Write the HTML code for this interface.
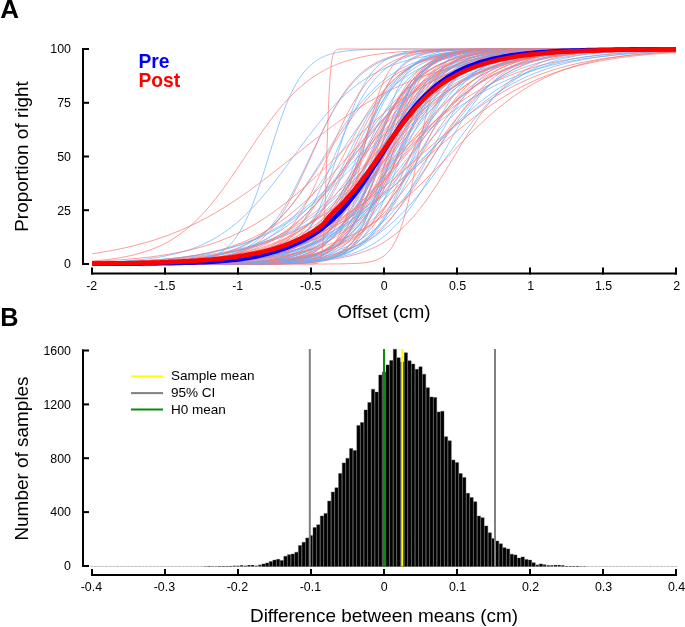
<!DOCTYPE html>
<html><head><meta charset="utf-8"><title>Figure</title>
<style>html,body{margin:0;padding:0;background:#fff;}body{width:685px;height:627px;overflow:hidden;position:relative;}</style>
</head><body>
<svg width="685" height="627" viewBox="0 0 685 627" style="position:absolute;left:0;top:0">
<rect width="685" height="627" fill="#fff"/>
<g fill="none" stroke-width="0.7" stroke-linejoin="round">
<path stroke="#6ab2fa" d="M92.0,264.0 L96.0,264.0 L100.0,264.0 L104.0,264.0 L108.0,264.0 L112.0,264.0 L116.0,264.0 L120.0,264.0 L124.0,264.0 L128.0,264.0 L132.0,263.9 L136.0,263.9 L140.0,263.9 L144.0,263.9 L148.0,263.8 L152.0,263.8 L156.0,263.8 L160.0,263.7 L164.0,263.6 L168.0,263.5 L172.0,263.4 L176.0,263.2 L180.0,263.0 L184.0,262.7 L188.0,262.3 L192.0,261.9 L196.0,261.3 L200.0,260.6 L204.0,259.7 L208.0,258.5 L212.0,257.1 L216.0,255.3 L220.0,253.0 L224.0,250.2 L228.0,246.8 L232.0,242.6 L236.0,237.5 L240.0,231.4 L244.0,224.2 L248.0,215.8 L252.0,206.2 L256.0,195.5 L260.0,183.9 L264.0,171.5 L268.0,158.6 L272.0,145.7 L276.0,133.2 L280.0,121.2 L284.0,110.2 L288.0,100.2 L292.0,91.5 L296.0,83.9 L300.0,77.4 L304.0,72.0 L308.0,67.5 L312.0,63.8 L316.0,60.8 L316.8,60.3 L317.4,59.9 L318.0,59.6 L318.5,59.2 L319.1,58.9 L319.6,58.6 L320.0,58.4 L320.2,58.3 L320.8,58.0 L321.3,57.7 L321.9,57.4 L322.5,57.2 L323.0,56.9 L323.6,56.7 L324.0,56.5 L324.1,56.4 L324.7,56.2 L325.3,55.9 L325.8,55.7 L326.4,55.5 L326.9,55.3 L327.5,55.1 L328.0,54.9 L328.1,54.9 L328.6,54.7 L329.2,54.5 L329.8,54.3 L330.3,54.2 L330.9,54.0 L331.4,53.8 L332.0,53.7 L332.0,53.7 L332.6,53.5 L333.1,53.4 L333.7,53.2 L334.2,53.1 L334.8,53.0 L335.4,52.8 L335.9,52.7 L336.0,52.7 L336.5,52.6 L337.1,52.5 L337.6,52.4 L338.2,52.2 L338.7,52.1 L340.0,51.9 L344.0,51.3 L348.0,50.8 L352.0,50.4 L356.0,50.1 L360.0,49.9 L364.0,49.7 L368.0,49.5 L372.0,49.4 L376.0,49.3 L380.0,49.3 L384.0,49.2 L388.0,49.2 L392.0,49.1 L396.0,49.1 L400.0,49.1 L404.0,49.1 L408.0,49.0 L412.0,49.0 L416.0,49.0 L420.0,49.0 L424.0,49.0 L428.0,49.0 L432.0,49.0 L436.0,49.0 L440.0,49.0 L444.0,49.0 L448.0,49.0 L452.0,49.0 L456.0,49.0 L460.0,49.0 L464.0,49.0 L468.0,49.0 L472.0,49.0 L476.0,49.0 L480.0,49.0 L484.0,49.0 L488.0,49.0 L492.0,49.0 L496.0,49.0 L500.0,49.0 L504.0,49.0 L508.0,49.0 L512.0,49.0 L516.0,49.0 L520.0,49.0 L524.0,49.0 L528.0,49.0 L532.0,49.0 L536.0,49.0 L540.0,49.0 L544.0,49.0 L548.0,49.0 L552.0,49.0 L556.0,49.0 L560.0,49.0 L564.0,49.0 L568.0,49.0 L572.0,49.0 L576.0,49.0 L580.0,49.0 L584.0,49.0 L588.0,49.0 L592.0,49.0 L596.0,49.0 L600.0,49.0 L604.0,49.0 L608.0,49.0 L612.0,49.0 L616.0,49.0 L620.0,49.0 L624.0,49.0 L628.0,49.0 L632.0,49.0 L636.0,49.0 L640.0,49.0 L644.0,49.0 L648.0,49.0 L652.0,49.0 L656.0,49.0 L660.0,49.0 L664.0,49.0 L668.0,49.0 L672.0,49.0 L676.0,49.0"/>
<path stroke="#fa7676" d="M92.0,253.8 L96.0,253.2 L100.0,252.6 L104.0,251.9 L108.0,251.2 L112.0,250.5 L116.0,249.7 L120.0,248.9 L124.0,248.0 L128.0,247.1 L132.0,246.2 L136.0,245.2 L140.0,244.1 L144.0,243.0 L148.0,241.9 L152.0,240.7 L156.0,239.4 L160.0,238.1 L164.0,236.7 L168.0,235.2 L172.0,233.7 L176.0,232.1 L180.0,230.5 L184.0,228.8 L188.0,227.0 L192.0,225.1 L196.0,223.2 L200.0,221.2 L204.0,219.1 L208.0,217.0 L212.0,214.7 L216.0,212.4 L220.0,210.1 L224.0,207.6 L228.0,205.1 L232.0,202.5 L236.0,199.9 L240.0,197.2 L244.0,194.4 L248.0,191.6 L252.0,188.7 L256.0,185.7 L260.0,182.8 L264.0,179.7 L268.0,176.7 L272.0,173.5 L276.0,170.4 L280.0,167.3 L284.0,164.1 L288.0,160.9 L292.0,157.7 L296.0,154.5 L300.0,151.3 L304.0,148.1 L308.0,144.9 L312.0,141.8 L316.0,138.6 L316.8,138.0 L317.4,137.6 L318.0,137.1 L318.5,136.7 L319.1,136.3 L319.6,135.8 L320.0,135.5 L320.2,135.4 L320.8,135.0 L321.3,134.5 L321.9,134.1 L322.5,133.7 L323.0,133.2 L323.6,132.8 L324.0,132.5 L324.1,132.4 L324.7,132.0 L325.3,131.5 L325.8,131.1 L326.4,130.7 L326.9,130.3 L327.5,129.8 L328.0,129.5 L328.1,129.4 L328.6,129.0 L329.2,128.6 L329.8,128.2 L330.3,127.7 L330.9,127.3 L331.4,126.9 L332.0,126.5 L332.0,126.5 L332.6,126.1 L333.1,125.7 L333.7,125.2 L334.2,124.8 L334.8,124.4 L335.4,124.0 L335.9,123.6 L336.0,123.6 L336.5,123.2 L337.1,122.8 L337.6,122.4 L338.2,122.0 L338.7,121.6 L340.0,120.7 L344.0,117.9 L348.0,115.1 L352.0,112.4 L356.0,109.8 L360.0,107.2 L364.0,104.7 L368.0,102.3 L372.0,100.0 L376.0,97.7 L380.0,95.5 L384.0,93.3 L388.0,91.3 L392.0,89.3 L396.0,87.4 L400.0,85.5 L404.0,83.8 L408.0,82.1 L412.0,80.4 L416.0,78.9 L420.0,77.4 L424.0,75.9 L428.0,74.6 L432.0,73.3 L436.0,72.0 L440.0,70.8 L444.0,69.7 L448.0,68.6 L452.0,67.5 L456.0,66.6 L460.0,65.6 L464.0,64.7 L468.0,63.9 L472.0,63.1 L476.0,62.3 L480.0,61.6 L484.0,60.9 L488.0,60.3 L492.0,59.6 L496.0,59.0 L500.0,58.5 L504.0,58.0 L508.0,57.5 L512.0,57.0 L516.0,56.6 L520.0,56.1 L524.0,55.7 L528.0,55.4 L532.0,55.0 L536.0,54.7 L540.0,54.3 L544.0,54.0 L548.0,53.8 L552.0,53.5 L556.0,53.2 L560.0,53.0 L564.0,52.8 L568.0,52.5 L572.0,52.3 L576.0,52.2 L580.0,52.0 L584.0,51.8 L588.0,51.6 L592.0,51.5 L596.0,51.4 L600.0,51.2 L604.0,51.1 L608.0,51.0 L612.0,50.9 L616.0,50.8 L620.0,50.7 L624.0,50.6 L628.0,50.5 L632.0,50.4 L636.0,50.3 L640.0,50.2 L644.0,50.2 L648.0,50.1 L652.0,50.0 L656.0,50.0 L660.0,49.9 L664.0,49.9 L668.0,49.8 L672.0,49.8 L676.0,49.7"/>
<path stroke="#6ab2fa" d="M92.0,262.7 L96.0,262.6 L100.0,262.4 L104.0,262.3 L108.0,262.1 L112.0,261.9 L116.0,261.6 L120.0,261.4 L124.0,261.1 L128.0,260.8 L132.0,260.5 L136.0,260.1 L140.0,259.7 L144.0,259.3 L148.0,258.8 L152.0,258.2 L156.0,257.6 L160.0,257.0 L164.0,256.2 L168.0,255.4 L172.0,254.6 L176.0,253.6 L180.0,252.6 L184.0,251.4 L188.0,250.2 L192.0,248.8 L196.0,247.3 L200.0,245.6 L204.0,243.9 L208.0,241.9 L212.0,239.8 L216.0,237.6 L220.0,235.1 L224.0,232.5 L228.0,229.7 L232.0,226.7 L236.0,223.4 L240.0,220.0 L244.0,216.3 L248.0,212.4 L252.0,208.4 L256.0,204.1 L260.0,199.6 L264.0,194.9 L268.0,190.1 L272.0,185.1 L276.0,180.0 L280.0,174.7 L284.0,169.4 L288.0,164.0 L292.0,158.5 L296.0,153.1 L300.0,147.6 L304.0,142.2 L308.0,136.9 L312.0,131.7 L316.0,126.6 L316.8,125.5 L317.4,124.8 L318.0,124.2 L318.5,123.5 L319.1,122.8 L319.6,122.1 L320.0,121.6 L320.2,121.4 L320.8,120.7 L321.3,120.0 L321.9,119.4 L322.5,118.7 L323.0,118.0 L323.6,117.3 L324.0,116.8 L324.1,116.7 L324.7,116.0 L325.3,115.4 L325.8,114.7 L326.4,114.1 L326.9,113.4 L327.5,112.8 L328.0,112.2 L328.1,112.1 L328.6,111.5 L329.2,110.9 L329.8,110.3 L330.3,109.6 L330.9,109.0 L331.4,108.4 L332.0,107.8 L332.0,107.8 L332.6,107.2 L333.1,106.6 L333.7,106.0 L334.2,105.4 L334.8,104.8 L335.4,104.2 L335.9,103.6 L336.0,103.6 L336.5,103.1 L337.1,102.5 L337.6,101.9 L338.2,101.3 L338.7,100.8 L340.0,99.5 L344.0,95.7 L348.0,92.1 L352.0,88.7 L356.0,85.5 L360.0,82.6 L364.0,79.8 L368.0,77.2 L372.0,74.8 L376.0,72.6 L380.0,70.5 L384.0,68.7 L388.0,66.9 L392.0,65.3 L396.0,63.9 L400.0,62.5 L404.0,61.3 L408.0,60.2 L412.0,59.1 L416.0,58.2 L420.0,57.3 L424.0,56.6 L428.0,55.9 L432.0,55.2 L436.0,54.6 L440.0,54.1 L444.0,53.6 L448.0,53.2 L452.0,52.8 L456.0,52.4 L460.0,52.1 L464.0,51.8 L468.0,51.5 L472.0,51.3 L476.0,51.1 L480.0,50.9 L484.0,50.7 L488.0,50.5 L492.0,50.4 L496.0,50.3 L500.0,50.1 L504.0,50.0 L508.0,49.9 L512.0,49.8 L516.0,49.8 L520.0,49.7 L524.0,49.6 L528.0,49.6 L532.0,49.5 L536.0,49.5 L540.0,49.4 L544.0,49.4 L548.0,49.3 L552.0,49.3 L556.0,49.3 L560.0,49.2 L564.0,49.2 L568.0,49.2 L572.0,49.2 L576.0,49.2 L580.0,49.1 L584.0,49.1 L588.0,49.1 L592.0,49.1 L596.0,49.1 L600.0,49.1 L604.0,49.1 L608.0,49.1 L612.0,49.1 L616.0,49.1 L620.0,49.1 L624.0,49.0 L628.0,49.0 L632.0,49.0 L636.0,49.0 L640.0,49.0 L644.0,49.0 L648.0,49.0 L652.0,49.0 L656.0,49.0 L660.0,49.0 L664.0,49.0 L668.0,49.0 L672.0,49.0 L676.0,49.0"/>
<path stroke="#fa7676" d="M92.0,261.1 L96.0,260.7 L100.0,260.4 L104.0,259.9 L108.0,259.5 L112.0,258.9 L116.0,258.4 L120.0,257.7 L124.0,257.0 L128.0,256.2 L132.0,255.3 L136.0,254.3 L140.0,253.2 L144.0,252.0 L148.0,250.7 L152.0,249.3 L156.0,247.6 L160.0,245.9 L164.0,243.9 L168.0,241.8 L172.0,239.5 L176.0,236.9 L180.0,234.2 L184.0,231.2 L188.0,227.9 L192.0,224.5 L196.0,220.7 L200.0,216.7 L204.0,212.5 L208.0,208.0 L212.0,203.2 L216.0,198.2 L220.0,193.0 L224.0,187.6 L228.0,182.0 L232.0,176.3 L236.0,170.4 L240.0,164.4 L244.0,158.5 L248.0,152.4 L252.0,146.5 L256.0,140.5 L260.0,134.7 L264.0,129.0 L268.0,123.5 L272.0,118.1 L276.0,113.0 L280.0,108.1 L284.0,103.4 L288.0,99.0 L292.0,94.8 L296.0,90.9 L300.0,87.3 L304.0,83.9 L308.0,80.8 L312.0,77.8 L316.0,75.2 L316.8,74.6 L317.4,74.3 L318.0,73.9 L318.5,73.6 L319.1,73.2 L319.6,72.9 L320.0,72.7 L320.2,72.6 L320.8,72.2 L321.3,71.9 L321.9,71.6 L322.5,71.3 L323.0,71.0 L323.6,70.7 L324.0,70.4 L324.1,70.4 L324.7,70.1 L325.3,69.8 L325.8,69.5 L326.4,69.2 L326.9,68.9 L327.5,68.6 L328.0,68.4 L328.1,68.3 L328.6,68.1 L329.2,67.8 L329.8,67.5 L330.3,67.3 L330.9,67.0 L331.4,66.7 L332.0,66.5 L332.0,66.5 L332.6,66.2 L333.1,66.0 L333.7,65.8 L334.2,65.5 L334.8,65.3 L335.4,65.0 L335.9,64.8 L336.0,64.8 L336.5,64.6 L337.1,64.4 L337.6,64.1 L338.2,63.9 L338.7,63.7 L340.0,63.2 L344.0,61.8 L348.0,60.5 L352.0,59.4 L356.0,58.3 L360.0,57.4 L364.0,56.5 L368.0,55.7 L372.0,55.0 L376.0,54.4 L380.0,53.9 L384.0,53.4 L388.0,52.9 L392.0,52.5 L396.0,52.1 L400.0,51.8 L404.0,51.5 L408.0,51.3 L412.0,51.0 L416.0,50.8 L420.0,50.6 L424.0,50.4 L428.0,50.3 L432.0,50.2 L436.0,50.0 L440.0,49.9 L444.0,49.8 L448.0,49.7 L452.0,49.7 L456.0,49.6 L460.0,49.5 L464.0,49.5 L468.0,49.4 L472.0,49.4 L476.0,49.3 L480.0,49.3 L484.0,49.3 L488.0,49.2 L492.0,49.2 L496.0,49.2 L500.0,49.2 L504.0,49.2 L508.0,49.1 L512.0,49.1 L516.0,49.1 L520.0,49.1 L524.0,49.1 L528.0,49.1 L532.0,49.1 L536.0,49.1 L540.0,49.1 L544.0,49.1 L548.0,49.0 L552.0,49.0 L556.0,49.0 L560.0,49.0 L564.0,49.0 L568.0,49.0 L572.0,49.0 L576.0,49.0 L580.0,49.0 L584.0,49.0 L588.0,49.0 L592.0,49.0 L596.0,49.0 L600.0,49.0 L604.0,49.0 L608.0,49.0 L612.0,49.0 L616.0,49.0 L620.0,49.0 L624.0,49.0 L628.0,49.0 L632.0,49.0 L636.0,49.0 L640.0,49.0 L644.0,49.0 L648.0,49.0 L652.0,49.0 L656.0,49.0 L660.0,49.0 L664.0,49.0 L668.0,49.0 L672.0,49.0 L676.0,49.0"/>
<path stroke="#6ab2fa" d="M92.0,264.0 L96.0,264.0 L100.0,263.9 L104.0,263.9 L108.0,263.9 L112.0,263.9 L116.0,263.9 L120.0,263.9 L124.0,263.9 L128.0,263.8 L132.0,263.8 L136.0,263.8 L140.0,263.7 L144.0,263.7 L148.0,263.6 L152.0,263.6 L156.0,263.5 L160.0,263.4 L164.0,263.3 L168.0,263.2 L172.0,263.1 L176.0,262.9 L180.0,262.7 L184.0,262.5 L188.0,262.3 L192.0,262.0 L196.0,261.6 L200.0,261.2 L204.0,260.8 L208.0,260.2 L212.0,259.6 L216.0,258.9 L220.0,258.0 L224.0,257.0 L228.0,255.9 L232.0,254.6 L236.0,253.0 L240.0,251.3 L244.0,249.3 L248.0,246.9 L252.0,244.3 L256.0,241.3 L260.0,237.9 L264.0,234.1 L268.0,229.8 L272.0,225.0 L276.0,219.7 L280.0,213.9 L284.0,207.6 L288.0,200.8 L292.0,193.6 L296.0,185.9 L300.0,177.9 L304.0,169.7 L308.0,161.3 L312.0,152.8 L316.0,144.4 L316.8,142.7 L317.4,141.5 L318.0,140.3 L318.5,139.2 L319.1,138.0 L319.6,136.9 L320.0,136.2 L320.2,135.7 L320.8,134.6 L321.3,133.5 L321.9,132.3 L322.5,131.2 L323.0,130.1 L323.6,129.0 L324.0,128.1 L324.1,127.9 L324.7,126.8 L325.3,125.7 L325.8,124.6 L326.4,123.5 L326.9,122.4 L327.5,121.4 L328.0,120.4 L328.1,120.3 L328.6,119.3 L329.2,118.2 L329.8,117.2 L330.3,116.2 L330.9,115.1 L331.4,114.1 L332.0,113.1 L332.0,113.1 L332.6,112.1 L333.1,111.2 L333.7,110.2 L334.2,109.2 L334.8,108.3 L335.4,107.3 L335.9,106.4 L336.0,106.3 L336.5,105.5 L337.1,104.6 L337.6,103.6 L338.2,102.8 L338.7,101.9 L340.0,99.9 L344.0,94.0 L348.0,88.7 L352.0,83.9 L356.0,79.5 L360.0,75.6 L364.0,72.1 L368.0,69.1 L372.0,66.4 L376.0,64.0 L380.0,62.0 L384.0,60.2 L388.0,58.6 L392.0,57.3 L396.0,56.1 L400.0,55.1 L404.0,54.2 L408.0,53.5 L412.0,52.9 L416.0,52.3 L420.0,51.8 L424.0,51.4 L428.0,51.1 L432.0,50.8 L436.0,50.5 L440.0,50.3 L444.0,50.1 L448.0,49.9 L452.0,49.8 L456.0,49.7 L460.0,49.6 L464.0,49.5 L468.0,49.4 L472.0,49.4 L476.0,49.3 L480.0,49.3 L484.0,49.2 L488.0,49.2 L492.0,49.2 L496.0,49.1 L500.0,49.1 L504.0,49.1 L508.0,49.1 L512.0,49.1 L516.0,49.1 L520.0,49.1 L524.0,49.0 L528.0,49.0 L532.0,49.0 L536.0,49.0 L540.0,49.0 L544.0,49.0 L548.0,49.0 L552.0,49.0 L556.0,49.0 L560.0,49.0 L564.0,49.0 L568.0,49.0 L572.0,49.0 L576.0,49.0 L580.0,49.0 L584.0,49.0 L588.0,49.0 L592.0,49.0 L596.0,49.0 L600.0,49.0 L604.0,49.0 L608.0,49.0 L612.0,49.0 L616.0,49.0 L620.0,49.0 L624.0,49.0 L628.0,49.0 L632.0,49.0 L636.0,49.0 L640.0,49.0 L644.0,49.0 L648.0,49.0 L652.0,49.0 L656.0,49.0 L660.0,49.0 L664.0,49.0 L668.0,49.0 L672.0,49.0 L676.0,49.0"/>
<path stroke="#fa7676" d="M92.0,264.0 L96.0,264.0 L100.0,264.0 L104.0,264.0 L108.0,264.0 L112.0,263.9 L116.0,263.9 L120.0,263.9 L124.0,263.9 L128.0,263.9 L132.0,263.9 L136.0,263.8 L140.0,263.8 L144.0,263.8 L148.0,263.7 L152.0,263.7 L156.0,263.6 L160.0,263.6 L164.0,263.5 L168.0,263.4 L172.0,263.3 L176.0,263.2 L180.0,263.0 L184.0,262.9 L188.0,262.7 L192.0,262.4 L196.0,262.1 L200.0,261.8 L204.0,261.4 L208.0,261.0 L212.0,260.4 L216.0,259.8 L220.0,259.1 L224.0,258.2 L228.0,257.2 L232.0,256.0 L236.0,254.7 L240.0,253.1 L244.0,251.3 L248.0,249.1 L252.0,246.7 L256.0,243.9 L260.0,240.6 L264.0,237.0 L268.0,232.8 L272.0,228.2 L276.0,223.0 L280.0,217.2 L284.0,210.9 L288.0,204.0 L292.0,196.6 L296.0,188.7 L300.0,180.5 L304.0,171.9 L308.0,163.1 L312.0,154.3 L316.0,145.5 L316.8,143.6 L317.4,142.4 L318.0,141.2 L318.5,139.9 L319.1,138.7 L319.6,137.5 L320.0,136.8 L320.2,136.3 L320.8,135.1 L321.3,133.9 L321.9,132.7 L322.5,131.6 L323.0,130.4 L323.6,129.2 L324.0,128.3 L324.1,128.1 L324.7,126.9 L325.3,125.8 L325.8,124.6 L326.4,123.5 L326.9,122.4 L327.5,121.2 L328.0,120.3 L328.1,120.1 L328.6,119.0 L329.2,117.9 L329.8,116.9 L330.3,115.8 L330.9,114.7 L331.4,113.7 L332.0,112.6 L332.0,112.6 L332.6,111.6 L333.1,110.6 L333.7,109.6 L334.2,108.6 L334.8,107.6 L335.4,106.6 L335.9,105.6 L336.0,105.5 L336.5,104.7 L337.1,103.7 L337.6,102.8 L338.2,101.8 L338.7,100.9 L340.0,98.9 L344.0,92.9 L348.0,87.4 L352.0,82.4 L356.0,78.0 L360.0,74.1 L364.0,70.7 L368.0,67.7 L372.0,65.1 L376.0,62.8 L380.0,60.8 L384.0,59.1 L388.0,57.6 L392.0,56.3 L396.0,55.3 L400.0,54.3 L404.0,53.5 L408.0,52.9 L412.0,52.3 L416.0,51.8 L420.0,51.4 L424.0,51.0 L428.0,50.7 L432.0,50.4 L436.0,50.2 L440.0,50.0 L444.0,49.9 L448.0,49.8 L452.0,49.6 L456.0,49.5 L460.0,49.5 L464.0,49.4 L468.0,49.3 L472.0,49.3 L476.0,49.2 L480.0,49.2 L484.0,49.2 L488.0,49.1 L492.0,49.1 L496.0,49.1 L500.0,49.1 L504.0,49.1 L508.0,49.1 L512.0,49.1 L516.0,49.0 L520.0,49.0 L524.0,49.0 L528.0,49.0 L532.0,49.0 L536.0,49.0 L540.0,49.0 L544.0,49.0 L548.0,49.0 L552.0,49.0 L556.0,49.0 L560.0,49.0 L564.0,49.0 L568.0,49.0 L572.0,49.0 L576.0,49.0 L580.0,49.0 L584.0,49.0 L588.0,49.0 L592.0,49.0 L596.0,49.0 L600.0,49.0 L604.0,49.0 L608.0,49.0 L612.0,49.0 L616.0,49.0 L620.0,49.0 L624.0,49.0 L628.0,49.0 L632.0,49.0 L636.0,49.0 L640.0,49.0 L644.0,49.0 L648.0,49.0 L652.0,49.0 L656.0,49.0 L660.0,49.0 L664.0,49.0 L668.0,49.0 L672.0,49.0 L676.0,49.0"/>
<path stroke="#6ab2fa" d="M92.0,263.8 L96.0,263.8 L100.0,263.7 L104.0,263.7 L108.0,263.7 L112.0,263.6 L116.0,263.6 L120.0,263.5 L124.0,263.4 L128.0,263.4 L132.0,263.3 L136.0,263.2 L140.0,263.1 L144.0,263.0 L148.0,262.9 L152.0,262.7 L156.0,262.6 L160.0,262.4 L164.0,262.2 L168.0,262.0 L172.0,261.7 L176.0,261.4 L180.0,261.1 L184.0,260.7 L188.0,260.3 L192.0,259.9 L196.0,259.4 L200.0,258.8 L204.0,258.2 L208.0,257.4 L212.0,256.6 L216.0,255.7 L220.0,254.7 L224.0,253.6 L228.0,252.4 L232.0,251.0 L236.0,249.5 L240.0,247.8 L244.0,245.9 L248.0,243.8 L252.0,241.5 L256.0,239.0 L260.0,236.3 L264.0,233.3 L268.0,230.0 L272.0,226.4 L276.0,222.6 L280.0,218.5 L284.0,214.1 L288.0,209.3 L292.0,204.3 L296.0,199.1 L300.0,193.6 L304.0,187.8 L308.0,181.8 L312.0,175.7 L316.0,169.5 L316.8,168.1 L317.4,167.2 L318.0,166.4 L318.5,165.5 L319.1,164.6 L319.6,163.7 L320.0,163.1 L320.2,162.8 L320.8,161.9 L321.3,161.0 L321.9,160.1 L322.5,159.2 L323.0,158.3 L323.6,157.4 L324.0,156.7 L324.1,156.5 L324.7,155.6 L325.3,154.7 L325.8,153.8 L326.4,152.9 L326.9,152.0 L327.5,151.1 L328.0,150.3 L328.1,150.2 L328.6,149.3 L329.2,148.4 L329.8,147.5 L330.3,146.6 L330.9,145.8 L331.4,144.9 L332.0,144.0 L332.0,144.0 L332.6,143.1 L333.1,142.2 L333.7,141.3 L334.2,140.4 L334.8,139.6 L335.4,138.7 L335.9,137.8 L336.0,137.7 L336.5,136.9 L337.1,136.1 L337.6,135.2 L338.2,134.4 L338.7,133.5 L340.0,131.6 L344.0,125.6 L348.0,119.8 L352.0,114.3 L356.0,109.0 L360.0,104.0 L364.0,99.3 L368.0,94.8 L372.0,90.7 L376.0,86.8 L380.0,83.2 L384.0,80.0 L388.0,76.9 L392.0,74.2 L396.0,71.6 L400.0,69.3 L404.0,67.2 L408.0,65.3 L412.0,63.6 L416.0,62.1 L420.0,60.7 L424.0,59.5 L428.0,58.3 L432.0,57.3 L436.0,56.4 L440.0,55.6 L444.0,54.9 L448.0,54.2 L452.0,53.7 L456.0,53.2 L460.0,52.7 L464.0,52.3 L468.0,51.9 L472.0,51.6 L476.0,51.3 L480.0,51.1 L484.0,50.8 L488.0,50.6 L492.0,50.4 L496.0,50.3 L500.0,50.1 L504.0,50.0 L508.0,49.9 L512.0,49.8 L516.0,49.7 L520.0,49.6 L524.0,49.6 L528.0,49.5 L532.0,49.4 L536.0,49.4 L540.0,49.3 L544.0,49.3 L548.0,49.3 L552.0,49.2 L556.0,49.2 L560.0,49.2 L564.0,49.2 L568.0,49.2 L572.0,49.1 L576.0,49.1 L580.0,49.1 L584.0,49.1 L588.0,49.1 L592.0,49.1 L596.0,49.1 L600.0,49.1 L604.0,49.1 L608.0,49.0 L612.0,49.0 L616.0,49.0 L620.0,49.0 L624.0,49.0 L628.0,49.0 L632.0,49.0 L636.0,49.0 L640.0,49.0 L644.0,49.0 L648.0,49.0 L652.0,49.0 L656.0,49.0 L660.0,49.0 L664.0,49.0 L668.0,49.0 L672.0,49.0 L676.0,49.0"/>
<path stroke="#fa7676" d="M92.0,264.0 L96.0,264.0 L100.0,264.0 L104.0,264.0 L108.0,264.0 L112.0,264.0 L116.0,264.0 L120.0,264.0 L124.0,264.0 L128.0,264.0 L132.0,264.0 L136.0,264.0 L140.0,264.0 L144.0,264.0 L148.0,264.0 L152.0,264.0 L156.0,264.0 L160.0,264.0 L164.0,264.0 L168.0,264.0 L172.0,264.0 L176.0,264.0 L180.0,264.0 L184.0,264.0 L188.0,263.9 L192.0,263.9 L196.0,263.9 L200.0,263.9 L204.0,263.9 L208.0,263.9 L212.0,263.9 L216.0,263.9 L220.0,263.9 L224.0,263.8 L228.0,263.8 L232.0,263.8 L236.0,263.8 L240.0,263.7 L244.0,263.7 L248.0,263.6 L252.0,263.6 L256.0,263.5 L260.0,263.5 L264.0,263.4 L268.0,263.3 L272.0,263.3 L276.0,263.2 L280.0,263.1 L284.0,262.9 L288.0,262.8 L292.0,262.6 L296.0,262.4 L300.0,262.2 L304.0,262.0 L308.0,261.7 L312.0,261.5 L316.0,261.1 L316.8,261.0 L317.4,261.0 L318.0,260.9 L318.5,260.9 L319.1,260.8 L319.6,260.8 L320.0,260.7 L320.2,260.7 L320.8,260.7 L321.3,260.6 L321.9,260.5 L322.5,260.5 L323.0,260.4 L323.6,260.4 L324.0,260.3 L324.1,260.3 L324.7,260.2 L325.3,260.2 L325.8,260.1 L326.4,260.0 L326.9,260.0 L327.5,259.9 L328.0,259.8 L328.1,259.8 L328.6,259.8 L329.2,259.7 L329.8,259.6 L330.3,259.5 L330.9,259.5 L331.4,259.4 L332.0,259.3 L332.0,259.3 L332.6,259.2 L333.1,259.1 L333.7,259.1 L334.2,259.0 L334.8,258.9 L335.4,258.8 L335.9,258.7 L336.0,258.7 L336.5,258.6 L337.1,258.5 L337.6,258.4 L338.2,258.3 L338.7,258.2 L340.0,258.0 L344.0,257.2 L348.0,256.4 L352.0,255.4 L356.0,254.3 L360.0,253.1 L364.0,251.7 L368.0,250.2 L372.0,248.5 L376.0,246.6 L380.0,244.5 L384.0,242.2 L388.0,239.6 L392.0,236.8 L396.0,233.7 L400.0,230.3 L404.0,226.6 L408.0,222.6 L412.0,218.3 L416.0,213.7 L420.0,208.7 L424.0,203.5 L428.0,197.9 L432.0,192.1 L436.0,186.0 L440.0,179.7 L444.0,173.2 L448.0,166.6 L452.0,160.0 L456.0,153.3 L460.0,146.6 L464.0,140.0 L468.0,133.6 L472.0,127.3 L476.0,121.2 L480.0,115.3 L484.0,109.8 L488.0,104.5 L492.0,99.5 L496.0,94.9 L500.0,90.5 L504.0,86.5 L508.0,82.8 L512.0,79.4 L516.0,76.3 L520.0,73.5 L524.0,70.9 L528.0,68.6 L532.0,66.5 L536.0,64.6 L540.0,62.9 L544.0,61.3 L548.0,60.0 L552.0,58.7 L556.0,57.6 L560.0,56.7 L564.0,55.8 L568.0,55.0 L572.0,54.3 L576.0,53.7 L580.0,53.2 L584.0,52.7 L588.0,52.3 L592.0,51.9 L596.0,51.6 L600.0,51.3 L604.0,51.0 L608.0,50.8 L612.0,50.6 L616.0,50.4 L620.0,50.2 L624.0,50.1 L628.0,50.0 L632.0,49.8 L636.0,49.7 L640.0,49.7 L644.0,49.6 L648.0,49.5 L652.0,49.5 L656.0,49.4 L660.0,49.4 L664.0,49.3 L668.0,49.3 L672.0,49.2 L676.0,49.2"/>
<path stroke="#6ab2fa" d="M92.0,262.8 L96.0,262.7 L100.0,262.6 L104.0,262.5 L108.0,262.4 L112.0,262.3 L116.0,262.1 L120.0,262.0 L124.0,261.8 L128.0,261.6 L132.0,261.4 L136.0,261.2 L140.0,261.0 L144.0,260.8 L148.0,260.5 L152.0,260.2 L156.0,259.9 L160.0,259.6 L164.0,259.3 L168.0,258.9 L172.0,258.5 L176.0,258.1 L180.0,257.6 L184.0,257.1 L188.0,256.5 L192.0,256.0 L196.0,255.3 L200.0,254.7 L204.0,253.9 L208.0,253.2 L212.0,252.3 L216.0,251.4 L220.0,250.5 L224.0,249.5 L228.0,248.4 L232.0,247.2 L236.0,245.9 L240.0,244.6 L244.0,243.2 L248.0,241.7 L252.0,240.1 L256.0,238.4 L260.0,236.5 L264.0,234.6 L268.0,232.6 L272.0,230.4 L276.0,228.2 L280.0,225.8 L284.0,223.2 L288.0,220.6 L292.0,217.8 L296.0,214.9 L300.0,211.9 L304.0,208.8 L308.0,205.5 L312.0,202.1 L316.0,198.6 L316.8,197.9 L317.4,197.4 L318.0,196.9 L318.5,196.4 L319.1,195.9 L319.6,195.4 L320.0,195.0 L320.2,194.8 L320.8,194.3 L321.3,193.8 L321.9,193.3 L322.5,192.8 L323.0,192.3 L323.6,191.7 L324.0,191.3 L324.1,191.2 L324.7,190.7 L325.3,190.1 L325.8,189.6 L326.4,189.1 L326.9,188.5 L327.5,188.0 L328.0,187.5 L328.1,187.5 L328.6,186.9 L329.2,186.4 L329.8,185.8 L330.3,185.3 L330.9,184.7 L331.4,184.2 L332.0,183.6 L332.0,183.6 L332.6,183.1 L333.1,182.5 L333.7,182.0 L334.2,181.4 L334.8,180.9 L335.4,180.3 L335.9,179.7 L336.0,179.7 L336.5,179.2 L337.1,178.6 L337.6,178.1 L338.2,177.5 L338.7,176.9 L340.0,175.6 L344.0,171.6 L348.0,167.4 L352.0,163.3 L356.0,159.1 L360.0,154.9 L364.0,150.7 L368.0,146.5 L372.0,142.4 L376.0,138.3 L380.0,134.2 L384.0,130.2 L388.0,126.3 L392.0,122.5 L396.0,118.8 L400.0,115.2 L404.0,111.6 L408.0,108.2 L412.0,104.9 L416.0,101.8 L420.0,98.7 L424.0,95.8 L428.0,93.0 L432.0,90.3 L436.0,87.8 L440.0,85.4 L444.0,83.1 L448.0,80.9 L452.0,78.8 L456.0,76.9 L460.0,75.0 L464.0,73.3 L468.0,71.7 L472.0,70.1 L476.0,68.7 L480.0,67.3 L484.0,66.1 L488.0,64.9 L492.0,63.8 L496.0,62.7 L500.0,61.8 L504.0,60.9 L508.0,60.0 L512.0,59.2 L516.0,58.5 L520.0,57.8 L524.0,57.2 L528.0,56.6 L532.0,56.0 L536.0,55.5 L540.0,55.0 L544.0,54.6 L548.0,54.2 L552.0,53.8 L556.0,53.5 L560.0,53.1 L564.0,52.8 L568.0,52.5 L572.0,52.3 L576.0,52.0 L580.0,51.8 L584.0,51.6 L588.0,51.4 L592.0,51.2 L596.0,51.1 L600.0,50.9 L604.0,50.8 L608.0,50.6 L612.0,50.5 L616.0,50.4 L620.0,50.3 L624.0,50.2 L628.0,50.1 L632.0,50.0 L636.0,50.0 L640.0,49.9 L644.0,49.8 L648.0,49.8 L652.0,49.7 L656.0,49.6 L660.0,49.6 L664.0,49.6 L668.0,49.5 L672.0,49.5 L676.0,49.4"/>
<path stroke="#fa7676" d="M92.0,264.0 L96.0,264.0 L100.0,264.0 L104.0,264.0 L108.0,264.0 L112.0,264.0 L116.0,264.0 L120.0,264.0 L124.0,264.0 L128.0,264.0 L132.0,264.0 L136.0,264.0 L140.0,264.0 L144.0,264.0 L148.0,264.0 L152.0,264.0 L156.0,264.0 L160.0,264.0 L164.0,264.0 L168.0,264.0 L172.0,264.0 L176.0,264.0 L180.0,264.0 L184.0,264.0 L188.0,264.0 L192.0,264.0 L196.0,264.0 L200.0,264.0 L204.0,264.0 L208.0,264.0 L212.0,264.0 L216.0,264.0 L220.0,264.0 L224.0,264.0 L228.0,264.0 L232.0,264.0 L236.0,264.0 L240.0,264.0 L244.0,264.0 L248.0,264.0 L252.0,264.0 L256.0,264.0 L260.0,264.0 L264.0,264.0 L268.0,264.0 L272.0,264.0 L276.0,264.0 L280.0,264.0 L284.0,264.0 L288.0,264.0 L292.0,264.0 L296.0,264.0 L300.0,264.0 L304.0,264.0 L308.0,264.0 L312.0,264.0 L316.0,264.0 L316.8,264.0 L317.4,264.0 L318.0,264.0 L318.5,264.0 L319.1,264.0 L319.6,264.0 L320.0,264.0 L320.2,264.0 L320.8,264.0 L321.3,264.0 L321.9,264.0 L322.5,264.0 L323.0,264.0 L323.6,264.0 L324.0,264.0 L324.1,264.0 L324.7,264.0 L325.3,264.0 L325.8,264.0 L326.4,264.0 L326.9,264.0 L327.5,264.0 L328.0,264.0 L328.1,264.0 L328.6,264.0 L329.2,264.0 L329.8,264.0 L330.3,264.0 L330.9,263.9 L331.4,263.9 L332.0,263.9 L332.0,263.9 L332.6,263.9 L333.1,263.9 L333.7,263.9 L334.2,263.9 L334.8,263.9 L335.4,263.9 L335.9,263.9 L336.0,263.9 L336.5,263.9 L337.1,263.9 L337.6,263.9 L338.2,263.9 L338.7,263.9 L340.0,263.9 L344.0,263.8 L348.0,263.7 L352.0,263.6 L356.0,263.4 L360.0,263.2 L364.0,262.8 L368.0,262.2 L372.0,261.4 L376.0,260.2 L380.0,258.4 L384.0,255.9 L388.0,252.3 L392.0,247.2 L396.0,240.2 L400.0,230.7 L404.0,218.3 L408.0,202.9 L412.0,184.8 L416.0,164.7 L420.0,144.0 L424.0,124.2 L428.0,106.6 L432.0,91.8 L436.0,80.1 L440.0,71.2 L444.0,64.6 L448.0,59.9 L452.0,56.5 L456.0,54.2 L460.0,52.5 L464.0,51.4 L468.0,50.6 L472.0,50.1 L476.0,49.8 L480.0,49.5 L484.0,49.4 L488.0,49.2 L492.0,49.2 L496.0,49.1 L500.0,49.1 L504.0,49.1 L508.0,49.0 L512.0,49.0 L516.0,49.0 L520.0,49.0 L524.0,49.0 L528.0,49.0 L532.0,49.0 L536.0,49.0 L540.0,49.0 L544.0,49.0 L548.0,49.0 L552.0,49.0 L556.0,49.0 L560.0,49.0 L564.0,49.0 L568.0,49.0 L572.0,49.0 L576.0,49.0 L580.0,49.0 L584.0,49.0 L588.0,49.0 L592.0,49.0 L596.0,49.0 L600.0,49.0 L604.0,49.0 L608.0,49.0 L612.0,49.0 L616.0,49.0 L620.0,49.0 L624.0,49.0 L628.0,49.0 L632.0,49.0 L636.0,49.0 L640.0,49.0 L644.0,49.0 L648.0,49.0 L652.0,49.0 L656.0,49.0 L660.0,49.0 L664.0,49.0 L668.0,49.0 L672.0,49.0 L676.0,49.0"/>
<path stroke="#6ab2fa" d="M92.0,262.8 L96.0,262.7 L100.0,262.6 L104.0,262.4 L108.0,262.3 L112.0,262.2 L116.0,262.1 L120.0,261.9 L124.0,261.7 L128.0,261.6 L132.0,261.4 L136.0,261.2 L140.0,260.9 L144.0,260.7 L148.0,260.5 L152.0,260.2 L156.0,259.9 L160.0,259.6 L164.0,259.2 L168.0,258.8 L172.0,258.5 L176.0,258.0 L180.0,257.6 L184.0,257.1 L188.0,256.5 L192.0,256.0 L196.0,255.4 L200.0,254.7 L204.0,254.0 L208.0,253.3 L212.0,252.5 L216.0,251.6 L220.0,250.7 L224.0,249.7 L228.0,248.6 L232.0,247.5 L236.0,246.3 L240.0,245.1 L244.0,243.7 L248.0,242.3 L252.0,240.7 L256.0,239.1 L260.0,237.4 L264.0,235.5 L268.0,233.6 L272.0,231.6 L276.0,229.4 L280.0,227.2 L284.0,224.8 L288.0,222.3 L292.0,219.7 L296.0,216.9 L300.0,214.1 L304.0,211.1 L308.0,208.0 L312.0,204.8 L316.0,201.5 L316.8,200.7 L317.4,200.3 L318.0,199.8 L318.5,199.3 L319.1,198.8 L319.6,198.3 L320.0,198.0 L320.2,197.8 L320.8,197.4 L321.3,196.9 L321.9,196.4 L322.5,195.9 L323.0,195.4 L323.6,194.9 L324.0,194.5 L324.1,194.4 L324.7,193.9 L325.3,193.4 L325.8,192.9 L326.4,192.3 L326.9,191.8 L327.5,191.3 L328.0,190.9 L328.1,190.8 L328.6,190.3 L329.2,189.8 L329.8,189.2 L330.3,188.7 L330.9,188.2 L331.4,187.7 L332.0,187.2 L332.0,187.2 L332.6,186.6 L333.1,186.1 L333.7,185.6 L334.2,185.0 L334.8,184.5 L335.4,184.0 L335.9,183.4 L336.0,183.4 L336.5,182.9 L337.1,182.3 L337.6,181.8 L338.2,181.3 L338.7,180.7 L340.0,179.5 L344.0,175.6 L348.0,171.6 L352.0,167.5 L356.0,163.5 L360.0,159.4 L364.0,155.3 L368.0,151.2 L372.0,147.1 L376.0,143.1 L380.0,139.1 L384.0,135.1 L388.0,131.2 L392.0,127.4 L396.0,123.7 L400.0,120.0 L404.0,116.4 L408.0,113.0 L412.0,109.6 L416.0,106.3 L420.0,103.2 L424.0,100.2 L428.0,97.3 L432.0,94.5 L436.0,91.8 L440.0,89.3 L444.0,86.8 L448.0,84.5 L452.0,82.3 L456.0,80.2 L460.0,78.2 L464.0,76.4 L468.0,74.6 L472.0,72.9 L476.0,71.4 L480.0,69.9 L484.0,68.5 L488.0,67.2 L492.0,66.0 L496.0,64.8 L500.0,63.7 L504.0,62.7 L508.0,61.8 L512.0,60.9 L516.0,60.1 L520.0,59.3 L524.0,58.6 L528.0,57.9 L532.0,57.3 L536.0,56.7 L540.0,56.1 L544.0,55.6 L548.0,55.2 L552.0,54.7 L556.0,54.3 L560.0,53.9 L564.0,53.6 L568.0,53.3 L572.0,52.9 L576.0,52.7 L580.0,52.4 L584.0,52.2 L588.0,51.9 L592.0,51.7 L596.0,51.5 L600.0,51.3 L604.0,51.2 L608.0,51.0 L612.0,50.9 L616.0,50.7 L620.0,50.6 L624.0,50.5 L628.0,50.4 L632.0,50.3 L636.0,50.2 L640.0,50.1 L644.0,50.0 L648.0,49.9 L652.0,49.9 L656.0,49.8 L660.0,49.8 L664.0,49.7 L668.0,49.6 L672.0,49.6 L676.0,49.6"/>
<path stroke="#fa7676" d="M92.0,263.1 L96.0,263.1 L100.0,263.0 L104.0,263.0 L108.0,262.9 L112.0,262.8 L116.0,262.7 L120.0,262.7 L124.0,262.6 L128.0,262.5 L132.0,262.4 L136.0,262.3 L140.0,262.1 L144.0,262.0 L148.0,261.9 L152.0,261.7 L156.0,261.6 L160.0,261.4 L164.0,261.2 L168.0,261.1 L172.0,260.9 L176.0,260.6 L180.0,260.4 L184.0,260.2 L188.0,259.9 L192.0,259.7 L196.0,259.4 L200.0,259.1 L204.0,258.7 L208.0,258.4 L212.0,258.0 L216.0,257.6 L220.0,257.2 L224.0,256.8 L228.0,256.3 L232.0,255.8 L236.0,255.2 L240.0,254.7 L244.0,254.1 L248.0,253.4 L252.0,252.7 L256.0,252.0 L260.0,251.2 L264.0,250.4 L268.0,249.6 L272.0,248.6 L276.0,247.7 L280.0,246.7 L284.0,245.6 L288.0,244.4 L292.0,243.2 L296.0,242.0 L300.0,240.6 L304.0,239.2 L308.0,237.7 L312.0,236.2 L316.0,234.6 L316.8,234.2 L317.4,234.0 L318.0,233.7 L318.5,233.5 L319.1,233.2 L319.6,233.0 L320.0,232.8 L320.2,232.7 L320.8,232.5 L321.3,232.2 L321.9,232.0 L322.5,231.7 L323.0,231.5 L323.6,231.2 L324.0,231.0 L324.1,231.0 L324.7,230.7 L325.3,230.5 L325.8,230.2 L326.4,229.9 L326.9,229.7 L327.5,229.4 L328.0,229.2 L328.1,229.1 L328.6,228.9 L329.2,228.6 L329.8,228.3 L330.3,228.0 L330.9,227.8 L331.4,227.5 L332.0,227.2 L332.0,227.2 L332.6,226.9 L333.1,226.6 L333.7,226.3 L334.2,226.1 L334.8,225.8 L335.4,225.5 L335.9,225.2 L336.0,225.1 L336.5,224.9 L337.1,224.6 L337.6,224.3 L338.2,224.0 L338.7,223.7 L340.0,223.0 L344.0,220.8 L348.0,218.5 L352.0,216.0 L356.0,213.5 L360.0,211.0 L364.0,208.3 L368.0,205.5 L372.0,202.7 L376.0,199.8 L380.0,196.7 L384.0,193.7 L388.0,190.5 L392.0,187.3 L396.0,184.0 L400.0,180.7 L404.0,177.3 L408.0,173.9 L412.0,170.4 L416.0,166.9 L420.0,163.4 L424.0,159.9 L428.0,156.3 L432.0,152.8 L436.0,149.3 L440.0,145.7 L444.0,142.2 L448.0,138.8 L452.0,135.4 L456.0,132.0 L460.0,128.7 L464.0,125.4 L468.0,122.2 L472.0,119.0 L476.0,116.0 L480.0,113.0 L484.0,110.0 L488.0,107.2 L492.0,104.4 L496.0,101.8 L500.0,99.2 L504.0,96.7 L508.0,94.3 L512.0,92.0 L516.0,89.8 L520.0,87.6 L524.0,85.6 L528.0,83.6 L532.0,81.8 L536.0,80.0 L540.0,78.3 L544.0,76.7 L548.0,75.1 L552.0,73.6 L556.0,72.2 L560.0,70.9 L564.0,69.6 L568.0,68.4 L572.0,67.3 L576.0,66.2 L580.0,65.2 L584.0,64.3 L588.0,63.4 L592.0,62.5 L596.0,61.7 L600.0,60.9 L604.0,60.2 L608.0,59.5 L612.0,58.9 L616.0,58.3 L620.0,57.7 L624.0,57.2 L628.0,56.7 L632.0,56.2 L636.0,55.8 L640.0,55.3 L644.0,54.9 L648.0,54.6 L652.0,54.2 L656.0,53.9 L660.0,53.6 L664.0,53.3 L668.0,53.0 L672.0,52.8 L676.0,52.6"/>
<path stroke="#6ab2fa" d="M92.0,262.5 L96.0,262.4 L100.0,262.3 L104.0,262.2 L108.0,262.1 L112.0,262.0 L116.0,261.9 L120.0,261.7 L124.0,261.6 L128.0,261.4 L132.0,261.2 L136.0,261.0 L140.0,260.8 L144.0,260.6 L148.0,260.4 L152.0,260.2 L156.0,259.9 L160.0,259.6 L164.0,259.4 L168.0,259.1 L172.0,258.7 L176.0,258.4 L180.0,258.0 L184.0,257.6 L188.0,257.2 L192.0,256.8 L196.0,256.3 L200.0,255.8 L204.0,255.3 L208.0,254.7 L212.0,254.1 L216.0,253.5 L220.0,252.8 L224.0,252.1 L228.0,251.3 L232.0,250.5 L236.0,249.7 L240.0,248.8 L244.0,247.8 L248.0,246.8 L252.0,245.8 L256.0,244.6 L260.0,243.5 L264.0,242.2 L268.0,240.9 L272.0,239.5 L276.0,238.1 L280.0,236.6 L284.0,235.0 L288.0,233.3 L292.0,231.5 L296.0,229.7 L300.0,227.8 L304.0,225.8 L308.0,223.7 L312.0,221.5 L316.0,219.2 L316.8,218.7 L317.4,218.4 L318.0,218.1 L318.5,217.7 L319.1,217.4 L319.6,217.1 L320.0,216.9 L320.2,216.7 L320.8,216.4 L321.3,216.1 L321.9,215.7 L322.5,215.4 L323.0,215.0 L323.6,214.7 L324.0,214.4 L324.1,214.3 L324.7,214.0 L325.3,213.6 L325.8,213.3 L326.4,212.9 L326.9,212.6 L327.5,212.2 L328.0,211.9 L328.1,211.8 L328.6,211.5 L329.2,211.1 L329.8,210.7 L330.3,210.4 L330.9,210.0 L331.4,209.6 L332.0,209.3 L332.0,209.3 L332.6,208.9 L333.1,208.5 L333.7,208.1 L334.2,207.8 L334.8,207.4 L335.4,207.0 L335.9,206.6 L336.0,206.6 L336.5,206.2 L337.1,205.8 L337.6,205.4 L338.2,205.0 L338.7,204.7 L340.0,203.8 L344.0,200.9 L348.0,198.0 L352.0,194.9 L356.0,191.8 L360.0,188.7 L364.0,185.5 L368.0,182.2 L372.0,178.8 L376.0,175.5 L380.0,172.1 L384.0,168.6 L388.0,165.1 L392.0,161.6 L396.0,158.1 L400.0,154.6 L404.0,151.1 L408.0,147.6 L412.0,144.2 L416.0,140.7 L420.0,137.3 L424.0,133.9 L428.0,130.6 L432.0,127.3 L436.0,124.1 L440.0,121.0 L444.0,117.9 L448.0,114.9 L452.0,111.9 L456.0,109.0 L460.0,106.3 L464.0,103.6 L468.0,101.0 L472.0,98.4 L476.0,96.0 L480.0,93.6 L484.0,91.4 L488.0,89.2 L492.0,87.1 L496.0,85.1 L500.0,83.2 L504.0,81.4 L508.0,79.6 L512.0,77.9 L516.0,76.3 L520.0,74.8 L524.0,73.4 L528.0,72.0 L532.0,70.7 L536.0,69.5 L540.0,68.3 L544.0,67.2 L548.0,66.1 L552.0,65.1 L556.0,64.2 L560.0,63.3 L564.0,62.4 L568.0,61.6 L572.0,60.9 L576.0,60.2 L580.0,59.5 L584.0,58.9 L588.0,58.3 L592.0,57.7 L596.0,57.2 L600.0,56.7 L604.0,56.2 L608.0,55.8 L612.0,55.4 L616.0,55.0 L620.0,54.6 L624.0,54.2 L628.0,53.9 L632.0,53.6 L636.0,53.3 L640.0,53.1 L644.0,52.8 L648.0,52.6 L652.0,52.4 L656.0,52.1 L660.0,52.0 L664.0,51.8 L668.0,51.6 L672.0,51.4 L676.0,51.3"/>
<path stroke="#fa7676" d="M92.0,263.2 L96.0,263.2 L100.0,263.1 L104.0,263.0 L108.0,262.9 L112.0,262.8 L116.0,262.7 L120.0,262.6 L124.0,262.5 L128.0,262.4 L132.0,262.3 L136.0,262.1 L140.0,262.0 L144.0,261.8 L148.0,261.6 L152.0,261.4 L156.0,261.2 L160.0,261.0 L164.0,260.7 L168.0,260.5 L172.0,260.2 L176.0,259.9 L180.0,259.5 L184.0,259.2 L188.0,258.8 L192.0,258.3 L196.0,257.9 L200.0,257.4 L204.0,256.9 L208.0,256.3 L212.0,255.7 L216.0,255.0 L220.0,254.3 L224.0,253.5 L228.0,252.7 L232.0,251.8 L236.0,250.8 L240.0,249.8 L244.0,248.7 L248.0,247.5 L252.0,246.3 L256.0,244.9 L260.0,243.5 L264.0,242.0 L268.0,240.3 L272.0,238.6 L276.0,236.7 L280.0,234.8 L284.0,232.7 L288.0,230.5 L292.0,228.1 L296.0,225.7 L300.0,223.1 L304.0,220.4 L308.0,217.5 L312.0,214.5 L316.0,211.4 L316.8,210.8 L317.4,210.3 L318.0,209.8 L318.5,209.4 L319.1,208.9 L319.6,208.5 L320.0,208.2 L320.2,208.0 L320.8,207.5 L321.3,207.1 L321.9,206.6 L322.5,206.1 L323.0,205.6 L323.6,205.2 L324.0,204.8 L324.1,204.7 L324.7,204.2 L325.3,203.7 L325.8,203.2 L326.4,202.7 L326.9,202.2 L327.5,201.7 L328.0,201.3 L328.1,201.2 L328.6,200.7 L329.2,200.2 L329.8,199.7 L330.3,199.2 L330.9,198.7 L331.4,198.2 L332.0,197.7 L332.0,197.7 L332.6,197.2 L333.1,196.7 L333.7,196.1 L334.2,195.6 L334.8,195.1 L335.4,194.6 L335.9,194.0 L336.0,194.0 L336.5,193.5 L337.1,193.0 L337.6,192.4 L338.2,191.9 L338.7,191.3 L340.0,190.1 L344.0,186.2 L348.0,182.2 L352.0,178.1 L356.0,173.9 L360.0,169.7 L364.0,165.4 L368.0,161.1 L372.0,156.8 L376.0,152.5 L380.0,148.2 L384.0,144.0 L388.0,139.8 L392.0,135.6 L396.0,131.5 L400.0,127.4 L404.0,123.5 L408.0,119.6 L412.0,115.9 L416.0,112.3 L420.0,108.7 L424.0,105.4 L428.0,102.1 L432.0,99.0 L436.0,95.9 L440.0,93.1 L444.0,90.3 L448.0,87.7 L452.0,85.2 L456.0,82.9 L460.0,80.7 L464.0,78.6 L468.0,76.6 L472.0,74.7 L476.0,73.0 L480.0,71.3 L484.0,69.7 L488.0,68.3 L492.0,66.9 L496.0,65.7 L500.0,64.5 L504.0,63.4 L508.0,62.3 L512.0,61.4 L516.0,60.5 L520.0,59.6 L524.0,58.8 L528.0,58.1 L532.0,57.4 L536.0,56.8 L540.0,56.2 L544.0,55.7 L548.0,55.2 L552.0,54.7 L556.0,54.3 L560.0,53.9 L564.0,53.5 L568.0,53.2 L572.0,52.9 L576.0,52.6 L580.0,52.3 L584.0,52.1 L588.0,51.8 L592.0,51.6 L596.0,51.4 L600.0,51.2 L604.0,51.1 L608.0,50.9 L612.0,50.8 L616.0,50.6 L620.0,50.5 L624.0,50.4 L628.0,50.3 L632.0,50.2 L636.0,50.1 L640.0,50.0 L644.0,49.9 L648.0,49.9 L652.0,49.8 L656.0,49.7 L660.0,49.7 L664.0,49.6 L668.0,49.6 L672.0,49.5 L676.0,49.5"/>
<path stroke="#6ab2fa" d="M92.0,264.0 L96.0,264.0 L100.0,264.0 L104.0,264.0 L108.0,264.0 L112.0,264.0 L116.0,264.0 L120.0,264.0 L124.0,264.0 L128.0,264.0 L132.0,264.0 L136.0,264.0 L140.0,264.0 L144.0,264.0 L148.0,263.9 L152.0,263.9 L156.0,263.9 L160.0,263.9 L164.0,263.9 L168.0,263.9 L172.0,263.9 L176.0,263.8 L180.0,263.8 L184.0,263.7 L188.0,263.7 L192.0,263.6 L196.0,263.6 L200.0,263.5 L204.0,263.4 L208.0,263.3 L212.0,263.1 L216.0,262.9 L220.0,262.7 L224.0,262.5 L228.0,262.2 L232.0,261.8 L236.0,261.4 L240.0,260.9 L244.0,260.3 L248.0,259.6 L252.0,258.7 L256.0,257.7 L260.0,256.6 L264.0,255.2 L268.0,253.5 L272.0,251.6 L276.0,249.3 L280.0,246.7 L284.0,243.6 L288.0,240.0 L292.0,235.9 L296.0,231.3 L300.0,226.0 L304.0,220.1 L308.0,213.5 L312.0,206.2 L316.0,198.3 L316.8,196.6 L317.4,195.5 L318.0,194.3 L318.5,193.1 L319.1,191.9 L319.6,190.7 L320.0,189.9 L320.2,189.5 L320.8,188.2 L321.3,187.0 L321.9,185.7 L322.5,184.5 L323.0,183.2 L323.6,182.0 L324.0,181.0 L324.1,180.7 L324.7,179.4 L325.3,178.1 L325.8,176.8 L326.4,175.5 L326.9,174.2 L327.5,172.9 L328.0,171.7 L328.1,171.5 L328.6,170.2 L329.2,168.9 L329.8,167.5 L330.3,166.2 L330.9,164.9 L331.4,163.5 L332.0,162.2 L332.0,162.2 L332.6,160.8 L333.1,159.5 L333.7,158.1 L334.2,156.8 L334.8,155.4 L335.4,154.1 L335.9,152.7 L336.0,152.6 L336.5,151.4 L337.1,150.0 L337.6,148.7 L338.2,147.3 L338.7,146.0 L340.0,143.0 L344.0,133.7 L348.0,124.7 L352.0,116.1 L356.0,108.2 L360.0,100.8 L364.0,94.1 L368.0,88.0 L372.0,82.6 L376.0,77.9 L380.0,73.7 L384.0,70.0 L388.0,66.9 L392.0,64.1 L396.0,61.8 L400.0,59.8 L404.0,58.1 L408.0,56.7 L412.0,55.5 L416.0,54.4 L420.0,53.6 L424.0,52.8 L428.0,52.2 L432.0,51.7 L436.0,51.2 L440.0,50.9 L444.0,50.6 L448.0,50.3 L452.0,50.1 L456.0,49.9 L460.0,49.8 L464.0,49.6 L468.0,49.5 L472.0,49.5 L476.0,49.4 L480.0,49.3 L484.0,49.3 L488.0,49.2 L492.0,49.2 L496.0,49.2 L500.0,49.1 L504.0,49.1 L508.0,49.1 L512.0,49.1 L516.0,49.1 L520.0,49.1 L524.0,49.0 L528.0,49.0 L532.0,49.0 L536.0,49.0 L540.0,49.0 L544.0,49.0 L548.0,49.0 L552.0,49.0 L556.0,49.0 L560.0,49.0 L564.0,49.0 L568.0,49.0 L572.0,49.0 L576.0,49.0 L580.0,49.0 L584.0,49.0 L588.0,49.0 L592.0,49.0 L596.0,49.0 L600.0,49.0 L604.0,49.0 L608.0,49.0 L612.0,49.0 L616.0,49.0 L620.0,49.0 L624.0,49.0 L628.0,49.0 L632.0,49.0 L636.0,49.0 L640.0,49.0 L644.0,49.0 L648.0,49.0 L652.0,49.0 L656.0,49.0 L660.0,49.0 L664.0,49.0 L668.0,49.0 L672.0,49.0 L676.0,49.0"/>
<path stroke="#fa7676" d="M92.0,263.5 L96.0,263.5 L100.0,263.4 L104.0,263.4 L108.0,263.3 L112.0,263.3 L116.0,263.2 L120.0,263.1 L124.0,263.0 L128.0,263.0 L132.0,262.9 L136.0,262.8 L140.0,262.7 L144.0,262.5 L148.0,262.4 L152.0,262.3 L156.0,262.1 L160.0,261.9 L164.0,261.8 L168.0,261.6 L172.0,261.4 L176.0,261.1 L180.0,260.9 L184.0,260.6 L188.0,260.3 L192.0,260.0 L196.0,259.7 L200.0,259.3 L204.0,258.9 L208.0,258.4 L212.0,258.0 L216.0,257.4 L220.0,256.9 L224.0,256.3 L228.0,255.6 L232.0,254.9 L236.0,254.1 L240.0,253.3 L244.0,252.4 L248.0,251.5 L252.0,250.4 L256.0,249.3 L260.0,248.1 L264.0,246.8 L268.0,245.4 L272.0,244.0 L276.0,242.4 L280.0,240.7 L284.0,238.9 L288.0,236.9 L292.0,234.8 L296.0,232.6 L300.0,230.3 L304.0,227.8 L308.0,225.2 L312.0,222.5 L316.0,219.6 L316.8,218.9 L317.4,218.5 L318.0,218.1 L318.5,217.6 L319.1,217.2 L319.6,216.8 L320.0,216.5 L320.2,216.3 L320.8,215.9 L321.3,215.5 L321.9,215.0 L322.5,214.6 L323.0,214.1 L323.6,213.6 L324.0,213.3 L324.1,213.2 L324.7,212.7 L325.3,212.3 L325.8,211.8 L326.4,211.3 L326.9,210.8 L327.5,210.4 L328.0,210.0 L328.1,209.9 L328.6,209.4 L329.2,208.9 L329.8,208.4 L330.3,207.9 L330.9,207.5 L331.4,207.0 L332.0,206.5 L332.0,206.5 L332.6,206.0 L333.1,205.5 L333.7,204.9 L334.2,204.4 L334.8,203.9 L335.4,203.4 L335.9,202.9 L336.0,202.8 L336.5,202.4 L337.1,201.8 L337.6,201.3 L338.2,200.8 L338.7,200.3 L340.0,199.1 L344.0,195.2 L348.0,191.1 L352.0,187.0 L356.0,182.8 L360.0,178.5 L364.0,174.1 L368.0,169.6 L372.0,165.1 L376.0,160.6 L380.0,156.1 L384.0,151.5 L388.0,147.0 L392.0,142.5 L396.0,138.1 L400.0,133.7 L404.0,129.4 L408.0,125.2 L412.0,121.1 L416.0,117.1 L420.0,113.2 L424.0,109.5 L428.0,105.9 L432.0,102.4 L436.0,99.1 L440.0,95.9 L444.0,92.9 L448.0,90.0 L452.0,87.3 L456.0,84.7 L460.0,82.2 L464.0,79.9 L468.0,77.8 L472.0,75.7 L476.0,73.8 L480.0,72.0 L484.0,70.3 L488.0,68.7 L492.0,67.3 L496.0,65.9 L500.0,64.6 L504.0,63.5 L508.0,62.4 L512.0,61.3 L516.0,60.4 L520.0,59.5 L524.0,58.7 L528.0,57.9 L532.0,57.3 L536.0,56.6 L540.0,56.0 L544.0,55.5 L548.0,54.9 L552.0,54.5 L556.0,54.0 L560.0,53.6 L564.0,53.3 L568.0,52.9 L572.0,52.6 L576.0,52.3 L580.0,52.1 L584.0,51.8 L588.0,51.6 L592.0,51.4 L596.0,51.2 L600.0,51.0 L604.0,50.9 L608.0,50.7 L612.0,50.6 L616.0,50.4 L620.0,50.3 L624.0,50.2 L628.0,50.1 L632.0,50.0 L636.0,49.9 L640.0,49.9 L644.0,49.8 L648.0,49.7 L652.0,49.7 L656.0,49.6 L660.0,49.6 L664.0,49.5 L668.0,49.5 L672.0,49.4 L676.0,49.4"/>
<path stroke="#6ab2fa" d="M92.0,264.0 L96.0,264.0 L100.0,264.0 L104.0,264.0 L108.0,264.0 L112.0,264.0 L116.0,264.0 L120.0,264.0 L124.0,264.0 L128.0,264.0 L132.0,264.0 L136.0,264.0 L140.0,264.0 L144.0,264.0 L148.0,264.0 L152.0,264.0 L156.0,264.0 L160.0,264.0 L164.0,264.0 L168.0,264.0 L172.0,264.0 L176.0,264.0 L180.0,264.0 L184.0,264.0 L188.0,264.0 L192.0,264.0 L196.0,264.0 L200.0,263.9 L204.0,263.9 L208.0,263.9 L212.0,263.9 L216.0,263.8 L220.0,263.8 L224.0,263.8 L228.0,263.7 L232.0,263.6 L236.0,263.5 L240.0,263.4 L244.0,263.2 L248.0,263.0 L252.0,262.7 L256.0,262.3 L260.0,261.9 L264.0,261.3 L268.0,260.6 L272.0,259.7 L276.0,258.6 L280.0,257.2 L284.0,255.4 L288.0,253.1 L292.0,250.4 L296.0,247.0 L300.0,242.8 L304.0,237.8 L308.0,231.7 L312.0,224.5 L316.0,216.2 L316.8,214.3 L317.4,213.0 L318.0,211.7 L318.5,210.3 L319.1,209.0 L319.6,207.6 L320.0,206.7 L320.2,206.1 L320.8,204.7 L321.3,203.3 L321.9,201.8 L322.5,200.3 L323.0,198.7 L323.6,197.2 L324.0,196.0 L324.1,195.6 L324.7,194.1 L325.3,192.5 L325.8,190.8 L326.4,189.2 L326.9,187.5 L327.5,185.9 L328.0,184.4 L328.1,184.2 L328.6,182.5 L329.2,180.8 L329.8,179.0 L330.3,177.3 L330.9,175.6 L331.4,173.8 L332.0,172.0 L332.0,172.0 L332.6,170.2 L333.1,168.5 L333.7,166.7 L334.2,164.9 L334.8,163.1 L335.4,161.2 L335.9,159.4 L336.0,159.2 L336.5,157.6 L337.1,155.8 L337.6,154.0 L338.2,152.2 L338.7,150.4 L340.0,146.3 L344.0,133.7 L348.0,121.8 L352.0,110.7 L356.0,100.7 L360.0,91.8 L364.0,84.2 L368.0,77.7 L372.0,72.2 L376.0,67.7 L380.0,64.0 L384.0,60.9 L388.0,58.5 L392.0,56.5 L396.0,55.0 L400.0,53.7 L404.0,52.7 L408.0,51.9 L412.0,51.3 L416.0,50.8 L420.0,50.4 L424.0,50.1 L428.0,49.9 L432.0,49.7 L436.0,49.6 L440.0,49.4 L444.0,49.3 L448.0,49.3 L452.0,49.2 L456.0,49.2 L460.0,49.1 L464.0,49.1 L468.0,49.1 L472.0,49.1 L476.0,49.1 L480.0,49.0 L484.0,49.0 L488.0,49.0 L492.0,49.0 L496.0,49.0 L500.0,49.0 L504.0,49.0 L508.0,49.0 L512.0,49.0 L516.0,49.0 L520.0,49.0 L524.0,49.0 L528.0,49.0 L532.0,49.0 L536.0,49.0 L540.0,49.0 L544.0,49.0 L548.0,49.0 L552.0,49.0 L556.0,49.0 L560.0,49.0 L564.0,49.0 L568.0,49.0 L572.0,49.0 L576.0,49.0 L580.0,49.0 L584.0,49.0 L588.0,49.0 L592.0,49.0 L596.0,49.0 L600.0,49.0 L604.0,49.0 L608.0,49.0 L612.0,49.0 L616.0,49.0 L620.0,49.0 L624.0,49.0 L628.0,49.0 L632.0,49.0 L636.0,49.0 L640.0,49.0 L644.0,49.0 L648.0,49.0 L652.0,49.0 L656.0,49.0 L660.0,49.0 L664.0,49.0 L668.0,49.0 L672.0,49.0 L676.0,49.0"/>
<path stroke="#fa7676" d="M92.0,263.7 L96.0,263.7 L100.0,263.7 L104.0,263.6 L108.0,263.6 L112.0,263.5 L116.0,263.5 L120.0,263.4 L124.0,263.3 L128.0,263.3 L132.0,263.2 L136.0,263.1 L140.0,263.0 L144.0,262.8 L148.0,262.7 L152.0,262.5 L156.0,262.3 L160.0,262.1 L164.0,261.9 L168.0,261.7 L172.0,261.4 L176.0,261.1 L180.0,260.7 L184.0,260.3 L188.0,259.9 L192.0,259.4 L196.0,258.9 L200.0,258.3 L204.0,257.6 L208.0,256.9 L212.0,256.0 L216.0,255.1 L220.0,254.1 L224.0,252.9 L228.0,251.6 L232.0,250.2 L236.0,248.7 L240.0,247.0 L244.0,245.1 L248.0,243.0 L252.0,240.7 L256.0,238.2 L260.0,235.5 L264.0,232.6 L268.0,229.4 L272.0,225.9 L276.0,222.2 L280.0,218.2 L284.0,213.9 L288.0,209.4 L292.0,204.6 L296.0,199.5 L300.0,194.3 L304.0,188.7 L308.0,183.1 L312.0,177.2 L316.0,171.2 L316.8,169.9 L317.4,169.1 L318.0,168.2 L318.5,167.4 L319.1,166.5 L319.6,165.6 L320.0,165.1 L320.2,164.8 L320.8,163.9 L321.3,163.1 L321.9,162.2 L322.5,161.3 L323.0,160.5 L323.6,159.6 L324.0,159.0 L324.1,158.7 L324.7,157.9 L325.3,157.0 L325.8,156.2 L326.4,155.3 L326.9,154.4 L327.5,153.6 L328.0,152.8 L328.1,152.7 L328.6,151.8 L329.2,151.0 L329.8,150.1 L330.3,149.2 L330.9,148.4 L331.4,147.5 L332.0,146.7 L332.0,146.7 L332.6,145.8 L333.1,145.0 L333.7,144.1 L334.2,143.2 L334.8,142.4 L335.4,141.5 L335.9,140.7 L336.0,140.6 L336.5,139.9 L337.1,139.0 L337.6,138.2 L338.2,137.3 L338.7,136.5 L340.0,134.6 L344.0,128.8 L348.0,123.1 L352.0,117.7 L356.0,112.4 L360.0,107.4 L364.0,102.7 L368.0,98.2 L372.0,94.0 L376.0,90.0 L380.0,86.4 L384.0,83.0 L388.0,79.8 L392.0,76.9 L396.0,74.2 L400.0,71.8 L404.0,69.6 L408.0,67.5 L412.0,65.7 L416.0,64.0 L420.0,62.5 L424.0,61.1 L428.0,59.9 L432.0,58.7 L436.0,57.7 L440.0,56.8 L444.0,56.0 L448.0,55.3 L452.0,54.6 L456.0,54.0 L460.0,53.5 L464.0,53.0 L468.0,52.6 L472.0,52.2 L476.0,51.8 L480.0,51.5 L484.0,51.3 L488.0,51.0 L492.0,50.8 L496.0,50.6 L500.0,50.4 L504.0,50.3 L508.0,50.1 L512.0,50.0 L516.0,49.9 L520.0,49.8 L524.0,49.7 L528.0,49.6 L532.0,49.6 L536.0,49.5 L540.0,49.5 L544.0,49.4 L548.0,49.4 L552.0,49.3 L556.0,49.3 L560.0,49.3 L564.0,49.2 L568.0,49.2 L572.0,49.2 L576.0,49.2 L580.0,49.1 L584.0,49.1 L588.0,49.1 L592.0,49.1 L596.0,49.1 L600.0,49.1 L604.0,49.1 L608.0,49.1 L612.0,49.1 L616.0,49.1 L620.0,49.0 L624.0,49.0 L628.0,49.0 L632.0,49.0 L636.0,49.0 L640.0,49.0 L644.0,49.0 L648.0,49.0 L652.0,49.0 L656.0,49.0 L660.0,49.0 L664.0,49.0 L668.0,49.0 L672.0,49.0 L676.0,49.0"/>
<path stroke="#6ab2fa" d="M92.0,263.8 L96.0,263.8 L100.0,263.7 L104.0,263.7 L108.0,263.7 L112.0,263.6 L116.0,263.6 L120.0,263.6 L124.0,263.5 L128.0,263.4 L132.0,263.4 L136.0,263.3 L140.0,263.2 L144.0,263.1 L148.0,263.0 L152.0,262.9 L156.0,262.8 L160.0,262.6 L164.0,262.5 L168.0,262.3 L172.0,262.1 L176.0,261.8 L180.0,261.6 L184.0,261.3 L188.0,261.0 L192.0,260.6 L196.0,260.2 L200.0,259.8 L204.0,259.3 L208.0,258.8 L212.0,258.1 L216.0,257.5 L220.0,256.7 L224.0,255.9 L228.0,254.9 L232.0,253.9 L236.0,252.7 L240.0,251.5 L244.0,250.1 L248.0,248.5 L252.0,246.8 L256.0,244.9 L260.0,242.9 L264.0,240.6 L268.0,238.1 L272.0,235.5 L276.0,232.5 L280.0,229.4 L284.0,225.9 L288.0,222.3 L292.0,218.3 L296.0,214.1 L300.0,209.7 L304.0,204.9 L308.0,200.0 L312.0,194.8 L316.0,189.3 L316.8,188.2 L317.4,187.4 L318.0,186.6 L318.5,185.8 L319.1,185.0 L319.6,184.2 L320.0,183.7 L320.2,183.4 L320.8,182.6 L321.3,181.8 L321.9,181.0 L322.5,180.2 L323.0,179.4 L323.6,178.6 L324.0,178.0 L324.1,177.8 L324.7,176.9 L325.3,176.1 L325.8,175.3 L326.4,174.5 L326.9,173.6 L327.5,172.8 L328.0,172.1 L328.1,172.0 L328.6,171.1 L329.2,170.3 L329.8,169.4 L330.3,168.6 L330.9,167.8 L331.4,166.9 L332.0,166.1 L332.0,166.1 L332.6,165.2 L333.1,164.4 L333.7,163.5 L334.2,162.7 L334.8,161.8 L335.4,161.0 L335.9,160.1 L336.0,160.0 L336.5,159.3 L337.1,158.4 L337.6,157.5 L338.2,156.7 L338.7,155.8 L340.0,153.9 L344.0,147.9 L348.0,141.8 L352.0,135.9 L356.0,130.1 L360.0,124.5 L364.0,119.0 L368.0,113.8 L372.0,108.8 L376.0,104.0 L380.0,99.5 L384.0,95.3 L388.0,91.3 L392.0,87.6 L396.0,84.1 L400.0,80.9 L404.0,78.0 L408.0,75.3 L412.0,72.8 L416.0,70.5 L420.0,68.4 L424.0,66.5 L428.0,64.7 L432.0,63.2 L436.0,61.7 L440.0,60.4 L444.0,59.3 L448.0,58.2 L452.0,57.3 L456.0,56.4 L460.0,55.7 L464.0,55.0 L468.0,54.3 L472.0,53.8 L476.0,53.3 L480.0,52.8 L484.0,52.4 L488.0,52.1 L492.0,51.7 L496.0,51.4 L500.0,51.2 L504.0,51.0 L508.0,50.7 L512.0,50.6 L516.0,50.4 L520.0,50.2 L524.0,50.1 L528.0,50.0 L532.0,49.9 L536.0,49.8 L540.0,49.7 L544.0,49.6 L548.0,49.6 L552.0,49.5 L556.0,49.5 L560.0,49.4 L564.0,49.4 L568.0,49.3 L572.0,49.3 L576.0,49.3 L580.0,49.2 L584.0,49.2 L588.0,49.2 L592.0,49.2 L596.0,49.1 L600.0,49.1 L604.0,49.1 L608.0,49.1 L612.0,49.1 L616.0,49.1 L620.0,49.1 L624.0,49.1 L628.0,49.1 L632.0,49.1 L636.0,49.0 L640.0,49.0 L644.0,49.0 L648.0,49.0 L652.0,49.0 L656.0,49.0 L660.0,49.0 L664.0,49.0 L668.0,49.0 L672.0,49.0 L676.0,49.0"/>
<path stroke="#fa7676" d="M92.0,264.0 L96.0,264.0 L100.0,264.0 L104.0,264.0 L108.0,264.0 L112.0,264.0 L116.0,264.0 L120.0,264.0 L124.0,264.0 L128.0,264.0 L132.0,264.0 L136.0,263.9 L140.0,263.9 L144.0,263.9 L148.0,263.9 L152.0,263.9 L156.0,263.9 L160.0,263.8 L164.0,263.8 L168.0,263.8 L172.0,263.7 L176.0,263.7 L180.0,263.6 L184.0,263.6 L188.0,263.5 L192.0,263.4 L196.0,263.3 L200.0,263.1 L204.0,263.0 L208.0,262.8 L212.0,262.5 L216.0,262.3 L220.0,262.0 L224.0,261.6 L228.0,261.1 L232.0,260.6 L236.0,260.0 L240.0,259.2 L244.0,258.3 L248.0,257.3 L252.0,256.1 L256.0,254.7 L260.0,253.0 L264.0,251.1 L268.0,248.8 L272.0,246.2 L276.0,243.1 L280.0,239.7 L284.0,235.7 L288.0,231.2 L292.0,226.1 L296.0,220.4 L300.0,214.1 L304.0,207.2 L308.0,199.7 L312.0,191.7 L316.0,183.2 L316.8,181.4 L317.4,180.2 L318.0,178.9 L318.5,177.7 L319.1,176.4 L319.6,175.2 L320.0,174.4 L320.2,173.9 L320.8,172.6 L321.3,171.4 L321.9,170.1 L322.5,168.8 L323.0,167.5 L323.6,166.2 L324.0,165.3 L324.1,164.9 L324.7,163.6 L325.3,162.3 L325.8,161.0 L326.4,159.7 L326.9,158.5 L327.5,157.2 L328.0,156.0 L328.1,155.8 L328.6,154.5 L329.2,153.3 L329.8,152.0 L330.3,150.7 L330.9,149.4 L331.4,148.1 L332.0,146.8 L332.0,146.8 L332.6,145.5 L333.1,144.2 L333.7,142.9 L334.2,141.6 L334.8,140.4 L335.4,139.1 L335.9,137.8 L336.0,137.7 L336.5,136.6 L337.1,135.3 L337.6,134.1 L338.2,132.8 L338.7,131.6 L340.0,128.9 L344.0,120.4 L348.0,112.5 L352.0,105.0 L356.0,98.2 L360.0,92.0 L364.0,86.3 L368.0,81.3 L372.0,76.9 L376.0,72.9 L380.0,69.5 L384.0,66.5 L388.0,64.0 L392.0,61.7 L396.0,59.8 L400.0,58.2 L404.0,56.8 L408.0,55.6 L412.0,54.6 L416.0,53.7 L420.0,53.0 L424.0,52.4 L428.0,51.8 L432.0,51.4 L436.0,51.0 L440.0,50.7 L444.0,50.4 L448.0,50.2 L452.0,50.0 L456.0,49.9 L460.0,49.7 L464.0,49.6 L468.0,49.5 L472.0,49.4 L476.0,49.4 L480.0,49.3 L484.0,49.3 L488.0,49.2 L492.0,49.2 L496.0,49.2 L500.0,49.1 L504.0,49.1 L508.0,49.1 L512.0,49.1 L516.0,49.1 L520.0,49.1 L524.0,49.0 L528.0,49.0 L532.0,49.0 L536.0,49.0 L540.0,49.0 L544.0,49.0 L548.0,49.0 L552.0,49.0 L556.0,49.0 L560.0,49.0 L564.0,49.0 L568.0,49.0 L572.0,49.0 L576.0,49.0 L580.0,49.0 L584.0,49.0 L588.0,49.0 L592.0,49.0 L596.0,49.0 L600.0,49.0 L604.0,49.0 L608.0,49.0 L612.0,49.0 L616.0,49.0 L620.0,49.0 L624.0,49.0 L628.0,49.0 L632.0,49.0 L636.0,49.0 L640.0,49.0 L644.0,49.0 L648.0,49.0 L652.0,49.0 L656.0,49.0 L660.0,49.0 L664.0,49.0 L668.0,49.0 L672.0,49.0 L676.0,49.0"/>
<path stroke="#6ab2fa" d="M92.0,264.0 L96.0,264.0 L100.0,264.0 L104.0,264.0 L108.0,264.0 L112.0,264.0 L116.0,264.0 L120.0,264.0 L124.0,264.0 L128.0,264.0 L132.0,263.9 L136.0,263.9 L140.0,263.9 L144.0,263.9 L148.0,263.9 L152.0,263.9 L156.0,263.9 L160.0,263.8 L164.0,263.8 L168.0,263.8 L172.0,263.7 L176.0,263.7 L180.0,263.7 L184.0,263.6 L188.0,263.5 L192.0,263.5 L196.0,263.4 L200.0,263.3 L204.0,263.1 L208.0,263.0 L212.0,262.8 L216.0,262.6 L220.0,262.4 L224.0,262.1 L228.0,261.8 L232.0,261.5 L236.0,261.1 L240.0,260.6 L244.0,260.0 L248.0,259.4 L252.0,258.7 L256.0,257.8 L260.0,256.8 L264.0,255.6 L268.0,254.3 L272.0,252.8 L276.0,251.0 L280.0,249.0 L284.0,246.7 L288.0,244.1 L292.0,241.2 L296.0,237.8 L300.0,234.1 L304.0,229.9 L308.0,225.2 L312.0,220.1 L316.0,214.5 L316.8,213.2 L317.4,212.4 L318.0,211.5 L318.5,210.7 L319.1,209.8 L319.6,208.9 L320.0,208.4 L320.2,208.0 L320.8,207.1 L321.3,206.2 L321.9,205.3 L322.5,204.4 L323.0,203.5 L323.6,202.5 L324.0,201.8 L324.1,201.6 L324.7,200.6 L325.3,199.6 L325.8,198.6 L326.4,197.7 L326.9,196.7 L327.5,195.7 L328.0,194.8 L328.1,194.6 L328.6,193.6 L329.2,192.6 L329.8,191.6 L330.3,190.5 L330.9,189.5 L331.4,188.4 L332.0,187.4 L332.0,187.4 L332.6,186.3 L333.1,185.2 L333.7,184.1 L334.2,183.0 L334.8,182.0 L335.4,180.9 L335.9,179.8 L336.0,179.6 L336.5,178.6 L337.1,177.5 L337.6,176.4 L338.2,175.3 L338.7,174.2 L340.0,171.6 L344.0,163.4 L348.0,155.2 L352.0,146.9 L356.0,138.8 L360.0,130.8 L364.0,123.2 L368.0,115.9 L372.0,109.0 L376.0,102.6 L380.0,96.7 L384.0,91.2 L388.0,86.2 L392.0,81.7 L396.0,77.7 L400.0,74.1 L404.0,70.8 L408.0,68.0 L412.0,65.5 L416.0,63.3 L420.0,61.4 L424.0,59.7 L428.0,58.2 L432.0,57.0 L436.0,55.9 L440.0,54.9 L444.0,54.1 L448.0,53.4 L452.0,52.8 L456.0,52.2 L460.0,51.8 L464.0,51.4 L468.0,51.1 L472.0,50.8 L476.0,50.5 L480.0,50.3 L484.0,50.1 L488.0,50.0 L492.0,49.8 L496.0,49.7 L500.0,49.6 L504.0,49.5 L508.0,49.4 L512.0,49.4 L516.0,49.3 L520.0,49.3 L524.0,49.2 L528.0,49.2 L532.0,49.2 L536.0,49.2 L540.0,49.1 L544.0,49.1 L548.0,49.1 L552.0,49.1 L556.0,49.1 L560.0,49.1 L564.0,49.1 L568.0,49.0 L572.0,49.0 L576.0,49.0 L580.0,49.0 L584.0,49.0 L588.0,49.0 L592.0,49.0 L596.0,49.0 L600.0,49.0 L604.0,49.0 L608.0,49.0 L612.0,49.0 L616.0,49.0 L620.0,49.0 L624.0,49.0 L628.0,49.0 L632.0,49.0 L636.0,49.0 L640.0,49.0 L644.0,49.0 L648.0,49.0 L652.0,49.0 L656.0,49.0 L660.0,49.0 L664.0,49.0 L668.0,49.0 L672.0,49.0 L676.0,49.0"/>
<path stroke="#fa7676" d="M92.0,261.5 L96.0,261.3 L100.0,261.1 L104.0,260.9 L108.0,260.6 L112.0,260.4 L116.0,260.1 L120.0,259.8 L124.0,259.5 L128.0,259.2 L132.0,258.9 L136.0,258.5 L140.0,258.1 L144.0,257.6 L148.0,257.2 L152.0,256.7 L156.0,256.2 L160.0,255.6 L164.0,255.0 L168.0,254.3 L172.0,253.6 L176.0,252.9 L180.0,252.1 L184.0,251.3 L188.0,250.4 L192.0,249.4 L196.0,248.4 L200.0,247.3 L204.0,246.2 L208.0,245.0 L212.0,243.7 L216.0,242.3 L220.0,240.8 L224.0,239.3 L228.0,237.7 L232.0,236.0 L236.0,234.1 L240.0,232.2 L244.0,230.2 L248.0,228.1 L252.0,225.9 L256.0,223.6 L260.0,221.1 L264.0,218.6 L268.0,215.9 L272.0,213.2 L276.0,210.3 L280.0,207.3 L284.0,204.2 L288.0,201.1 L292.0,197.8 L296.0,194.4 L300.0,191.0 L304.0,187.4 L308.0,183.8 L312.0,180.2 L316.0,176.4 L316.8,175.6 L317.4,175.1 L318.0,174.6 L318.5,174.0 L319.1,173.5 L319.6,173.0 L320.0,172.6 L320.2,172.4 L320.8,171.9 L321.3,171.4 L321.9,170.8 L322.5,170.3 L323.0,169.8 L323.6,169.2 L324.0,168.8 L324.1,168.7 L324.7,168.1 L325.3,167.6 L325.8,167.1 L326.4,166.5 L326.9,166.0 L327.5,165.4 L328.0,165.0 L328.1,164.9 L328.6,164.3 L329.2,163.8 L329.8,163.3 L330.3,162.7 L330.9,162.2 L331.4,161.6 L332.0,161.1 L332.0,161.1 L332.6,160.5 L333.1,160.0 L333.7,159.4 L334.2,158.9 L334.8,158.3 L335.4,157.8 L335.9,157.2 L336.0,157.2 L336.5,156.7 L337.1,156.1 L337.6,155.6 L338.2,155.1 L338.7,154.5 L340.0,153.3 L344.0,149.4 L348.0,145.5 L352.0,141.7 L356.0,137.9 L360.0,134.1 L364.0,130.4 L368.0,126.8 L372.0,123.2 L376.0,119.8 L380.0,116.4 L384.0,113.1 L388.0,109.8 L392.0,106.7 L396.0,103.7 L400.0,100.8 L404.0,98.0 L408.0,95.3 L412.0,92.8 L416.0,90.3 L420.0,87.9 L424.0,85.7 L428.0,83.5 L432.0,81.5 L436.0,79.5 L440.0,77.7 L444.0,75.9 L448.0,74.3 L452.0,72.7 L456.0,71.2 L460.0,69.8 L464.0,68.5 L468.0,67.2 L472.0,66.1 L476.0,64.9 L480.0,63.9 L484.0,62.9 L488.0,62.0 L492.0,61.2 L496.0,60.4 L500.0,59.6 L504.0,58.9 L508.0,58.2 L512.0,57.6 L516.0,57.0 L520.0,56.5 L524.0,56.0 L528.0,55.5 L532.0,55.1 L536.0,54.7 L540.0,54.3 L544.0,53.9 L548.0,53.6 L552.0,53.3 L556.0,53.0 L560.0,52.7 L564.0,52.4 L568.0,52.2 L572.0,52.0 L576.0,51.8 L580.0,51.6 L584.0,51.4 L588.0,51.2 L592.0,51.1 L596.0,50.9 L600.0,50.8 L604.0,50.7 L608.0,50.6 L612.0,50.5 L616.0,50.4 L620.0,50.3 L624.0,50.2 L628.0,50.1 L632.0,50.0 L636.0,49.9 L640.0,49.9 L644.0,49.8 L648.0,49.8 L652.0,49.7 L656.0,49.7 L660.0,49.6 L664.0,49.6 L668.0,49.5 L672.0,49.5 L676.0,49.5"/>
<path stroke="#6ab2fa" d="M92.0,264.0 L96.0,264.0 L100.0,264.0 L104.0,264.0 L108.0,264.0 L112.0,264.0 L116.0,264.0 L120.0,264.0 L124.0,264.0 L128.0,264.0 L132.0,263.9 L136.0,263.9 L140.0,263.9 L144.0,263.9 L148.0,263.9 L152.0,263.9 L156.0,263.9 L160.0,263.8 L164.0,263.8 L168.0,263.8 L172.0,263.7 L176.0,263.7 L180.0,263.7 L184.0,263.6 L188.0,263.5 L192.0,263.5 L196.0,263.4 L200.0,263.3 L204.0,263.2 L208.0,263.0 L212.0,262.9 L216.0,262.7 L220.0,262.5 L224.0,262.2 L228.0,262.0 L232.0,261.6 L236.0,261.3 L240.0,260.8 L244.0,260.3 L248.0,259.7 L252.0,259.1 L256.0,258.3 L260.0,257.4 L264.0,256.4 L268.0,255.2 L272.0,253.8 L276.0,252.3 L280.0,250.5 L284.0,248.5 L288.0,246.1 L292.0,243.5 L296.0,240.6 L300.0,237.3 L304.0,233.6 L308.0,229.5 L312.0,224.9 L316.0,219.9 L316.8,218.8 L317.4,218.0 L318.0,217.2 L318.5,216.5 L319.1,215.7 L319.6,214.9 L320.0,214.4 L320.2,214.1 L320.8,213.3 L321.3,212.5 L321.9,211.6 L322.5,210.8 L323.0,210.0 L323.6,209.1 L324.0,208.4 L324.1,208.2 L324.7,207.4 L325.3,206.5 L325.8,205.6 L326.4,204.7 L326.9,203.8 L327.5,202.9 L328.0,202.1 L328.1,201.9 L328.6,201.0 L329.2,200.1 L329.8,199.1 L330.3,198.2 L330.9,197.2 L331.4,196.2 L332.0,195.3 L332.0,195.3 L332.6,194.3 L333.1,193.3 L333.7,192.3 L334.2,191.3 L334.8,190.3 L335.4,189.2 L335.9,188.2 L336.0,188.1 L336.5,187.2 L337.1,186.1 L337.6,185.1 L338.2,184.0 L338.7,183.0 L340.0,180.6 L344.0,172.8 L348.0,164.9 L352.0,156.8 L356.0,148.8 L360.0,140.9 L364.0,133.1 L368.0,125.6 L372.0,118.3 L376.0,111.5 L380.0,105.1 L384.0,99.1 L388.0,93.6 L392.0,88.5 L396.0,83.9 L400.0,79.8 L404.0,76.0 L408.0,72.7 L412.0,69.7 L416.0,67.1 L420.0,64.7 L424.0,62.7 L428.0,60.9 L432.0,59.3 L436.0,57.9 L440.0,56.7 L444.0,55.7 L448.0,54.8 L452.0,54.0 L456.0,53.3 L460.0,52.7 L464.0,52.2 L468.0,51.8 L472.0,51.4 L476.0,51.1 L480.0,50.8 L484.0,50.5 L488.0,50.3 L492.0,50.1 L496.0,50.0 L500.0,49.8 L504.0,49.7 L508.0,49.6 L512.0,49.5 L516.0,49.5 L520.0,49.4 L524.0,49.3 L528.0,49.3 L532.0,49.3 L536.0,49.2 L540.0,49.2 L544.0,49.2 L548.0,49.1 L552.0,49.1 L556.0,49.1 L560.0,49.1 L564.0,49.1 L568.0,49.1 L572.0,49.1 L576.0,49.0 L580.0,49.0 L584.0,49.0 L588.0,49.0 L592.0,49.0 L596.0,49.0 L600.0,49.0 L604.0,49.0 L608.0,49.0 L612.0,49.0 L616.0,49.0 L620.0,49.0 L624.0,49.0 L628.0,49.0 L632.0,49.0 L636.0,49.0 L640.0,49.0 L644.0,49.0 L648.0,49.0 L652.0,49.0 L656.0,49.0 L660.0,49.0 L664.0,49.0 L668.0,49.0 L672.0,49.0 L676.0,49.0"/>
<path stroke="#fa7676" d="M92.0,264.0 L96.0,264.0 L100.0,264.0 L104.0,264.0 L108.0,263.9 L112.0,263.9 L116.0,263.9 L120.0,263.9 L124.0,263.9 L128.0,263.9 L132.0,263.9 L136.0,263.9 L140.0,263.8 L144.0,263.8 L148.0,263.8 L152.0,263.7 L156.0,263.7 L160.0,263.7 L164.0,263.6 L168.0,263.6 L172.0,263.5 L176.0,263.4 L180.0,263.3 L184.0,263.2 L188.0,263.1 L192.0,263.0 L196.0,262.8 L200.0,262.6 L204.0,262.4 L208.0,262.2 L212.0,261.9 L216.0,261.6 L220.0,261.2 L224.0,260.8 L228.0,260.4 L232.0,259.8 L236.0,259.2 L240.0,258.5 L244.0,257.7 L248.0,256.7 L252.0,255.7 L256.0,254.5 L260.0,253.1 L264.0,251.5 L268.0,249.8 L272.0,247.8 L276.0,245.5 L280.0,243.0 L284.0,240.2 L288.0,237.0 L292.0,233.5 L296.0,229.6 L300.0,225.3 L304.0,220.6 L308.0,215.6 L312.0,210.0 L316.0,204.1 L316.8,202.9 L317.4,202.0 L318.0,201.1 L318.5,200.2 L319.1,199.3 L319.6,198.4 L320.0,197.9 L320.2,197.5 L320.8,196.6 L321.3,195.7 L321.9,194.8 L322.5,193.8 L323.0,192.9 L323.6,191.9 L324.0,191.2 L324.1,191.0 L324.7,190.0 L325.3,189.1 L325.8,188.1 L326.4,187.1 L326.9,186.1 L327.5,185.1 L328.0,184.3 L328.1,184.1 L328.6,183.1 L329.2,182.1 L329.8,181.1 L330.3,180.1 L330.9,179.1 L331.4,178.1 L332.0,177.1 L332.0,177.1 L332.6,176.0 L333.1,175.0 L333.7,174.0 L334.2,172.9 L334.8,171.9 L335.4,170.8 L335.9,169.8 L336.0,169.7 L336.5,168.7 L337.1,167.7 L337.6,166.6 L338.2,165.6 L338.7,164.5 L340.0,162.1 L344.0,154.6 L348.0,147.0 L352.0,139.5 L356.0,132.2 L360.0,125.1 L364.0,118.3 L368.0,111.9 L372.0,105.8 L376.0,100.1 L380.0,94.8 L384.0,89.9 L388.0,85.4 L392.0,81.4 L396.0,77.7 L400.0,74.3 L404.0,71.3 L408.0,68.7 L412.0,66.3 L416.0,64.2 L420.0,62.3 L424.0,60.6 L428.0,59.2 L432.0,57.9 L436.0,56.8 L440.0,55.8 L444.0,54.9 L448.0,54.1 L452.0,53.5 L456.0,52.9 L460.0,52.4 L464.0,52.0 L468.0,51.6 L472.0,51.2 L476.0,50.9 L480.0,50.7 L484.0,50.5 L488.0,50.3 L492.0,50.1 L496.0,50.0 L500.0,49.8 L504.0,49.7 L508.0,49.6 L512.0,49.5 L516.0,49.5 L520.0,49.4 L524.0,49.4 L528.0,49.3 L532.0,49.3 L536.0,49.2 L540.0,49.2 L544.0,49.2 L548.0,49.2 L552.0,49.1 L556.0,49.1 L560.0,49.1 L564.0,49.1 L568.0,49.1 L572.0,49.1 L576.0,49.1 L580.0,49.0 L584.0,49.0 L588.0,49.0 L592.0,49.0 L596.0,49.0 L600.0,49.0 L604.0,49.0 L608.0,49.0 L612.0,49.0 L616.0,49.0 L620.0,49.0 L624.0,49.0 L628.0,49.0 L632.0,49.0 L636.0,49.0 L640.0,49.0 L644.0,49.0 L648.0,49.0 L652.0,49.0 L656.0,49.0 L660.0,49.0 L664.0,49.0 L668.0,49.0 L672.0,49.0 L676.0,49.0"/>
<path stroke="#6ab2fa" d="M92.0,263.5 L96.0,263.5 L100.0,263.4 L104.0,263.4 L108.0,263.3 L112.0,263.2 L116.0,263.2 L120.0,263.1 L124.0,263.0 L128.0,262.9 L132.0,262.8 L136.0,262.7 L140.0,262.5 L144.0,262.4 L148.0,262.2 L152.0,262.1 L156.0,261.9 L160.0,261.7 L164.0,261.4 L168.0,261.2 L172.0,260.9 L176.0,260.6 L180.0,260.3 L184.0,259.9 L188.0,259.5 L192.0,259.1 L196.0,258.6 L200.0,258.1 L204.0,257.6 L208.0,257.0 L212.0,256.3 L216.0,255.6 L220.0,254.8 L224.0,253.9 L228.0,253.0 L232.0,252.0 L236.0,250.9 L240.0,249.7 L244.0,248.4 L248.0,247.0 L252.0,245.4 L256.0,243.8 L260.0,242.0 L264.0,240.1 L268.0,238.0 L272.0,235.8 L276.0,233.4 L280.0,230.9 L284.0,228.2 L288.0,225.3 L292.0,222.3 L296.0,219.0 L300.0,215.6 L304.0,212.0 L308.0,208.3 L312.0,204.3 L316.0,200.2 L316.8,199.3 L317.4,198.7 L318.0,198.1 L318.5,197.5 L319.1,196.9 L319.6,196.3 L320.0,195.9 L320.2,195.7 L320.8,195.1 L321.3,194.5 L321.9,193.8 L322.5,193.2 L323.0,192.6 L323.6,192.0 L324.0,191.5 L324.1,191.3 L324.7,190.7 L325.3,190.1 L325.8,189.4 L326.4,188.8 L326.9,188.1 L327.5,187.5 L328.0,186.9 L328.1,186.9 L328.6,186.2 L329.2,185.5 L329.8,184.9 L330.3,184.2 L330.9,183.6 L331.4,182.9 L332.0,182.3 L332.0,182.3 L332.6,181.6 L333.1,180.9 L333.7,180.2 L334.2,179.6 L334.8,178.9 L335.4,178.2 L335.9,177.5 L336.0,177.5 L336.5,176.9 L337.1,176.2 L337.6,175.5 L338.2,174.8 L338.7,174.1 L340.0,172.6 L344.0,167.6 L348.0,162.7 L352.0,157.6 L356.0,152.6 L360.0,147.6 L364.0,142.6 L368.0,137.7 L372.0,132.9 L376.0,128.2 L380.0,123.5 L384.0,119.1 L388.0,114.7 L392.0,110.5 L396.0,106.5 L400.0,102.7 L404.0,99.0 L408.0,95.5 L412.0,92.2 L416.0,89.0 L420.0,86.1 L424.0,83.3 L428.0,80.7 L432.0,78.2 L436.0,76.0 L440.0,73.8 L444.0,71.8 L448.0,70.0 L452.0,68.3 L456.0,66.7 L460.0,65.3 L464.0,63.9 L468.0,62.7 L472.0,61.5 L476.0,60.5 L480.0,59.5 L484.0,58.6 L488.0,57.8 L492.0,57.0 L496.0,56.3 L500.0,55.7 L504.0,55.1 L508.0,54.6 L512.0,54.1 L516.0,53.6 L520.0,53.2 L524.0,52.9 L528.0,52.5 L532.0,52.2 L536.0,51.9 L540.0,51.7 L544.0,51.4 L548.0,51.2 L552.0,51.0 L556.0,50.8 L560.0,50.7 L564.0,50.5 L568.0,50.4 L572.0,50.3 L576.0,50.2 L580.0,50.1 L584.0,50.0 L588.0,49.9 L592.0,49.8 L596.0,49.7 L600.0,49.7 L604.0,49.6 L608.0,49.6 L612.0,49.5 L616.0,49.5 L620.0,49.4 L624.0,49.4 L628.0,49.3 L632.0,49.3 L636.0,49.3 L640.0,49.3 L644.0,49.2 L648.0,49.2 L652.0,49.2 L656.0,49.2 L660.0,49.2 L664.0,49.1 L668.0,49.1 L672.0,49.1 L676.0,49.1"/>
<path stroke="#fa7676" d="M92.0,262.9 L96.0,262.8 L100.0,262.7 L104.0,262.6 L108.0,262.5 L112.0,262.4 L116.0,262.3 L120.0,262.1 L124.0,261.9 L128.0,261.8 L132.0,261.6 L136.0,261.4 L140.0,261.1 L144.0,260.9 L148.0,260.6 L152.0,260.4 L156.0,260.0 L160.0,259.7 L164.0,259.4 L168.0,259.0 L172.0,258.5 L176.0,258.1 L180.0,257.6 L184.0,257.0 L188.0,256.5 L192.0,255.8 L196.0,255.2 L200.0,254.4 L204.0,253.7 L208.0,252.8 L212.0,251.9 L216.0,250.9 L220.0,249.9 L224.0,248.7 L228.0,247.5 L232.0,246.2 L236.0,244.8 L240.0,243.3 L244.0,241.7 L248.0,240.0 L252.0,238.2 L256.0,236.2 L260.0,234.2 L264.0,232.0 L268.0,229.7 L272.0,227.2 L276.0,224.6 L280.0,221.9 L284.0,219.0 L288.0,216.0 L292.0,212.8 L296.0,209.5 L300.0,206.1 L304.0,202.5 L308.0,198.8 L312.0,195.0 L316.0,191.1 L316.8,190.2 L317.4,189.7 L318.0,189.1 L318.5,188.5 L319.1,188.0 L319.6,187.4 L320.0,187.0 L320.2,186.8 L320.8,186.2 L321.3,185.7 L321.9,185.1 L322.5,184.5 L323.0,183.9 L323.6,183.3 L324.0,182.9 L324.1,182.8 L324.7,182.2 L325.3,181.6 L325.8,181.0 L326.4,180.4 L326.9,179.8 L327.5,179.2 L328.0,178.7 L328.1,178.6 L328.6,178.0 L329.2,177.4 L329.8,176.8 L330.3,176.2 L330.9,175.6 L331.4,175.0 L332.0,174.4 L332.0,174.4 L332.6,173.8 L333.1,173.2 L333.7,172.6 L334.2,171.9 L334.8,171.3 L335.4,170.7 L335.9,170.1 L336.0,170.0 L336.5,169.5 L337.1,168.9 L337.6,168.3 L338.2,167.6 L338.7,167.0 L340.0,165.6 L344.0,161.2 L348.0,156.8 L352.0,152.3 L356.0,147.9 L360.0,143.5 L364.0,139.1 L368.0,134.8 L372.0,130.6 L376.0,126.4 L380.0,122.4 L384.0,118.4 L388.0,114.6 L392.0,110.9 L396.0,107.3 L400.0,103.9 L404.0,100.5 L408.0,97.4 L412.0,94.3 L416.0,91.5 L420.0,88.7 L424.0,86.1 L428.0,83.6 L432.0,81.3 L436.0,79.1 L440.0,77.0 L444.0,75.0 L448.0,73.2 L452.0,71.5 L456.0,69.9 L460.0,68.4 L464.0,67.0 L468.0,65.6 L472.0,64.4 L476.0,63.3 L480.0,62.2 L484.0,61.2 L488.0,60.3 L492.0,59.4 L496.0,58.6 L500.0,57.9 L504.0,57.2 L508.0,56.6 L512.0,56.0 L516.0,55.5 L520.0,55.0 L524.0,54.5 L528.0,54.1 L532.0,53.7 L536.0,53.3 L540.0,53.0 L544.0,52.7 L548.0,52.4 L552.0,52.1 L556.0,51.9 L560.0,51.7 L564.0,51.4 L568.0,51.3 L572.0,51.1 L576.0,50.9 L580.0,50.8 L584.0,50.6 L588.0,50.5 L592.0,50.4 L596.0,50.3 L600.0,50.2 L604.0,50.1 L608.0,50.0 L612.0,49.9 L616.0,49.8 L620.0,49.8 L624.0,49.7 L628.0,49.7 L632.0,49.6 L636.0,49.6 L640.0,49.5 L644.0,49.5 L648.0,49.4 L652.0,49.4 L656.0,49.4 L660.0,49.3 L664.0,49.3 L668.0,49.3 L672.0,49.3 L676.0,49.2"/>
<path stroke="#6ab2fa" d="M92.0,264.0 L96.0,264.0 L100.0,264.0 L104.0,264.0 L108.0,264.0 L112.0,264.0 L116.0,264.0 L120.0,264.0 L124.0,264.0 L128.0,264.0 L132.0,264.0 L136.0,264.0 L140.0,264.0 L144.0,264.0 L148.0,264.0 L152.0,264.0 L156.0,264.0 L160.0,264.0 L164.0,264.0 L168.0,264.0 L172.0,264.0 L176.0,263.9 L180.0,263.9 L184.0,263.9 L188.0,263.9 L192.0,263.9 L196.0,263.9 L200.0,263.8 L204.0,263.8 L208.0,263.8 L212.0,263.7 L216.0,263.7 L220.0,263.6 L224.0,263.5 L228.0,263.4 L232.0,263.3 L236.0,263.2 L240.0,263.0 L244.0,262.8 L248.0,262.6 L252.0,262.3 L256.0,261.9 L260.0,261.5 L264.0,261.0 L268.0,260.4 L272.0,259.7 L276.0,258.9 L280.0,257.9 L284.0,256.7 L288.0,255.3 L292.0,253.7 L296.0,251.7 L300.0,249.4 L304.0,246.8 L308.0,243.6 L312.0,240.0 L316.0,235.8 L316.8,234.9 L317.4,234.2 L318.0,233.6 L318.5,232.9 L319.1,232.2 L319.6,231.5 L320.0,231.0 L320.2,230.8 L320.8,230.0 L321.3,229.3 L321.9,228.6 L322.5,227.8 L323.0,227.0 L323.6,226.2 L324.0,225.6 L324.1,225.4 L324.7,224.6 L325.3,223.8 L325.8,222.9 L326.4,222.1 L326.9,221.2 L327.5,220.3 L328.0,219.5 L328.1,219.4 L328.6,218.5 L329.2,217.6 L329.8,216.6 L330.3,215.7 L330.9,214.7 L331.4,213.7 L332.0,212.7 L332.0,212.7 L332.6,211.7 L333.1,210.7 L333.7,209.7 L334.2,208.6 L334.8,207.6 L335.4,206.5 L335.9,205.4 L336.0,205.3 L336.5,204.3 L337.1,203.2 L337.6,202.1 L338.2,200.9 L338.7,199.8 L340.0,197.2 L344.0,188.5 L348.0,179.3 L352.0,169.8 L356.0,160.0 L360.0,150.2 L364.0,140.5 L368.0,131.0 L372.0,122.0 L376.0,113.5 L380.0,105.5 L384.0,98.3 L388.0,91.7 L392.0,85.8 L396.0,80.5 L400.0,75.9 L404.0,71.9 L408.0,68.4 L412.0,65.4 L416.0,62.9 L420.0,60.7 L424.0,58.8 L428.0,57.2 L432.0,55.9 L436.0,54.8 L440.0,53.8 L444.0,53.0 L448.0,52.4 L452.0,51.8 L456.0,51.4 L460.0,51.0 L464.0,50.6 L468.0,50.4 L472.0,50.1 L476.0,50.0 L480.0,49.8 L484.0,49.7 L488.0,49.6 L492.0,49.5 L496.0,49.4 L500.0,49.3 L504.0,49.3 L508.0,49.2 L512.0,49.2 L516.0,49.2 L520.0,49.1 L524.0,49.1 L528.0,49.1 L532.0,49.1 L536.0,49.1 L540.0,49.1 L544.0,49.0 L548.0,49.0 L552.0,49.0 L556.0,49.0 L560.0,49.0 L564.0,49.0 L568.0,49.0 L572.0,49.0 L576.0,49.0 L580.0,49.0 L584.0,49.0 L588.0,49.0 L592.0,49.0 L596.0,49.0 L600.0,49.0 L604.0,49.0 L608.0,49.0 L612.0,49.0 L616.0,49.0 L620.0,49.0 L624.0,49.0 L628.0,49.0 L632.0,49.0 L636.0,49.0 L640.0,49.0 L644.0,49.0 L648.0,49.0 L652.0,49.0 L656.0,49.0 L660.0,49.0 L664.0,49.0 L668.0,49.0 L672.0,49.0 L676.0,49.0"/>
<path stroke="#fa7676" d="M92.0,264.0 L96.0,264.0 L100.0,264.0 L104.0,264.0 L108.0,264.0 L112.0,264.0 L116.0,264.0 L120.0,264.0 L124.0,264.0 L128.0,264.0 L132.0,264.0 L136.0,263.9 L140.0,263.9 L144.0,263.9 L148.0,263.9 L152.0,263.9 L156.0,263.9 L160.0,263.9 L164.0,263.8 L168.0,263.8 L172.0,263.8 L176.0,263.8 L180.0,263.7 L184.0,263.7 L188.0,263.6 L192.0,263.5 L196.0,263.5 L200.0,263.4 L204.0,263.3 L208.0,263.1 L212.0,263.0 L216.0,262.8 L220.0,262.6 L224.0,262.4 L228.0,262.1 L232.0,261.8 L236.0,261.5 L240.0,261.0 L244.0,260.6 L248.0,260.0 L252.0,259.3 L256.0,258.6 L260.0,257.7 L264.0,256.6 L268.0,255.5 L272.0,254.1 L276.0,252.5 L280.0,250.7 L284.0,248.6 L288.0,246.2 L292.0,243.5 L296.0,240.4 L300.0,237.0 L304.0,233.1 L308.0,228.7 L312.0,223.9 L316.0,218.6 L316.8,217.4 L317.4,216.6 L318.0,215.8 L318.5,214.9 L319.1,214.1 L319.6,213.3 L320.0,212.7 L320.2,212.4 L320.8,211.5 L321.3,210.7 L321.9,209.8 L322.5,208.9 L323.0,208.0 L323.6,207.1 L324.0,206.4 L324.1,206.2 L324.7,205.2 L325.3,204.3 L325.8,203.4 L326.4,202.4 L326.9,201.4 L327.5,200.5 L328.0,199.6 L328.1,199.5 L328.6,198.5 L329.2,197.5 L329.8,196.5 L330.3,195.5 L330.9,194.4 L331.4,193.4 L332.0,192.4 L332.0,192.4 L332.6,191.3 L333.1,190.3 L333.7,189.2 L334.2,188.1 L334.8,187.1 L335.4,186.0 L335.9,184.9 L336.0,184.8 L336.5,183.8 L337.1,182.7 L337.6,181.6 L338.2,180.5 L338.7,179.4 L340.0,176.8 L344.0,168.7 L348.0,160.3 L352.0,152.0 L356.0,143.7 L360.0,135.5 L364.0,127.6 L368.0,120.0 L372.0,112.8 L376.0,106.1 L380.0,99.8 L384.0,94.0 L388.0,88.7 L392.0,83.9 L396.0,79.6 L400.0,75.7 L404.0,72.3 L408.0,69.3 L412.0,66.6 L416.0,64.2 L420.0,62.2 L424.0,60.4 L428.0,58.8 L432.0,57.4 L436.0,56.3 L440.0,55.2 L444.0,54.4 L448.0,53.6 L452.0,53.0 L456.0,52.4 L460.0,51.9 L464.0,51.5 L468.0,51.1 L472.0,50.8 L476.0,50.6 L480.0,50.3 L484.0,50.2 L488.0,50.0 L492.0,49.8 L496.0,49.7 L500.0,49.6 L504.0,49.5 L508.0,49.5 L512.0,49.4 L516.0,49.3 L520.0,49.3 L524.0,49.2 L528.0,49.2 L532.0,49.2 L536.0,49.2 L540.0,49.1 L544.0,49.1 L548.0,49.1 L552.0,49.1 L556.0,49.1 L560.0,49.1 L564.0,49.1 L568.0,49.0 L572.0,49.0 L576.0,49.0 L580.0,49.0 L584.0,49.0 L588.0,49.0 L592.0,49.0 L596.0,49.0 L600.0,49.0 L604.0,49.0 L608.0,49.0 L612.0,49.0 L616.0,49.0 L620.0,49.0 L624.0,49.0 L628.0,49.0 L632.0,49.0 L636.0,49.0 L640.0,49.0 L644.0,49.0 L648.0,49.0 L652.0,49.0 L656.0,49.0 L660.0,49.0 L664.0,49.0 L668.0,49.0 L672.0,49.0 L676.0,49.0"/>
<path stroke="#6ab2fa" d="M92.0,264.0 L96.0,264.0 L100.0,264.0 L104.0,264.0 L108.0,264.0 L112.0,264.0 L116.0,264.0 L120.0,264.0 L124.0,264.0 L128.0,264.0 L132.0,264.0 L136.0,264.0 L140.0,264.0 L144.0,264.0 L148.0,264.0 L152.0,264.0 L156.0,264.0 L160.0,264.0 L164.0,264.0 L168.0,264.0 L172.0,264.0 L176.0,264.0 L180.0,263.9 L184.0,263.9 L188.0,263.9 L192.0,263.9 L196.0,263.9 L200.0,263.9 L204.0,263.8 L208.0,263.8 L212.0,263.8 L216.0,263.7 L220.0,263.7 L224.0,263.6 L228.0,263.5 L232.0,263.4 L236.0,263.3 L240.0,263.2 L244.0,263.0 L248.0,262.8 L252.0,262.5 L256.0,262.2 L260.0,261.9 L264.0,261.5 L268.0,261.0 L272.0,260.4 L276.0,259.6 L280.0,258.8 L284.0,257.7 L288.0,256.5 L292.0,255.0 L296.0,253.3 L300.0,251.3 L304.0,248.9 L308.0,246.0 L312.0,242.8 L316.0,238.9 L316.8,238.1 L317.4,237.5 L318.0,236.9 L318.5,236.2 L319.1,235.6 L319.6,235.0 L320.0,234.5 L320.2,234.3 L320.8,233.6 L321.3,232.9 L321.9,232.2 L322.5,231.5 L323.0,230.8 L323.6,230.1 L324.0,229.5 L324.1,229.3 L324.7,228.6 L325.3,227.8 L325.8,227.0 L326.4,226.2 L326.9,225.4 L327.5,224.5 L328.0,223.8 L328.1,223.7 L328.6,222.8 L329.2,222.0 L329.8,221.1 L330.3,220.2 L330.9,219.3 L331.4,218.3 L332.0,217.4 L332.0,217.4 L332.6,216.4 L333.1,215.5 L333.7,214.5 L334.2,213.5 L334.8,212.5 L335.4,211.5 L335.9,210.4 L336.0,210.3 L336.5,209.4 L337.1,208.3 L337.6,207.2 L338.2,206.1 L338.7,205.0 L340.0,202.5 L344.0,194.1 L348.0,185.1 L352.0,175.6 L356.0,165.8 L360.0,155.9 L364.0,146.0 L368.0,136.3 L372.0,126.9 L376.0,117.9 L380.0,109.5 L384.0,101.8 L388.0,94.8 L392.0,88.5 L396.0,82.9 L400.0,77.9 L404.0,73.6 L408.0,69.8 L412.0,66.6 L416.0,63.8 L420.0,61.5 L424.0,59.5 L428.0,57.8 L432.0,56.3 L436.0,55.1 L440.0,54.1 L444.0,53.3 L448.0,52.6 L452.0,52.0 L456.0,51.5 L460.0,51.1 L464.0,50.7 L468.0,50.4 L472.0,50.2 L476.0,50.0 L480.0,49.8 L484.0,49.7 L488.0,49.6 L492.0,49.5 L496.0,49.4 L500.0,49.3 L504.0,49.3 L508.0,49.2 L512.0,49.2 L516.0,49.2 L520.0,49.1 L524.0,49.1 L528.0,49.1 L532.0,49.1 L536.0,49.1 L540.0,49.1 L544.0,49.0 L548.0,49.0 L552.0,49.0 L556.0,49.0 L560.0,49.0 L564.0,49.0 L568.0,49.0 L572.0,49.0 L576.0,49.0 L580.0,49.0 L584.0,49.0 L588.0,49.0 L592.0,49.0 L596.0,49.0 L600.0,49.0 L604.0,49.0 L608.0,49.0 L612.0,49.0 L616.0,49.0 L620.0,49.0 L624.0,49.0 L628.0,49.0 L632.0,49.0 L636.0,49.0 L640.0,49.0 L644.0,49.0 L648.0,49.0 L652.0,49.0 L656.0,49.0 L660.0,49.0 L664.0,49.0 L668.0,49.0 L672.0,49.0 L676.0,49.0"/>
<path stroke="#fa7676" d="M92.0,263.8 L96.0,263.8 L100.0,263.7 L104.0,263.7 L108.0,263.7 L112.0,263.6 L116.0,263.6 L120.0,263.5 L124.0,263.5 L128.0,263.4 L132.0,263.4 L136.0,263.3 L140.0,263.2 L144.0,263.1 L148.0,263.0 L152.0,262.9 L156.0,262.8 L160.0,262.7 L164.0,262.5 L168.0,262.4 L172.0,262.2 L176.0,262.0 L180.0,261.8 L184.0,261.5 L188.0,261.2 L192.0,260.9 L196.0,260.6 L200.0,260.2 L204.0,259.8 L208.0,259.4 L212.0,258.8 L216.0,258.3 L220.0,257.7 L224.0,257.0 L228.0,256.2 L232.0,255.4 L236.0,254.4 L240.0,253.4 L244.0,252.3 L248.0,251.1 L252.0,249.7 L256.0,248.2 L260.0,246.6 L264.0,244.9 L268.0,242.9 L272.0,240.8 L276.0,238.5 L280.0,236.0 L284.0,233.4 L288.0,230.5 L292.0,227.3 L296.0,224.0 L300.0,220.4 L304.0,216.6 L308.0,212.6 L312.0,208.3 L316.0,203.8 L316.8,202.8 L317.4,202.2 L318.0,201.5 L318.5,200.9 L319.1,200.2 L319.6,199.5 L320.0,199.1 L320.2,198.9 L320.8,198.2 L321.3,197.5 L321.9,196.8 L322.5,196.1 L323.0,195.4 L323.6,194.7 L324.0,194.2 L324.1,194.0 L324.7,193.3 L325.3,192.6 L325.8,191.9 L326.4,191.2 L326.9,190.5 L327.5,189.7 L328.0,189.1 L328.1,189.0 L328.6,188.3 L329.2,187.5 L329.8,186.8 L330.3,186.1 L330.9,185.3 L331.4,184.6 L332.0,183.8 L332.0,183.8 L332.6,183.1 L333.1,182.3 L333.7,181.6 L334.2,180.8 L334.8,180.1 L335.4,179.3 L335.9,178.5 L336.0,178.4 L336.5,177.8 L337.1,177.0 L337.6,176.2 L338.2,175.4 L338.7,174.7 L340.0,172.9 L344.0,167.3 L348.0,161.6 L352.0,155.9 L356.0,150.2 L360.0,144.5 L364.0,138.9 L368.0,133.4 L372.0,128.1 L376.0,122.8 L380.0,117.8 L384.0,112.9 L388.0,108.2 L392.0,103.8 L396.0,99.6 L400.0,95.6 L404.0,91.8 L408.0,88.3 L412.0,85.0 L416.0,81.9 L420.0,79.1 L424.0,76.4 L428.0,74.0 L432.0,71.7 L436.0,69.7 L440.0,67.8 L444.0,66.0 L448.0,64.4 L452.0,63.0 L456.0,61.7 L460.0,60.4 L464.0,59.4 L468.0,58.4 L472.0,57.4 L476.0,56.6 L480.0,55.9 L484.0,55.2 L488.0,54.6 L492.0,54.0 L496.0,53.6 L500.0,53.1 L504.0,52.7 L508.0,52.3 L512.0,52.0 L516.0,51.7 L520.0,51.4 L524.0,51.2 L528.0,51.0 L532.0,50.8 L536.0,50.6 L540.0,50.4 L544.0,50.3 L548.0,50.2 L552.0,50.0 L556.0,49.9 L560.0,49.8 L564.0,49.8 L568.0,49.7 L572.0,49.6 L576.0,49.6 L580.0,49.5 L584.0,49.4 L588.0,49.4 L592.0,49.4 L596.0,49.3 L600.0,49.3 L604.0,49.3 L608.0,49.2 L612.0,49.2 L616.0,49.2 L620.0,49.2 L624.0,49.2 L628.0,49.1 L632.0,49.1 L636.0,49.1 L640.0,49.1 L644.0,49.1 L648.0,49.1 L652.0,49.1 L656.0,49.1 L660.0,49.1 L664.0,49.1 L668.0,49.0 L672.0,49.0 L676.0,49.0"/>
<path stroke="#6ab2fa" d="M92.0,264.0 L96.0,264.0 L100.0,264.0 L104.0,264.0 L108.0,264.0 L112.0,264.0 L116.0,264.0 L120.0,264.0 L124.0,264.0 L128.0,264.0 L132.0,264.0 L136.0,264.0 L140.0,264.0 L144.0,264.0 L148.0,264.0 L152.0,264.0 L156.0,264.0 L160.0,264.0 L164.0,264.0 L168.0,264.0 L172.0,264.0 L176.0,264.0 L180.0,264.0 L184.0,264.0 L188.0,264.0 L192.0,264.0 L196.0,264.0 L200.0,264.0 L204.0,264.0 L208.0,264.0 L212.0,264.0 L216.0,264.0 L220.0,264.0 L224.0,264.0 L228.0,263.9 L232.0,263.9 L236.0,263.9 L240.0,263.9 L244.0,263.8 L248.0,263.8 L252.0,263.7 L256.0,263.7 L260.0,263.6 L264.0,263.4 L268.0,263.3 L272.0,263.1 L276.0,262.8 L280.0,262.5 L284.0,262.1 L288.0,261.6 L292.0,260.9 L296.0,260.1 L300.0,259.0 L304.0,257.6 L308.0,255.9 L312.0,253.8 L316.0,251.2 L316.8,250.5 L317.4,250.1 L318.0,249.6 L318.5,249.2 L319.1,248.7 L319.6,248.2 L320.0,247.9 L320.2,247.7 L320.8,247.2 L321.3,246.6 L321.9,246.1 L322.5,245.5 L323.0,244.9 L323.6,244.3 L324.0,243.8 L324.1,243.7 L324.7,243.0 L325.3,242.4 L325.8,241.7 L326.4,241.0 L326.9,240.3 L327.5,239.5 L328.0,238.9 L328.1,238.8 L328.6,238.0 L329.2,237.2 L329.8,236.4 L330.3,235.6 L330.9,234.7 L331.4,233.8 L332.0,232.9 L332.0,232.9 L332.6,232.0 L333.1,231.1 L333.7,230.1 L334.2,229.1 L334.8,228.1 L335.4,227.0 L335.9,226.0 L336.0,225.8 L336.5,224.9 L337.1,223.8 L337.6,222.6 L338.2,221.5 L338.7,220.3 L340.0,217.6 L344.0,208.0 L348.0,197.3 L352.0,185.6 L356.0,173.1 L360.0,160.0 L364.0,146.9 L368.0,134.1 L372.0,121.9 L376.0,110.6 L380.0,100.4 L384.0,91.5 L388.0,83.7 L392.0,77.2 L396.0,71.7 L400.0,67.2 L404.0,63.5 L408.0,60.5 L412.0,58.1 L416.0,56.2 L420.0,54.7 L424.0,53.5 L428.0,52.5 L432.0,51.8 L436.0,51.2 L440.0,50.7 L444.0,50.3 L448.0,50.1 L452.0,49.8 L456.0,49.6 L460.0,49.5 L464.0,49.4 L468.0,49.3 L472.0,49.2 L476.0,49.2 L480.0,49.1 L484.0,49.1 L488.0,49.1 L492.0,49.1 L496.0,49.1 L500.0,49.0 L504.0,49.0 L508.0,49.0 L512.0,49.0 L516.0,49.0 L520.0,49.0 L524.0,49.0 L528.0,49.0 L532.0,49.0 L536.0,49.0 L540.0,49.0 L544.0,49.0 L548.0,49.0 L552.0,49.0 L556.0,49.0 L560.0,49.0 L564.0,49.0 L568.0,49.0 L572.0,49.0 L576.0,49.0 L580.0,49.0 L584.0,49.0 L588.0,49.0 L592.0,49.0 L596.0,49.0 L600.0,49.0 L604.0,49.0 L608.0,49.0 L612.0,49.0 L616.0,49.0 L620.0,49.0 L624.0,49.0 L628.0,49.0 L632.0,49.0 L636.0,49.0 L640.0,49.0 L644.0,49.0 L648.0,49.0 L652.0,49.0 L656.0,49.0 L660.0,49.0 L664.0,49.0 L668.0,49.0 L672.0,49.0 L676.0,49.0"/>
<path stroke="#fa7676" d="M92.0,263.7 L96.0,263.7 L100.0,263.6 L104.0,263.6 L108.0,263.5 L112.0,263.5 L116.0,263.4 L120.0,263.4 L124.0,263.3 L128.0,263.2 L132.0,263.1 L136.0,263.1 L140.0,263.0 L144.0,262.9 L148.0,262.7 L152.0,262.6 L156.0,262.5 L160.0,262.3 L164.0,262.1 L168.0,261.9 L172.0,261.7 L176.0,261.5 L180.0,261.2 L184.0,260.9 L188.0,260.6 L192.0,260.3 L196.0,259.9 L200.0,259.4 L204.0,259.0 L208.0,258.5 L212.0,257.9 L216.0,257.3 L220.0,256.6 L224.0,255.9 L228.0,255.0 L232.0,254.2 L236.0,253.2 L240.0,252.1 L244.0,250.9 L248.0,249.7 L252.0,248.3 L256.0,246.7 L260.0,245.1 L264.0,243.3 L268.0,241.4 L272.0,239.3 L276.0,237.0 L280.0,234.6 L284.0,231.9 L288.0,229.1 L292.0,226.1 L296.0,222.9 L300.0,219.5 L304.0,215.9 L308.0,212.1 L312.0,208.0 L316.0,203.8 L316.8,202.9 L317.4,202.3 L318.0,201.7 L318.5,201.0 L319.1,200.4 L319.6,199.8 L320.0,199.4 L320.2,199.2 L320.8,198.5 L321.3,197.9 L321.9,197.2 L322.5,196.6 L323.0,195.9 L323.6,195.3 L324.0,194.8 L324.1,194.6 L324.7,194.0 L325.3,193.3 L325.8,192.7 L326.4,192.0 L326.9,191.3 L327.5,190.6 L328.0,190.0 L328.1,190.0 L328.6,189.3 L329.2,188.6 L329.8,187.9 L330.3,187.2 L330.9,186.5 L331.4,185.8 L332.0,185.1 L332.0,185.1 L332.6,184.4 L333.1,183.7 L333.7,183.0 L334.2,182.3 L334.8,181.6 L335.4,180.9 L335.9,180.2 L336.0,180.1 L336.5,179.5 L337.1,178.8 L337.6,178.0 L338.2,177.3 L338.7,176.6 L340.0,175.0 L344.0,169.7 L348.0,164.4 L352.0,159.1 L356.0,153.7 L360.0,148.4 L364.0,143.1 L368.0,137.8 L372.0,132.7 L376.0,127.7 L380.0,122.8 L384.0,118.0 L388.0,113.4 L392.0,109.0 L396.0,104.8 L400.0,100.8 L404.0,97.0 L408.0,93.4 L412.0,90.0 L416.0,86.8 L420.0,83.8 L424.0,81.0 L428.0,78.3 L432.0,75.9 L436.0,73.6 L440.0,71.6 L444.0,69.6 L448.0,67.8 L452.0,66.2 L456.0,64.7 L460.0,63.3 L464.0,62.0 L468.0,60.9 L472.0,59.8 L476.0,58.8 L480.0,57.9 L484.0,57.1 L488.0,56.4 L492.0,55.7 L496.0,55.1 L500.0,54.5 L504.0,54.0 L508.0,53.5 L512.0,53.1 L516.0,52.7 L520.0,52.4 L524.0,52.1 L528.0,51.8 L532.0,51.5 L536.0,51.3 L540.0,51.1 L544.0,50.9 L548.0,50.7 L552.0,50.5 L556.0,50.4 L560.0,50.3 L564.0,50.1 L568.0,50.0 L572.0,49.9 L576.0,49.8 L580.0,49.8 L584.0,49.7 L588.0,49.6 L592.0,49.6 L596.0,49.5 L600.0,49.5 L604.0,49.4 L608.0,49.4 L612.0,49.3 L616.0,49.3 L620.0,49.3 L624.0,49.3 L628.0,49.2 L632.0,49.2 L636.0,49.2 L640.0,49.2 L644.0,49.2 L648.0,49.1 L652.0,49.1 L656.0,49.1 L660.0,49.1 L664.0,49.1 L668.0,49.1 L672.0,49.1 L676.0,49.1"/>
<path stroke="#6ab2fa" d="M92.0,264.0 L96.0,264.0 L100.0,264.0 L104.0,264.0 L108.0,264.0 L112.0,264.0 L116.0,263.9 L120.0,263.9 L124.0,263.9 L128.0,263.9 L132.0,263.9 L136.0,263.9 L140.0,263.9 L144.0,263.9 L148.0,263.8 L152.0,263.8 L156.0,263.8 L160.0,263.8 L164.0,263.7 L168.0,263.7 L172.0,263.6 L176.0,263.6 L180.0,263.5 L184.0,263.4 L188.0,263.4 L192.0,263.3 L196.0,263.2 L200.0,263.1 L204.0,262.9 L208.0,262.8 L212.0,262.6 L216.0,262.4 L220.0,262.2 L224.0,261.9 L228.0,261.6 L232.0,261.3 L236.0,260.9 L240.0,260.5 L244.0,260.0 L248.0,259.4 L252.0,258.8 L256.0,258.1 L260.0,257.2 L264.0,256.3 L268.0,255.2 L272.0,254.0 L276.0,252.7 L280.0,251.2 L284.0,249.5 L288.0,247.5 L292.0,245.4 L296.0,243.0 L300.0,240.3 L304.0,237.4 L308.0,234.1 L312.0,230.5 L316.0,226.5 L316.8,225.6 L317.4,225.0 L318.0,224.4 L318.5,223.8 L319.1,223.2 L319.6,222.6 L320.0,222.2 L320.2,222.0 L320.8,221.3 L321.3,220.7 L321.9,220.0 L322.5,219.4 L323.0,218.7 L323.6,218.0 L324.0,217.5 L324.1,217.3 L324.7,216.6 L325.3,215.9 L325.8,215.2 L326.4,214.5 L326.9,213.8 L327.5,213.1 L328.0,212.5 L328.1,212.4 L328.6,211.6 L329.2,210.9 L329.8,210.1 L330.3,209.4 L330.9,208.6 L331.4,207.8 L332.0,207.0 L332.0,207.0 L332.6,206.2 L333.1,205.4 L333.7,204.6 L334.2,203.8 L334.8,203.0 L335.4,202.2 L335.9,201.4 L336.0,201.3 L336.5,200.5 L337.1,199.7 L337.6,198.8 L338.2,198.0 L338.7,197.1 L340.0,195.2 L344.0,188.8 L348.0,182.1 L352.0,175.2 L356.0,168.2 L360.0,161.1 L364.0,153.9 L368.0,146.7 L372.0,139.6 L376.0,132.7 L380.0,126.0 L384.0,119.5 L388.0,113.3 L392.0,107.5 L396.0,102.0 L400.0,96.8 L404.0,92.0 L408.0,87.6 L412.0,83.6 L416.0,79.9 L420.0,76.5 L424.0,73.4 L428.0,70.7 L432.0,68.2 L436.0,66.0 L440.0,64.0 L444.0,62.3 L448.0,60.7 L452.0,59.3 L456.0,58.1 L460.0,57.0 L464.0,56.0 L468.0,55.2 L472.0,54.4 L476.0,53.7 L480.0,53.2 L484.0,52.7 L488.0,52.2 L492.0,51.8 L496.0,51.5 L500.0,51.2 L504.0,50.9 L508.0,50.7 L512.0,50.4 L516.0,50.3 L520.0,50.1 L524.0,50.0 L528.0,49.9 L532.0,49.7 L536.0,49.7 L540.0,49.6 L544.0,49.5 L548.0,49.4 L552.0,49.4 L556.0,49.3 L560.0,49.3 L564.0,49.3 L568.0,49.2 L572.0,49.2 L576.0,49.2 L580.0,49.2 L584.0,49.1 L588.0,49.1 L592.0,49.1 L596.0,49.1 L600.0,49.1 L604.0,49.1 L608.0,49.1 L612.0,49.1 L616.0,49.0 L620.0,49.0 L624.0,49.0 L628.0,49.0 L632.0,49.0 L636.0,49.0 L640.0,49.0 L644.0,49.0 L648.0,49.0 L652.0,49.0 L656.0,49.0 L660.0,49.0 L664.0,49.0 L668.0,49.0 L672.0,49.0 L676.0,49.0"/>
<path stroke="#fa7676" d="M92.0,264.0 L96.0,264.0 L100.0,264.0 L104.0,264.0 L108.0,264.0 L112.0,264.0 L116.0,264.0 L120.0,264.0 L124.0,264.0 L128.0,264.0 L132.0,264.0 L136.0,264.0 L140.0,264.0 L144.0,264.0 L148.0,264.0 L152.0,264.0 L156.0,264.0 L160.0,264.0 L164.0,264.0 L168.0,264.0 L172.0,264.0 L176.0,264.0 L180.0,264.0 L184.0,264.0 L188.0,264.0 L192.0,264.0 L196.0,264.0 L200.0,264.0 L204.0,264.0 L208.0,264.0 L212.0,263.9 L216.0,263.9 L220.0,263.9 L224.0,263.9 L228.0,263.9 L232.0,263.8 L236.0,263.8 L240.0,263.7 L244.0,263.7 L248.0,263.6 L252.0,263.5 L256.0,263.4 L260.0,263.2 L264.0,263.0 L268.0,262.8 L272.0,262.5 L276.0,262.1 L280.0,261.6 L284.0,261.0 L288.0,260.2 L292.0,259.3 L296.0,258.1 L300.0,256.7 L304.0,254.9 L308.0,252.8 L312.0,250.1 L316.0,246.8 L316.8,246.1 L317.4,245.5 L318.0,245.0 L318.5,244.4 L319.1,243.9 L319.6,243.3 L320.0,242.9 L320.2,242.7 L320.8,242.1 L321.3,241.4 L321.9,240.8 L322.5,240.1 L323.0,239.4 L323.6,238.7 L324.0,238.2 L324.1,238.0 L324.7,237.3 L325.3,236.5 L325.8,235.7 L326.4,234.9 L326.9,234.1 L327.5,233.3 L328.0,232.6 L328.1,232.5 L328.6,231.6 L329.2,230.7 L329.8,229.8 L330.3,228.9 L330.9,227.9 L331.4,227.0 L332.0,226.0 L332.0,226.0 L332.6,225.0 L333.1,224.0 L333.7,222.9 L334.2,221.9 L334.8,220.8 L335.4,219.7 L335.9,218.5 L336.0,218.4 L336.5,217.4 L337.1,216.2 L337.6,215.0 L338.2,213.8 L338.7,212.6 L340.0,209.7 L344.0,200.0 L348.0,189.4 L352.0,178.0 L356.0,166.1 L360.0,154.0 L364.0,141.9 L368.0,130.2 L372.0,119.1 L376.0,108.9 L380.0,99.6 L384.0,91.4 L388.0,84.2 L392.0,78.0 L396.0,72.8 L400.0,68.4 L404.0,64.8 L408.0,61.8 L412.0,59.3 L416.0,57.3 L420.0,55.7 L424.0,54.3 L428.0,53.3 L432.0,52.4 L436.0,51.7 L440.0,51.2 L444.0,50.8 L448.0,50.4 L452.0,50.1 L456.0,49.9 L460.0,49.7 L464.0,49.6 L468.0,49.5 L472.0,49.4 L476.0,49.3 L480.0,49.2 L484.0,49.2 L488.0,49.1 L492.0,49.1 L496.0,49.1 L500.0,49.1 L504.0,49.1 L508.0,49.0 L512.0,49.0 L516.0,49.0 L520.0,49.0 L524.0,49.0 L528.0,49.0 L532.0,49.0 L536.0,49.0 L540.0,49.0 L544.0,49.0 L548.0,49.0 L552.0,49.0 L556.0,49.0 L560.0,49.0 L564.0,49.0 L568.0,49.0 L572.0,49.0 L576.0,49.0 L580.0,49.0 L584.0,49.0 L588.0,49.0 L592.0,49.0 L596.0,49.0 L600.0,49.0 L604.0,49.0 L608.0,49.0 L612.0,49.0 L616.0,49.0 L620.0,49.0 L624.0,49.0 L628.0,49.0 L632.0,49.0 L636.0,49.0 L640.0,49.0 L644.0,49.0 L648.0,49.0 L652.0,49.0 L656.0,49.0 L660.0,49.0 L664.0,49.0 L668.0,49.0 L672.0,49.0 L676.0,49.0"/>
<path stroke="#6ab2fa" d="M92.0,264.0 L96.0,264.0 L100.0,264.0 L104.0,264.0 L108.0,264.0 L112.0,264.0 L116.0,264.0 L120.0,264.0 L124.0,264.0 L128.0,264.0 L132.0,264.0 L136.0,264.0 L140.0,264.0 L144.0,264.0 L148.0,264.0 L152.0,264.0 L156.0,263.9 L160.0,263.9 L164.0,263.9 L168.0,263.9 L172.0,263.9 L176.0,263.9 L180.0,263.9 L184.0,263.8 L188.0,263.8 L192.0,263.8 L196.0,263.7 L200.0,263.7 L204.0,263.6 L208.0,263.5 L212.0,263.5 L216.0,263.4 L220.0,263.3 L224.0,263.1 L228.0,263.0 L232.0,262.8 L236.0,262.6 L240.0,262.4 L244.0,262.1 L248.0,261.8 L252.0,261.4 L256.0,261.0 L260.0,260.4 L264.0,259.8 L268.0,259.1 L272.0,258.3 L276.0,257.4 L280.0,256.3 L284.0,255.0 L288.0,253.5 L292.0,251.8 L296.0,249.8 L300.0,247.5 L304.0,245.0 L308.0,242.0 L312.0,238.7 L316.0,234.9 L316.8,234.0 L317.4,233.4 L318.0,232.8 L318.5,232.2 L319.1,231.6 L319.6,231.0 L320.0,230.6 L320.2,230.4 L320.8,229.7 L321.3,229.1 L321.9,228.4 L322.5,227.8 L323.0,227.1 L323.6,226.4 L324.0,225.9 L324.1,225.7 L324.7,225.0 L325.3,224.3 L325.8,223.5 L326.4,222.8 L326.9,222.1 L327.5,221.3 L328.0,220.6 L328.1,220.5 L328.6,219.7 L329.2,219.0 L329.8,218.2 L330.3,217.3 L330.9,216.5 L331.4,215.7 L332.0,214.8 L332.0,214.8 L332.6,214.0 L333.1,213.1 L333.7,212.3 L334.2,211.4 L334.8,210.5 L335.4,209.6 L335.9,208.7 L336.0,208.5 L336.5,207.7 L337.1,206.8 L337.6,205.9 L338.2,204.9 L338.7,203.9 L340.0,201.7 L344.0,194.5 L348.0,186.8 L352.0,178.7 L356.0,170.4 L360.0,161.9 L364.0,153.4 L368.0,144.9 L372.0,136.5 L376.0,128.4 L380.0,120.6 L384.0,113.2 L388.0,106.2 L392.0,99.8 L396.0,93.9 L400.0,88.5 L404.0,83.6 L408.0,79.2 L412.0,75.3 L416.0,71.9 L420.0,68.8 L424.0,66.1 L428.0,63.8 L432.0,61.7 L436.0,59.9 L440.0,58.4 L444.0,57.1 L448.0,55.9 L452.0,54.9 L456.0,54.1 L460.0,53.3 L464.0,52.7 L468.0,52.2 L472.0,51.7 L476.0,51.3 L480.0,51.0 L484.0,50.7 L488.0,50.4 L492.0,50.2 L496.0,50.1 L500.0,49.9 L504.0,49.8 L508.0,49.7 L512.0,49.6 L516.0,49.5 L520.0,49.4 L524.0,49.3 L528.0,49.3 L532.0,49.3 L536.0,49.2 L540.0,49.2 L544.0,49.2 L548.0,49.1 L552.0,49.1 L556.0,49.1 L560.0,49.1 L564.0,49.1 L568.0,49.1 L572.0,49.1 L576.0,49.0 L580.0,49.0 L584.0,49.0 L588.0,49.0 L592.0,49.0 L596.0,49.0 L600.0,49.0 L604.0,49.0 L608.0,49.0 L612.0,49.0 L616.0,49.0 L620.0,49.0 L624.0,49.0 L628.0,49.0 L632.0,49.0 L636.0,49.0 L640.0,49.0 L644.0,49.0 L648.0,49.0 L652.0,49.0 L656.0,49.0 L660.0,49.0 L664.0,49.0 L668.0,49.0 L672.0,49.0 L676.0,49.0"/>
<path stroke="#fa7676" d="M92.0,263.9 L96.0,263.8 L100.0,263.8 L104.0,263.8 L108.0,263.8 L112.0,263.8 L116.0,263.7 L120.0,263.7 L124.0,263.7 L128.0,263.6 L132.0,263.6 L136.0,263.6 L140.0,263.5 L144.0,263.4 L148.0,263.4 L152.0,263.3 L156.0,263.2 L160.0,263.1 L164.0,263.0 L168.0,262.9 L172.0,262.8 L176.0,262.7 L180.0,262.5 L184.0,262.4 L188.0,262.2 L192.0,262.0 L196.0,261.7 L200.0,261.5 L204.0,261.2 L208.0,260.9 L212.0,260.5 L216.0,260.1 L220.0,259.7 L224.0,259.2 L228.0,258.7 L232.0,258.1 L236.0,257.4 L240.0,256.7 L244.0,255.8 L248.0,255.0 L252.0,254.0 L256.0,252.9 L260.0,251.7 L264.0,250.3 L268.0,248.9 L272.0,247.3 L276.0,245.5 L280.0,243.6 L284.0,241.5 L288.0,239.2 L292.0,236.7 L296.0,234.0 L300.0,231.1 L304.0,228.0 L308.0,224.6 L312.0,221.0 L316.0,217.1 L316.8,216.3 L317.4,215.7 L318.0,215.1 L318.5,214.5 L319.1,214.0 L319.6,213.4 L320.0,213.0 L320.2,212.8 L320.8,212.2 L321.3,211.6 L321.9,211.0 L322.5,210.4 L323.0,209.7 L323.6,209.1 L324.0,208.7 L324.1,208.5 L324.7,207.9 L325.3,207.2 L325.8,206.6 L326.4,205.9 L326.9,205.3 L327.5,204.6 L328.0,204.1 L328.1,204.0 L328.6,203.3 L329.2,202.7 L329.8,202.0 L330.3,201.3 L330.9,200.6 L331.4,199.9 L332.0,199.3 L332.0,199.3 L332.6,198.6 L333.1,197.9 L333.7,197.2 L334.2,196.5 L334.8,195.8 L335.4,195.0 L335.9,194.3 L336.0,194.2 L336.5,193.6 L337.1,192.9 L337.6,192.1 L338.2,191.4 L338.7,190.7 L340.0,189.0 L344.0,183.6 L348.0,178.1 L352.0,172.4 L356.0,166.7 L360.0,160.8 L364.0,155.0 L368.0,149.2 L372.0,143.4 L376.0,137.7 L380.0,132.1 L384.0,126.6 L388.0,121.3 L392.0,116.2 L396.0,111.3 L400.0,106.6 L404.0,102.1 L408.0,97.9 L412.0,93.9 L416.0,90.1 L420.0,86.6 L424.0,83.4 L428.0,80.4 L432.0,77.6 L436.0,75.0 L440.0,72.6 L444.0,70.4 L448.0,68.4 L452.0,66.6 L456.0,64.9 L460.0,63.4 L464.0,62.0 L468.0,60.7 L472.0,59.6 L476.0,58.5 L480.0,57.6 L484.0,56.7 L488.0,56.0 L492.0,55.3 L496.0,54.6 L500.0,54.1 L504.0,53.6 L508.0,53.1 L512.0,52.7 L516.0,52.3 L520.0,52.0 L524.0,51.7 L528.0,51.4 L532.0,51.2 L536.0,50.9 L540.0,50.7 L544.0,50.6 L548.0,50.4 L552.0,50.3 L556.0,50.1 L560.0,50.0 L564.0,49.9 L568.0,49.8 L572.0,49.7 L576.0,49.7 L580.0,49.6 L584.0,49.5 L588.0,49.5 L592.0,49.4 L596.0,49.4 L600.0,49.3 L604.0,49.3 L608.0,49.3 L612.0,49.2 L616.0,49.2 L620.0,49.2 L624.0,49.2 L628.0,49.2 L632.0,49.1 L636.0,49.1 L640.0,49.1 L644.0,49.1 L648.0,49.1 L652.0,49.1 L656.0,49.1 L660.0,49.1 L664.0,49.1 L668.0,49.1 L672.0,49.0 L676.0,49.0"/>
<path stroke="#6ab2fa" d="M92.0,264.0 L96.0,264.0 L100.0,264.0 L104.0,264.0 L108.0,264.0 L112.0,264.0 L116.0,264.0 L120.0,264.0 L124.0,264.0 L128.0,264.0 L132.0,264.0 L136.0,264.0 L140.0,264.0 L144.0,264.0 L148.0,264.0 L152.0,264.0 L156.0,264.0 L160.0,264.0 L164.0,264.0 L168.0,264.0 L172.0,264.0 L176.0,263.9 L180.0,263.9 L184.0,263.9 L188.0,263.9 L192.0,263.9 L196.0,263.9 L200.0,263.8 L204.0,263.8 L208.0,263.8 L212.0,263.7 L216.0,263.7 L220.0,263.6 L224.0,263.6 L228.0,263.5 L232.0,263.4 L236.0,263.3 L240.0,263.1 L244.0,263.0 L248.0,262.8 L252.0,262.6 L256.0,262.3 L260.0,262.0 L264.0,261.7 L268.0,261.2 L272.0,260.7 L276.0,260.1 L280.0,259.5 L284.0,258.6 L288.0,257.7 L292.0,256.6 L296.0,255.2 L300.0,253.7 L304.0,251.9 L308.0,249.8 L312.0,247.4 L316.0,244.6 L316.8,244.0 L317.4,243.6 L318.0,243.1 L318.5,242.7 L319.1,242.2 L319.6,241.8 L320.0,241.5 L320.2,241.3 L320.8,240.8 L321.3,240.3 L321.9,239.8 L322.5,239.3 L323.0,238.7 L323.6,238.2 L324.0,237.8 L324.1,237.7 L324.7,237.1 L325.3,236.5 L325.8,236.0 L326.4,235.4 L326.9,234.8 L327.5,234.2 L328.0,233.7 L328.1,233.6 L328.6,233.0 L329.2,232.3 L329.8,231.7 L330.3,231.0 L330.9,230.3 L331.4,229.7 L332.0,229.0 L332.0,229.0 L332.6,228.3 L333.1,227.6 L333.7,226.8 L334.2,226.1 L334.8,225.4 L335.4,224.6 L335.9,223.8 L336.0,223.7 L336.5,223.0 L337.1,222.3 L337.6,221.4 L338.2,220.6 L338.7,219.8 L340.0,217.9 L344.0,211.5 L348.0,204.5 L352.0,196.9 L356.0,188.9 L360.0,180.4 L364.0,171.7 L368.0,162.7 L372.0,153.6 L376.0,144.5 L380.0,135.7 L384.0,127.1 L388.0,118.9 L392.0,111.1 L396.0,103.9 L400.0,97.3 L404.0,91.3 L408.0,85.8 L412.0,81.0 L416.0,76.6 L420.0,72.8 L424.0,69.4 L428.0,66.5 L432.0,64.0 L436.0,61.8 L440.0,59.9 L444.0,58.3 L448.0,56.9 L452.0,55.7 L456.0,54.7 L460.0,53.8 L464.0,53.1 L468.0,52.5 L472.0,51.9 L476.0,51.5 L480.0,51.1 L484.0,50.8 L488.0,50.5 L492.0,50.3 L496.0,50.1 L500.0,49.9 L504.0,49.8 L508.0,49.6 L512.0,49.5 L516.0,49.5 L520.0,49.4 L524.0,49.3 L528.0,49.3 L532.0,49.2 L536.0,49.2 L540.0,49.2 L544.0,49.1 L548.0,49.1 L552.0,49.1 L556.0,49.1 L560.0,49.1 L564.0,49.1 L568.0,49.1 L572.0,49.0 L576.0,49.0 L580.0,49.0 L584.0,49.0 L588.0,49.0 L592.0,49.0 L596.0,49.0 L600.0,49.0 L604.0,49.0 L608.0,49.0 L612.0,49.0 L616.0,49.0 L620.0,49.0 L624.0,49.0 L628.0,49.0 L632.0,49.0 L636.0,49.0 L640.0,49.0 L644.0,49.0 L648.0,49.0 L652.0,49.0 L656.0,49.0 L660.0,49.0 L664.0,49.0 L668.0,49.0 L672.0,49.0 L676.0,49.0"/>
<path stroke="#fa7676" d="M92.0,264.0 L96.0,264.0 L100.0,264.0 L104.0,264.0 L108.0,264.0 L112.0,263.9 L116.0,263.9 L120.0,263.9 L124.0,263.9 L128.0,263.9 L132.0,263.9 L136.0,263.9 L140.0,263.9 L144.0,263.9 L148.0,263.8 L152.0,263.8 L156.0,263.8 L160.0,263.7 L164.0,263.7 L168.0,263.7 L172.0,263.6 L176.0,263.6 L180.0,263.5 L184.0,263.4 L188.0,263.4 L192.0,263.3 L196.0,263.2 L200.0,263.0 L204.0,262.9 L208.0,262.8 L212.0,262.6 L216.0,262.4 L220.0,262.1 L224.0,261.9 L228.0,261.6 L232.0,261.2 L236.0,260.9 L240.0,260.4 L244.0,259.9 L248.0,259.4 L252.0,258.7 L256.0,258.0 L260.0,257.2 L264.0,256.2 L268.0,255.1 L272.0,253.9 L276.0,252.6 L280.0,251.1 L284.0,249.4 L288.0,247.4 L292.0,245.3 L296.0,242.9 L300.0,240.2 L304.0,237.2 L308.0,234.0 L312.0,230.4 L316.0,226.4 L316.8,225.6 L317.4,225.0 L318.0,224.4 L318.5,223.8 L319.1,223.1 L319.6,222.5 L320.0,222.1 L320.2,221.9 L320.8,221.2 L321.3,220.6 L321.9,220.0 L322.5,219.3 L323.0,218.6 L323.6,218.0 L324.0,217.5 L324.1,217.3 L324.7,216.6 L325.3,215.9 L325.8,215.2 L326.4,214.5 L326.9,213.8 L327.5,213.1 L328.0,212.4 L328.1,212.3 L328.6,211.6 L329.2,210.8 L329.8,210.1 L330.3,209.3 L330.9,208.6 L331.4,207.8 L332.0,207.0 L332.0,207.0 L332.6,206.2 L333.1,205.4 L333.7,204.6 L334.2,203.8 L334.8,203.0 L335.4,202.2 L335.9,201.4 L336.0,201.3 L336.5,200.6 L337.1,199.7 L337.6,198.9 L338.2,198.0 L338.7,197.2 L340.0,195.2 L344.0,188.9 L348.0,182.2 L352.0,175.4 L356.0,168.4 L360.0,161.3 L364.0,154.1 L368.0,147.0 L372.0,140.0 L376.0,133.1 L380.0,126.4 L384.0,119.9 L388.0,113.8 L392.0,107.9 L396.0,102.4 L400.0,97.2 L404.0,92.4 L408.0,88.0 L412.0,83.9 L416.0,80.2 L420.0,76.8 L424.0,73.8 L428.0,71.0 L432.0,68.5 L436.0,66.3 L440.0,64.3 L444.0,62.5 L448.0,60.9 L452.0,59.5 L456.0,58.2 L460.0,57.1 L464.0,56.2 L468.0,55.3 L472.0,54.5 L476.0,53.9 L480.0,53.3 L484.0,52.7 L488.0,52.3 L492.0,51.9 L496.0,51.5 L500.0,51.2 L504.0,50.9 L508.0,50.7 L512.0,50.5 L516.0,50.3 L520.0,50.1 L524.0,50.0 L528.0,49.9 L532.0,49.8 L536.0,49.7 L540.0,49.6 L544.0,49.5 L548.0,49.5 L552.0,49.4 L556.0,49.3 L560.0,49.3 L564.0,49.3 L568.0,49.2 L572.0,49.2 L576.0,49.2 L580.0,49.2 L584.0,49.1 L588.0,49.1 L592.0,49.1 L596.0,49.1 L600.0,49.1 L604.0,49.1 L608.0,49.1 L612.0,49.1 L616.0,49.0 L620.0,49.0 L624.0,49.0 L628.0,49.0 L632.0,49.0 L636.0,49.0 L640.0,49.0 L644.0,49.0 L648.0,49.0 L652.0,49.0 L656.0,49.0 L660.0,49.0 L664.0,49.0 L668.0,49.0 L672.0,49.0 L676.0,49.0"/>
<path stroke="#6ab2fa" d="M92.0,264.0 L96.0,264.0 L100.0,264.0 L104.0,264.0 L108.0,264.0 L112.0,264.0 L116.0,264.0 L120.0,264.0 L124.0,264.0 L128.0,264.0 L132.0,264.0 L136.0,264.0 L140.0,264.0 L144.0,264.0 L148.0,264.0 L152.0,264.0 L156.0,264.0 L160.0,264.0 L164.0,264.0 L168.0,264.0 L172.0,263.9 L176.0,263.9 L180.0,263.9 L184.0,263.9 L188.0,263.9 L192.0,263.9 L196.0,263.8 L200.0,263.8 L204.0,263.8 L208.0,263.7 L212.0,263.7 L216.0,263.6 L220.0,263.6 L224.0,263.5 L228.0,263.4 L232.0,263.3 L236.0,263.2 L240.0,263.0 L244.0,262.9 L248.0,262.6 L252.0,262.4 L256.0,262.1 L260.0,261.8 L264.0,261.4 L268.0,260.9 L272.0,260.4 L276.0,259.7 L280.0,259.0 L284.0,258.1 L288.0,257.1 L292.0,255.9 L296.0,254.5 L300.0,252.8 L304.0,250.9 L308.0,248.8 L312.0,246.2 L316.0,243.3 L316.8,242.7 L317.4,242.2 L318.0,241.8 L318.5,241.3 L319.1,240.8 L319.6,240.3 L320.0,240.0 L320.2,239.8 L320.8,239.3 L321.3,238.8 L321.9,238.3 L322.5,237.8 L323.0,237.2 L323.6,236.7 L324.0,236.2 L324.1,236.1 L324.7,235.5 L325.3,234.9 L325.8,234.4 L326.4,233.8 L326.9,233.1 L327.5,232.5 L328.0,232.0 L328.1,231.9 L328.6,231.3 L329.2,230.6 L329.8,229.9 L330.3,229.3 L330.9,228.6 L331.4,227.9 L332.0,227.2 L332.0,227.2 L332.6,226.5 L333.1,225.7 L333.7,225.0 L334.2,224.2 L334.8,223.5 L335.4,222.7 L335.9,221.9 L336.0,221.8 L336.5,221.1 L337.1,220.3 L337.6,219.5 L338.2,218.7 L338.7,217.8 L340.0,215.9 L344.0,209.4 L348.0,202.4 L352.0,194.9 L356.0,186.9 L360.0,178.5 L364.0,169.8 L368.0,160.9 L372.0,152.0 L376.0,143.1 L380.0,134.5 L384.0,126.1 L388.0,118.1 L392.0,110.5 L396.0,103.5 L400.0,97.0 L404.0,91.1 L408.0,85.8 L412.0,81.0 L416.0,76.7 L420.0,73.0 L424.0,69.6 L428.0,66.7 L432.0,64.2 L436.0,62.0 L440.0,60.1 L444.0,58.5 L448.0,57.1 L452.0,55.9 L456.0,54.9 L460.0,54.0 L464.0,53.3 L468.0,52.6 L472.0,52.1 L476.0,51.6 L480.0,51.2 L484.0,50.9 L488.0,50.6 L492.0,50.3 L496.0,50.1 L500.0,50.0 L504.0,49.8 L508.0,49.7 L512.0,49.6 L516.0,49.5 L520.0,49.4 L524.0,49.4 L528.0,49.3 L532.0,49.3 L536.0,49.2 L540.0,49.2 L544.0,49.2 L548.0,49.1 L552.0,49.1 L556.0,49.1 L560.0,49.1 L564.0,49.1 L568.0,49.1 L572.0,49.0 L576.0,49.0 L580.0,49.0 L584.0,49.0 L588.0,49.0 L592.0,49.0 L596.0,49.0 L600.0,49.0 L604.0,49.0 L608.0,49.0 L612.0,49.0 L616.0,49.0 L620.0,49.0 L624.0,49.0 L628.0,49.0 L632.0,49.0 L636.0,49.0 L640.0,49.0 L644.0,49.0 L648.0,49.0 L652.0,49.0 L656.0,49.0 L660.0,49.0 L664.0,49.0 L668.0,49.0 L672.0,49.0 L676.0,49.0"/>
<path stroke="#fa7676" d="M92.0,264.0 L96.0,264.0 L100.0,264.0 L104.0,264.0 L108.0,264.0 L112.0,264.0 L116.0,264.0 L120.0,264.0 L124.0,264.0 L128.0,264.0 L132.0,264.0 L136.0,264.0 L140.0,264.0 L144.0,264.0 L148.0,264.0 L152.0,264.0 L156.0,264.0 L160.0,264.0 L164.0,264.0 L168.0,264.0 L172.0,264.0 L176.0,264.0 L180.0,264.0 L184.0,264.0 L188.0,264.0 L192.0,264.0 L196.0,264.0 L200.0,264.0 L204.0,264.0 L208.0,264.0 L212.0,264.0 L216.0,264.0 L220.0,264.0 L224.0,264.0 L228.0,264.0 L232.0,264.0 L236.0,264.0 L240.0,264.0 L244.0,264.0 L248.0,264.0 L252.0,264.0 L256.0,264.0 L260.0,263.9 L264.0,263.9 L268.0,263.9 L272.0,263.8 L276.0,263.8 L280.0,263.7 L284.0,263.6 L288.0,263.5 L292.0,263.2 L296.0,263.0 L300.0,262.6 L304.0,262.0 L308.0,261.3 L312.0,260.3 L316.0,258.9 L316.8,258.5 L317.4,258.3 L318.0,258.0 L318.5,257.8 L319.1,257.5 L319.6,257.2 L320.0,257.0 L320.2,256.9 L320.8,256.6 L321.3,256.2 L321.9,255.9 L322.5,255.5 L323.0,255.2 L323.6,254.8 L324.0,254.5 L324.1,254.4 L324.7,253.9 L325.3,253.5 L325.8,253.0 L326.4,252.5 L326.9,252.0 L327.5,251.5 L328.0,251.1 L328.1,251.0 L328.6,250.4 L329.2,249.8 L329.8,249.2 L330.3,248.6 L330.9,247.9 L331.4,247.2 L332.0,246.5 L332.0,246.5 L332.6,245.8 L333.1,245.0 L333.7,244.2 L334.2,243.4 L334.8,242.5 L335.4,241.6 L335.9,240.7 L336.0,240.6 L336.5,239.8 L337.1,238.8 L337.6,237.8 L338.2,236.7 L338.7,235.6 L340.0,233.0 L344.0,223.4 L348.0,211.8 L352.0,198.0 L356.0,182.4 L360.0,165.6 L364.0,148.3 L368.0,131.4 L372.0,115.8 L376.0,101.9 L380.0,90.1 L384.0,80.4 L388.0,72.7 L392.0,66.7 L396.0,62.1 L400.0,58.7 L404.0,56.1 L408.0,54.2 L412.0,52.8 L416.0,51.8 L420.0,51.0 L424.0,50.5 L428.0,50.1 L432.0,49.8 L436.0,49.6 L440.0,49.4 L444.0,49.3 L448.0,49.2 L452.0,49.2 L456.0,49.1 L460.0,49.1 L464.0,49.1 L468.0,49.0 L472.0,49.0 L476.0,49.0 L480.0,49.0 L484.0,49.0 L488.0,49.0 L492.0,49.0 L496.0,49.0 L500.0,49.0 L504.0,49.0 L508.0,49.0 L512.0,49.0 L516.0,49.0 L520.0,49.0 L524.0,49.0 L528.0,49.0 L532.0,49.0 L536.0,49.0 L540.0,49.0 L544.0,49.0 L548.0,49.0 L552.0,49.0 L556.0,49.0 L560.0,49.0 L564.0,49.0 L568.0,49.0 L572.0,49.0 L576.0,49.0 L580.0,49.0 L584.0,49.0 L588.0,49.0 L592.0,49.0 L596.0,49.0 L600.0,49.0 L604.0,49.0 L608.0,49.0 L612.0,49.0 L616.0,49.0 L620.0,49.0 L624.0,49.0 L628.0,49.0 L632.0,49.0 L636.0,49.0 L640.0,49.0 L644.0,49.0 L648.0,49.0 L652.0,49.0 L656.0,49.0 L660.0,49.0 L664.0,49.0 L668.0,49.0 L672.0,49.0 L676.0,49.0"/>
<path stroke="#6ab2fa" d="M92.0,264.0 L96.0,264.0 L100.0,264.0 L104.0,263.9 L108.0,263.9 L112.0,263.9 L116.0,263.9 L120.0,263.9 L124.0,263.9 L128.0,263.9 L132.0,263.9 L136.0,263.9 L140.0,263.8 L144.0,263.8 L148.0,263.8 L152.0,263.8 L156.0,263.7 L160.0,263.7 L164.0,263.7 L168.0,263.6 L172.0,263.6 L176.0,263.5 L180.0,263.5 L184.0,263.4 L188.0,263.3 L192.0,263.2 L196.0,263.1 L200.0,263.0 L204.0,262.9 L208.0,262.8 L212.0,262.6 L216.0,262.4 L220.0,262.2 L224.0,262.0 L228.0,261.7 L232.0,261.4 L236.0,261.1 L240.0,260.7 L244.0,260.3 L248.0,259.8 L252.0,259.3 L256.0,258.7 L260.0,258.1 L264.0,257.3 L268.0,256.5 L272.0,255.5 L276.0,254.5 L280.0,253.3 L284.0,252.0 L288.0,250.5 L292.0,248.9 L296.0,247.1 L300.0,245.0 L304.0,242.8 L308.0,240.4 L312.0,237.7 L316.0,234.7 L316.8,234.1 L317.4,233.6 L318.0,233.2 L318.5,232.7 L319.1,232.2 L319.6,231.8 L320.0,231.5 L320.2,231.3 L320.8,230.8 L321.3,230.3 L321.9,229.8 L322.5,229.4 L323.0,228.9 L323.6,228.3 L324.0,228.0 L324.1,227.8 L324.7,227.3 L325.3,226.8 L325.8,226.3 L326.4,225.7 L326.9,225.2 L327.5,224.6 L328.0,224.1 L328.1,224.1 L328.6,223.5 L329.2,222.9 L329.8,222.4 L330.3,221.8 L330.9,221.2 L331.4,220.6 L332.0,220.0 L332.0,220.0 L332.6,219.4 L333.1,218.8 L333.7,218.2 L334.2,217.6 L334.8,216.9 L335.4,216.3 L335.9,215.7 L336.0,215.6 L336.5,215.0 L337.1,214.4 L337.6,213.7 L338.2,213.0 L338.7,212.4 L340.0,210.8 L344.0,205.8 L348.0,200.5 L352.0,194.9 L356.0,189.0 L360.0,182.9 L364.0,176.7 L368.0,170.2 L372.0,163.7 L376.0,157.2 L380.0,150.6 L384.0,144.1 L388.0,137.6 L392.0,131.3 L396.0,125.2 L400.0,119.3 L404.0,113.7 L408.0,108.3 L412.0,103.2 L416.0,98.4 L420.0,93.9 L424.0,89.7 L428.0,85.8 L432.0,82.2 L436.0,78.9 L440.0,75.9 L444.0,73.2 L448.0,70.7 L452.0,68.4 L456.0,66.3 L460.0,64.5 L464.0,62.8 L468.0,61.3 L472.0,60.0 L476.0,58.8 L480.0,57.7 L484.0,56.7 L488.0,55.9 L492.0,55.1 L496.0,54.4 L500.0,53.8 L504.0,53.3 L508.0,52.8 L512.0,52.3 L516.0,52.0 L520.0,51.6 L524.0,51.3 L528.0,51.1 L532.0,50.8 L536.0,50.6 L540.0,50.4 L544.0,50.3 L548.0,50.1 L552.0,50.0 L556.0,49.9 L560.0,49.8 L564.0,49.7 L568.0,49.6 L572.0,49.5 L576.0,49.5 L580.0,49.4 L584.0,49.4 L588.0,49.3 L592.0,49.3 L596.0,49.3 L600.0,49.2 L604.0,49.2 L608.0,49.2 L612.0,49.2 L616.0,49.1 L620.0,49.1 L624.0,49.1 L628.0,49.1 L632.0,49.1 L636.0,49.1 L640.0,49.1 L644.0,49.1 L648.0,49.1 L652.0,49.0 L656.0,49.0 L660.0,49.0 L664.0,49.0 L668.0,49.0 L672.0,49.0 L676.0,49.0"/>
<path stroke="#fa7676" d="M92.0,264.0 L96.0,264.0 L100.0,264.0 L104.0,264.0 L108.0,264.0 L112.0,264.0 L116.0,264.0 L120.0,263.9 L124.0,263.9 L128.0,263.9 L132.0,263.9 L136.0,263.9 L140.0,263.9 L144.0,263.9 L148.0,263.9 L152.0,263.8 L156.0,263.8 L160.0,263.8 L164.0,263.8 L168.0,263.7 L172.0,263.7 L176.0,263.6 L180.0,263.6 L184.0,263.5 L188.0,263.4 L192.0,263.4 L196.0,263.3 L200.0,263.2 L204.0,263.1 L208.0,262.9 L212.0,262.8 L216.0,262.6 L220.0,262.4 L224.0,262.1 L228.0,261.9 L232.0,261.6 L236.0,261.2 L240.0,260.8 L244.0,260.4 L248.0,259.9 L252.0,259.3 L256.0,258.6 L260.0,257.9 L264.0,257.0 L268.0,256.0 L272.0,254.9 L276.0,253.7 L280.0,252.3 L284.0,250.7 L288.0,248.9 L292.0,246.9 L296.0,244.7 L300.0,242.1 L304.0,239.3 L308.0,236.2 L312.0,232.8 L316.0,229.0 L316.8,228.2 L317.4,227.6 L318.0,227.1 L318.5,226.5 L319.1,225.9 L319.6,225.3 L320.0,224.9 L320.2,224.7 L320.8,224.1 L321.3,223.5 L321.9,222.8 L322.5,222.2 L323.0,221.6 L323.6,220.9 L324.0,220.4 L324.1,220.2 L324.7,219.6 L325.3,218.9 L325.8,218.2 L326.4,217.5 L326.9,216.9 L327.5,216.2 L328.0,215.5 L328.1,215.4 L328.6,214.7 L329.2,214.0 L329.8,213.3 L330.3,212.5 L330.9,211.8 L331.4,211.0 L332.0,210.3 L332.0,210.3 L332.6,209.5 L333.1,208.7 L333.7,208.0 L334.2,207.2 L334.8,206.4 L335.4,205.6 L335.9,204.8 L336.0,204.7 L336.5,203.9 L337.1,203.1 L337.6,202.3 L338.2,201.4 L338.7,200.6 L340.0,198.7 L344.0,192.4 L348.0,185.8 L352.0,179.0 L356.0,172.0 L360.0,164.8 L364.0,157.6 L368.0,150.3 L372.0,143.1 L376.0,136.0 L380.0,129.2 L384.0,122.5 L388.0,116.1 L392.0,110.0 L396.0,104.3 L400.0,99.0 L404.0,94.0 L408.0,89.4 L412.0,85.1 L416.0,81.2 L420.0,77.7 L424.0,74.5 L428.0,71.6 L432.0,69.0 L436.0,66.7 L440.0,64.6 L444.0,62.8 L448.0,61.2 L452.0,59.7 L456.0,58.4 L460.0,57.3 L464.0,56.3 L468.0,55.4 L472.0,54.6 L476.0,53.9 L480.0,53.3 L484.0,52.8 L488.0,52.3 L492.0,51.9 L496.0,51.5 L500.0,51.2 L504.0,50.9 L508.0,50.7 L512.0,50.5 L516.0,50.3 L520.0,50.1 L524.0,50.0 L528.0,49.9 L532.0,49.8 L536.0,49.7 L540.0,49.6 L544.0,49.5 L548.0,49.4 L552.0,49.4 L556.0,49.3 L560.0,49.3 L564.0,49.3 L568.0,49.2 L572.0,49.2 L576.0,49.2 L580.0,49.1 L584.0,49.1 L588.0,49.1 L592.0,49.1 L596.0,49.1 L600.0,49.1 L604.0,49.1 L608.0,49.1 L612.0,49.1 L616.0,49.0 L620.0,49.0 L624.0,49.0 L628.0,49.0 L632.0,49.0 L636.0,49.0 L640.0,49.0 L644.0,49.0 L648.0,49.0 L652.0,49.0 L656.0,49.0 L660.0,49.0 L664.0,49.0 L668.0,49.0 L672.0,49.0 L676.0,49.0"/>
<path stroke="#6ab2fa" d="M92.0,264.0 L96.0,264.0 L100.0,264.0 L104.0,264.0 L108.0,264.0 L112.0,264.0 L116.0,264.0 L120.0,264.0 L124.0,264.0 L128.0,264.0 L132.0,264.0 L136.0,264.0 L140.0,264.0 L144.0,264.0 L148.0,264.0 L152.0,264.0 L156.0,264.0 L160.0,264.0 L164.0,264.0 L168.0,264.0 L172.0,264.0 L176.0,264.0 L180.0,264.0 L184.0,264.0 L188.0,264.0 L192.0,264.0 L196.0,264.0 L200.0,264.0 L204.0,264.0 L208.0,264.0 L212.0,264.0 L216.0,264.0 L220.0,264.0 L224.0,264.0 L228.0,264.0 L232.0,264.0 L236.0,264.0 L240.0,264.0 L244.0,264.0 L248.0,264.0 L252.0,263.9 L256.0,263.9 L260.0,263.9 L264.0,263.9 L268.0,263.8 L272.0,263.8 L276.0,263.7 L280.0,263.6 L284.0,263.5 L288.0,263.3 L292.0,263.1 L296.0,262.8 L300.0,262.5 L304.0,262.0 L308.0,261.5 L312.0,260.7 L316.0,259.7 L316.8,259.5 L317.4,259.3 L318.0,259.2 L318.5,259.0 L319.1,258.8 L319.6,258.6 L320.0,258.5 L320.2,258.4 L320.8,258.2 L321.3,258.0 L321.9,257.8 L322.5,257.6 L323.0,257.3 L323.6,257.1 L324.0,256.9 L324.1,256.8 L324.7,256.6 L325.3,256.3 L325.8,256.0 L326.4,255.7 L326.9,255.4 L327.5,255.1 L328.0,254.8 L328.1,254.8 L328.6,254.5 L329.2,254.1 L329.8,253.8 L330.3,253.4 L330.9,253.0 L331.4,252.6 L332.0,252.2 L332.0,252.2 L332.6,251.8 L333.1,251.4 L333.7,250.9 L334.2,250.5 L334.8,250.0 L335.4,249.5 L335.9,249.0 L336.0,248.9 L336.5,248.5 L337.1,247.9 L337.6,247.4 L338.2,246.8 L338.7,246.2 L340.0,244.8 L344.0,239.6 L348.0,233.3 L352.0,225.7 L356.0,216.8 L360.0,206.3 L364.0,194.6 L368.0,181.7 L372.0,167.9 L376.0,153.8 L380.0,139.8 L384.0,126.3 L388.0,113.8 L392.0,102.5 L396.0,92.7 L400.0,84.2 L404.0,77.1 L408.0,71.3 L412.0,66.5 L416.0,62.7 L420.0,59.7 L424.0,57.3 L428.0,55.5 L432.0,54.0 L436.0,52.9 L440.0,52.0 L444.0,51.3 L448.0,50.8 L452.0,50.4 L456.0,50.0 L460.0,49.8 L464.0,49.6 L468.0,49.5 L472.0,49.4 L476.0,49.3 L480.0,49.2 L484.0,49.2 L488.0,49.1 L492.0,49.1 L496.0,49.1 L500.0,49.1 L504.0,49.0 L508.0,49.0 L512.0,49.0 L516.0,49.0 L520.0,49.0 L524.0,49.0 L528.0,49.0 L532.0,49.0 L536.0,49.0 L540.0,49.0 L544.0,49.0 L548.0,49.0 L552.0,49.0 L556.0,49.0 L560.0,49.0 L564.0,49.0 L568.0,49.0 L572.0,49.0 L576.0,49.0 L580.0,49.0 L584.0,49.0 L588.0,49.0 L592.0,49.0 L596.0,49.0 L600.0,49.0 L604.0,49.0 L608.0,49.0 L612.0,49.0 L616.0,49.0 L620.0,49.0 L624.0,49.0 L628.0,49.0 L632.0,49.0 L636.0,49.0 L640.0,49.0 L644.0,49.0 L648.0,49.0 L652.0,49.0 L656.0,49.0 L660.0,49.0 L664.0,49.0 L668.0,49.0 L672.0,49.0 L676.0,49.0"/>
<path stroke="#fa7676" d="M92.0,263.9 L96.0,263.9 L100.0,263.9 L104.0,263.9 L108.0,263.9 L112.0,263.9 L116.0,263.9 L120.0,263.9 L124.0,263.8 L128.0,263.8 L132.0,263.8 L136.0,263.8 L140.0,263.8 L144.0,263.7 L148.0,263.7 L152.0,263.6 L156.0,263.6 L160.0,263.6 L164.0,263.5 L168.0,263.4 L172.0,263.4 L176.0,263.3 L180.0,263.2 L184.0,263.1 L188.0,263.0 L192.0,262.9 L196.0,262.7 L200.0,262.6 L204.0,262.4 L208.0,262.2 L212.0,262.0 L216.0,261.7 L220.0,261.4 L224.0,261.1 L228.0,260.8 L232.0,260.4 L236.0,259.9 L240.0,259.5 L244.0,258.9 L248.0,258.3 L252.0,257.6 L256.0,256.8 L260.0,256.0 L264.0,255.0 L268.0,253.9 L272.0,252.8 L276.0,251.5 L280.0,250.0 L284.0,248.4 L288.0,246.6 L292.0,244.6 L296.0,242.5 L300.0,240.1 L304.0,237.5 L308.0,234.6 L312.0,231.5 L316.0,228.2 L316.8,227.4 L317.4,226.9 L318.0,226.4 L318.5,225.9 L319.1,225.4 L319.6,224.9 L320.0,224.6 L320.2,224.4 L320.8,223.8 L321.3,223.3 L321.9,222.7 L322.5,222.2 L323.0,221.6 L323.6,221.1 L324.0,220.6 L324.1,220.5 L324.7,219.9 L325.3,219.3 L325.8,218.8 L326.4,218.2 L326.9,217.6 L327.5,217.0 L328.0,216.4 L328.1,216.4 L328.6,215.8 L329.2,215.1 L329.8,214.5 L330.3,213.9 L330.9,213.3 L331.4,212.6 L332.0,212.0 L332.0,212.0 L332.6,211.3 L333.1,210.7 L333.7,210.0 L334.2,209.3 L334.8,208.7 L335.4,208.0 L335.9,207.3 L336.0,207.2 L336.5,206.6 L337.1,205.9 L337.6,205.2 L338.2,204.5 L338.7,203.8 L340.0,202.2 L344.0,196.9 L348.0,191.4 L352.0,185.7 L356.0,179.7 L360.0,173.7 L364.0,167.5 L368.0,161.2 L372.0,154.9 L376.0,148.7 L380.0,142.4 L384.0,136.3 L388.0,130.3 L392.0,124.5 L396.0,118.8 L400.0,113.4 L404.0,108.3 L408.0,103.4 L412.0,98.8 L416.0,94.4 L420.0,90.4 L424.0,86.6 L428.0,83.1 L432.0,79.9 L436.0,76.9 L440.0,74.2 L444.0,71.7 L448.0,69.4 L452.0,67.4 L456.0,65.5 L460.0,63.8 L464.0,62.3 L468.0,60.9 L472.0,59.6 L476.0,58.5 L480.0,57.5 L484.0,56.6 L488.0,55.8 L492.0,55.1 L496.0,54.4 L500.0,53.8 L504.0,53.3 L508.0,52.8 L512.0,52.4 L516.0,52.0 L520.0,51.7 L524.0,51.4 L528.0,51.1 L532.0,50.9 L536.0,50.7 L540.0,50.5 L544.0,50.4 L548.0,50.2 L552.0,50.1 L556.0,50.0 L560.0,49.8 L564.0,49.8 L568.0,49.7 L572.0,49.6 L576.0,49.5 L580.0,49.5 L584.0,49.4 L588.0,49.4 L592.0,49.3 L596.0,49.3 L600.0,49.3 L604.0,49.2 L608.0,49.2 L612.0,49.2 L616.0,49.2 L620.0,49.1 L624.0,49.1 L628.0,49.1 L632.0,49.1 L636.0,49.1 L640.0,49.1 L644.0,49.1 L648.0,49.1 L652.0,49.1 L656.0,49.1 L660.0,49.0 L664.0,49.0 L668.0,49.0 L672.0,49.0 L676.0,49.0"/>
<path stroke="#6ab2fa" d="M92.0,263.3 L96.0,263.2 L100.0,263.1 L104.0,263.1 L108.0,263.0 L112.0,262.9 L116.0,262.8 L120.0,262.7 L124.0,262.6 L128.0,262.5 L132.0,262.4 L136.0,262.2 L140.0,262.1 L144.0,261.9 L148.0,261.8 L152.0,261.6 L156.0,261.4 L160.0,261.2 L164.0,260.9 L168.0,260.7 L172.0,260.4 L176.0,260.1 L180.0,259.8 L184.0,259.4 L188.0,259.1 L192.0,258.7 L196.0,258.2 L200.0,257.8 L204.0,257.3 L208.0,256.7 L212.0,256.2 L216.0,255.5 L220.0,254.9 L224.0,254.1 L228.0,253.4 L232.0,252.5 L236.0,251.6 L240.0,250.7 L244.0,249.6 L248.0,248.5 L252.0,247.3 L256.0,246.0 L260.0,244.7 L264.0,243.2 L268.0,241.7 L272.0,240.0 L276.0,238.3 L280.0,236.4 L284.0,234.4 L288.0,232.4 L292.0,230.1 L296.0,227.8 L300.0,225.3 L304.0,222.7 L308.0,220.0 L312.0,217.1 L316.0,214.1 L316.8,213.5 L317.4,213.1 L318.0,212.6 L318.5,212.2 L319.1,211.7 L319.6,211.3 L320.0,211.0 L320.2,210.8 L320.8,210.4 L321.3,209.9 L321.9,209.5 L322.5,209.0 L323.0,208.6 L323.6,208.1 L324.0,207.8 L324.1,207.6 L324.7,207.2 L325.3,206.7 L325.8,206.2 L326.4,205.8 L326.9,205.3 L327.5,204.8 L328.0,204.4 L328.1,204.3 L328.6,203.8 L329.2,203.3 L329.8,202.9 L330.3,202.4 L330.9,201.9 L331.4,201.4 L332.0,200.9 L332.0,200.9 L332.6,200.4 L333.1,199.9 L333.7,199.4 L334.2,198.9 L334.8,198.3 L335.4,197.8 L335.9,197.3 L336.0,197.3 L336.5,196.8 L337.1,196.3 L337.6,195.8 L338.2,195.2 L338.7,194.7 L340.0,193.5 L344.0,189.7 L348.0,185.8 L352.0,181.7 L356.0,177.7 L360.0,173.5 L364.0,169.3 L368.0,165.0 L372.0,160.8 L376.0,156.5 L380.0,152.2 L384.0,147.9 L388.0,143.6 L392.0,139.4 L396.0,135.3 L400.0,131.2 L404.0,127.2 L408.0,123.2 L412.0,119.4 L416.0,115.7 L420.0,112.1 L424.0,108.6 L428.0,105.2 L432.0,101.9 L436.0,98.8 L440.0,95.8 L444.0,93.0 L448.0,90.2 L452.0,87.6 L456.0,85.2 L460.0,82.8 L464.0,80.6 L468.0,78.5 L472.0,76.5 L476.0,74.7 L480.0,72.9 L484.0,71.3 L488.0,69.7 L492.0,68.3 L496.0,66.9 L500.0,65.7 L504.0,64.5 L508.0,63.4 L512.0,62.3 L516.0,61.4 L520.0,60.5 L524.0,59.6 L528.0,58.9 L532.0,58.1 L536.0,57.5 L540.0,56.8 L544.0,56.2 L548.0,55.7 L552.0,55.2 L556.0,54.7 L560.0,54.3 L564.0,53.9 L568.0,53.5 L572.0,53.2 L576.0,52.9 L580.0,52.6 L584.0,52.3 L588.0,52.1 L592.0,51.8 L596.0,51.6 L600.0,51.4 L604.0,51.2 L608.0,51.1 L612.0,50.9 L616.0,50.8 L620.0,50.6 L624.0,50.5 L628.0,50.4 L632.0,50.3 L636.0,50.2 L640.0,50.1 L644.0,50.0 L648.0,49.9 L652.0,49.9 L656.0,49.8 L660.0,49.7 L664.0,49.7 L668.0,49.6 L672.0,49.6 L676.0,49.5"/>
<path stroke="#fa7676" d="M92.0,264.0 L96.0,264.0 L100.0,264.0 L104.0,264.0 L108.0,264.0 L112.0,263.9 L116.0,263.9 L120.0,263.9 L124.0,263.9 L128.0,263.9 L132.0,263.9 L136.0,263.9 L140.0,263.9 L144.0,263.8 L148.0,263.8 L152.0,263.8 L156.0,263.8 L160.0,263.7 L164.0,263.7 L168.0,263.7 L172.0,263.6 L176.0,263.6 L180.0,263.5 L184.0,263.4 L188.0,263.4 L192.0,263.3 L196.0,263.2 L200.0,263.1 L204.0,263.0 L208.0,262.8 L212.0,262.7 L216.0,262.5 L220.0,262.3 L224.0,262.0 L228.0,261.8 L232.0,261.5 L236.0,261.1 L240.0,260.7 L244.0,260.3 L248.0,259.8 L252.0,259.2 L256.0,258.6 L260.0,257.9 L264.0,257.1 L268.0,256.2 L272.0,255.1 L276.0,254.0 L280.0,252.7 L284.0,251.2 L288.0,249.6 L292.0,247.8 L296.0,245.7 L300.0,243.5 L304.0,241.0 L308.0,238.2 L312.0,235.2 L316.0,231.8 L316.8,231.1 L317.4,230.6 L318.0,230.1 L318.5,229.5 L319.1,229.0 L319.6,228.5 L320.0,228.2 L320.2,228.0 L320.8,227.4 L321.3,226.9 L321.9,226.3 L322.5,225.7 L323.0,225.2 L323.6,224.6 L324.0,224.2 L324.1,224.0 L324.7,223.4 L325.3,222.8 L325.8,222.2 L326.4,221.6 L326.9,221.0 L327.5,220.4 L328.0,219.8 L328.1,219.8 L328.6,219.1 L329.2,218.5 L329.8,217.8 L330.3,217.2 L330.9,216.5 L331.4,215.9 L332.0,215.2 L332.0,215.2 L332.6,214.5 L333.1,213.8 L333.7,213.1 L334.2,212.4 L334.8,211.7 L335.4,211.0 L335.9,210.3 L336.0,210.2 L336.5,209.5 L337.1,208.8 L337.6,208.1 L338.2,207.3 L338.7,206.6 L340.0,204.9 L344.0,199.2 L348.0,193.3 L352.0,187.1 L356.0,180.6 L360.0,174.0 L364.0,167.3 L368.0,160.4 L372.0,153.5 L376.0,146.7 L380.0,139.9 L384.0,133.3 L388.0,126.8 L392.0,120.6 L396.0,114.6 L400.0,108.9 L404.0,103.5 L408.0,98.5 L412.0,93.8 L416.0,89.4 L420.0,85.4 L424.0,81.7 L428.0,78.3 L432.0,75.2 L436.0,72.4 L440.0,69.8 L444.0,67.6 L448.0,65.5 L452.0,63.6 L456.0,62.0 L460.0,60.5 L464.0,59.2 L468.0,58.0 L472.0,57.0 L476.0,56.1 L480.0,55.2 L484.0,54.5 L488.0,53.9 L492.0,53.3 L496.0,52.8 L500.0,52.3 L504.0,51.9 L508.0,51.6 L512.0,51.3 L516.0,51.0 L520.0,50.8 L524.0,50.6 L528.0,50.4 L532.0,50.2 L536.0,50.1 L540.0,49.9 L544.0,49.8 L548.0,49.7 L552.0,49.6 L556.0,49.6 L560.0,49.5 L564.0,49.4 L568.0,49.4 L572.0,49.3 L576.0,49.3 L580.0,49.3 L584.0,49.2 L588.0,49.2 L592.0,49.2 L596.0,49.2 L600.0,49.1 L604.0,49.1 L608.0,49.1 L612.0,49.1 L616.0,49.1 L620.0,49.1 L624.0,49.1 L628.0,49.1 L632.0,49.0 L636.0,49.0 L640.0,49.0 L644.0,49.0 L648.0,49.0 L652.0,49.0 L656.0,49.0 L660.0,49.0 L664.0,49.0 L668.0,49.0 L672.0,49.0 L676.0,49.0"/>
<path stroke="#6ab2fa" d="M92.0,264.0 L96.0,264.0 L100.0,264.0 L104.0,264.0 L108.0,264.0 L112.0,264.0 L116.0,264.0 L120.0,264.0 L124.0,264.0 L128.0,264.0 L132.0,264.0 L136.0,264.0 L140.0,264.0 L144.0,264.0 L148.0,264.0 L152.0,264.0 L156.0,264.0 L160.0,264.0 L164.0,264.0 L168.0,264.0 L172.0,264.0 L176.0,264.0 L180.0,264.0 L184.0,264.0 L188.0,264.0 L192.0,263.9 L196.0,263.9 L200.0,263.9 L204.0,263.9 L208.0,263.9 L212.0,263.9 L216.0,263.8 L220.0,263.8 L224.0,263.8 L228.0,263.7 L232.0,263.7 L236.0,263.6 L240.0,263.5 L244.0,263.4 L248.0,263.3 L252.0,263.2 L256.0,263.0 L260.0,262.8 L264.0,262.6 L268.0,262.3 L272.0,262.0 L276.0,261.6 L280.0,261.1 L284.0,260.6 L288.0,259.9 L292.0,259.1 L296.0,258.2 L300.0,257.1 L304.0,255.8 L308.0,254.3 L312.0,252.5 L316.0,250.3 L316.8,249.9 L317.4,249.5 L318.0,249.2 L318.5,248.8 L319.1,248.5 L319.6,248.1 L320.0,247.9 L320.2,247.7 L320.8,247.4 L321.3,247.0 L321.9,246.6 L322.5,246.2 L323.0,245.7 L323.6,245.3 L324.0,245.0 L324.1,244.9 L324.7,244.4 L325.3,244.0 L325.8,243.5 L326.4,243.1 L326.9,242.6 L327.5,242.1 L328.0,241.6 L328.1,241.6 L328.6,241.1 L329.2,240.6 L329.8,240.0 L330.3,239.5 L330.9,238.9 L331.4,238.4 L332.0,237.8 L332.0,237.8 L332.6,237.2 L333.1,236.6 L333.7,236.0 L334.2,235.4 L334.8,234.8 L335.4,234.1 L335.9,233.5 L336.0,233.4 L336.5,232.8 L337.1,232.1 L337.6,231.4 L338.2,230.7 L338.7,230.0 L340.0,228.4 L344.0,222.7 L348.0,216.4 L352.0,209.5 L356.0,201.9 L360.0,193.7 L364.0,185.0 L368.0,175.8 L372.0,166.4 L376.0,156.8 L380.0,147.2 L384.0,137.7 L388.0,128.6 L392.0,119.8 L396.0,111.6 L400.0,103.9 L404.0,96.9 L408.0,90.6 L412.0,84.9 L416.0,79.9 L420.0,75.4 L424.0,71.6 L428.0,68.2 L432.0,65.3 L436.0,62.8 L440.0,60.6 L444.0,58.8 L448.0,57.3 L452.0,56.0 L456.0,54.9 L460.0,53.9 L464.0,53.1 L468.0,52.5 L472.0,51.9 L476.0,51.4 L480.0,51.0 L484.0,50.7 L488.0,50.4 L492.0,50.2 L496.0,50.0 L500.0,49.8 L504.0,49.7 L508.0,49.6 L512.0,49.5 L516.0,49.4 L520.0,49.3 L524.0,49.3 L528.0,49.2 L532.0,49.2 L536.0,49.2 L540.0,49.1 L544.0,49.1 L548.0,49.1 L552.0,49.1 L556.0,49.1 L560.0,49.1 L564.0,49.0 L568.0,49.0 L572.0,49.0 L576.0,49.0 L580.0,49.0 L584.0,49.0 L588.0,49.0 L592.0,49.0 L596.0,49.0 L600.0,49.0 L604.0,49.0 L608.0,49.0 L612.0,49.0 L616.0,49.0 L620.0,49.0 L624.0,49.0 L628.0,49.0 L632.0,49.0 L636.0,49.0 L640.0,49.0 L644.0,49.0 L648.0,49.0 L652.0,49.0 L656.0,49.0 L660.0,49.0 L664.0,49.0 L668.0,49.0 L672.0,49.0 L676.0,49.0"/>
<path stroke="#fa7676" d="M92.0,264.0 L96.0,264.0 L100.0,264.0 L104.0,264.0 L108.0,264.0 L112.0,264.0 L116.0,264.0 L120.0,264.0 L124.0,264.0 L128.0,264.0 L132.0,264.0 L136.0,264.0 L140.0,264.0 L144.0,264.0 L148.0,264.0 L152.0,264.0 L156.0,264.0 L160.0,264.0 L164.0,263.9 L168.0,263.9 L172.0,263.9 L176.0,263.9 L180.0,263.9 L184.0,263.9 L188.0,263.9 L192.0,263.8 L196.0,263.8 L200.0,263.8 L204.0,263.7 L208.0,263.7 L212.0,263.6 L216.0,263.5 L220.0,263.5 L224.0,263.4 L228.0,263.3 L232.0,263.1 L236.0,263.0 L240.0,262.8 L244.0,262.6 L248.0,262.3 L252.0,262.1 L256.0,261.7 L260.0,261.3 L264.0,260.9 L268.0,260.3 L272.0,259.7 L276.0,259.0 L280.0,258.1 L284.0,257.1 L288.0,256.0 L292.0,254.6 L296.0,253.1 L300.0,251.3 L304.0,249.2 L308.0,246.8 L312.0,244.1 L316.0,241.0 L316.8,240.3 L317.4,239.8 L318.0,239.3 L318.5,238.8 L319.1,238.3 L319.6,237.8 L320.0,237.5 L320.2,237.3 L320.8,236.7 L321.3,236.2 L321.9,235.7 L322.5,235.1 L323.0,234.5 L323.6,233.9 L324.0,233.5 L324.1,233.3 L324.7,232.7 L325.3,232.1 L325.8,231.5 L326.4,230.9 L326.9,230.3 L327.5,229.6 L328.0,229.0 L328.1,228.9 L328.6,228.3 L329.2,227.6 L329.8,226.9 L330.3,226.2 L330.9,225.5 L331.4,224.8 L332.0,224.0 L332.0,224.0 L332.6,223.3 L333.1,222.6 L333.7,221.8 L334.2,221.0 L334.8,220.2 L335.4,219.4 L335.9,218.6 L336.0,218.5 L336.5,217.8 L337.1,217.0 L337.6,216.2 L338.2,215.3 L338.7,214.5 L340.0,212.5 L344.0,205.9 L348.0,198.8 L352.0,191.3 L356.0,183.4 L360.0,175.1 L364.0,166.6 L368.0,158.0 L372.0,149.3 L376.0,140.7 L380.0,132.4 L384.0,124.3 L388.0,116.6 L392.0,109.4 L396.0,102.6 L400.0,96.4 L404.0,90.7 L408.0,85.6 L412.0,80.9 L416.0,76.8 L420.0,73.1 L424.0,69.9 L428.0,67.0 L432.0,64.5 L436.0,62.4 L440.0,60.5 L444.0,58.9 L448.0,57.5 L452.0,56.2 L456.0,55.2 L460.0,54.3 L464.0,53.5 L468.0,52.9 L472.0,52.3 L476.0,51.8 L480.0,51.4 L484.0,51.0 L488.0,50.7 L492.0,50.5 L496.0,50.3 L500.0,50.1 L504.0,49.9 L508.0,49.8 L512.0,49.7 L516.0,49.6 L520.0,49.5 L524.0,49.4 L528.0,49.3 L532.0,49.3 L536.0,49.3 L540.0,49.2 L544.0,49.2 L548.0,49.2 L552.0,49.1 L556.0,49.1 L560.0,49.1 L564.0,49.1 L568.0,49.1 L572.0,49.1 L576.0,49.1 L580.0,49.0 L584.0,49.0 L588.0,49.0 L592.0,49.0 L596.0,49.0 L600.0,49.0 L604.0,49.0 L608.0,49.0 L612.0,49.0 L616.0,49.0 L620.0,49.0 L624.0,49.0 L628.0,49.0 L632.0,49.0 L636.0,49.0 L640.0,49.0 L644.0,49.0 L648.0,49.0 L652.0,49.0 L656.0,49.0 L660.0,49.0 L664.0,49.0 L668.0,49.0 L672.0,49.0 L676.0,49.0"/>
<path stroke="#6ab2fa" d="M92.0,264.0 L96.0,264.0 L100.0,264.0 L104.0,264.0 L108.0,264.0 L112.0,264.0 L116.0,264.0 L120.0,264.0 L124.0,264.0 L128.0,264.0 L132.0,264.0 L136.0,264.0 L140.0,264.0 L144.0,264.0 L148.0,264.0 L152.0,264.0 L156.0,264.0 L160.0,264.0 L164.0,264.0 L168.0,264.0 L172.0,264.0 L176.0,264.0 L180.0,264.0 L184.0,264.0 L188.0,264.0 L192.0,264.0 L196.0,264.0 L200.0,264.0 L204.0,264.0 L208.0,264.0 L212.0,264.0 L216.0,264.0 L220.0,264.0 L224.0,263.9 L228.0,263.9 L232.0,263.9 L236.0,263.9 L240.0,263.9 L244.0,263.9 L248.0,263.8 L252.0,263.8 L256.0,263.7 L260.0,263.7 L264.0,263.6 L268.0,263.5 L272.0,263.4 L276.0,263.2 L280.0,263.0 L284.0,262.8 L288.0,262.5 L292.0,262.1 L296.0,261.7 L300.0,261.2 L304.0,260.5 L308.0,259.7 L312.0,258.7 L316.0,257.5 L316.8,257.2 L317.4,257.0 L318.0,256.8 L318.5,256.6 L319.1,256.4 L319.6,256.2 L320.0,256.0 L320.2,256.0 L320.8,255.7 L321.3,255.5 L321.9,255.2 L322.5,255.0 L323.0,254.7 L323.6,254.4 L324.0,254.2 L324.1,254.2 L324.7,253.9 L325.3,253.6 L325.8,253.3 L326.4,253.0 L326.9,252.7 L327.5,252.4 L328.0,252.1 L328.1,252.0 L328.6,251.7 L329.2,251.3 L329.8,251.0 L330.3,250.6 L330.9,250.2 L331.4,249.8 L332.0,249.4 L332.0,249.4 L332.6,249.0 L333.1,248.6 L333.7,248.2 L334.2,247.7 L334.8,247.3 L335.4,246.8 L335.9,246.3 L336.0,246.3 L336.5,245.8 L337.1,245.3 L337.6,244.8 L338.2,244.3 L338.7,243.8 L340.0,242.5 L344.0,238.0 L348.0,232.8 L352.0,226.7 L356.0,219.6 L360.0,211.7 L364.0,202.8 L368.0,193.1 L372.0,182.7 L376.0,171.7 L380.0,160.4 L384.0,149.0 L388.0,137.8 L392.0,126.9 L396.0,116.7 L400.0,107.3 L404.0,98.7 L408.0,91.1 L412.0,84.3 L416.0,78.5 L420.0,73.5 L424.0,69.3 L428.0,65.7 L432.0,62.7 L436.0,60.2 L440.0,58.2 L444.0,56.5 L448.0,55.1 L452.0,53.9 L456.0,53.0 L460.0,52.3 L464.0,51.6 L468.0,51.1 L472.0,50.7 L476.0,50.4 L480.0,50.1 L484.0,49.9 L488.0,49.7 L492.0,49.6 L496.0,49.5 L500.0,49.4 L504.0,49.3 L508.0,49.3 L512.0,49.2 L516.0,49.2 L520.0,49.1 L524.0,49.1 L528.0,49.1 L532.0,49.1 L536.0,49.1 L540.0,49.0 L544.0,49.0 L548.0,49.0 L552.0,49.0 L556.0,49.0 L560.0,49.0 L564.0,49.0 L568.0,49.0 L572.0,49.0 L576.0,49.0 L580.0,49.0 L584.0,49.0 L588.0,49.0 L592.0,49.0 L596.0,49.0 L600.0,49.0 L604.0,49.0 L608.0,49.0 L612.0,49.0 L616.0,49.0 L620.0,49.0 L624.0,49.0 L628.0,49.0 L632.0,49.0 L636.0,49.0 L640.0,49.0 L644.0,49.0 L648.0,49.0 L652.0,49.0 L656.0,49.0 L660.0,49.0 L664.0,49.0 L668.0,49.0 L672.0,49.0 L676.0,49.0"/>
<path stroke="#fa7676" d="M92.0,263.7 L96.0,263.6 L100.0,263.6 L104.0,263.6 L108.0,263.5 L112.0,263.5 L116.0,263.4 L120.0,263.4 L124.0,263.3 L128.0,263.3 L132.0,263.2 L136.0,263.1 L140.0,263.0 L144.0,262.9 L148.0,262.8 L152.0,262.7 L156.0,262.6 L160.0,262.4 L164.0,262.3 L168.0,262.1 L172.0,262.0 L176.0,261.8 L180.0,261.5 L184.0,261.3 L188.0,261.0 L192.0,260.8 L196.0,260.5 L200.0,260.1 L204.0,259.8 L208.0,259.4 L212.0,258.9 L216.0,258.4 L220.0,257.9 L224.0,257.3 L228.0,256.7 L232.0,256.0 L236.0,255.3 L240.0,254.5 L244.0,253.6 L248.0,252.7 L252.0,251.7 L256.0,250.5 L260.0,249.3 L264.0,248.0 L268.0,246.6 L272.0,245.1 L276.0,243.4 L280.0,241.6 L284.0,239.7 L288.0,237.6 L292.0,235.4 L296.0,233.1 L300.0,230.5 L304.0,227.9 L308.0,225.0 L312.0,222.0 L316.0,218.8 L316.8,218.1 L317.4,217.6 L318.0,217.1 L318.5,216.6 L319.1,216.2 L319.6,215.7 L320.0,215.4 L320.2,215.2 L320.8,214.7 L321.3,214.2 L321.9,213.7 L322.5,213.2 L323.0,212.7 L323.6,212.2 L324.0,211.8 L324.1,211.7 L324.7,211.2 L325.3,210.7 L325.8,210.1 L326.4,209.6 L326.9,209.1 L327.5,208.6 L328.0,208.1 L328.1,208.0 L328.6,207.5 L329.2,206.9 L329.8,206.4 L330.3,205.8 L330.9,205.3 L331.4,204.7 L332.0,204.2 L332.0,204.2 L332.6,203.6 L333.1,203.1 L333.7,202.5 L334.2,201.9 L334.8,201.4 L335.4,200.8 L335.9,200.2 L336.0,200.1 L336.5,199.6 L337.1,199.0 L337.6,198.4 L338.2,197.8 L338.7,197.3 L340.0,195.9 L344.0,191.5 L348.0,187.0 L352.0,182.4 L356.0,177.7 L360.0,172.9 L364.0,168.0 L368.0,163.1 L372.0,158.2 L376.0,153.2 L380.0,148.3 L384.0,143.4 L388.0,138.5 L392.0,133.7 L396.0,129.0 L400.0,124.5 L404.0,120.0 L408.0,115.7 L412.0,111.5 L416.0,107.5 L420.0,103.7 L424.0,100.0 L428.0,96.5 L432.0,93.2 L436.0,90.0 L440.0,87.0 L444.0,84.2 L448.0,81.6 L452.0,79.1 L456.0,76.8 L460.0,74.7 L464.0,72.7 L468.0,70.8 L472.0,69.0 L476.0,67.4 L480.0,65.9 L484.0,64.5 L488.0,63.3 L492.0,62.1 L496.0,61.0 L500.0,60.0 L504.0,59.1 L508.0,58.2 L512.0,57.4 L516.0,56.7 L520.0,56.1 L524.0,55.5 L528.0,54.9 L532.0,54.4 L536.0,53.9 L540.0,53.5 L544.0,53.1 L548.0,52.8 L552.0,52.4 L556.0,52.1 L560.0,51.9 L564.0,51.6 L568.0,51.4 L572.0,51.2 L576.0,51.0 L580.0,50.8 L584.0,50.7 L588.0,50.5 L592.0,50.4 L596.0,50.3 L600.0,50.1 L604.0,50.0 L608.0,50.0 L612.0,49.9 L616.0,49.8 L620.0,49.7 L624.0,49.7 L628.0,49.6 L632.0,49.6 L636.0,49.5 L640.0,49.5 L644.0,49.4 L648.0,49.4 L652.0,49.3 L656.0,49.3 L660.0,49.3 L664.0,49.3 L668.0,49.2 L672.0,49.2 L676.0,49.2"/>
<path stroke="#6ab2fa" d="M92.0,264.0 L96.0,264.0 L100.0,264.0 L104.0,264.0 L108.0,264.0 L112.0,264.0 L116.0,264.0 L120.0,264.0 L124.0,264.0 L128.0,264.0 L132.0,264.0 L136.0,264.0 L140.0,264.0 L144.0,264.0 L148.0,264.0 L152.0,264.0 L156.0,264.0 L160.0,264.0 L164.0,264.0 L168.0,264.0 L172.0,264.0 L176.0,264.0 L180.0,264.0 L184.0,264.0 L188.0,264.0 L192.0,264.0 L196.0,264.0 L200.0,264.0 L204.0,264.0 L208.0,264.0 L212.0,263.9 L216.0,263.9 L220.0,263.9 L224.0,263.9 L228.0,263.9 L232.0,263.8 L236.0,263.8 L240.0,263.8 L244.0,263.7 L248.0,263.7 L252.0,263.6 L256.0,263.5 L260.0,263.4 L264.0,263.3 L268.0,263.1 L272.0,262.9 L276.0,262.7 L280.0,262.4 L284.0,262.0 L288.0,261.6 L292.0,261.1 L296.0,260.5 L300.0,259.7 L304.0,258.8 L308.0,257.7 L312.0,256.4 L316.0,254.8 L316.8,254.5 L317.4,254.2 L318.0,254.0 L318.5,253.7 L319.1,253.4 L319.6,253.1 L320.0,253.0 L320.2,252.9 L320.8,252.6 L321.3,252.3 L321.9,252.0 L322.5,251.6 L323.0,251.3 L323.6,251.0 L324.0,250.7 L324.1,250.6 L324.7,250.3 L325.3,249.9 L325.8,249.6 L326.4,249.2 L326.9,248.8 L327.5,248.4 L328.0,248.1 L328.1,248.0 L328.6,247.6 L329.2,247.2 L329.8,246.8 L330.3,246.3 L330.9,245.9 L331.4,245.4 L332.0,244.9 L332.0,244.9 L332.6,244.4 L333.1,244.0 L333.7,243.4 L334.2,242.9 L334.8,242.4 L335.4,241.9 L335.9,241.3 L336.0,241.2 L336.5,240.8 L337.1,240.2 L337.6,239.6 L338.2,239.0 L338.7,238.4 L340.0,236.9 L344.0,232.0 L348.0,226.3 L352.0,219.8 L356.0,212.5 L360.0,204.5 L364.0,195.7 L368.0,186.3 L372.0,176.3 L376.0,166.0 L380.0,155.5 L384.0,145.0 L388.0,134.8 L392.0,124.9 L396.0,115.6 L400.0,106.9 L404.0,99.0 L408.0,91.9 L412.0,85.6 L416.0,80.0 L420.0,75.2 L424.0,71.0 L428.0,67.4 L432.0,64.4 L436.0,61.8 L440.0,59.7 L444.0,57.8 L448.0,56.3 L452.0,55.1 L456.0,54.0 L460.0,53.1 L464.0,52.4 L468.0,51.8 L472.0,51.3 L476.0,50.9 L480.0,50.6 L484.0,50.3 L488.0,50.1 L492.0,49.9 L496.0,49.7 L500.0,49.6 L504.0,49.5 L508.0,49.4 L512.0,49.3 L516.0,49.3 L520.0,49.2 L524.0,49.2 L528.0,49.2 L532.0,49.1 L536.0,49.1 L540.0,49.1 L544.0,49.1 L548.0,49.1 L552.0,49.0 L556.0,49.0 L560.0,49.0 L564.0,49.0 L568.0,49.0 L572.0,49.0 L576.0,49.0 L580.0,49.0 L584.0,49.0 L588.0,49.0 L592.0,49.0 L596.0,49.0 L600.0,49.0 L604.0,49.0 L608.0,49.0 L612.0,49.0 L616.0,49.0 L620.0,49.0 L624.0,49.0 L628.0,49.0 L632.0,49.0 L636.0,49.0 L640.0,49.0 L644.0,49.0 L648.0,49.0 L652.0,49.0 L656.0,49.0 L660.0,49.0 L664.0,49.0 L668.0,49.0 L672.0,49.0 L676.0,49.0"/>
<path stroke="#fa7676" d="M92.0,264.0 L96.0,264.0 L100.0,264.0 L104.0,264.0 L108.0,264.0 L112.0,264.0 L116.0,264.0 L120.0,264.0 L124.0,264.0 L128.0,264.0 L132.0,264.0 L136.0,264.0 L140.0,264.0 L144.0,264.0 L148.0,264.0 L152.0,264.0 L156.0,264.0 L160.0,264.0 L164.0,264.0 L168.0,264.0 L172.0,264.0 L176.0,264.0 L180.0,264.0 L184.0,264.0 L188.0,264.0 L192.0,264.0 L196.0,264.0 L200.0,263.9 L204.0,263.9 L208.0,263.9 L212.0,263.9 L216.0,263.9 L220.0,263.9 L224.0,263.8 L228.0,263.8 L232.0,263.8 L236.0,263.7 L240.0,263.6 L244.0,263.6 L248.0,263.5 L252.0,263.4 L256.0,263.2 L260.0,263.1 L264.0,262.9 L268.0,262.7 L272.0,262.4 L276.0,262.0 L280.0,261.6 L284.0,261.1 L288.0,260.5 L292.0,259.8 L296.0,258.9 L300.0,257.8 L304.0,256.6 L308.0,255.1 L312.0,253.3 L316.0,251.1 L316.8,250.6 L317.4,250.3 L318.0,249.9 L318.5,249.5 L319.1,249.2 L319.6,248.8 L320.0,248.6 L320.2,248.4 L320.8,248.0 L321.3,247.6 L321.9,247.2 L322.5,246.8 L323.0,246.3 L323.6,245.9 L324.0,245.6 L324.1,245.4 L324.7,245.0 L325.3,244.5 L325.8,244.0 L326.4,243.5 L326.9,243.0 L327.5,242.5 L328.0,242.0 L328.1,242.0 L328.6,241.4 L329.2,240.9 L329.8,240.3 L330.3,239.7 L330.9,239.1 L331.4,238.5 L332.0,237.9 L332.0,237.9 L332.6,237.3 L333.1,236.6 L333.7,236.0 L334.2,235.3 L334.8,234.6 L335.4,234.0 L335.9,233.2 L336.0,233.2 L336.5,232.5 L337.1,231.8 L337.6,231.0 L338.2,230.3 L338.7,229.5 L340.0,227.7 L344.0,221.5 L348.0,214.5 L352.0,206.8 L356.0,198.4 L360.0,189.3 L364.0,179.6 L368.0,169.5 L372.0,159.2 L376.0,148.9 L380.0,138.6 L384.0,128.8 L388.0,119.3 L392.0,110.5 L396.0,102.4 L400.0,95.0 L404.0,88.5 L408.0,82.6 L412.0,77.5 L416.0,73.1 L420.0,69.2 L424.0,66.0 L428.0,63.2 L432.0,60.8 L436.0,58.8 L440.0,57.2 L444.0,55.8 L448.0,54.6 L452.0,53.7 L456.0,52.9 L460.0,52.2 L464.0,51.6 L468.0,51.2 L472.0,50.8 L476.0,50.5 L480.0,50.2 L484.0,50.0 L488.0,49.8 L492.0,49.7 L496.0,49.6 L500.0,49.5 L504.0,49.4 L508.0,49.3 L512.0,49.3 L516.0,49.2 L520.0,49.2 L524.0,49.1 L528.0,49.1 L532.0,49.1 L536.0,49.1 L540.0,49.1 L544.0,49.1 L548.0,49.0 L552.0,49.0 L556.0,49.0 L560.0,49.0 L564.0,49.0 L568.0,49.0 L572.0,49.0 L576.0,49.0 L580.0,49.0 L584.0,49.0 L588.0,49.0 L592.0,49.0 L596.0,49.0 L600.0,49.0 L604.0,49.0 L608.0,49.0 L612.0,49.0 L616.0,49.0 L620.0,49.0 L624.0,49.0 L628.0,49.0 L632.0,49.0 L636.0,49.0 L640.0,49.0 L644.0,49.0 L648.0,49.0 L652.0,49.0 L656.0,49.0 L660.0,49.0 L664.0,49.0 L668.0,49.0 L672.0,49.0 L676.0,49.0"/>
<path stroke="#6ab2fa" d="M92.0,264.0 L96.0,264.0 L100.0,264.0 L104.0,264.0 L108.0,264.0 L112.0,264.0 L116.0,264.0 L120.0,264.0 L124.0,264.0 L128.0,264.0 L132.0,264.0 L136.0,264.0 L140.0,264.0 L144.0,264.0 L148.0,264.0 L152.0,264.0 L156.0,264.0 L160.0,264.0 L164.0,264.0 L168.0,264.0 L172.0,264.0 L176.0,264.0 L180.0,264.0 L184.0,264.0 L188.0,264.0 L192.0,264.0 L196.0,264.0 L200.0,264.0 L204.0,264.0 L208.0,264.0 L212.0,264.0 L216.0,264.0 L220.0,264.0 L224.0,263.9 L228.0,263.9 L232.0,263.9 L236.0,263.9 L240.0,263.9 L244.0,263.9 L248.0,263.8 L252.0,263.8 L256.0,263.7 L260.0,263.7 L264.0,263.6 L268.0,263.5 L272.0,263.3 L276.0,263.2 L280.0,263.0 L284.0,262.8 L288.0,262.5 L292.0,262.1 L296.0,261.7 L300.0,261.2 L304.0,260.5 L308.0,259.7 L312.0,258.7 L316.0,257.5 L316.8,257.3 L317.4,257.1 L318.0,256.9 L318.5,256.7 L319.1,256.4 L319.6,256.2 L320.0,256.1 L320.2,256.0 L320.8,255.8 L321.3,255.5 L321.9,255.3 L322.5,255.0 L323.0,254.8 L323.6,254.5 L324.0,254.3 L324.1,254.2 L324.7,254.0 L325.3,253.7 L325.8,253.4 L326.4,253.1 L326.9,252.8 L327.5,252.4 L328.0,252.2 L328.1,252.1 L328.6,251.8 L329.2,251.4 L329.8,251.1 L330.3,250.7 L330.9,250.3 L331.4,250.0 L332.0,249.6 L332.0,249.6 L332.6,249.2 L333.1,248.8 L333.7,248.3 L334.2,247.9 L334.8,247.4 L335.4,247.0 L335.9,246.5 L336.0,246.5 L336.5,246.0 L337.1,245.5 L337.6,245.0 L338.2,244.5 L338.7,244.0 L340.0,242.8 L344.0,238.4 L348.0,233.2 L352.0,227.2 L356.0,220.4 L360.0,212.6 L364.0,203.9 L368.0,194.3 L372.0,184.1 L376.0,173.2 L380.0,162.0 L384.0,150.7 L388.0,139.5 L392.0,128.7 L396.0,118.4 L400.0,108.9 L404.0,100.3 L408.0,92.5 L412.0,85.6 L416.0,79.7 L420.0,74.5 L424.0,70.2 L428.0,66.5 L432.0,63.4 L436.0,60.8 L440.0,58.6 L444.0,56.9 L448.0,55.4 L452.0,54.2 L456.0,53.3 L460.0,52.5 L464.0,51.8 L468.0,51.3 L472.0,50.9 L476.0,50.5 L480.0,50.2 L484.0,50.0 L488.0,49.8 L492.0,49.7 L496.0,49.5 L500.0,49.4 L504.0,49.3 L508.0,49.3 L512.0,49.2 L516.0,49.2 L520.0,49.1 L524.0,49.1 L528.0,49.1 L532.0,49.1 L536.0,49.1 L540.0,49.1 L544.0,49.0 L548.0,49.0 L552.0,49.0 L556.0,49.0 L560.0,49.0 L564.0,49.0 L568.0,49.0 L572.0,49.0 L576.0,49.0 L580.0,49.0 L584.0,49.0 L588.0,49.0 L592.0,49.0 L596.0,49.0 L600.0,49.0 L604.0,49.0 L608.0,49.0 L612.0,49.0 L616.0,49.0 L620.0,49.0 L624.0,49.0 L628.0,49.0 L632.0,49.0 L636.0,49.0 L640.0,49.0 L644.0,49.0 L648.0,49.0 L652.0,49.0 L656.0,49.0 L660.0,49.0 L664.0,49.0 L668.0,49.0 L672.0,49.0 L676.0,49.0"/>
<path stroke="#fa7676" d="M92.0,264.0 L96.0,264.0 L100.0,264.0 L104.0,264.0 L108.0,264.0 L112.0,264.0 L116.0,264.0 L120.0,264.0 L124.0,264.0 L128.0,264.0 L132.0,264.0 L136.0,264.0 L140.0,264.0 L144.0,264.0 L148.0,263.9 L152.0,263.9 L156.0,263.9 L160.0,263.9 L164.0,263.9 L168.0,263.9 L172.0,263.9 L176.0,263.9 L180.0,263.8 L184.0,263.8 L188.0,263.8 L192.0,263.7 L196.0,263.7 L200.0,263.7 L204.0,263.6 L208.0,263.5 L212.0,263.5 L216.0,263.4 L220.0,263.3 L224.0,263.2 L228.0,263.0 L232.0,262.9 L236.0,262.7 L240.0,262.5 L244.0,262.3 L248.0,262.0 L252.0,261.7 L256.0,261.3 L260.0,260.9 L264.0,260.5 L268.0,259.9 L272.0,259.3 L276.0,258.6 L280.0,257.7 L284.0,256.8 L288.0,255.7 L292.0,254.4 L296.0,253.0 L300.0,251.3 L304.0,249.5 L308.0,247.4 L312.0,245.0 L316.0,242.3 L316.8,241.7 L317.4,241.3 L318.0,240.8 L318.5,240.4 L319.1,240.0 L319.6,239.5 L320.0,239.2 L320.2,239.1 L320.8,238.6 L321.3,238.2 L321.9,237.7 L322.5,237.2 L323.0,236.7 L323.6,236.2 L324.0,235.9 L324.1,235.7 L324.7,235.2 L325.3,234.7 L325.8,234.2 L326.4,233.6 L326.9,233.1 L327.5,232.6 L328.0,232.1 L328.1,232.0 L328.6,231.4 L329.2,230.9 L329.8,230.3 L330.3,229.7 L330.9,229.1 L331.4,228.5 L332.0,227.9 L332.0,227.9 L332.6,227.3 L333.1,226.6 L333.7,226.0 L334.2,225.3 L334.8,224.7 L335.4,224.0 L335.9,223.3 L336.0,223.3 L336.5,222.7 L337.1,222.0 L337.6,221.3 L338.2,220.6 L338.7,219.8 L340.0,218.2 L344.0,212.7 L348.0,206.8 L352.0,200.4 L356.0,193.6 L360.0,186.5 L364.0,179.1 L368.0,171.5 L372.0,163.7 L376.0,155.9 L380.0,148.0 L384.0,140.2 L388.0,132.6 L392.0,125.3 L396.0,118.2 L400.0,111.6 L404.0,105.3 L408.0,99.4 L412.0,94.0 L416.0,89.0 L420.0,84.4 L424.0,80.3 L428.0,76.6 L432.0,73.2 L436.0,70.3 L440.0,67.6 L444.0,65.3 L448.0,63.2 L452.0,61.4 L456.0,59.8 L460.0,58.4 L464.0,57.1 L468.0,56.1 L472.0,55.1 L476.0,54.3 L480.0,53.6 L484.0,53.0 L488.0,52.5 L492.0,52.0 L496.0,51.6 L500.0,51.2 L504.0,50.9 L508.0,50.7 L512.0,50.4 L516.0,50.3 L520.0,50.1 L524.0,49.9 L528.0,49.8 L532.0,49.7 L536.0,49.6 L540.0,49.5 L544.0,49.5 L548.0,49.4 L552.0,49.3 L556.0,49.3 L560.0,49.3 L564.0,49.2 L568.0,49.2 L572.0,49.2 L576.0,49.1 L580.0,49.1 L584.0,49.1 L588.0,49.1 L592.0,49.1 L596.0,49.1 L600.0,49.1 L604.0,49.1 L608.0,49.0 L612.0,49.0 L616.0,49.0 L620.0,49.0 L624.0,49.0 L628.0,49.0 L632.0,49.0 L636.0,49.0 L640.0,49.0 L644.0,49.0 L648.0,49.0 L652.0,49.0 L656.0,49.0 L660.0,49.0 L664.0,49.0 L668.0,49.0 L672.0,49.0 L676.0,49.0"/>
<path stroke="#6ab2fa" d="M92.0,264.0 L96.0,264.0 L100.0,264.0 L104.0,264.0 L108.0,264.0 L112.0,264.0 L116.0,264.0 L120.0,264.0 L124.0,264.0 L128.0,264.0 L132.0,264.0 L136.0,264.0 L140.0,264.0 L144.0,264.0 L148.0,264.0 L152.0,264.0 L156.0,263.9 L160.0,263.9 L164.0,263.9 L168.0,263.9 L172.0,263.9 L176.0,263.9 L180.0,263.9 L184.0,263.9 L188.0,263.8 L192.0,263.8 L196.0,263.8 L200.0,263.7 L204.0,263.7 L208.0,263.7 L212.0,263.6 L216.0,263.5 L220.0,263.5 L224.0,263.4 L228.0,263.3 L232.0,263.2 L236.0,263.0 L240.0,262.9 L244.0,262.7 L248.0,262.5 L252.0,262.3 L256.0,262.0 L260.0,261.7 L264.0,261.3 L268.0,260.9 L272.0,260.4 L276.0,259.9 L280.0,259.3 L284.0,258.5 L288.0,257.7 L292.0,256.7 L296.0,255.6 L300.0,254.3 L304.0,252.9 L308.0,251.2 L312.0,249.3 L316.0,247.2 L316.8,246.7 L317.4,246.4 L318.0,246.0 L318.5,245.7 L319.1,245.3 L319.6,245.0 L320.0,244.7 L320.2,244.6 L320.8,244.2 L321.3,243.9 L321.9,243.5 L322.5,243.1 L323.0,242.7 L323.6,242.3 L324.0,242.0 L324.1,241.9 L324.7,241.5 L325.3,241.1 L325.8,240.6 L326.4,240.2 L326.9,239.8 L327.5,239.3 L328.0,238.9 L328.1,238.9 L328.6,238.4 L329.2,237.9 L329.8,237.5 L330.3,237.0 L330.9,236.5 L331.4,236.0 L332.0,235.5 L332.0,235.5 L332.6,235.0 L333.1,234.4 L333.7,233.9 L334.2,233.4 L334.8,232.8 L335.4,232.3 L335.9,231.7 L336.0,231.6 L336.5,231.1 L337.1,230.5 L337.6,229.9 L338.2,229.4 L338.7,228.7 L340.0,227.4 L344.0,222.7 L348.0,217.5 L352.0,211.9 L356.0,205.9 L360.0,199.4 L364.0,192.6 L368.0,185.4 L372.0,177.9 L376.0,170.2 L380.0,162.4 L384.0,154.5 L388.0,146.6 L392.0,138.8 L396.0,131.2 L400.0,123.9 L404.0,116.9 L408.0,110.2 L412.0,104.0 L416.0,98.2 L420.0,92.8 L424.0,87.9 L428.0,83.4 L432.0,79.4 L436.0,75.7 L440.0,72.5 L444.0,69.6 L448.0,67.0 L452.0,64.7 L456.0,62.7 L460.0,60.9 L464.0,59.4 L468.0,58.0 L472.0,56.8 L476.0,55.8 L480.0,54.9 L484.0,54.1 L488.0,53.4 L492.0,52.8 L496.0,52.3 L500.0,51.9 L504.0,51.5 L508.0,51.1 L512.0,50.8 L516.0,50.6 L520.0,50.4 L524.0,50.2 L528.0,50.0 L532.0,49.9 L536.0,49.8 L540.0,49.7 L544.0,49.6 L548.0,49.5 L552.0,49.4 L556.0,49.4 L560.0,49.3 L564.0,49.3 L568.0,49.2 L572.0,49.2 L576.0,49.2 L580.0,49.2 L584.0,49.1 L588.0,49.1 L592.0,49.1 L596.0,49.1 L600.0,49.1 L604.0,49.1 L608.0,49.1 L612.0,49.0 L616.0,49.0 L620.0,49.0 L624.0,49.0 L628.0,49.0 L632.0,49.0 L636.0,49.0 L640.0,49.0 L644.0,49.0 L648.0,49.0 L652.0,49.0 L656.0,49.0 L660.0,49.0 L664.0,49.0 L668.0,49.0 L672.0,49.0 L676.0,49.0"/>
<path stroke="#fa7676" d="M92.0,264.0 L96.0,264.0 L100.0,264.0 L104.0,264.0 L108.0,264.0 L112.0,264.0 L116.0,264.0 L120.0,264.0 L124.0,264.0 L128.0,264.0 L132.0,264.0 L136.0,264.0 L140.0,264.0 L144.0,264.0 L148.0,264.0 L152.0,264.0 L156.0,264.0 L160.0,264.0 L164.0,264.0 L168.0,264.0 L172.0,264.0 L176.0,264.0 L180.0,264.0 L184.0,264.0 L188.0,264.0 L192.0,264.0 L196.0,264.0 L200.0,264.0 L204.0,264.0 L208.0,264.0 L212.0,264.0 L216.0,263.9 L220.0,263.9 L224.0,263.9 L228.0,263.9 L232.0,263.9 L236.0,263.8 L240.0,263.8 L244.0,263.8 L248.0,263.7 L252.0,263.6 L256.0,263.6 L260.0,263.5 L264.0,263.4 L268.0,263.2 L272.0,263.0 L276.0,262.8 L280.0,262.5 L284.0,262.2 L288.0,261.8 L292.0,261.3 L296.0,260.7 L300.0,260.0 L304.0,259.1 L308.0,258.0 L312.0,256.7 L316.0,255.1 L316.8,254.8 L317.4,254.5 L318.0,254.3 L318.5,254.0 L319.1,253.7 L319.6,253.4 L320.0,253.2 L320.2,253.1 L320.8,252.8 L321.3,252.5 L321.9,252.2 L322.5,251.9 L323.0,251.5 L323.6,251.2 L324.0,250.9 L324.1,250.9 L324.7,250.5 L325.3,250.1 L325.8,249.7 L326.4,249.4 L326.9,249.0 L327.5,248.6 L328.0,248.2 L328.1,248.1 L328.6,247.7 L329.2,247.3 L329.8,246.8 L330.3,246.4 L330.9,245.9 L331.4,245.4 L332.0,244.9 L332.0,244.9 L332.6,244.4 L333.1,243.9 L333.7,243.4 L334.2,242.8 L334.8,242.3 L335.4,241.7 L335.9,241.1 L336.0,241.1 L336.5,240.5 L337.1,239.9 L337.6,239.3 L338.2,238.7 L338.7,238.0 L340.0,236.5 L344.0,231.2 L348.0,225.2 L352.0,218.2 L356.0,210.4 L360.0,201.8 L364.0,192.4 L368.0,182.3 L372.0,171.7 L376.0,160.8 L380.0,149.8 L384.0,139.0 L388.0,128.5 L392.0,118.6 L396.0,109.3 L400.0,100.9 L404.0,93.2 L408.0,86.5 L412.0,80.6 L416.0,75.5 L420.0,71.1 L424.0,67.3 L428.0,64.2 L432.0,61.5 L436.0,59.3 L440.0,57.5 L444.0,56.0 L448.0,54.7 L452.0,53.7 L456.0,52.8 L460.0,52.1 L464.0,51.6 L468.0,51.1 L472.0,50.7 L476.0,50.4 L480.0,50.1 L484.0,49.9 L488.0,49.8 L492.0,49.6 L496.0,49.5 L500.0,49.4 L504.0,49.3 L508.0,49.3 L512.0,49.2 L516.0,49.2 L520.0,49.1 L524.0,49.1 L528.0,49.1 L532.0,49.1 L536.0,49.1 L540.0,49.1 L544.0,49.0 L548.0,49.0 L552.0,49.0 L556.0,49.0 L560.0,49.0 L564.0,49.0 L568.0,49.0 L572.0,49.0 L576.0,49.0 L580.0,49.0 L584.0,49.0 L588.0,49.0 L592.0,49.0 L596.0,49.0 L600.0,49.0 L604.0,49.0 L608.0,49.0 L612.0,49.0 L616.0,49.0 L620.0,49.0 L624.0,49.0 L628.0,49.0 L632.0,49.0 L636.0,49.0 L640.0,49.0 L644.0,49.0 L648.0,49.0 L652.0,49.0 L656.0,49.0 L660.0,49.0 L664.0,49.0 L668.0,49.0 L672.0,49.0 L676.0,49.0"/>
<path stroke="#6ab2fa" d="M92.0,264.0 L96.0,264.0 L100.0,264.0 L104.0,264.0 L108.0,264.0 L112.0,264.0 L116.0,264.0 L120.0,264.0 L124.0,264.0 L128.0,264.0 L132.0,264.0 L136.0,264.0 L140.0,264.0 L144.0,264.0 L148.0,264.0 L152.0,264.0 L156.0,264.0 L160.0,264.0 L164.0,264.0 L168.0,263.9 L172.0,263.9 L176.0,263.9 L180.0,263.9 L184.0,263.9 L188.0,263.9 L192.0,263.9 L196.0,263.8 L200.0,263.8 L204.0,263.8 L208.0,263.8 L212.0,263.7 L216.0,263.7 L220.0,263.6 L224.0,263.6 L228.0,263.5 L232.0,263.4 L236.0,263.3 L240.0,263.2 L244.0,263.0 L248.0,262.9 L252.0,262.7 L256.0,262.5 L260.0,262.2 L264.0,261.9 L268.0,261.6 L272.0,261.1 L276.0,260.7 L280.0,260.1 L284.0,259.5 L288.0,258.7 L292.0,257.9 L296.0,256.9 L300.0,255.7 L304.0,254.4 L308.0,252.9 L312.0,251.1 L316.0,249.1 L316.8,248.6 L317.4,248.3 L318.0,248.0 L318.5,247.6 L319.1,247.3 L319.6,247.0 L320.0,246.8 L320.2,246.6 L320.8,246.3 L321.3,245.9 L321.9,245.5 L322.5,245.2 L323.0,244.8 L323.6,244.4 L324.0,244.1 L324.1,244.0 L324.7,243.6 L325.3,243.2 L325.8,242.8 L326.4,242.4 L326.9,242.0 L327.5,241.5 L328.0,241.1 L328.1,241.1 L328.6,240.6 L329.2,240.2 L329.8,239.7 L330.3,239.2 L330.9,238.7 L331.4,238.2 L332.0,237.7 L332.0,237.7 L332.6,237.2 L333.1,236.7 L333.7,236.2 L334.2,235.7 L334.8,235.1 L335.4,234.6 L335.9,234.0 L336.0,233.9 L336.5,233.4 L337.1,232.9 L337.6,232.3 L338.2,231.7 L338.7,231.1 L340.0,229.7 L344.0,225.0 L348.0,219.7 L352.0,214.0 L356.0,207.8 L360.0,201.1 L364.0,194.0 L368.0,186.4 L372.0,178.5 L376.0,170.4 L380.0,162.1 L384.0,153.8 L388.0,145.4 L392.0,137.2 L396.0,129.3 L400.0,121.6 L404.0,114.3 L408.0,107.5 L412.0,101.1 L416.0,95.2 L420.0,89.8 L424.0,84.9 L428.0,80.5 L432.0,76.5 L436.0,73.0 L440.0,69.9 L444.0,67.1 L448.0,64.7 L452.0,62.6 L456.0,60.7 L460.0,59.1 L464.0,57.7 L468.0,56.5 L472.0,55.5 L476.0,54.5 L480.0,53.8 L484.0,53.1 L488.0,52.5 L492.0,52.0 L496.0,51.6 L500.0,51.2 L504.0,50.9 L508.0,50.6 L512.0,50.4 L516.0,50.2 L520.0,50.0 L524.0,49.9 L528.0,49.7 L532.0,49.6 L536.0,49.5 L540.0,49.5 L544.0,49.4 L548.0,49.3 L552.0,49.3 L556.0,49.3 L560.0,49.2 L564.0,49.2 L568.0,49.2 L572.0,49.1 L576.0,49.1 L580.0,49.1 L584.0,49.1 L588.0,49.1 L592.0,49.1 L596.0,49.1 L600.0,49.0 L604.0,49.0 L608.0,49.0 L612.0,49.0 L616.0,49.0 L620.0,49.0 L624.0,49.0 L628.0,49.0 L632.0,49.0 L636.0,49.0 L640.0,49.0 L644.0,49.0 L648.0,49.0 L652.0,49.0 L656.0,49.0 L660.0,49.0 L664.0,49.0 L668.0,49.0 L672.0,49.0 L676.0,49.0"/>
<path stroke="#fa7676" d="M92.0,264.0 L96.0,264.0 L100.0,263.9 L104.0,263.9 L108.0,263.9 L112.0,263.9 L116.0,263.9 L120.0,263.9 L124.0,263.9 L128.0,263.9 L132.0,263.9 L136.0,263.8 L140.0,263.8 L144.0,263.8 L148.0,263.8 L152.0,263.8 L156.0,263.7 L160.0,263.7 L164.0,263.7 L168.0,263.6 L172.0,263.6 L176.0,263.5 L180.0,263.4 L184.0,263.4 L188.0,263.3 L192.0,263.2 L196.0,263.1 L200.0,263.0 L204.0,262.9 L208.0,262.7 L212.0,262.5 L216.0,262.4 L220.0,262.2 L224.0,261.9 L228.0,261.7 L232.0,261.4 L236.0,261.0 L240.0,260.7 L244.0,260.2 L248.0,259.8 L252.0,259.3 L256.0,258.7 L260.0,258.0 L264.0,257.3 L268.0,256.4 L272.0,255.5 L276.0,254.5 L280.0,253.3 L284.0,252.1 L288.0,250.6 L292.0,249.1 L296.0,247.3 L300.0,245.4 L304.0,243.2 L308.0,240.9 L312.0,238.3 L316.0,235.5 L316.8,234.8 L317.4,234.4 L318.0,234.0 L318.5,233.5 L319.1,233.1 L319.6,232.6 L320.0,232.4 L320.2,232.2 L320.8,231.7 L321.3,231.3 L321.9,230.8 L322.5,230.3 L323.0,229.8 L323.6,229.4 L324.0,229.0 L324.1,228.9 L324.7,228.4 L325.3,227.9 L325.8,227.4 L326.4,226.9 L326.9,226.3 L327.5,225.8 L328.0,225.3 L328.1,225.3 L328.6,224.7 L329.2,224.2 L329.8,223.7 L330.3,223.1 L330.9,222.5 L331.4,222.0 L332.0,221.4 L332.0,221.4 L332.6,220.8 L333.1,220.2 L333.7,219.7 L334.2,219.1 L334.8,218.5 L335.4,217.9 L335.9,217.2 L336.0,217.2 L336.5,216.6 L337.1,216.0 L337.6,215.4 L338.2,214.7 L338.7,214.1 L340.0,212.6 L344.0,207.8 L348.0,202.7 L352.0,197.3 L356.0,191.7 L360.0,185.9 L364.0,179.8 L368.0,173.6 L372.0,167.3 L376.0,160.9 L380.0,154.5 L384.0,148.1 L388.0,141.7 L392.0,135.5 L396.0,129.4 L400.0,123.4 L404.0,117.7 L408.0,112.3 L412.0,107.0 L416.0,102.1 L420.0,97.5 L424.0,93.1 L428.0,89.1 L432.0,85.3 L436.0,81.9 L440.0,78.7 L444.0,75.7 L448.0,73.1 L452.0,70.6 L456.0,68.4 L460.0,66.4 L464.0,64.6 L468.0,62.9 L472.0,61.5 L476.0,60.1 L480.0,58.9 L484.0,57.9 L488.0,56.9 L492.0,56.0 L496.0,55.3 L500.0,54.6 L504.0,54.0 L508.0,53.4 L512.0,52.9 L516.0,52.5 L520.0,52.1 L524.0,51.8 L528.0,51.4 L532.0,51.2 L536.0,50.9 L540.0,50.7 L544.0,50.5 L548.0,50.4 L552.0,50.2 L556.0,50.1 L560.0,49.9 L564.0,49.8 L568.0,49.7 L572.0,49.7 L576.0,49.6 L580.0,49.5 L584.0,49.5 L588.0,49.4 L592.0,49.4 L596.0,49.3 L600.0,49.3 L604.0,49.3 L608.0,49.2 L612.0,49.2 L616.0,49.2 L620.0,49.2 L624.0,49.1 L628.0,49.1 L632.0,49.1 L636.0,49.1 L640.0,49.1 L644.0,49.1 L648.0,49.1 L652.0,49.1 L656.0,49.1 L660.0,49.0 L664.0,49.0 L668.0,49.0 L672.0,49.0 L676.0,49.0"/>
<path stroke="#6ab2fa" d="M92.0,264.0 L96.0,264.0 L100.0,264.0 L104.0,264.0 L108.0,264.0 L112.0,264.0 L116.0,264.0 L120.0,264.0 L124.0,264.0 L128.0,264.0 L132.0,264.0 L136.0,264.0 L140.0,264.0 L144.0,264.0 L148.0,264.0 L152.0,263.9 L156.0,263.9 L160.0,263.9 L164.0,263.9 L168.0,263.9 L172.0,263.9 L176.0,263.9 L180.0,263.9 L184.0,263.8 L188.0,263.8 L192.0,263.8 L196.0,263.7 L200.0,263.7 L204.0,263.7 L208.0,263.6 L212.0,263.6 L216.0,263.5 L220.0,263.4 L224.0,263.3 L228.0,263.2 L232.0,263.1 L236.0,262.9 L240.0,262.8 L244.0,262.6 L248.0,262.4 L252.0,262.1 L256.0,261.9 L260.0,261.5 L264.0,261.1 L268.0,260.7 L272.0,260.2 L276.0,259.6 L280.0,259.0 L284.0,258.2 L288.0,257.4 L292.0,256.4 L296.0,255.3 L300.0,254.0 L304.0,252.5 L308.0,250.8 L312.0,249.0 L316.0,246.8 L316.8,246.3 L317.4,246.0 L318.0,245.7 L318.5,245.3 L319.1,245.0 L319.6,244.6 L320.0,244.4 L320.2,244.3 L320.8,243.9 L321.3,243.5 L321.9,243.2 L322.5,242.8 L323.0,242.4 L323.6,242.0 L324.0,241.7 L324.1,241.6 L324.7,241.2 L325.3,240.8 L325.8,240.4 L326.4,239.9 L326.9,239.5 L327.5,239.1 L328.0,238.7 L328.1,238.6 L328.6,238.2 L329.2,237.7 L329.8,237.2 L330.3,236.8 L330.9,236.3 L331.4,235.8 L332.0,235.3 L332.0,235.3 L332.6,234.8 L333.1,234.3 L333.7,233.7 L334.2,233.2 L334.8,232.7 L335.4,232.1 L335.9,231.6 L336.0,231.5 L336.5,231.0 L337.1,230.5 L337.6,229.9 L338.2,229.3 L338.7,228.7 L340.0,227.4 L344.0,222.8 L348.0,217.8 L352.0,212.4 L356.0,206.6 L360.0,200.3 L364.0,193.7 L368.0,186.8 L372.0,179.5 L376.0,172.1 L380.0,164.5 L384.0,156.8 L388.0,149.1 L392.0,141.5 L396.0,134.0 L400.0,126.7 L404.0,119.8 L408.0,113.1 L412.0,106.9 L416.0,101.0 L420.0,95.6 L424.0,90.5 L428.0,85.9 L432.0,81.8 L436.0,78.0 L440.0,74.6 L444.0,71.5 L448.0,68.8 L452.0,66.3 L456.0,64.2 L460.0,62.3 L464.0,60.6 L468.0,59.1 L472.0,57.8 L476.0,56.7 L480.0,55.7 L484.0,54.8 L488.0,54.1 L492.0,53.4 L496.0,52.8 L500.0,52.3 L504.0,51.9 L508.0,51.5 L512.0,51.2 L516.0,50.9 L520.0,50.6 L524.0,50.4 L528.0,50.2 L532.0,50.1 L536.0,49.9 L540.0,49.8 L544.0,49.7 L548.0,49.6 L552.0,49.5 L556.0,49.5 L560.0,49.4 L564.0,49.3 L568.0,49.3 L572.0,49.3 L576.0,49.2 L580.0,49.2 L584.0,49.2 L588.0,49.1 L592.0,49.1 L596.0,49.1 L600.0,49.1 L604.0,49.1 L608.0,49.1 L612.0,49.1 L616.0,49.1 L620.0,49.0 L624.0,49.0 L628.0,49.0 L632.0,49.0 L636.0,49.0 L640.0,49.0 L644.0,49.0 L648.0,49.0 L652.0,49.0 L656.0,49.0 L660.0,49.0 L664.0,49.0 L668.0,49.0 L672.0,49.0 L676.0,49.0"/>
<path stroke="#fa7676" d="M92.0,264.0 L96.0,264.0 L100.0,264.0 L104.0,264.0 L108.0,264.0 L112.0,264.0 L116.0,264.0 L120.0,264.0 L124.0,264.0 L128.0,264.0 L132.0,264.0 L136.0,264.0 L140.0,264.0 L144.0,264.0 L148.0,264.0 L152.0,264.0 L156.0,264.0 L160.0,264.0 L164.0,264.0 L168.0,264.0 L172.0,264.0 L176.0,264.0 L180.0,264.0 L184.0,264.0 L188.0,264.0 L192.0,264.0 L196.0,264.0 L200.0,264.0 L204.0,264.0 L208.0,264.0 L212.0,264.0 L216.0,264.0 L220.0,264.0 L224.0,263.9 L228.0,263.9 L232.0,263.9 L236.0,263.9 L240.0,263.9 L244.0,263.9 L248.0,263.8 L252.0,263.8 L256.0,263.7 L260.0,263.7 L264.0,263.6 L268.0,263.5 L272.0,263.4 L276.0,263.2 L280.0,263.0 L284.0,262.8 L288.0,262.5 L292.0,262.2 L296.0,261.8 L300.0,261.3 L304.0,260.6 L308.0,259.8 L312.0,258.9 L316.0,257.7 L316.8,257.5 L317.4,257.3 L318.0,257.1 L318.5,256.9 L319.1,256.7 L319.6,256.5 L320.0,256.3 L320.2,256.2 L320.8,256.0 L321.3,255.8 L321.9,255.5 L322.5,255.3 L323.0,255.0 L323.6,254.8 L324.0,254.6 L324.1,254.5 L324.7,254.3 L325.3,254.0 L325.8,253.7 L326.4,253.4 L326.9,253.1 L327.5,252.8 L328.0,252.5 L328.1,252.5 L328.6,252.1 L329.2,251.8 L329.8,251.5 L330.3,251.1 L330.9,250.7 L331.4,250.4 L332.0,250.0 L332.0,250.0 L332.6,249.6 L333.1,249.2 L333.7,248.8 L334.2,248.3 L334.8,247.9 L335.4,247.5 L335.9,247.0 L336.0,247.0 L336.5,246.5 L337.1,246.1 L337.6,245.6 L338.2,245.1 L338.7,244.5 L340.0,243.3 L344.0,239.1 L348.0,234.0 L352.0,228.2 L356.0,221.4 L360.0,213.8 L364.0,205.2 L368.0,195.8 L372.0,185.6 L376.0,174.8 L380.0,163.7 L384.0,152.4 L388.0,141.1 L392.0,130.3 L396.0,119.9 L400.0,110.3 L404.0,101.5 L408.0,93.6 L412.0,86.6 L416.0,80.5 L420.0,75.2 L424.0,70.7 L428.0,67.0 L432.0,63.8 L436.0,61.1 L440.0,58.9 L444.0,57.1 L448.0,55.6 L452.0,54.4 L456.0,53.4 L460.0,52.6 L464.0,51.9 L468.0,51.4 L472.0,50.9 L476.0,50.6 L480.0,50.3 L484.0,50.0 L488.0,49.8 L492.0,49.7 L496.0,49.5 L500.0,49.4 L504.0,49.4 L508.0,49.3 L512.0,49.2 L516.0,49.2 L520.0,49.2 L524.0,49.1 L528.0,49.1 L532.0,49.1 L536.0,49.1 L540.0,49.1 L544.0,49.0 L548.0,49.0 L552.0,49.0 L556.0,49.0 L560.0,49.0 L564.0,49.0 L568.0,49.0 L572.0,49.0 L576.0,49.0 L580.0,49.0 L584.0,49.0 L588.0,49.0 L592.0,49.0 L596.0,49.0 L600.0,49.0 L604.0,49.0 L608.0,49.0 L612.0,49.0 L616.0,49.0 L620.0,49.0 L624.0,49.0 L628.0,49.0 L632.0,49.0 L636.0,49.0 L640.0,49.0 L644.0,49.0 L648.0,49.0 L652.0,49.0 L656.0,49.0 L660.0,49.0 L664.0,49.0 L668.0,49.0 L672.0,49.0 L676.0,49.0"/>
<path stroke="#6ab2fa" d="M92.0,264.0 L96.0,264.0 L100.0,264.0 L104.0,264.0 L108.0,264.0 L112.0,264.0 L116.0,264.0 L120.0,264.0 L124.0,264.0 L128.0,264.0 L132.0,264.0 L136.0,264.0 L140.0,264.0 L144.0,264.0 L148.0,264.0 L152.0,264.0 L156.0,264.0 L160.0,264.0 L164.0,264.0 L168.0,264.0 L172.0,264.0 L176.0,264.0 L180.0,264.0 L184.0,264.0 L188.0,264.0 L192.0,264.0 L196.0,264.0 L200.0,264.0 L204.0,264.0 L208.0,264.0 L212.0,264.0 L216.0,264.0 L220.0,264.0 L224.0,264.0 L228.0,264.0 L232.0,264.0 L236.0,264.0 L240.0,264.0 L244.0,264.0 L248.0,264.0 L252.0,264.0 L256.0,264.0 L260.0,263.9 L264.0,263.9 L268.0,263.9 L272.0,263.9 L276.0,263.8 L280.0,263.8 L284.0,263.7 L288.0,263.7 L292.0,263.6 L296.0,263.4 L300.0,263.3 L304.0,263.1 L308.0,262.8 L312.0,262.4 L316.0,262.0 L316.8,261.9 L317.4,261.8 L318.0,261.7 L318.5,261.6 L319.1,261.6 L319.6,261.5 L320.0,261.4 L320.2,261.4 L320.8,261.3 L321.3,261.2 L321.9,261.1 L322.5,261.0 L323.0,260.9 L323.6,260.8 L324.0,260.7 L324.1,260.7 L324.7,260.5 L325.3,260.4 L325.8,260.3 L326.4,260.2 L326.9,260.0 L327.5,259.9 L328.0,259.7 L328.1,259.7 L328.6,259.6 L329.2,259.4 L329.8,259.3 L330.3,259.1 L330.9,258.9 L331.4,258.7 L332.0,258.6 L332.0,258.6 L332.6,258.4 L333.1,258.2 L333.7,258.0 L334.2,257.7 L334.8,257.5 L335.4,257.3 L335.9,257.1 L336.0,257.0 L336.5,256.8 L337.1,256.6 L337.6,256.3 L338.2,256.0 L338.7,255.8 L340.0,255.1 L344.0,252.7 L348.0,249.6 L352.0,245.8 L356.0,241.1 L360.0,235.4 L364.0,228.5 L368.0,220.3 L372.0,210.8 L376.0,200.0 L380.0,188.1 L384.0,175.2 L388.0,161.8 L392.0,148.2 L396.0,134.8 L400.0,122.1 L404.0,110.4 L408.0,99.9 L412.0,90.7 L416.0,82.8 L420.0,76.2 L424.0,70.7 L428.0,66.3 L432.0,62.6 L436.0,59.7 L440.0,57.4 L444.0,55.6 L448.0,54.2 L452.0,53.0 L456.0,52.1 L460.0,51.4 L464.0,50.9 L468.0,50.5 L472.0,50.1 L476.0,49.9 L480.0,49.7 L484.0,49.5 L488.0,49.4 L492.0,49.3 L496.0,49.3 L500.0,49.2 L504.0,49.2 L508.0,49.1 L512.0,49.1 L516.0,49.1 L520.0,49.1 L524.0,49.0 L528.0,49.0 L532.0,49.0 L536.0,49.0 L540.0,49.0 L544.0,49.0 L548.0,49.0 L552.0,49.0 L556.0,49.0 L560.0,49.0 L564.0,49.0 L568.0,49.0 L572.0,49.0 L576.0,49.0 L580.0,49.0 L584.0,49.0 L588.0,49.0 L592.0,49.0 L596.0,49.0 L600.0,49.0 L604.0,49.0 L608.0,49.0 L612.0,49.0 L616.0,49.0 L620.0,49.0 L624.0,49.0 L628.0,49.0 L632.0,49.0 L636.0,49.0 L640.0,49.0 L644.0,49.0 L648.0,49.0 L652.0,49.0 L656.0,49.0 L660.0,49.0 L664.0,49.0 L668.0,49.0 L672.0,49.0 L676.0,49.0"/>
<path stroke="#fa7676" d="M92.0,264.0 L96.0,264.0 L100.0,264.0 L104.0,264.0 L108.0,264.0 L112.0,264.0 L116.0,264.0 L120.0,264.0 L124.0,264.0 L128.0,264.0 L132.0,264.0 L136.0,264.0 L140.0,264.0 L144.0,264.0 L148.0,264.0 L152.0,264.0 L156.0,264.0 L160.0,264.0 L164.0,264.0 L168.0,264.0 L172.0,263.9 L176.0,263.9 L180.0,263.9 L184.0,263.9 L188.0,263.9 L192.0,263.9 L196.0,263.9 L200.0,263.8 L204.0,263.8 L208.0,263.8 L212.0,263.7 L216.0,263.7 L220.0,263.7 L224.0,263.6 L228.0,263.5 L232.0,263.4 L236.0,263.3 L240.0,263.2 L244.0,263.1 L248.0,263.0 L252.0,262.8 L256.0,262.6 L260.0,262.3 L264.0,262.0 L268.0,261.7 L272.0,261.3 L276.0,260.9 L280.0,260.4 L284.0,259.7 L288.0,259.0 L292.0,258.2 L296.0,257.3 L300.0,256.1 L304.0,254.9 L308.0,253.4 L312.0,251.7 L316.0,249.7 L316.8,249.3 L317.4,249.0 L318.0,248.6 L318.5,248.3 L319.1,248.0 L319.6,247.7 L320.0,247.5 L320.2,247.3 L320.8,247.0 L321.3,246.6 L321.9,246.3 L322.5,245.9 L323.0,245.6 L323.6,245.2 L324.0,244.9 L324.1,244.8 L324.7,244.4 L325.3,244.0 L325.8,243.6 L326.4,243.2 L326.9,242.8 L327.5,242.3 L328.0,242.0 L328.1,241.9 L328.6,241.5 L329.2,241.0 L329.8,240.6 L330.3,240.1 L330.9,239.6 L331.4,239.1 L332.0,238.7 L332.0,238.6 L332.6,238.2 L333.1,237.6 L333.7,237.1 L334.2,236.6 L334.8,236.1 L335.4,235.5 L335.9,235.0 L336.0,234.9 L336.5,234.4 L337.1,233.9 L337.6,233.3 L338.2,232.7 L338.7,232.1 L340.0,230.7 L344.0,226.0 L348.0,220.9 L352.0,215.2 L356.0,209.0 L360.0,202.3 L364.0,195.2 L368.0,187.6 L372.0,179.7 L376.0,171.5 L380.0,163.1 L384.0,154.6 L388.0,146.2 L392.0,137.9 L396.0,129.8 L400.0,122.1 L404.0,114.7 L408.0,107.7 L412.0,101.2 L416.0,95.3 L420.0,89.8 L424.0,84.8 L428.0,80.4 L432.0,76.4 L436.0,72.8 L440.0,69.7 L444.0,66.9 L448.0,64.5 L452.0,62.4 L456.0,60.6 L460.0,58.9 L464.0,57.6 L468.0,56.4 L472.0,55.3 L476.0,54.4 L480.0,53.6 L484.0,53.0 L488.0,52.4 L492.0,51.9 L496.0,51.5 L500.0,51.1 L504.0,50.8 L508.0,50.6 L512.0,50.3 L516.0,50.1 L520.0,50.0 L524.0,49.8 L528.0,49.7 L532.0,49.6 L536.0,49.5 L540.0,49.4 L544.0,49.4 L548.0,49.3 L552.0,49.3 L556.0,49.2 L560.0,49.2 L564.0,49.2 L568.0,49.1 L572.0,49.1 L576.0,49.1 L580.0,49.1 L584.0,49.1 L588.0,49.1 L592.0,49.1 L596.0,49.0 L600.0,49.0 L604.0,49.0 L608.0,49.0 L612.0,49.0 L616.0,49.0 L620.0,49.0 L624.0,49.0 L628.0,49.0 L632.0,49.0 L636.0,49.0 L640.0,49.0 L644.0,49.0 L648.0,49.0 L652.0,49.0 L656.0,49.0 L660.0,49.0 L664.0,49.0 L668.0,49.0 L672.0,49.0 L676.0,49.0"/>
<path stroke="#6ab2fa" d="M92.0,264.0 L96.0,264.0 L100.0,264.0 L104.0,263.9 L108.0,263.9 L112.0,263.9 L116.0,263.9 L120.0,263.9 L124.0,263.9 L128.0,263.9 L132.0,263.9 L136.0,263.9 L140.0,263.8 L144.0,263.8 L148.0,263.8 L152.0,263.8 L156.0,263.8 L160.0,263.7 L164.0,263.7 L168.0,263.6 L172.0,263.6 L176.0,263.6 L180.0,263.5 L184.0,263.4 L188.0,263.4 L192.0,263.3 L196.0,263.2 L200.0,263.1 L204.0,263.0 L208.0,262.9 L212.0,262.7 L216.0,262.6 L220.0,262.4 L224.0,262.2 L228.0,262.0 L232.0,261.7 L236.0,261.4 L240.0,261.1 L244.0,260.8 L248.0,260.4 L252.0,259.9 L256.0,259.4 L260.0,258.9 L264.0,258.3 L268.0,257.6 L272.0,256.8 L276.0,255.9 L280.0,255.0 L284.0,253.9 L288.0,252.7 L292.0,251.4 L296.0,250.0 L300.0,248.3 L304.0,246.6 L308.0,244.6 L312.0,242.4 L316.0,240.0 L316.8,239.5 L317.4,239.1 L318.0,238.8 L318.5,238.4 L319.1,238.0 L319.6,237.7 L320.0,237.4 L320.2,237.3 L320.8,236.9 L321.3,236.5 L321.9,236.1 L322.5,235.7 L323.0,235.3 L323.6,234.9 L324.0,234.6 L324.1,234.5 L324.7,234.1 L325.3,233.6 L325.8,233.2 L326.4,232.8 L326.9,232.3 L327.5,231.9 L328.0,231.5 L328.1,231.4 L328.6,231.0 L329.2,230.5 L329.8,230.0 L330.3,229.6 L330.9,229.1 L331.4,228.6 L332.0,228.1 L332.0,228.1 L332.6,227.6 L333.1,227.1 L333.7,226.6 L334.2,226.1 L334.8,225.6 L335.4,225.1 L335.9,224.5 L336.0,224.5 L336.5,224.0 L337.1,223.5 L337.6,222.9 L338.2,222.4 L338.7,221.8 L340.0,220.6 L344.0,216.4 L348.0,211.9 L352.0,207.1 L356.0,202.1 L360.0,196.8 L364.0,191.3 L368.0,185.5 L372.0,179.6 L376.0,173.5 L380.0,167.4 L384.0,161.1 L388.0,154.8 L392.0,148.5 L396.0,142.3 L400.0,136.2 L404.0,130.2 L408.0,124.3 L412.0,118.7 L416.0,113.3 L420.0,108.2 L424.0,103.3 L428.0,98.7 L432.0,94.3 L436.0,90.3 L440.0,86.5 L444.0,83.0 L448.0,79.8 L452.0,76.9 L456.0,74.1 L460.0,71.7 L464.0,69.4 L468.0,67.3 L472.0,65.5 L476.0,63.8 L480.0,62.2 L484.0,60.9 L488.0,59.6 L492.0,58.5 L496.0,57.5 L500.0,56.6 L504.0,55.8 L508.0,55.0 L512.0,54.4 L516.0,53.8 L520.0,53.3 L524.0,52.8 L528.0,52.4 L532.0,52.0 L536.0,51.7 L540.0,51.4 L544.0,51.1 L548.0,50.9 L552.0,50.7 L556.0,50.5 L560.0,50.3 L564.0,50.2 L568.0,50.1 L572.0,50.0 L576.0,49.8 L580.0,49.8 L584.0,49.7 L588.0,49.6 L592.0,49.5 L596.0,49.5 L600.0,49.4 L604.0,49.4 L608.0,49.3 L612.0,49.3 L616.0,49.3 L620.0,49.2 L624.0,49.2 L628.0,49.2 L632.0,49.2 L636.0,49.1 L640.0,49.1 L644.0,49.1 L648.0,49.1 L652.0,49.1 L656.0,49.1 L660.0,49.1 L664.0,49.1 L668.0,49.1 L672.0,49.1 L676.0,49.0"/>
<path stroke="#fa7676" d="M92.0,263.6 L96.0,263.6 L100.0,263.6 L104.0,263.5 L108.0,263.5 L112.0,263.4 L116.0,263.4 L120.0,263.3 L124.0,263.3 L128.0,263.2 L132.0,263.1 L136.0,263.1 L140.0,263.0 L144.0,262.9 L148.0,262.8 L152.0,262.7 L156.0,262.6 L160.0,262.4 L164.0,262.3 L168.0,262.1 L172.0,262.0 L176.0,261.8 L180.0,261.6 L184.0,261.4 L188.0,261.1 L192.0,260.9 L196.0,260.6 L200.0,260.3 L204.0,259.9 L208.0,259.6 L212.0,259.2 L216.0,258.7 L220.0,258.2 L224.0,257.7 L228.0,257.2 L232.0,256.6 L236.0,255.9 L240.0,255.2 L244.0,254.4 L248.0,253.6 L252.0,252.7 L256.0,251.7 L260.0,250.7 L264.0,249.5 L268.0,248.3 L272.0,247.0 L276.0,245.5 L280.0,244.0 L284.0,242.3 L288.0,240.6 L292.0,238.7 L296.0,236.6 L300.0,234.5 L304.0,232.2 L308.0,229.7 L312.0,227.1 L316.0,224.3 L316.8,223.7 L317.4,223.3 L318.0,222.9 L318.5,222.5 L319.1,222.1 L319.6,221.7 L320.0,221.4 L320.2,221.3 L320.8,220.8 L321.3,220.4 L321.9,220.0 L322.5,219.6 L323.0,219.1 L323.6,218.7 L324.0,218.3 L324.1,218.2 L324.7,217.8 L325.3,217.3 L325.8,216.9 L326.4,216.4 L326.9,216.0 L327.5,215.5 L328.0,215.1 L328.1,215.0 L328.6,214.6 L329.2,214.1 L329.8,213.6 L330.3,213.2 L330.9,212.7 L331.4,212.2 L332.0,211.7 L332.0,211.7 L332.6,211.2 L333.1,210.7 L333.7,210.2 L334.2,209.7 L334.8,209.2 L335.4,208.7 L335.9,208.2 L336.0,208.2 L336.5,207.7 L337.1,207.2 L337.6,206.7 L338.2,206.2 L338.7,205.6 L340.0,204.5 L344.0,200.6 L348.0,196.6 L352.0,192.5 L356.0,188.2 L360.0,183.9 L364.0,179.4 L368.0,174.9 L372.0,170.2 L376.0,165.6 L380.0,160.9 L384.0,156.2 L388.0,151.4 L392.0,146.7 L396.0,142.1 L400.0,137.5 L404.0,132.9 L408.0,128.5 L412.0,124.1 L416.0,119.9 L420.0,115.8 L424.0,111.8 L428.0,108.0 L432.0,104.3 L436.0,100.8 L440.0,97.4 L444.0,94.2 L448.0,91.1 L452.0,88.2 L456.0,85.5 L460.0,82.9 L464.0,80.5 L468.0,78.2 L472.0,76.1 L476.0,74.0 L480.0,72.2 L484.0,70.4 L488.0,68.8 L492.0,67.3 L496.0,65.8 L500.0,64.5 L504.0,63.3 L508.0,62.2 L512.0,61.1 L516.0,60.2 L520.0,59.3 L524.0,58.4 L528.0,57.7 L532.0,57.0 L536.0,56.3 L540.0,55.7 L544.0,55.2 L548.0,54.7 L552.0,54.2 L556.0,53.8 L560.0,53.4 L564.0,53.0 L568.0,52.7 L572.0,52.4 L576.0,52.1 L580.0,51.9 L584.0,51.6 L588.0,51.4 L592.0,51.2 L596.0,51.0 L600.0,50.8 L604.0,50.7 L608.0,50.6 L612.0,50.4 L616.0,50.3 L620.0,50.2 L624.0,50.1 L628.0,50.0 L632.0,49.9 L636.0,49.8 L640.0,49.8 L644.0,49.7 L648.0,49.6 L652.0,49.6 L656.0,49.5 L660.0,49.5 L664.0,49.5 L668.0,49.4 L672.0,49.4 L676.0,49.4"/>
<path stroke="#6ab2fa" d="M92.0,264.0 L96.0,264.0 L100.0,264.0 L104.0,264.0 L108.0,264.0 L112.0,264.0 L116.0,264.0 L120.0,264.0 L124.0,264.0 L128.0,264.0 L132.0,264.0 L136.0,264.0 L140.0,264.0 L144.0,264.0 L148.0,264.0 L152.0,264.0 L156.0,264.0 L160.0,264.0 L164.0,264.0 L168.0,264.0 L172.0,264.0 L176.0,264.0 L180.0,264.0 L184.0,264.0 L188.0,264.0 L192.0,264.0 L196.0,264.0 L200.0,264.0 L204.0,264.0 L208.0,264.0 L212.0,264.0 L216.0,264.0 L220.0,264.0 L224.0,264.0 L228.0,264.0 L232.0,264.0 L236.0,264.0 L240.0,264.0 L244.0,264.0 L248.0,264.0 L252.0,263.9 L256.0,263.9 L260.0,263.9 L264.0,263.9 L268.0,263.9 L272.0,263.8 L276.0,263.8 L280.0,263.7 L284.0,263.6 L288.0,263.5 L292.0,263.4 L296.0,263.2 L300.0,263.0 L304.0,262.7 L308.0,262.4 L312.0,262.0 L316.0,261.4 L316.8,261.3 L317.4,261.2 L318.0,261.1 L318.5,261.0 L319.1,260.9 L319.6,260.7 L320.0,260.7 L320.2,260.6 L320.8,260.5 L321.3,260.4 L321.9,260.3 L322.5,260.2 L323.0,260.0 L323.6,259.9 L324.0,259.8 L324.1,259.7 L324.7,259.6 L325.3,259.4 L325.8,259.3 L326.4,259.1 L326.9,259.0 L327.5,258.8 L328.0,258.6 L328.1,258.6 L328.6,258.4 L329.2,258.2 L329.8,258.0 L330.3,257.8 L330.9,257.6 L331.4,257.4 L332.0,257.2 L332.0,257.2 L332.6,257.0 L333.1,256.7 L333.7,256.5 L334.2,256.2 L334.8,256.0 L335.4,255.7 L335.9,255.4 L336.0,255.4 L336.5,255.1 L337.1,254.8 L337.6,254.5 L338.2,254.2 L338.7,253.9 L340.0,253.1 L344.0,250.3 L348.0,246.8 L352.0,242.5 L356.0,237.3 L360.0,231.0 L364.0,223.6 L368.0,215.0 L372.0,205.1 L376.0,194.1 L380.0,182.1 L384.0,169.4 L388.0,156.3 L392.0,143.2 L396.0,130.5 L400.0,118.6 L404.0,107.6 L408.0,97.8 L412.0,89.2 L416.0,81.8 L420.0,75.5 L424.0,70.3 L428.0,66.1 L432.0,62.6 L436.0,59.8 L440.0,57.6 L444.0,55.8 L448.0,54.3 L452.0,53.2 L456.0,52.3 L460.0,51.6 L464.0,51.0 L468.0,50.6 L472.0,50.3 L476.0,50.0 L480.0,49.8 L484.0,49.6 L488.0,49.5 L492.0,49.4 L496.0,49.3 L500.0,49.2 L504.0,49.2 L508.0,49.1 L512.0,49.1 L516.0,49.1 L520.0,49.1 L524.0,49.1 L528.0,49.0 L532.0,49.0 L536.0,49.0 L540.0,49.0 L544.0,49.0 L548.0,49.0 L552.0,49.0 L556.0,49.0 L560.0,49.0 L564.0,49.0 L568.0,49.0 L572.0,49.0 L576.0,49.0 L580.0,49.0 L584.0,49.0 L588.0,49.0 L592.0,49.0 L596.0,49.0 L600.0,49.0 L604.0,49.0 L608.0,49.0 L612.0,49.0 L616.0,49.0 L620.0,49.0 L624.0,49.0 L628.0,49.0 L632.0,49.0 L636.0,49.0 L640.0,49.0 L644.0,49.0 L648.0,49.0 L652.0,49.0 L656.0,49.0 L660.0,49.0 L664.0,49.0 L668.0,49.0 L672.0,49.0 L676.0,49.0"/>
<path stroke="#fa7676" d="M92.0,264.0 L96.0,264.0 L100.0,264.0 L104.0,264.0 L108.0,264.0 L112.0,264.0 L116.0,264.0 L120.0,264.0 L124.0,264.0 L128.0,264.0 L132.0,264.0 L136.0,264.0 L140.0,264.0 L144.0,264.0 L148.0,264.0 L152.0,264.0 L156.0,264.0 L160.0,264.0 L164.0,264.0 L168.0,264.0 L172.0,264.0 L176.0,264.0 L180.0,264.0 L184.0,264.0 L188.0,264.0 L192.0,264.0 L196.0,264.0 L200.0,263.9 L204.0,263.9 L208.0,263.9 L212.0,263.9 L216.0,263.9 L220.0,263.9 L224.0,263.8 L228.0,263.8 L232.0,263.8 L236.0,263.7 L240.0,263.7 L244.0,263.6 L248.0,263.5 L252.0,263.4 L256.0,263.3 L260.0,263.2 L264.0,263.0 L268.0,262.8 L272.0,262.6 L276.0,262.3 L280.0,262.0 L284.0,261.6 L288.0,261.1 L292.0,260.6 L296.0,259.9 L300.0,259.1 L304.0,258.2 L308.0,257.1 L312.0,255.8 L316.0,254.3 L316.8,253.9 L317.4,253.7 L318.0,253.4 L318.5,253.2 L319.1,252.9 L319.6,252.7 L320.0,252.5 L320.2,252.4 L320.8,252.1 L321.3,251.8 L321.9,251.5 L322.5,251.2 L323.0,250.9 L323.6,250.6 L324.0,250.4 L324.1,250.3 L324.7,250.0 L325.3,249.6 L325.8,249.3 L326.4,248.9 L326.9,248.6 L327.5,248.2 L328.0,247.9 L328.1,247.8 L328.6,247.5 L329.2,247.1 L329.8,246.7 L330.3,246.3 L330.9,245.9 L331.4,245.4 L332.0,245.0 L332.0,245.0 L332.6,244.6 L333.1,244.1 L333.7,243.7 L334.2,243.2 L334.8,242.7 L335.4,242.2 L335.9,241.7 L336.0,241.7 L336.5,241.2 L337.1,240.7 L337.6,240.2 L338.2,239.6 L338.7,239.1 L340.0,237.8 L344.0,233.4 L348.0,228.4 L352.0,222.8 L356.0,216.5 L360.0,209.5 L364.0,201.9 L368.0,193.7 L372.0,185.0 L376.0,175.9 L380.0,166.4 L384.0,156.9 L388.0,147.2 L392.0,137.8 L396.0,128.6 L400.0,119.9 L404.0,111.6 L408.0,104.0 L412.0,97.0 L416.0,90.7 L420.0,85.0 L424.0,79.9 L428.0,75.5 L432.0,71.6 L436.0,68.2 L440.0,65.3 L444.0,62.8 L448.0,60.7 L452.0,58.8 L456.0,57.3 L460.0,56.0 L464.0,54.9 L468.0,53.9 L472.0,53.1 L476.0,52.5 L480.0,51.9 L484.0,51.4 L488.0,51.0 L492.0,50.7 L496.0,50.4 L500.0,50.2 L504.0,50.0 L508.0,49.8 L512.0,49.7 L516.0,49.6 L520.0,49.5 L524.0,49.4 L528.0,49.3 L532.0,49.3 L536.0,49.2 L540.0,49.2 L544.0,49.2 L548.0,49.1 L552.0,49.1 L556.0,49.1 L560.0,49.1 L564.0,49.1 L568.0,49.1 L572.0,49.0 L576.0,49.0 L580.0,49.0 L584.0,49.0 L588.0,49.0 L592.0,49.0 L596.0,49.0 L600.0,49.0 L604.0,49.0 L608.0,49.0 L612.0,49.0 L616.0,49.0 L620.0,49.0 L624.0,49.0 L628.0,49.0 L632.0,49.0 L636.0,49.0 L640.0,49.0 L644.0,49.0 L648.0,49.0 L652.0,49.0 L656.0,49.0 L660.0,49.0 L664.0,49.0 L668.0,49.0 L672.0,49.0 L676.0,49.0"/>
<path stroke="#6ab2fa" d="M92.0,264.0 L96.0,264.0 L100.0,264.0 L104.0,264.0 L108.0,264.0 L112.0,264.0 L116.0,264.0 L120.0,264.0 L124.0,264.0 L128.0,264.0 L132.0,264.0 L136.0,264.0 L140.0,264.0 L144.0,264.0 L148.0,264.0 L152.0,264.0 L156.0,264.0 L160.0,264.0 L164.0,264.0 L168.0,264.0 L172.0,264.0 L176.0,264.0 L180.0,264.0 L184.0,264.0 L188.0,264.0 L192.0,264.0 L196.0,264.0 L200.0,264.0 L204.0,264.0 L208.0,264.0 L212.0,264.0 L216.0,264.0 L220.0,264.0 L224.0,264.0 L228.0,263.9 L232.0,263.9 L236.0,263.9 L240.0,263.9 L244.0,263.9 L248.0,263.8 L252.0,263.8 L256.0,263.8 L260.0,263.7 L264.0,263.6 L268.0,263.6 L272.0,263.5 L276.0,263.3 L280.0,263.2 L284.0,263.0 L288.0,262.8 L292.0,262.5 L296.0,262.2 L300.0,261.8 L304.0,261.3 L308.0,260.8 L312.0,260.1 L316.0,259.2 L316.8,259.0 L317.4,258.9 L318.0,258.7 L318.5,258.6 L319.1,258.4 L319.6,258.3 L320.0,258.2 L320.2,258.1 L320.8,257.9 L321.3,257.8 L321.9,257.6 L322.5,257.4 L323.0,257.2 L323.6,257.1 L324.0,256.9 L324.1,256.9 L324.7,256.7 L325.3,256.5 L325.8,256.3 L326.4,256.1 L326.9,255.8 L327.5,255.6 L328.0,255.4 L328.1,255.4 L328.6,255.1 L329.2,254.9 L329.8,254.7 L330.3,254.4 L330.9,254.1 L331.4,253.9 L332.0,253.6 L332.0,253.6 L332.6,253.3 L333.1,253.0 L333.7,252.7 L334.2,252.4 L334.8,252.1 L335.4,251.8 L335.9,251.5 L336.0,251.4 L336.5,251.1 L337.1,250.8 L337.6,250.4 L338.2,250.1 L338.7,249.7 L340.0,248.8 L344.0,245.8 L348.0,242.2 L352.0,237.9 L356.0,233.0 L360.0,227.3 L364.0,220.8 L368.0,213.4 L372.0,205.3 L376.0,196.4 L380.0,186.8 L384.0,176.7 L388.0,166.1 L392.0,155.4 L396.0,144.7 L400.0,134.2 L404.0,124.2 L408.0,114.7 L412.0,106.0 L416.0,98.0 L420.0,90.8 L424.0,84.5 L428.0,79.0 L432.0,74.2 L436.0,70.1 L440.0,66.6 L444.0,63.6 L448.0,61.1 L452.0,59.0 L456.0,57.3 L460.0,55.8 L464.0,54.6 L468.0,53.6 L472.0,52.8 L476.0,52.1 L480.0,51.6 L484.0,51.1 L488.0,50.7 L492.0,50.4 L496.0,50.2 L500.0,49.9 L504.0,49.8 L508.0,49.6 L512.0,49.5 L516.0,49.4 L520.0,49.3 L524.0,49.3 L528.0,49.2 L532.0,49.2 L536.0,49.2 L540.0,49.1 L544.0,49.1 L548.0,49.1 L552.0,49.1 L556.0,49.1 L560.0,49.0 L564.0,49.0 L568.0,49.0 L572.0,49.0 L576.0,49.0 L580.0,49.0 L584.0,49.0 L588.0,49.0 L592.0,49.0 L596.0,49.0 L600.0,49.0 L604.0,49.0 L608.0,49.0 L612.0,49.0 L616.0,49.0 L620.0,49.0 L624.0,49.0 L628.0,49.0 L632.0,49.0 L636.0,49.0 L640.0,49.0 L644.0,49.0 L648.0,49.0 L652.0,49.0 L656.0,49.0 L660.0,49.0 L664.0,49.0 L668.0,49.0 L672.0,49.0 L676.0,49.0"/>
<path stroke="#fa7676" d="M92.0,263.9 L96.0,263.9 L100.0,263.9 L104.0,263.9 L108.0,263.9 L112.0,263.9 L116.0,263.9 L120.0,263.9 L124.0,263.8 L128.0,263.8 L132.0,263.8 L136.0,263.8 L140.0,263.8 L144.0,263.7 L148.0,263.7 L152.0,263.7 L156.0,263.6 L160.0,263.6 L164.0,263.5 L168.0,263.5 L172.0,263.4 L176.0,263.3 L180.0,263.3 L184.0,263.2 L188.0,263.1 L192.0,263.0 L196.0,262.9 L200.0,262.7 L204.0,262.6 L208.0,262.4 L212.0,262.2 L216.0,262.0 L220.0,261.8 L224.0,261.6 L228.0,261.3 L232.0,261.0 L236.0,260.6 L240.0,260.2 L244.0,259.8 L248.0,259.3 L252.0,258.8 L256.0,258.2 L260.0,257.6 L264.0,256.8 L268.0,256.0 L272.0,255.2 L276.0,254.2 L280.0,253.1 L284.0,251.9 L288.0,250.6 L292.0,249.1 L296.0,247.5 L300.0,245.8 L304.0,243.8 L308.0,241.7 L312.0,239.5 L316.0,237.0 L316.8,236.4 L317.4,236.0 L318.0,235.7 L318.5,235.3 L319.1,234.9 L319.6,234.5 L320.0,234.2 L320.2,234.1 L320.8,233.7 L321.3,233.3 L321.9,232.9 L322.5,232.5 L323.0,232.1 L323.6,231.6 L324.0,231.3 L324.1,231.2 L324.7,230.8 L325.3,230.3 L325.8,229.9 L326.4,229.5 L326.9,229.0 L327.5,228.5 L328.0,228.1 L328.1,228.1 L328.6,227.6 L329.2,227.2 L329.8,226.7 L330.3,226.2 L330.9,225.7 L331.4,225.2 L332.0,224.7 L332.0,224.7 L332.6,224.2 L333.1,223.7 L333.7,223.2 L334.2,222.7 L334.8,222.2 L335.4,221.7 L335.9,221.1 L336.0,221.1 L336.5,220.6 L337.1,220.1 L337.6,219.5 L338.2,219.0 L338.7,218.4 L340.0,217.2 L344.0,213.0 L348.0,208.6 L352.0,204.0 L356.0,199.1 L360.0,194.0 L364.0,188.7 L368.0,183.3 L372.0,177.6 L376.0,171.9 L380.0,166.1 L384.0,160.2 L388.0,154.3 L392.0,148.4 L396.0,142.5 L400.0,136.7 L404.0,131.1 L408.0,125.6 L412.0,120.2 L416.0,115.1 L420.0,110.2 L424.0,105.5 L428.0,101.0 L432.0,96.8 L436.0,92.8 L440.0,89.1 L444.0,85.7 L448.0,82.4 L452.0,79.4 L456.0,76.7 L460.0,74.1 L464.0,71.8 L468.0,69.6 L472.0,67.7 L476.0,65.9 L480.0,64.3 L484.0,62.8 L488.0,61.4 L492.0,60.2 L496.0,59.1 L500.0,58.1 L504.0,57.2 L508.0,56.3 L512.0,55.6 L516.0,54.9 L520.0,54.3 L524.0,53.8 L528.0,53.3 L532.0,52.9 L536.0,52.5 L540.0,52.1 L544.0,51.8 L548.0,51.5 L552.0,51.2 L556.0,51.0 L560.0,50.8 L564.0,50.6 L568.0,50.4 L572.0,50.3 L576.0,50.2 L580.0,50.0 L584.0,49.9 L588.0,49.8 L592.0,49.8 L596.0,49.7 L600.0,49.6 L604.0,49.5 L608.0,49.5 L612.0,49.4 L616.0,49.4 L620.0,49.3 L624.0,49.3 L628.0,49.3 L632.0,49.3 L636.0,49.2 L640.0,49.2 L644.0,49.2 L648.0,49.2 L652.0,49.1 L656.0,49.1 L660.0,49.1 L664.0,49.1 L668.0,49.1 L672.0,49.1 L676.0,49.1"/>
<path stroke="#6ab2fa" d="M92.0,263.8 L96.0,263.7 L100.0,263.7 L104.0,263.7 L108.0,263.7 L112.0,263.6 L116.0,263.6 L120.0,263.6 L124.0,263.5 L128.0,263.5 L132.0,263.4 L136.0,263.4 L140.0,263.3 L144.0,263.2 L148.0,263.2 L152.0,263.1 L156.0,263.0 L160.0,262.9 L164.0,262.8 L168.0,262.7 L172.0,262.6 L176.0,262.4 L180.0,262.3 L184.0,262.1 L188.0,261.9 L192.0,261.7 L196.0,261.5 L200.0,261.3 L204.0,261.0 L208.0,260.7 L212.0,260.4 L216.0,260.1 L220.0,259.7 L224.0,259.3 L228.0,258.9 L232.0,258.4 L236.0,257.9 L240.0,257.3 L244.0,256.7 L248.0,256.0 L252.0,255.3 L256.0,254.5 L260.0,253.6 L264.0,252.7 L268.0,251.6 L272.0,250.5 L276.0,249.3 L280.0,248.0 L284.0,246.6 L288.0,245.1 L292.0,243.5 L296.0,241.7 L300.0,239.8 L304.0,237.8 L308.0,235.6 L312.0,233.2 L316.0,230.7 L316.8,230.2 L317.4,229.8 L318.0,229.5 L318.5,229.1 L319.1,228.7 L319.6,228.3 L320.0,228.1 L320.2,227.9 L320.8,227.5 L321.3,227.2 L321.9,226.8 L322.5,226.4 L323.0,226.0 L323.6,225.6 L324.0,225.3 L324.1,225.2 L324.7,224.7 L325.3,224.3 L325.8,223.9 L326.4,223.5 L326.9,223.1 L327.5,222.6 L328.0,222.3 L328.1,222.2 L328.6,221.8 L329.2,221.3 L329.8,220.9 L330.3,220.4 L330.9,220.0 L331.4,219.5 L332.0,219.1 L332.0,219.1 L332.6,218.6 L333.1,218.2 L333.7,217.7 L334.2,217.2 L334.8,216.8 L335.4,216.3 L335.9,215.8 L336.0,215.7 L336.5,215.3 L337.1,214.8 L337.6,214.3 L338.2,213.9 L338.7,213.4 L340.0,212.2 L344.0,208.5 L348.0,204.7 L352.0,200.7 L356.0,196.5 L360.0,192.2 L364.0,187.7 L368.0,183.2 L372.0,178.5 L376.0,173.7 L380.0,168.9 L384.0,164.0 L388.0,159.1 L392.0,154.2 L396.0,149.3 L400.0,144.4 L404.0,139.6 L408.0,134.8 L412.0,130.1 L416.0,125.5 L420.0,121.1 L424.0,116.8 L428.0,112.6 L432.0,108.6 L436.0,104.7 L440.0,101.0 L444.0,97.5 L448.0,94.1 L452.0,90.9 L456.0,87.9 L460.0,85.1 L464.0,82.4 L468.0,79.9 L472.0,77.6 L476.0,75.4 L480.0,73.3 L484.0,71.4 L488.0,69.7 L492.0,68.0 L496.0,66.5 L500.0,65.1 L504.0,63.7 L508.0,62.5 L512.0,61.4 L516.0,60.4 L520.0,59.4 L524.0,58.6 L528.0,57.8 L532.0,57.0 L536.0,56.3 L540.0,55.7 L544.0,55.2 L548.0,54.6 L552.0,54.1 L556.0,53.7 L560.0,53.3 L564.0,52.9 L568.0,52.6 L572.0,52.3 L576.0,52.0 L580.0,51.7 L584.0,51.5 L588.0,51.3 L592.0,51.1 L596.0,50.9 L600.0,50.7 L604.0,50.6 L608.0,50.5 L612.0,50.3 L616.0,50.2 L620.0,50.1 L624.0,50.0 L628.0,49.9 L632.0,49.8 L636.0,49.8 L640.0,49.7 L644.0,49.6 L648.0,49.6 L652.0,49.5 L656.0,49.5 L660.0,49.4 L664.0,49.4 L668.0,49.4 L672.0,49.3 L676.0,49.3"/>
<path stroke="#fa7676" d="M92.0,264.0 L96.0,264.0 L100.0,264.0 L104.0,264.0 L108.0,264.0 L112.0,264.0 L116.0,264.0 L120.0,264.0 L124.0,264.0 L128.0,264.0 L132.0,264.0 L136.0,264.0 L140.0,264.0 L144.0,264.0 L148.0,264.0 L152.0,264.0 L156.0,264.0 L160.0,264.0 L164.0,264.0 L168.0,264.0 L172.0,264.0 L176.0,264.0 L180.0,264.0 L184.0,264.0 L188.0,264.0 L192.0,264.0 L196.0,264.0 L200.0,264.0 L204.0,264.0 L208.0,264.0 L212.0,264.0 L216.0,264.0 L220.0,264.0 L224.0,264.0 L228.0,264.0 L232.0,264.0 L236.0,264.0 L240.0,264.0 L244.0,264.0 L248.0,264.0 L252.0,264.0 L256.0,263.9 L260.0,263.9 L264.0,263.9 L268.0,263.9 L272.0,263.9 L276.0,263.8 L280.0,263.8 L284.0,263.7 L288.0,263.6 L292.0,263.5 L296.0,263.3 L300.0,263.1 L304.0,262.9 L308.0,262.6 L312.0,262.1 L316.0,261.6 L316.8,261.5 L317.4,261.4 L318.0,261.3 L318.5,261.2 L319.1,261.1 L319.6,261.0 L320.0,260.9 L320.2,260.9 L320.8,260.8 L321.3,260.7 L321.9,260.5 L322.5,260.4 L323.0,260.3 L323.6,260.2 L324.0,260.1 L324.1,260.0 L324.7,259.9 L325.3,259.7 L325.8,259.6 L326.4,259.4 L326.9,259.3 L327.5,259.1 L328.0,258.9 L328.1,258.9 L328.6,258.7 L329.2,258.6 L329.8,258.4 L330.3,258.2 L330.9,258.0 L331.4,257.8 L332.0,257.5 L332.0,257.5 L332.6,257.3 L333.1,257.1 L333.7,256.8 L334.2,256.6 L334.8,256.3 L335.4,256.1 L335.9,255.8 L336.0,255.7 L336.5,255.5 L337.1,255.2 L337.6,254.9 L338.2,254.6 L338.7,254.2 L340.0,253.5 L344.0,250.6 L348.0,247.1 L352.0,242.7 L356.0,237.3 L360.0,230.7 L364.0,223.0 L368.0,213.9 L372.0,203.5 L376.0,191.9 L380.0,179.2 L384.0,165.9 L388.0,152.3 L392.0,138.8 L396.0,125.9 L400.0,113.9 L404.0,103.0 L408.0,93.4 L412.0,85.1 L416.0,78.1 L420.0,72.3 L424.0,67.5 L428.0,63.7 L432.0,60.6 L436.0,58.1 L440.0,56.1 L444.0,54.6 L448.0,53.3 L452.0,52.4 L456.0,51.6 L460.0,51.0 L464.0,50.6 L468.0,50.2 L472.0,50.0 L476.0,49.7 L480.0,49.6 L484.0,49.5 L488.0,49.3 L492.0,49.3 L496.0,49.2 L500.0,49.2 L504.0,49.1 L508.0,49.1 L512.0,49.1 L516.0,49.1 L520.0,49.0 L524.0,49.0 L528.0,49.0 L532.0,49.0 L536.0,49.0 L540.0,49.0 L544.0,49.0 L548.0,49.0 L552.0,49.0 L556.0,49.0 L560.0,49.0 L564.0,49.0 L568.0,49.0 L572.0,49.0 L576.0,49.0 L580.0,49.0 L584.0,49.0 L588.0,49.0 L592.0,49.0 L596.0,49.0 L600.0,49.0 L604.0,49.0 L608.0,49.0 L612.0,49.0 L616.0,49.0 L620.0,49.0 L624.0,49.0 L628.0,49.0 L632.0,49.0 L636.0,49.0 L640.0,49.0 L644.0,49.0 L648.0,49.0 L652.0,49.0 L656.0,49.0 L660.0,49.0 L664.0,49.0 L668.0,49.0 L672.0,49.0 L676.0,49.0"/>
<path stroke="#6ab2fa" d="M92.0,264.0 L96.0,264.0 L100.0,264.0 L104.0,264.0 L108.0,264.0 L112.0,264.0 L116.0,264.0 L120.0,264.0 L124.0,264.0 L128.0,264.0 L132.0,263.9 L136.0,263.9 L140.0,263.9 L144.0,263.9 L148.0,263.9 L152.0,263.9 L156.0,263.9 L160.0,263.9 L164.0,263.9 L168.0,263.8 L172.0,263.8 L176.0,263.8 L180.0,263.8 L184.0,263.7 L188.0,263.7 L192.0,263.6 L196.0,263.6 L200.0,263.5 L204.0,263.5 L208.0,263.4 L212.0,263.3 L216.0,263.2 L220.0,263.1 L224.0,263.0 L228.0,262.9 L232.0,262.7 L236.0,262.6 L240.0,262.4 L244.0,262.2 L248.0,261.9 L252.0,261.6 L256.0,261.3 L260.0,261.0 L264.0,260.6 L268.0,260.1 L272.0,259.6 L276.0,259.0 L280.0,258.4 L284.0,257.7 L288.0,256.8 L292.0,255.9 L296.0,254.9 L300.0,253.7 L304.0,252.4 L308.0,250.9 L312.0,249.3 L316.0,247.4 L316.8,247.0 L317.4,246.7 L318.0,246.5 L318.5,246.2 L319.1,245.9 L319.6,245.6 L320.0,245.4 L320.2,245.3 L320.8,245.0 L321.3,244.7 L321.9,244.3 L322.5,244.0 L323.0,243.7 L323.6,243.4 L324.0,243.1 L324.1,243.0 L324.7,242.7 L325.3,242.4 L325.8,242.0 L326.4,241.7 L326.9,241.3 L327.5,240.9 L328.0,240.6 L328.1,240.6 L328.6,240.2 L329.2,239.8 L329.8,239.4 L330.3,239.1 L330.9,238.7 L331.4,238.3 L332.0,237.9 L332.0,237.9 L332.6,237.5 L333.1,237.0 L333.7,236.6 L334.2,236.2 L334.8,235.8 L335.4,235.3 L335.9,234.9 L336.0,234.8 L336.5,234.4 L337.1,234.0 L337.6,233.5 L338.2,233.0 L338.7,232.6 L340.0,231.5 L344.0,227.9 L348.0,223.9 L352.0,219.6 L356.0,215.0 L360.0,210.1 L364.0,204.8 L368.0,199.2 L372.0,193.4 L376.0,187.3 L380.0,180.9 L384.0,174.4 L388.0,167.8 L392.0,161.0 L396.0,154.2 L400.0,147.5 L404.0,140.8 L408.0,134.2 L412.0,127.8 L416.0,121.6 L420.0,115.7 L424.0,110.0 L428.0,104.6 L432.0,99.6 L436.0,94.9 L440.0,90.5 L444.0,86.4 L448.0,82.7 L452.0,79.2 L456.0,76.1 L460.0,73.3 L464.0,70.7 L468.0,68.3 L472.0,66.2 L476.0,64.3 L480.0,62.6 L484.0,61.1 L488.0,59.7 L492.0,58.5 L496.0,57.4 L500.0,56.5 L504.0,55.6 L508.0,54.8 L512.0,54.2 L516.0,53.6 L520.0,53.0 L524.0,52.6 L528.0,52.1 L532.0,51.8 L536.0,51.5 L540.0,51.2 L544.0,50.9 L548.0,50.7 L552.0,50.5 L556.0,50.3 L560.0,50.2 L564.0,50.0 L568.0,49.9 L572.0,49.8 L576.0,49.7 L580.0,49.6 L584.0,49.5 L588.0,49.5 L592.0,49.4 L596.0,49.4 L600.0,49.3 L604.0,49.3 L608.0,49.3 L612.0,49.2 L616.0,49.2 L620.0,49.2 L624.0,49.2 L628.0,49.1 L632.0,49.1 L636.0,49.1 L640.0,49.1 L644.0,49.1 L648.0,49.1 L652.0,49.1 L656.0,49.1 L660.0,49.0 L664.0,49.0 L668.0,49.0 L672.0,49.0 L676.0,49.0"/>
<path stroke="#fa7676" d="M92.0,263.8 L96.0,263.7 L100.0,263.7 L104.0,263.7 L108.0,263.7 L112.0,263.6 L116.0,263.6 L120.0,263.6 L124.0,263.5 L128.0,263.5 L132.0,263.4 L136.0,263.4 L140.0,263.3 L144.0,263.2 L148.0,263.2 L152.0,263.1 L156.0,263.0 L160.0,262.9 L164.0,262.8 L168.0,262.7 L172.0,262.6 L176.0,262.4 L180.0,262.3 L184.0,262.1 L188.0,261.9 L192.0,261.7 L196.0,261.5 L200.0,261.2 L204.0,261.0 L208.0,260.7 L212.0,260.4 L216.0,260.0 L220.0,259.7 L224.0,259.3 L228.0,258.8 L232.0,258.3 L236.0,257.8 L240.0,257.2 L244.0,256.6 L248.0,255.9 L252.0,255.1 L256.0,254.3 L260.0,253.4 L264.0,252.4 L268.0,251.3 L272.0,250.2 L276.0,249.0 L280.0,247.6 L284.0,246.1 L288.0,244.6 L292.0,242.9 L296.0,241.0 L300.0,239.1 L304.0,237.0 L308.0,234.7 L312.0,232.3 L316.0,229.7 L316.8,229.1 L317.4,228.7 L318.0,228.4 L318.5,228.0 L319.1,227.6 L319.6,227.2 L320.0,226.9 L320.2,226.8 L320.8,226.4 L321.3,226.0 L321.9,225.6 L322.5,225.2 L323.0,224.7 L323.6,224.3 L324.0,224.0 L324.1,223.9 L324.7,223.5 L325.3,223.0 L325.8,222.6 L326.4,222.2 L326.9,221.7 L327.5,221.3 L328.0,220.9 L328.1,220.9 L328.6,220.4 L329.2,219.9 L329.8,219.5 L330.3,219.0 L330.9,218.6 L331.4,218.1 L332.0,217.6 L332.0,217.6 L332.6,217.2 L333.1,216.7 L333.7,216.2 L334.2,215.7 L334.8,215.2 L335.4,214.7 L335.9,214.2 L336.0,214.2 L336.5,213.7 L337.1,213.2 L337.6,212.7 L338.2,212.2 L338.7,211.7 L340.0,210.5 L344.0,206.7 L348.0,202.8 L352.0,198.6 L356.0,194.4 L360.0,189.9 L364.0,185.4 L368.0,180.7 L372.0,175.9 L376.0,171.1 L380.0,166.2 L384.0,161.2 L388.0,156.2 L392.0,151.3 L396.0,146.3 L400.0,141.4 L404.0,136.6 L408.0,131.8 L412.0,127.2 L416.0,122.6 L420.0,118.2 L424.0,113.9 L428.0,109.8 L432.0,105.9 L436.0,102.1 L440.0,98.5 L444.0,95.0 L448.0,91.8 L452.0,88.7 L456.0,85.8 L460.0,83.0 L464.0,80.5 L468.0,78.1 L472.0,75.8 L476.0,73.7 L480.0,71.8 L484.0,69.9 L488.0,68.3 L492.0,66.7 L496.0,65.3 L500.0,63.9 L504.0,62.7 L508.0,61.5 L512.0,60.5 L516.0,59.5 L520.0,58.6 L524.0,57.8 L528.0,57.1 L532.0,56.4 L536.0,55.7 L540.0,55.2 L544.0,54.6 L548.0,54.2 L552.0,53.7 L556.0,53.3 L560.0,52.9 L564.0,52.6 L568.0,52.3 L572.0,52.0 L576.0,51.7 L580.0,51.5 L584.0,51.3 L588.0,51.1 L592.0,50.9 L596.0,50.7 L600.0,50.6 L604.0,50.4 L608.0,50.3 L612.0,50.2 L616.0,50.1 L620.0,50.0 L624.0,49.9 L628.0,49.8 L632.0,49.8 L636.0,49.7 L640.0,49.6 L644.0,49.6 L648.0,49.5 L652.0,49.5 L656.0,49.4 L660.0,49.4 L664.0,49.4 L668.0,49.3 L672.0,49.3 L676.0,49.3"/>
<path stroke="#6ab2fa" d="M92.0,264.0 L96.0,264.0 L100.0,264.0 L104.0,264.0 L108.0,264.0 L112.0,264.0 L116.0,264.0 L120.0,264.0 L124.0,264.0 L128.0,264.0 L132.0,264.0 L136.0,264.0 L140.0,264.0 L144.0,264.0 L148.0,264.0 L152.0,264.0 L156.0,264.0 L160.0,264.0 L164.0,264.0 L168.0,264.0 L172.0,264.0 L176.0,264.0 L180.0,264.0 L184.0,263.9 L188.0,263.9 L192.0,263.9 L196.0,263.9 L200.0,263.9 L204.0,263.9 L208.0,263.9 L212.0,263.8 L216.0,263.8 L220.0,263.8 L224.0,263.7 L228.0,263.7 L232.0,263.6 L236.0,263.6 L240.0,263.5 L244.0,263.4 L248.0,263.3 L252.0,263.2 L256.0,263.1 L260.0,262.9 L264.0,262.7 L268.0,262.5 L272.0,262.2 L276.0,261.9 L280.0,261.6 L284.0,261.2 L288.0,260.7 L292.0,260.1 L296.0,259.5 L300.0,258.7 L304.0,257.8 L308.0,256.8 L312.0,255.6 L316.0,254.2 L316.8,253.9 L317.4,253.7 L318.0,253.5 L318.5,253.3 L319.1,253.0 L319.6,252.8 L320.0,252.6 L320.2,252.6 L320.8,252.3 L321.3,252.1 L321.9,251.8 L322.5,251.5 L323.0,251.3 L323.6,251.0 L324.0,250.8 L324.1,250.7 L324.7,250.5 L325.3,250.2 L325.8,249.9 L326.4,249.6 L326.9,249.3 L327.5,249.0 L328.0,248.7 L328.1,248.7 L328.6,248.4 L329.2,248.0 L329.8,247.7 L330.3,247.4 L330.9,247.0 L331.4,246.7 L332.0,246.3 L332.0,246.3 L332.6,245.9 L333.1,245.6 L333.7,245.2 L334.2,244.8 L334.8,244.4 L335.4,244.0 L335.9,243.6 L336.0,243.6 L336.5,243.2 L337.1,242.8 L337.6,242.3 L338.2,241.9 L338.7,241.5 L340.0,240.4 L344.0,236.9 L348.0,232.9 L352.0,228.5 L356.0,223.5 L360.0,218.1 L364.0,212.1 L368.0,205.6 L372.0,198.6 L376.0,191.2 L380.0,183.4 L384.0,175.3 L388.0,166.9 L392.0,158.4 L396.0,149.9 L400.0,141.5 L404.0,133.3 L408.0,125.3 L412.0,117.7 L416.0,110.5 L420.0,103.8 L424.0,97.6 L428.0,91.9 L432.0,86.7 L436.0,82.0 L440.0,77.8 L444.0,74.1 L448.0,70.8 L452.0,67.9 L456.0,65.3 L460.0,63.1 L464.0,61.2 L468.0,59.5 L472.0,58.0 L476.0,56.7 L480.0,55.6 L484.0,54.7 L488.0,53.9 L492.0,53.2 L496.0,52.6 L500.0,52.1 L504.0,51.6 L508.0,51.2 L512.0,50.9 L516.0,50.6 L520.0,50.4 L524.0,50.2 L528.0,50.0 L532.0,49.9 L536.0,49.7 L540.0,49.6 L544.0,49.5 L548.0,49.5 L552.0,49.4 L556.0,49.3 L560.0,49.3 L564.0,49.2 L568.0,49.2 L572.0,49.2 L576.0,49.2 L580.0,49.1 L584.0,49.1 L588.0,49.1 L592.0,49.1 L596.0,49.1 L600.0,49.1 L604.0,49.1 L608.0,49.0 L612.0,49.0 L616.0,49.0 L620.0,49.0 L624.0,49.0 L628.0,49.0 L632.0,49.0 L636.0,49.0 L640.0,49.0 L644.0,49.0 L648.0,49.0 L652.0,49.0 L656.0,49.0 L660.0,49.0 L664.0,49.0 L668.0,49.0 L672.0,49.0 L676.0,49.0"/>
<path stroke="#fa7676" d="M92.0,264.0 L96.0,264.0 L100.0,264.0 L104.0,264.0 L108.0,264.0 L112.0,264.0 L116.0,264.0 L120.0,264.0 L124.0,264.0 L128.0,264.0 L132.0,264.0 L136.0,264.0 L140.0,264.0 L144.0,264.0 L148.0,264.0 L152.0,264.0 L156.0,264.0 L160.0,264.0 L164.0,264.0 L168.0,264.0 L172.0,264.0 L176.0,264.0 L180.0,264.0 L184.0,264.0 L188.0,264.0 L192.0,263.9 L196.0,263.9 L200.0,263.9 L204.0,263.9 L208.0,263.9 L212.0,263.9 L216.0,263.9 L220.0,263.8 L224.0,263.8 L228.0,263.8 L232.0,263.7 L236.0,263.7 L240.0,263.6 L244.0,263.5 L248.0,263.4 L252.0,263.3 L256.0,263.2 L260.0,263.1 L264.0,262.9 L268.0,262.7 L272.0,262.4 L276.0,262.1 L280.0,261.8 L284.0,261.4 L288.0,260.9 L292.0,260.4 L296.0,259.7 L300.0,259.0 L304.0,258.1 L308.0,257.0 L312.0,255.8 L316.0,254.3 L316.8,254.0 L317.4,253.8 L318.0,253.5 L318.5,253.3 L319.1,253.0 L319.6,252.8 L320.0,252.6 L320.2,252.5 L320.8,252.3 L321.3,252.0 L321.9,251.7 L322.5,251.5 L323.0,251.2 L323.6,250.9 L324.0,250.7 L324.1,250.6 L324.7,250.3 L325.3,250.0 L325.8,249.7 L326.4,249.3 L326.9,249.0 L327.5,248.7 L328.0,248.4 L328.1,248.3 L328.6,248.0 L329.2,247.6 L329.8,247.3 L330.3,246.9 L330.9,246.5 L331.4,246.1 L332.0,245.7 L332.0,245.7 L332.6,245.3 L333.1,244.9 L333.7,244.5 L334.2,244.1 L334.8,243.7 L335.4,243.2 L335.9,242.8 L336.0,242.7 L336.5,242.3 L337.1,241.8 L337.6,241.4 L338.2,240.9 L338.7,240.4 L340.0,239.2 L344.0,235.3 L348.0,230.8 L352.0,225.8 L356.0,220.2 L360.0,214.0 L364.0,207.2 L368.0,199.9 L372.0,192.0 L376.0,183.7 L380.0,175.0 L384.0,166.1 L388.0,157.0 L392.0,148.0 L396.0,139.0 L400.0,130.3 L404.0,121.9 L408.0,114.0 L412.0,106.6 L416.0,99.8 L420.0,93.5 L424.0,87.8 L428.0,82.7 L432.0,78.2 L436.0,74.2 L440.0,70.7 L444.0,67.6 L448.0,64.9 L452.0,62.6 L456.0,60.6 L460.0,58.9 L464.0,57.4 L468.0,56.1 L472.0,55.1 L476.0,54.1 L480.0,53.4 L484.0,52.7 L488.0,52.1 L492.0,51.6 L496.0,51.2 L500.0,50.9 L504.0,50.6 L508.0,50.4 L512.0,50.1 L516.0,50.0 L520.0,49.8 L524.0,49.7 L528.0,49.6 L532.0,49.5 L536.0,49.4 L540.0,49.4 L544.0,49.3 L548.0,49.3 L552.0,49.2 L556.0,49.2 L560.0,49.2 L564.0,49.1 L568.0,49.1 L572.0,49.1 L576.0,49.1 L580.0,49.1 L584.0,49.1 L588.0,49.0 L592.0,49.0 L596.0,49.0 L600.0,49.0 L604.0,49.0 L608.0,49.0 L612.0,49.0 L616.0,49.0 L620.0,49.0 L624.0,49.0 L628.0,49.0 L632.0,49.0 L636.0,49.0 L640.0,49.0 L644.0,49.0 L648.0,49.0 L652.0,49.0 L656.0,49.0 L660.0,49.0 L664.0,49.0 L668.0,49.0 L672.0,49.0 L676.0,49.0"/>
<path stroke="#6ab2fa" d="M92.0,264.0 L96.0,264.0 L100.0,264.0 L104.0,264.0 L108.0,264.0 L112.0,264.0 L116.0,264.0 L120.0,264.0 L124.0,264.0 L128.0,264.0 L132.0,264.0 L136.0,264.0 L140.0,264.0 L144.0,264.0 L148.0,264.0 L152.0,264.0 L156.0,264.0 L160.0,264.0 L164.0,264.0 L168.0,264.0 L172.0,264.0 L176.0,264.0 L180.0,264.0 L184.0,264.0 L188.0,263.9 L192.0,263.9 L196.0,263.9 L200.0,263.9 L204.0,263.9 L208.0,263.9 L212.0,263.9 L216.0,263.8 L220.0,263.8 L224.0,263.8 L228.0,263.7 L232.0,263.7 L236.0,263.6 L240.0,263.6 L244.0,263.5 L248.0,263.4 L252.0,263.3 L256.0,263.2 L260.0,263.1 L264.0,262.9 L268.0,262.7 L272.0,262.5 L276.0,262.3 L280.0,262.0 L284.0,261.6 L288.0,261.2 L292.0,260.8 L296.0,260.2 L300.0,259.6 L304.0,258.8 L308.0,258.0 L312.0,257.0 L316.0,255.8 L316.8,255.6 L317.4,255.4 L318.0,255.2 L318.5,255.0 L319.1,254.8 L319.6,254.6 L320.0,254.5 L320.2,254.4 L320.8,254.2 L321.3,254.0 L321.9,253.8 L322.5,253.6 L323.0,253.3 L323.6,253.1 L324.0,252.9 L324.1,252.9 L324.7,252.6 L325.3,252.4 L325.8,252.1 L326.4,251.9 L326.9,251.6 L327.5,251.4 L328.0,251.1 L328.1,251.1 L328.6,250.8 L329.2,250.6 L329.8,250.3 L330.3,250.0 L330.9,249.7 L331.4,249.4 L332.0,249.1 L332.0,249.1 L332.6,248.8 L333.1,248.5 L333.7,248.1 L334.2,247.8 L334.8,247.5 L335.4,247.1 L335.9,246.8 L336.0,246.7 L336.5,246.4 L337.1,246.1 L337.6,245.7 L338.2,245.3 L338.7,244.9 L340.0,244.0 L344.0,241.0 L348.0,237.5 L352.0,233.6 L356.0,229.2 L360.0,224.4 L364.0,219.0 L368.0,213.1 L372.0,206.7 L376.0,199.8 L380.0,192.5 L384.0,184.7 L388.0,176.6 L392.0,168.3 L396.0,159.9 L400.0,151.3 L404.0,142.9 L408.0,134.6 L412.0,126.6 L416.0,118.9 L420.0,111.7 L424.0,104.9 L428.0,98.6 L432.0,92.8 L436.0,87.5 L440.0,82.8 L444.0,78.5 L448.0,74.7 L452.0,71.3 L456.0,68.4 L460.0,65.7 L464.0,63.5 L468.0,61.5 L472.0,59.7 L476.0,58.2 L480.0,56.9 L484.0,55.8 L488.0,54.8 L492.0,54.0 L496.0,53.3 L500.0,52.7 L504.0,52.1 L508.0,51.7 L512.0,51.3 L516.0,51.0 L520.0,50.7 L524.0,50.4 L528.0,50.2 L532.0,50.0 L536.0,49.9 L540.0,49.8 L544.0,49.7 L548.0,49.6 L552.0,49.5 L556.0,49.4 L560.0,49.3 L564.0,49.3 L568.0,49.3 L572.0,49.2 L576.0,49.2 L580.0,49.2 L584.0,49.1 L588.0,49.1 L592.0,49.1 L596.0,49.1 L600.0,49.1 L604.0,49.1 L608.0,49.1 L612.0,49.0 L616.0,49.0 L620.0,49.0 L624.0,49.0 L628.0,49.0 L632.0,49.0 L636.0,49.0 L640.0,49.0 L644.0,49.0 L648.0,49.0 L652.0,49.0 L656.0,49.0 L660.0,49.0 L664.0,49.0 L668.0,49.0 L672.0,49.0 L676.0,49.0"/>
<path stroke="#fa7676" d="M92.0,264.0 L96.0,264.0 L100.0,264.0 L104.0,264.0 L108.0,264.0 L112.0,264.0 L116.0,264.0 L120.0,264.0 L124.0,264.0 L128.0,264.0 L132.0,264.0 L136.0,264.0 L140.0,264.0 L144.0,264.0 L148.0,264.0 L152.0,264.0 L156.0,264.0 L160.0,264.0 L164.0,264.0 L168.0,264.0 L172.0,264.0 L176.0,264.0 L180.0,263.9 L184.0,263.9 L188.0,263.9 L192.0,263.9 L196.0,263.9 L200.0,263.9 L204.0,263.9 L208.0,263.8 L212.0,263.8 L216.0,263.8 L220.0,263.7 L224.0,263.7 L228.0,263.7 L232.0,263.6 L236.0,263.5 L240.0,263.4 L244.0,263.3 L248.0,263.2 L252.0,263.1 L256.0,263.0 L260.0,262.8 L264.0,262.6 L268.0,262.3 L272.0,262.1 L276.0,261.7 L280.0,261.3 L284.0,260.9 L288.0,260.4 L292.0,259.8 L296.0,259.1 L300.0,258.2 L304.0,257.3 L308.0,256.2 L312.0,254.9 L316.0,253.4 L316.8,253.1 L317.4,252.9 L318.0,252.6 L318.5,252.4 L319.1,252.2 L319.6,251.9 L320.0,251.8 L320.2,251.7 L320.8,251.4 L321.3,251.1 L321.9,250.9 L322.5,250.6 L323.0,250.3 L323.6,250.0 L324.0,249.8 L324.1,249.7 L324.7,249.4 L325.3,249.1 L325.8,248.8 L326.4,248.5 L326.9,248.2 L327.5,247.9 L328.0,247.6 L328.1,247.5 L328.6,247.2 L329.2,246.8 L329.8,246.5 L330.3,246.1 L330.9,245.8 L331.4,245.4 L332.0,245.0 L332.0,245.0 L332.6,244.6 L333.1,244.2 L333.7,243.8 L334.2,243.4 L334.8,243.0 L335.4,242.6 L335.9,242.2 L336.0,242.1 L336.5,241.7 L337.1,241.3 L337.6,240.8 L338.2,240.4 L338.7,239.9 L340.0,238.8 L344.0,235.1 L348.0,230.9 L352.0,226.3 L356.0,221.1 L360.0,215.4 L364.0,209.3 L368.0,202.6 L372.0,195.5 L376.0,187.9 L380.0,180.0 L384.0,171.8 L388.0,163.5 L392.0,155.0 L396.0,146.6 L400.0,138.3 L404.0,130.2 L408.0,122.4 L412.0,115.0 L416.0,108.0 L420.0,101.5 L424.0,95.5 L428.0,90.0 L432.0,85.1 L436.0,80.6 L440.0,76.6 L444.0,73.0 L448.0,69.8 L452.0,67.1 L456.0,64.6 L460.0,62.5 L464.0,60.6 L468.0,59.0 L472.0,57.6 L476.0,56.4 L480.0,55.4 L484.0,54.5 L488.0,53.7 L492.0,53.0 L496.0,52.4 L500.0,51.9 L504.0,51.5 L508.0,51.2 L512.0,50.8 L516.0,50.6 L520.0,50.3 L524.0,50.2 L528.0,50.0 L532.0,49.8 L536.0,49.7 L540.0,49.6 L544.0,49.5 L548.0,49.4 L552.0,49.4 L556.0,49.3 L560.0,49.3 L564.0,49.2 L568.0,49.2 L572.0,49.2 L576.0,49.1 L580.0,49.1 L584.0,49.1 L588.0,49.1 L592.0,49.1 L596.0,49.1 L600.0,49.1 L604.0,49.0 L608.0,49.0 L612.0,49.0 L616.0,49.0 L620.0,49.0 L624.0,49.0 L628.0,49.0 L632.0,49.0 L636.0,49.0 L640.0,49.0 L644.0,49.0 L648.0,49.0 L652.0,49.0 L656.0,49.0 L660.0,49.0 L664.0,49.0 L668.0,49.0 L672.0,49.0 L676.0,49.0"/>
<path stroke="#6ab2fa" d="M92.0,264.0 L96.0,264.0 L100.0,264.0 L104.0,264.0 L108.0,264.0 L112.0,264.0 L116.0,264.0 L120.0,264.0 L124.0,264.0 L128.0,264.0 L132.0,264.0 L136.0,264.0 L140.0,264.0 L144.0,264.0 L148.0,264.0 L152.0,264.0 L156.0,264.0 L160.0,264.0 L164.0,264.0 L168.0,264.0 L172.0,264.0 L176.0,263.9 L180.0,263.9 L184.0,263.9 L188.0,263.9 L192.0,263.9 L196.0,263.9 L200.0,263.9 L204.0,263.8 L208.0,263.8 L212.0,263.8 L216.0,263.8 L220.0,263.7 L224.0,263.7 L228.0,263.6 L232.0,263.6 L236.0,263.5 L240.0,263.4 L244.0,263.3 L248.0,263.2 L252.0,263.1 L256.0,262.9 L260.0,262.7 L264.0,262.5 L268.0,262.3 L272.0,262.0 L276.0,261.7 L280.0,261.4 L284.0,260.9 L288.0,260.4 L292.0,259.9 L296.0,259.2 L300.0,258.5 L304.0,257.6 L308.0,256.6 L312.0,255.4 L316.0,254.1 L316.8,253.8 L317.4,253.6 L318.0,253.4 L318.5,253.2 L319.1,253.0 L319.6,252.7 L320.0,252.6 L320.2,252.5 L320.8,252.3 L321.3,252.0 L321.9,251.8 L322.5,251.5 L323.0,251.3 L323.6,251.0 L324.0,250.8 L324.1,250.8 L324.7,250.5 L325.3,250.2 L325.8,250.0 L326.4,249.7 L326.9,249.4 L327.5,249.1 L328.0,248.9 L328.1,248.8 L328.6,248.5 L329.2,248.2 L329.8,247.9 L330.3,247.6 L330.9,247.3 L331.4,246.9 L332.0,246.6 L332.0,246.6 L332.6,246.3 L333.1,245.9 L333.7,245.6 L334.2,245.2 L334.8,244.8 L335.4,244.5 L335.9,244.1 L336.0,244.0 L336.5,243.7 L337.1,243.3 L337.6,242.9 L338.2,242.5 L338.7,242.1 L340.0,241.1 L344.0,237.9 L348.0,234.2 L352.0,230.1 L356.0,225.6 L360.0,220.6 L364.0,215.2 L368.0,209.3 L372.0,202.9 L376.0,196.1 L380.0,188.9 L384.0,181.4 L388.0,173.7 L392.0,165.7 L396.0,157.6 L400.0,149.5 L404.0,141.5 L408.0,133.7 L412.0,126.1 L416.0,118.8 L420.0,111.9 L424.0,105.4 L428.0,99.4 L432.0,93.8 L436.0,88.7 L440.0,84.1 L444.0,79.9 L448.0,76.1 L452.0,72.7 L456.0,69.7 L460.0,67.1 L464.0,64.7 L468.0,62.7 L472.0,60.9 L476.0,59.3 L480.0,57.9 L484.0,56.7 L488.0,55.7 L492.0,54.8 L496.0,54.0 L500.0,53.3 L504.0,52.7 L508.0,52.2 L512.0,51.8 L516.0,51.4 L520.0,51.0 L524.0,50.8 L528.0,50.5 L532.0,50.3 L536.0,50.1 L540.0,50.0 L544.0,49.8 L548.0,49.7 L552.0,49.6 L556.0,49.5 L560.0,49.5 L564.0,49.4 L568.0,49.3 L572.0,49.3 L576.0,49.3 L580.0,49.2 L584.0,49.2 L588.0,49.2 L592.0,49.1 L596.0,49.1 L600.0,49.1 L604.0,49.1 L608.0,49.1 L612.0,49.1 L616.0,49.1 L620.0,49.0 L624.0,49.0 L628.0,49.0 L632.0,49.0 L636.0,49.0 L640.0,49.0 L644.0,49.0 L648.0,49.0 L652.0,49.0 L656.0,49.0 L660.0,49.0 L664.0,49.0 L668.0,49.0 L672.0,49.0 L676.0,49.0"/>
<path stroke="#fa7676" d="M92.0,264.0 L96.0,264.0 L100.0,264.0 L104.0,264.0 L108.0,264.0 L112.0,264.0 L116.0,264.0 L120.0,264.0 L124.0,264.0 L128.0,264.0 L132.0,264.0 L136.0,264.0 L140.0,264.0 L144.0,264.0 L148.0,264.0 L152.0,264.0 L156.0,264.0 L160.0,264.0 L164.0,264.0 L168.0,264.0 L172.0,264.0 L176.0,264.0 L180.0,264.0 L184.0,264.0 L188.0,264.0 L192.0,264.0 L196.0,264.0 L200.0,264.0 L204.0,264.0 L208.0,264.0 L212.0,264.0 L216.0,264.0 L220.0,264.0 L224.0,264.0 L228.0,264.0 L232.0,264.0 L236.0,264.0 L240.0,264.0 L244.0,264.0 L248.0,264.0 L252.0,264.0 L256.0,264.0 L260.0,263.9 L264.0,263.9 L268.0,263.9 L272.0,263.9 L276.0,263.8 L280.0,263.8 L284.0,263.7 L288.0,263.7 L292.0,263.6 L296.0,263.4 L300.0,263.3 L304.0,263.1 L308.0,262.8 L312.0,262.5 L316.0,262.0 L316.8,261.9 L317.4,261.8 L318.0,261.8 L318.5,261.7 L319.1,261.6 L319.6,261.5 L320.0,261.5 L320.2,261.4 L320.8,261.3 L321.3,261.3 L321.9,261.2 L322.5,261.1 L323.0,261.0 L323.6,260.8 L324.0,260.8 L324.1,260.7 L324.7,260.6 L325.3,260.5 L325.8,260.4 L326.4,260.3 L326.9,260.1 L327.5,260.0 L328.0,259.9 L328.1,259.8 L328.6,259.7 L329.2,259.6 L329.8,259.4 L330.3,259.2 L330.9,259.1 L331.4,258.9 L332.0,258.7 L332.0,258.7 L332.6,258.5 L333.1,258.4 L333.7,258.2 L334.2,258.0 L334.8,257.7 L335.4,257.5 L335.9,257.3 L336.0,257.3 L336.5,257.1 L337.1,256.8 L337.6,256.6 L338.2,256.3 L338.7,256.1 L340.0,255.5 L344.0,253.2 L348.0,250.3 L352.0,246.7 L356.0,242.3 L360.0,237.0 L364.0,230.5 L368.0,222.9 L372.0,214.0 L376.0,203.8 L380.0,192.4 L384.0,180.1 L388.0,167.0 L392.0,153.7 L396.0,140.4 L400.0,127.6 L404.0,115.7 L408.0,104.8 L412.0,95.1 L416.0,86.7 L420.0,79.6 L424.0,73.6 L428.0,68.7 L432.0,64.7 L436.0,61.4 L440.0,58.8 L444.0,56.7 L448.0,55.1 L452.0,53.8 L456.0,52.7 L460.0,51.9 L464.0,51.3 L468.0,50.8 L472.0,50.4 L476.0,50.1 L480.0,49.8 L484.0,49.7 L488.0,49.5 L492.0,49.4 L496.0,49.3 L500.0,49.2 L504.0,49.2 L508.0,49.1 L512.0,49.1 L516.0,49.1 L520.0,49.1 L524.0,49.1 L528.0,49.0 L532.0,49.0 L536.0,49.0 L540.0,49.0 L544.0,49.0 L548.0,49.0 L552.0,49.0 L556.0,49.0 L560.0,49.0 L564.0,49.0 L568.0,49.0 L572.0,49.0 L576.0,49.0 L580.0,49.0 L584.0,49.0 L588.0,49.0 L592.0,49.0 L596.0,49.0 L600.0,49.0 L604.0,49.0 L608.0,49.0 L612.0,49.0 L616.0,49.0 L620.0,49.0 L624.0,49.0 L628.0,49.0 L632.0,49.0 L636.0,49.0 L640.0,49.0 L644.0,49.0 L648.0,49.0 L652.0,49.0 L656.0,49.0 L660.0,49.0 L664.0,49.0 L668.0,49.0 L672.0,49.0 L676.0,49.0"/>
<path stroke="#6ab2fa" d="M92.0,263.9 L96.0,263.9 L100.0,263.9 L104.0,263.9 L108.0,263.9 L112.0,263.9 L116.0,263.9 L120.0,263.9 L124.0,263.9 L128.0,263.9 L132.0,263.8 L136.0,263.8 L140.0,263.8 L144.0,263.8 L148.0,263.8 L152.0,263.7 L156.0,263.7 L160.0,263.7 L164.0,263.6 L168.0,263.6 L172.0,263.5 L176.0,263.5 L180.0,263.4 L184.0,263.3 L188.0,263.3 L192.0,263.2 L196.0,263.1 L200.0,263.0 L204.0,262.9 L208.0,262.7 L212.0,262.6 L216.0,262.4 L220.0,262.3 L224.0,262.1 L228.0,261.8 L232.0,261.6 L236.0,261.3 L240.0,261.0 L244.0,260.7 L248.0,260.3 L252.0,259.9 L256.0,259.4 L260.0,258.9 L264.0,258.3 L268.0,257.7 L272.0,257.0 L276.0,256.2 L280.0,255.4 L284.0,254.4 L288.0,253.4 L292.0,252.2 L296.0,251.0 L300.0,249.6 L304.0,248.0 L308.0,246.4 L312.0,244.5 L316.0,242.5 L316.8,242.1 L317.4,241.8 L318.0,241.4 L318.5,241.1 L319.1,240.8 L319.6,240.5 L320.0,240.3 L320.2,240.2 L320.8,239.9 L321.3,239.5 L321.9,239.2 L322.5,238.9 L323.0,238.5 L323.6,238.2 L324.0,237.9 L324.1,237.8 L324.7,237.5 L325.3,237.1 L325.8,236.8 L326.4,236.4 L326.9,236.0 L327.5,235.7 L328.0,235.3 L328.1,235.3 L328.6,234.9 L329.2,234.5 L329.8,234.1 L330.3,233.7 L330.9,233.3 L331.4,232.9 L332.0,232.5 L332.0,232.5 L332.6,232.1 L333.1,231.7 L333.7,231.3 L334.2,230.8 L334.8,230.4 L335.4,230.0 L335.9,229.5 L336.0,229.5 L336.5,229.1 L337.1,228.6 L337.6,228.2 L338.2,227.7 L338.7,227.3 L340.0,226.2 L344.0,222.7 L348.0,218.9 L352.0,215.0 L356.0,210.7 L360.0,206.2 L364.0,201.5 L368.0,196.6 L372.0,191.5 L376.0,186.2 L380.0,180.7 L384.0,175.1 L388.0,169.4 L392.0,163.6 L396.0,157.7 L400.0,151.9 L404.0,146.1 L408.0,140.3 L412.0,134.7 L416.0,129.1 L420.0,123.8 L424.0,118.5 L428.0,113.5 L432.0,108.7 L436.0,104.2 L440.0,99.8 L444.0,95.7 L448.0,91.9 L452.0,88.3 L456.0,84.9 L460.0,81.8 L464.0,78.8 L468.0,76.2 L472.0,73.7 L476.0,71.4 L480.0,69.3 L484.0,67.4 L488.0,65.7 L492.0,64.1 L496.0,62.6 L500.0,61.3 L504.0,60.1 L508.0,59.0 L512.0,58.0 L516.0,57.1 L520.0,56.3 L524.0,55.6 L528.0,54.9 L532.0,54.3 L536.0,53.8 L540.0,53.3 L544.0,52.9 L548.0,52.5 L552.0,52.1 L556.0,51.8 L560.0,51.5 L564.0,51.3 L568.0,51.0 L572.0,50.8 L576.0,50.6 L580.0,50.5 L584.0,50.3 L588.0,50.2 L592.0,50.1 L596.0,50.0 L600.0,49.9 L604.0,49.8 L608.0,49.7 L612.0,49.6 L616.0,49.6 L620.0,49.5 L624.0,49.4 L628.0,49.4 L632.0,49.4 L636.0,49.3 L640.0,49.3 L644.0,49.3 L648.0,49.2 L652.0,49.2 L656.0,49.2 L660.0,49.2 L664.0,49.2 L668.0,49.1 L672.0,49.1 L676.0,49.1"/>
<path stroke="#fa7676" d="M92.0,262.8 L96.0,262.7 L100.0,262.6 L104.0,262.5 L108.0,262.4 L112.0,262.3 L116.0,262.2 L120.0,262.1 L124.0,261.9 L128.0,261.8 L132.0,261.6 L136.0,261.5 L140.0,261.3 L144.0,261.1 L148.0,260.9 L152.0,260.7 L156.0,260.5 L160.0,260.2 L164.0,260.0 L168.0,259.7 L172.0,259.4 L176.0,259.1 L180.0,258.7 L184.0,258.4 L188.0,258.0 L192.0,257.6 L196.0,257.1 L200.0,256.6 L204.0,256.1 L208.0,255.6 L212.0,255.0 L216.0,254.4 L220.0,253.8 L224.0,253.1 L228.0,252.4 L232.0,251.6 L236.0,250.8 L240.0,249.9 L244.0,249.0 L248.0,248.0 L252.0,246.9 L256.0,245.8 L260.0,244.6 L264.0,243.4 L268.0,242.1 L272.0,240.7 L276.0,239.2 L280.0,237.7 L284.0,236.1 L288.0,234.4 L292.0,232.6 L296.0,230.7 L300.0,228.7 L304.0,226.7 L308.0,224.5 L312.0,222.2 L316.0,219.9 L316.8,219.4 L317.4,219.0 L318.0,218.7 L318.5,218.4 L319.1,218.0 L319.6,217.7 L320.0,217.4 L320.2,217.3 L320.8,217.0 L321.3,216.6 L321.9,216.2 L322.5,215.9 L323.0,215.5 L323.6,215.2 L324.0,214.9 L324.1,214.8 L324.7,214.4 L325.3,214.1 L325.8,213.7 L326.4,213.3 L326.9,213.0 L327.5,212.6 L328.0,212.3 L328.1,212.2 L328.6,211.8 L329.2,211.4 L329.8,211.1 L330.3,210.7 L330.9,210.3 L331.4,209.9 L332.0,209.5 L332.0,209.5 L332.6,209.1 L333.1,208.7 L333.7,208.3 L334.2,207.9 L334.8,207.5 L335.4,207.1 L335.9,206.7 L336.0,206.7 L336.5,206.3 L337.1,205.9 L337.6,205.5 L338.2,205.1 L338.7,204.7 L340.0,203.8 L344.0,200.7 L348.0,197.6 L352.0,194.5 L356.0,191.2 L360.0,187.9 L364.0,184.5 L368.0,181.0 L372.0,177.5 L376.0,173.9 L380.0,170.3 L384.0,166.7 L388.0,163.0 L392.0,159.3 L396.0,155.7 L400.0,152.0 L404.0,148.3 L408.0,144.7 L412.0,141.0 L416.0,137.5 L420.0,133.9 L424.0,130.4 L428.0,127.0 L432.0,123.6 L436.0,120.3 L440.0,117.1 L444.0,113.9 L448.0,110.9 L452.0,107.9 L456.0,105.0 L460.0,102.2 L464.0,99.5 L468.0,96.9 L472.0,94.4 L476.0,92.0 L480.0,89.7 L484.0,87.5 L488.0,85.4 L492.0,83.4 L496.0,81.4 L500.0,79.6 L504.0,77.8 L508.0,76.2 L512.0,74.6 L516.0,73.1 L520.0,71.7 L524.0,70.3 L528.0,69.0 L532.0,67.8 L536.0,66.7 L540.0,65.6 L544.0,64.6 L548.0,63.6 L552.0,62.7 L556.0,61.9 L560.0,61.1 L564.0,60.3 L568.0,59.6 L572.0,58.9 L576.0,58.3 L580.0,57.7 L584.0,57.1 L588.0,56.6 L592.0,56.1 L596.0,55.7 L600.0,55.2 L604.0,54.8 L608.0,54.5 L612.0,54.1 L616.0,53.8 L620.0,53.5 L624.0,53.2 L628.0,52.9 L632.0,52.7 L636.0,52.4 L640.0,52.2 L644.0,52.0 L648.0,51.8 L652.0,51.6 L656.0,51.4 L660.0,51.3 L664.0,51.1 L668.0,51.0 L672.0,50.9 L676.0,50.7"/>
<path stroke="#6ab2fa" d="M92.0,264.0 L96.0,264.0 L100.0,264.0 L104.0,264.0 L108.0,264.0 L112.0,264.0 L116.0,264.0 L120.0,264.0 L124.0,264.0 L128.0,264.0 L132.0,264.0 L136.0,264.0 L140.0,264.0 L144.0,264.0 L148.0,264.0 L152.0,264.0 L156.0,264.0 L160.0,264.0 L164.0,264.0 L168.0,264.0 L172.0,264.0 L176.0,264.0 L180.0,264.0 L184.0,264.0 L188.0,264.0 L192.0,264.0 L196.0,264.0 L200.0,264.0 L204.0,264.0 L208.0,264.0 L212.0,264.0 L216.0,264.0 L220.0,264.0 L224.0,264.0 L228.0,264.0 L232.0,264.0 L236.0,264.0 L240.0,263.9 L244.0,263.9 L248.0,263.9 L252.0,263.9 L256.0,263.9 L260.0,263.8 L264.0,263.8 L268.0,263.8 L272.0,263.7 L276.0,263.6 L280.0,263.6 L284.0,263.5 L288.0,263.3 L292.0,263.2 L296.0,263.0 L300.0,262.8 L304.0,262.5 L308.0,262.1 L312.0,261.7 L316.0,261.2 L316.8,261.1 L317.4,261.0 L318.0,260.9 L318.5,260.8 L319.1,260.7 L319.6,260.7 L320.0,260.6 L320.2,260.6 L320.8,260.5 L321.3,260.4 L321.9,260.3 L322.5,260.1 L323.0,260.0 L323.6,259.9 L324.0,259.8 L324.1,259.8 L324.7,259.7 L325.3,259.6 L325.8,259.4 L326.4,259.3 L326.9,259.2 L327.5,259.0 L328.0,258.9 L328.1,258.9 L328.6,258.8 L329.2,258.6 L329.8,258.5 L330.3,258.3 L330.9,258.1 L331.4,258.0 L332.0,257.8 L332.0,257.8 L332.6,257.6 L333.1,257.4 L333.7,257.3 L334.2,257.1 L334.8,256.9 L335.4,256.7 L335.9,256.5 L336.0,256.4 L336.5,256.3 L337.1,256.0 L337.6,255.8 L338.2,255.6 L338.7,255.3 L340.0,254.8 L344.0,252.8 L348.0,250.4 L352.0,247.6 L356.0,244.2 L360.0,240.2 L364.0,235.5 L368.0,230.1 L372.0,223.9 L376.0,216.8 L380.0,208.8 L384.0,200.0 L388.0,190.4 L392.0,180.3 L396.0,169.6 L400.0,158.7 L404.0,147.7 L408.0,136.9 L412.0,126.5 L416.0,116.7 L420.0,107.6 L424.0,99.3 L428.0,91.8 L432.0,85.3 L436.0,79.5 L440.0,74.5 L444.0,70.3 L448.0,66.7 L452.0,63.6 L456.0,61.1 L460.0,58.9 L464.0,57.2 L468.0,55.7 L472.0,54.5 L476.0,53.5 L480.0,52.7 L484.0,52.0 L488.0,51.5 L492.0,51.0 L496.0,50.6 L500.0,50.3 L504.0,50.1 L508.0,49.9 L512.0,49.7 L516.0,49.6 L520.0,49.5 L524.0,49.4 L528.0,49.3 L532.0,49.3 L536.0,49.2 L540.0,49.2 L544.0,49.1 L548.0,49.1 L552.0,49.1 L556.0,49.1 L560.0,49.1 L564.0,49.1 L568.0,49.0 L572.0,49.0 L576.0,49.0 L580.0,49.0 L584.0,49.0 L588.0,49.0 L592.0,49.0 L596.0,49.0 L600.0,49.0 L604.0,49.0 L608.0,49.0 L612.0,49.0 L616.0,49.0 L620.0,49.0 L624.0,49.0 L628.0,49.0 L632.0,49.0 L636.0,49.0 L640.0,49.0 L644.0,49.0 L648.0,49.0 L652.0,49.0 L656.0,49.0 L660.0,49.0 L664.0,49.0 L668.0,49.0 L672.0,49.0 L676.0,49.0"/>
<path stroke="#fa7676" d="M92.0,264.0 L96.0,264.0 L100.0,264.0 L104.0,264.0 L108.0,264.0 L112.0,264.0 L116.0,264.0 L120.0,264.0 L124.0,264.0 L128.0,264.0 L132.0,264.0 L136.0,264.0 L140.0,264.0 L144.0,264.0 L148.0,264.0 L152.0,264.0 L156.0,264.0 L160.0,264.0 L164.0,264.0 L168.0,264.0 L172.0,264.0 L176.0,264.0 L180.0,264.0 L184.0,264.0 L188.0,264.0 L192.0,264.0 L196.0,264.0 L200.0,264.0 L204.0,264.0 L208.0,264.0 L212.0,264.0 L216.0,264.0 L220.0,264.0 L224.0,264.0 L228.0,263.9 L232.0,263.9 L236.0,263.9 L240.0,263.9 L244.0,263.9 L248.0,263.9 L252.0,263.8 L256.0,263.8 L260.0,263.7 L264.0,263.7 L268.0,263.6 L272.0,263.5 L276.0,263.4 L280.0,263.3 L284.0,263.2 L288.0,263.0 L292.0,262.8 L296.0,262.5 L300.0,262.2 L304.0,261.8 L308.0,261.3 L312.0,260.8 L316.0,260.1 L316.8,259.9 L317.4,259.8 L318.0,259.7 L318.5,259.6 L319.1,259.4 L319.6,259.3 L320.0,259.2 L320.2,259.2 L320.8,259.1 L321.3,258.9 L321.9,258.8 L322.5,258.6 L323.0,258.5 L323.6,258.3 L324.0,258.2 L324.1,258.2 L324.7,258.0 L325.3,257.9 L325.8,257.7 L326.4,257.5 L326.9,257.3 L327.5,257.2 L328.0,257.0 L328.1,257.0 L328.6,256.8 L329.2,256.6 L329.8,256.4 L330.3,256.2 L330.9,256.0 L331.4,255.8 L332.0,255.5 L332.0,255.5 L332.6,255.3 L333.1,255.1 L333.7,254.8 L334.2,254.6 L334.8,254.3 L335.4,254.1 L335.9,253.8 L336.0,253.8 L336.5,253.5 L337.1,253.3 L337.6,253.0 L338.2,252.7 L338.7,252.4 L340.0,251.7 L344.0,249.2 L348.0,246.2 L352.0,242.7 L356.0,238.7 L360.0,233.9 L364.0,228.4 L368.0,222.2 L372.0,215.2 L376.0,207.3 L380.0,198.7 L384.0,189.4 L388.0,179.6 L392.0,169.3 L396.0,158.7 L400.0,148.2 L404.0,137.8 L408.0,127.7 L412.0,118.1 L416.0,109.2 L420.0,101.1 L424.0,93.7 L428.0,87.1 L432.0,81.3 L436.0,76.3 L440.0,71.9 L444.0,68.2 L448.0,65.0 L452.0,62.3 L456.0,60.1 L460.0,58.2 L464.0,56.6 L468.0,55.3 L472.0,54.2 L476.0,53.3 L480.0,52.5 L484.0,51.9 L488.0,51.4 L492.0,51.0 L496.0,50.6 L500.0,50.3 L504.0,50.1 L508.0,49.9 L512.0,49.7 L516.0,49.6 L520.0,49.5 L524.0,49.4 L528.0,49.3 L532.0,49.3 L536.0,49.2 L540.0,49.2 L544.0,49.2 L548.0,49.1 L552.0,49.1 L556.0,49.1 L560.0,49.1 L564.0,49.1 L568.0,49.0 L572.0,49.0 L576.0,49.0 L580.0,49.0 L584.0,49.0 L588.0,49.0 L592.0,49.0 L596.0,49.0 L600.0,49.0 L604.0,49.0 L608.0,49.0 L612.0,49.0 L616.0,49.0 L620.0,49.0 L624.0,49.0 L628.0,49.0 L632.0,49.0 L636.0,49.0 L640.0,49.0 L644.0,49.0 L648.0,49.0 L652.0,49.0 L656.0,49.0 L660.0,49.0 L664.0,49.0 L668.0,49.0 L672.0,49.0 L676.0,49.0"/>
<path stroke="#6ab2fa" d="M92.0,264.0 L96.0,264.0 L100.0,264.0 L104.0,264.0 L108.0,264.0 L112.0,264.0 L116.0,264.0 L120.0,264.0 L124.0,264.0 L128.0,264.0 L132.0,264.0 L136.0,264.0 L140.0,264.0 L144.0,264.0 L148.0,264.0 L152.0,264.0 L156.0,264.0 L160.0,264.0 L164.0,264.0 L168.0,264.0 L172.0,263.9 L176.0,263.9 L180.0,263.9 L184.0,263.9 L188.0,263.9 L192.0,263.9 L196.0,263.9 L200.0,263.8 L204.0,263.8 L208.0,263.8 L212.0,263.8 L216.0,263.7 L220.0,263.7 L224.0,263.6 L228.0,263.6 L232.0,263.5 L236.0,263.4 L240.0,263.4 L244.0,263.3 L248.0,263.1 L252.0,263.0 L256.0,262.9 L260.0,262.7 L264.0,262.5 L268.0,262.2 L272.0,262.0 L276.0,261.7 L280.0,261.3 L284.0,260.9 L288.0,260.4 L292.0,259.9 L296.0,259.2 L300.0,258.5 L304.0,257.7 L308.0,256.8 L312.0,255.7 L316.0,254.4 L316.8,254.2 L317.4,254.0 L318.0,253.8 L318.5,253.6 L319.1,253.4 L319.6,253.2 L320.0,253.0 L320.2,252.9 L320.8,252.7 L321.3,252.5 L321.9,252.3 L322.5,252.1 L323.0,251.8 L323.6,251.6 L324.0,251.4 L324.1,251.4 L324.7,251.1 L325.3,250.9 L325.8,250.6 L326.4,250.4 L326.9,250.1 L327.5,249.8 L328.0,249.6 L328.1,249.6 L328.6,249.3 L329.2,249.0 L329.8,248.7 L330.3,248.4 L330.9,248.1 L331.4,247.8 L332.0,247.5 L332.0,247.5 L332.6,247.2 L333.1,246.9 L333.7,246.6 L334.2,246.3 L334.8,245.9 L335.4,245.6 L335.9,245.3 L336.0,245.2 L336.5,244.9 L337.1,244.6 L337.6,244.2 L338.2,243.8 L338.7,243.5 L340.0,242.6 L344.0,239.6 L348.0,236.4 L352.0,232.7 L356.0,228.6 L360.0,224.2 L364.0,219.3 L368.0,213.9 L372.0,208.2 L376.0,202.0 L380.0,195.5 L384.0,188.6 L388.0,181.4 L392.0,173.9 L396.0,166.3 L400.0,158.6 L404.0,150.9 L408.0,143.2 L412.0,135.6 L416.0,128.3 L420.0,121.2 L424.0,114.5 L428.0,108.1 L432.0,102.1 L436.0,96.6 L440.0,91.4 L444.0,86.7 L448.0,82.5 L452.0,78.6 L456.0,75.1 L460.0,72.0 L464.0,69.2 L468.0,66.7 L472.0,64.5 L476.0,62.5 L480.0,60.8 L484.0,59.3 L488.0,58.0 L492.0,56.8 L496.0,55.8 L500.0,54.9 L504.0,54.1 L508.0,53.5 L512.0,52.9 L516.0,52.4 L520.0,51.9 L524.0,51.5 L528.0,51.2 L532.0,50.9 L536.0,50.6 L540.0,50.4 L544.0,50.2 L548.0,50.1 L552.0,49.9 L556.0,49.8 L560.0,49.7 L564.0,49.6 L568.0,49.5 L572.0,49.5 L576.0,49.4 L580.0,49.3 L584.0,49.3 L588.0,49.3 L592.0,49.2 L596.0,49.2 L600.0,49.2 L604.0,49.1 L608.0,49.1 L612.0,49.1 L616.0,49.1 L620.0,49.1 L624.0,49.1 L628.0,49.1 L632.0,49.1 L636.0,49.0 L640.0,49.0 L644.0,49.0 L648.0,49.0 L652.0,49.0 L656.0,49.0 L660.0,49.0 L664.0,49.0 L668.0,49.0 L672.0,49.0 L676.0,49.0"/>
<path stroke="#fa7676" d="M92.0,264.0 L96.0,264.0 L100.0,264.0 L104.0,264.0 L108.0,264.0 L112.0,264.0 L116.0,264.0 L120.0,264.0 L124.0,264.0 L128.0,264.0 L132.0,264.0 L136.0,264.0 L140.0,264.0 L144.0,264.0 L148.0,264.0 L152.0,264.0 L156.0,264.0 L160.0,264.0 L164.0,264.0 L168.0,264.0 L172.0,264.0 L176.0,264.0 L180.0,263.9 L184.0,263.9 L188.0,263.9 L192.0,263.9 L196.0,263.9 L200.0,263.9 L204.0,263.9 L208.0,263.8 L212.0,263.8 L216.0,263.8 L220.0,263.7 L224.0,263.7 L228.0,263.7 L232.0,263.6 L236.0,263.5 L240.0,263.5 L244.0,263.4 L248.0,263.3 L252.0,263.2 L256.0,263.0 L260.0,262.9 L264.0,262.7 L268.0,262.5 L272.0,262.2 L276.0,261.9 L280.0,261.6 L284.0,261.2 L288.0,260.7 L292.0,260.2 L296.0,259.6 L300.0,258.9 L304.0,258.1 L308.0,257.2 L312.0,256.1 L316.0,254.9 L316.8,254.6 L317.4,254.4 L318.0,254.2 L318.5,254.0 L319.1,253.8 L319.6,253.6 L320.0,253.4 L320.2,253.4 L320.8,253.1 L321.3,252.9 L321.9,252.7 L322.5,252.5 L323.0,252.2 L323.6,252.0 L324.0,251.8 L324.1,251.8 L324.7,251.5 L325.3,251.3 L325.8,251.0 L326.4,250.7 L326.9,250.5 L327.5,250.2 L328.0,250.0 L328.1,249.9 L328.6,249.6 L329.2,249.3 L329.8,249.1 L330.3,248.8 L330.9,248.5 L331.4,248.1 L332.0,247.8 L332.0,247.8 L332.6,247.5 L333.1,247.2 L333.7,246.8 L334.2,246.5 L334.8,246.2 L335.4,245.8 L335.9,245.5 L336.0,245.4 L336.5,245.1 L337.1,244.7 L337.6,244.3 L338.2,244.0 L338.7,243.6 L340.0,242.7 L344.0,239.6 L348.0,236.1 L352.0,232.2 L356.0,227.9 L360.0,223.1 L364.0,217.9 L368.0,212.2 L372.0,206.0 L376.0,199.4 L380.0,192.3 L384.0,184.9 L388.0,177.2 L392.0,169.3 L396.0,161.2 L400.0,153.1 L404.0,145.0 L408.0,137.0 L412.0,129.3 L416.0,121.8 L420.0,114.7 L424.0,108.0 L428.0,101.7 L432.0,96.0 L436.0,90.6 L440.0,85.8 L444.0,81.4 L448.0,77.5 L452.0,73.9 L456.0,70.8 L460.0,68.0 L464.0,65.5 L468.0,63.4 L472.0,61.5 L476.0,59.8 L480.0,58.3 L484.0,57.1 L488.0,56.0 L492.0,55.0 L496.0,54.2 L500.0,53.5 L504.0,52.9 L508.0,52.3 L512.0,51.9 L516.0,51.5 L520.0,51.1 L524.0,50.8 L528.0,50.6 L532.0,50.4 L536.0,50.2 L540.0,50.0 L544.0,49.9 L548.0,49.7 L552.0,49.6 L556.0,49.5 L560.0,49.5 L564.0,49.4 L568.0,49.3 L572.0,49.3 L576.0,49.3 L580.0,49.2 L584.0,49.2 L588.0,49.2 L592.0,49.1 L596.0,49.1 L600.0,49.1 L604.0,49.1 L608.0,49.1 L612.0,49.1 L616.0,49.1 L620.0,49.0 L624.0,49.0 L628.0,49.0 L632.0,49.0 L636.0,49.0 L640.0,49.0 L644.0,49.0 L648.0,49.0 L652.0,49.0 L656.0,49.0 L660.0,49.0 L664.0,49.0 L668.0,49.0 L672.0,49.0 L676.0,49.0"/>
<path stroke="#6ab2fa" d="M92.0,263.9 L96.0,263.9 L100.0,263.9 L104.0,263.8 L108.0,263.8 L112.0,263.8 L116.0,263.8 L120.0,263.8 L124.0,263.7 L128.0,263.7 L132.0,263.7 L136.0,263.7 L140.0,263.6 L144.0,263.6 L148.0,263.6 L152.0,263.5 L156.0,263.5 L160.0,263.4 L164.0,263.4 L168.0,263.3 L172.0,263.2 L176.0,263.1 L180.0,263.1 L184.0,263.0 L188.0,262.9 L192.0,262.7 L196.0,262.6 L200.0,262.5 L204.0,262.3 L208.0,262.2 L212.0,262.0 L216.0,261.8 L220.0,261.6 L224.0,261.3 L228.0,261.1 L232.0,260.8 L236.0,260.5 L240.0,260.1 L244.0,259.8 L248.0,259.3 L252.0,258.9 L256.0,258.4 L260.0,257.9 L264.0,257.3 L268.0,256.6 L272.0,255.9 L276.0,255.1 L280.0,254.3 L284.0,253.4 L288.0,252.4 L292.0,251.3 L296.0,250.1 L300.0,248.8 L304.0,247.5 L308.0,245.9 L312.0,244.3 L316.0,242.6 L316.8,242.2 L317.4,241.9 L318.0,241.6 L318.5,241.4 L319.1,241.1 L319.6,240.8 L320.0,240.6 L320.2,240.5 L320.8,240.3 L321.3,240.0 L321.9,239.7 L322.5,239.4 L323.0,239.1 L323.6,238.8 L324.0,238.6 L324.1,238.5 L324.7,238.2 L325.3,237.9 L325.8,237.6 L326.4,237.3 L326.9,237.0 L327.5,236.7 L328.0,236.4 L328.1,236.4 L328.6,236.0 L329.2,235.7 L329.8,235.4 L330.3,235.1 L330.9,234.7 L331.4,234.4 L332.0,234.0 L332.0,234.0 L332.6,233.7 L333.1,233.3 L333.7,233.0 L334.2,232.6 L334.8,232.3 L335.4,231.9 L335.9,231.6 L336.0,231.5 L336.5,231.2 L337.1,230.8 L337.6,230.4 L338.2,230.1 L338.7,229.7 L340.0,228.8 L344.0,225.9 L348.0,222.9 L352.0,219.6 L356.0,216.2 L360.0,212.6 L364.0,208.8 L368.0,204.8 L372.0,200.6 L376.0,196.3 L380.0,191.8 L384.0,187.2 L388.0,182.5 L392.0,177.6 L396.0,172.7 L400.0,167.7 L404.0,162.6 L408.0,157.5 L412.0,152.5 L416.0,147.4 L420.0,142.3 L424.0,137.4 L428.0,132.5 L432.0,127.7 L436.0,123.0 L440.0,118.5 L444.0,114.1 L448.0,109.9 L452.0,105.8 L456.0,102.0 L460.0,98.3 L464.0,94.8 L468.0,91.4 L472.0,88.3 L476.0,85.4 L480.0,82.6 L484.0,80.0 L488.0,77.5 L492.0,75.3 L496.0,73.2 L500.0,71.2 L504.0,69.4 L508.0,67.7 L512.0,66.2 L516.0,64.7 L520.0,63.4 L524.0,62.2 L528.0,61.0 L532.0,60.0 L536.0,59.1 L540.0,58.2 L544.0,57.4 L548.0,56.7 L552.0,56.0 L556.0,55.4 L560.0,54.8 L564.0,54.3 L568.0,53.8 L572.0,53.4 L576.0,53.0 L580.0,52.7 L584.0,52.3 L588.0,52.0 L592.0,51.8 L596.0,51.5 L600.0,51.3 L604.0,51.1 L608.0,50.9 L612.0,50.7 L616.0,50.6 L620.0,50.4 L624.0,50.3 L628.0,50.2 L632.0,50.1 L636.0,50.0 L640.0,49.9 L644.0,49.8 L648.0,49.7 L652.0,49.7 L656.0,49.6 L660.0,49.6 L664.0,49.5 L668.0,49.5 L672.0,49.4 L676.0,49.4"/>
<path stroke="#fa7676" d="M92.0,263.9 L96.0,263.8 L100.0,263.8 L104.0,263.8 L108.0,263.8 L112.0,263.8 L116.0,263.8 L120.0,263.7 L124.0,263.7 L128.0,263.7 L132.0,263.6 L136.0,263.6 L140.0,263.6 L144.0,263.5 L148.0,263.5 L152.0,263.4 L156.0,263.4 L160.0,263.3 L164.0,263.2 L168.0,263.2 L172.0,263.1 L176.0,263.0 L180.0,262.9 L184.0,262.8 L188.0,262.6 L192.0,262.5 L196.0,262.3 L200.0,262.2 L204.0,262.0 L208.0,261.8 L212.0,261.6 L216.0,261.3 L220.0,261.1 L224.0,260.8 L228.0,260.5 L232.0,260.1 L236.0,259.7 L240.0,259.3 L244.0,258.9 L248.0,258.4 L252.0,257.8 L256.0,257.2 L260.0,256.5 L264.0,255.8 L268.0,255.0 L272.0,254.2 L276.0,253.2 L280.0,252.2 L284.0,251.1 L288.0,249.9 L292.0,248.6 L296.0,247.1 L300.0,245.6 L304.0,243.9 L308.0,242.1 L312.0,240.1 L316.0,238.0 L316.8,237.6 L317.4,237.3 L318.0,236.9 L318.5,236.6 L319.1,236.3 L319.6,236.0 L320.0,235.8 L320.2,235.6 L320.8,235.3 L321.3,235.0 L321.9,234.6 L322.5,234.3 L323.0,233.9 L323.6,233.6 L324.0,233.3 L324.1,233.2 L324.7,232.9 L325.3,232.5 L325.8,232.2 L326.4,231.8 L326.9,231.4 L327.5,231.1 L328.0,230.7 L328.1,230.7 L328.6,230.3 L329.2,229.9 L329.8,229.5 L330.3,229.1 L330.9,228.7 L331.4,228.3 L332.0,227.9 L332.0,227.9 L332.6,227.5 L333.1,227.1 L333.7,226.7 L334.2,226.3 L334.8,225.9 L335.4,225.5 L335.9,225.0 L336.0,225.0 L336.5,224.6 L337.1,224.2 L337.6,223.7 L338.2,223.3 L338.7,222.8 L340.0,221.8 L344.0,218.5 L348.0,214.9 L352.0,211.2 L356.0,207.3 L360.0,203.2 L364.0,199.0 L368.0,194.5 L372.0,190.0 L376.0,185.3 L380.0,180.4 L384.0,175.5 L388.0,170.4 L392.0,165.4 L396.0,160.2 L400.0,155.1 L404.0,149.9 L408.0,144.8 L412.0,139.8 L416.0,134.8 L420.0,129.9 L424.0,125.1 L428.0,120.5 L432.0,116.0 L436.0,111.6 L440.0,107.5 L444.0,103.5 L448.0,99.7 L452.0,96.1 L456.0,92.6 L460.0,89.4 L464.0,86.4 L468.0,83.5 L472.0,80.8 L476.0,78.3 L480.0,76.0 L484.0,73.8 L488.0,71.8 L492.0,69.9 L496.0,68.1 L500.0,66.5 L504.0,65.1 L508.0,63.7 L512.0,62.4 L516.0,61.3 L520.0,60.2 L524.0,59.2 L528.0,58.3 L532.0,57.5 L536.0,56.8 L540.0,56.1 L544.0,55.5 L548.0,54.9 L552.0,54.4 L556.0,53.9 L560.0,53.4 L564.0,53.0 L568.0,52.7 L572.0,52.4 L576.0,52.0 L580.0,51.8 L584.0,51.5 L588.0,51.3 L592.0,51.1 L596.0,50.9 L600.0,50.7 L604.0,50.6 L608.0,50.4 L612.0,50.3 L616.0,50.2 L620.0,50.1 L624.0,50.0 L628.0,49.9 L632.0,49.8 L636.0,49.7 L640.0,49.7 L644.0,49.6 L648.0,49.6 L652.0,49.5 L656.0,49.5 L660.0,49.4 L664.0,49.4 L668.0,49.3 L672.0,49.3 L676.0,49.3"/>
<path stroke="#6ab2fa" d="M92.0,264.0 L96.0,264.0 L100.0,264.0 L104.0,264.0 L108.0,264.0 L112.0,264.0 L116.0,264.0 L120.0,264.0 L124.0,264.0 L128.0,264.0 L132.0,264.0 L136.0,264.0 L140.0,264.0 L144.0,264.0 L148.0,264.0 L152.0,264.0 L156.0,263.9 L160.0,263.9 L164.0,263.9 L168.0,263.9 L172.0,263.9 L176.0,263.9 L180.0,263.9 L184.0,263.9 L188.0,263.9 L192.0,263.8 L196.0,263.8 L200.0,263.8 L204.0,263.7 L208.0,263.7 L212.0,263.7 L216.0,263.6 L220.0,263.6 L224.0,263.5 L228.0,263.4 L232.0,263.4 L236.0,263.3 L240.0,263.2 L244.0,263.1 L248.0,262.9 L252.0,262.8 L256.0,262.6 L260.0,262.4 L264.0,262.2 L268.0,262.0 L272.0,261.7 L276.0,261.4 L280.0,261.0 L284.0,260.6 L288.0,260.1 L292.0,259.6 L296.0,259.0 L300.0,258.3 L304.0,257.5 L308.0,256.6 L312.0,255.6 L316.0,254.5 L316.8,254.3 L317.4,254.1 L318.0,253.9 L318.5,253.7 L319.1,253.6 L319.6,253.4 L320.0,253.2 L320.2,253.2 L320.8,253.0 L321.3,252.8 L321.9,252.6 L322.5,252.4 L323.0,252.2 L323.6,252.0 L324.0,251.8 L324.1,251.8 L324.7,251.6 L325.3,251.3 L325.8,251.1 L326.4,250.9 L326.9,250.7 L327.5,250.4 L328.0,250.2 L328.1,250.2 L328.6,250.0 L329.2,249.7 L329.8,249.5 L330.3,249.2 L330.9,249.0 L331.4,248.7 L332.0,248.4 L332.0,248.4 L332.6,248.2 L333.1,247.9 L333.7,247.6 L334.2,247.3 L334.8,247.1 L335.4,246.8 L335.9,246.5 L336.0,246.4 L336.5,246.2 L337.1,245.9 L337.6,245.6 L338.2,245.3 L338.7,244.9 L340.0,244.2 L344.0,241.7 L348.0,239.0 L352.0,235.9 L356.0,232.6 L360.0,228.9 L364.0,224.9 L368.0,220.5 L372.0,215.8 L376.0,210.7 L380.0,205.2 L384.0,199.5 L388.0,193.4 L392.0,187.1 L396.0,180.5 L400.0,173.7 L404.0,166.8 L408.0,159.7 L412.0,152.7 L416.0,145.7 L420.0,138.8 L424.0,132.0 L428.0,125.4 L432.0,119.1 L436.0,113.1 L440.0,107.3 L444.0,101.9 L448.0,96.9 L452.0,92.2 L456.0,87.8 L460.0,83.8 L464.0,80.2 L468.0,76.8 L472.0,73.8 L476.0,71.1 L480.0,68.6 L484.0,66.4 L488.0,64.4 L492.0,62.6 L496.0,61.1 L500.0,59.6 L504.0,58.4 L508.0,57.3 L512.0,56.3 L516.0,55.4 L520.0,54.7 L524.0,54.0 L528.0,53.4 L532.0,52.9 L536.0,52.4 L540.0,52.0 L544.0,51.6 L548.0,51.3 L552.0,51.0 L556.0,50.8 L560.0,50.6 L564.0,50.4 L568.0,50.2 L572.0,50.1 L576.0,49.9 L580.0,49.8 L584.0,49.7 L588.0,49.6 L592.0,49.5 L596.0,49.5 L600.0,49.4 L604.0,49.4 L608.0,49.3 L612.0,49.3 L616.0,49.2 L620.0,49.2 L624.0,49.2 L628.0,49.2 L632.0,49.1 L636.0,49.1 L640.0,49.1 L644.0,49.1 L648.0,49.1 L652.0,49.1 L656.0,49.1 L660.0,49.1 L664.0,49.1 L668.0,49.0 L672.0,49.0 L676.0,49.0"/>
<path stroke="#fa7676" d="M92.0,263.9 L96.0,263.9 L100.0,263.9 L104.0,263.9 L108.0,263.9 L112.0,263.8 L116.0,263.8 L120.0,263.8 L124.0,263.8 L128.0,263.8 L132.0,263.7 L136.0,263.7 L140.0,263.7 L144.0,263.6 L148.0,263.6 L152.0,263.6 L156.0,263.5 L160.0,263.5 L164.0,263.4 L168.0,263.4 L172.0,263.3 L176.0,263.2 L180.0,263.1 L184.0,263.0 L188.0,262.9 L192.0,262.8 L196.0,262.7 L200.0,262.6 L204.0,262.4 L208.0,262.3 L212.0,262.1 L216.0,261.9 L220.0,261.7 L224.0,261.4 L228.0,261.2 L232.0,260.9 L236.0,260.6 L240.0,260.2 L244.0,259.8 L248.0,259.4 L252.0,258.9 L256.0,258.4 L260.0,257.9 L264.0,257.2 L268.0,256.6 L272.0,255.8 L276.0,255.0 L280.0,254.1 L284.0,253.1 L288.0,252.0 L292.0,250.9 L296.0,249.6 L300.0,248.2 L304.0,246.7 L308.0,245.0 L312.0,243.2 L316.0,241.3 L316.8,240.9 L317.4,240.6 L318.0,240.3 L318.5,240.0 L319.1,239.7 L319.6,239.4 L320.0,239.2 L320.2,239.1 L320.8,238.8 L321.3,238.5 L321.9,238.2 L322.5,237.8 L323.0,237.5 L323.6,237.2 L324.0,236.9 L324.1,236.9 L324.7,236.5 L325.3,236.2 L325.8,235.9 L326.4,235.5 L326.9,235.2 L327.5,234.8 L328.0,234.5 L328.1,234.5 L328.6,234.1 L329.2,233.7 L329.8,233.4 L330.3,233.0 L330.9,232.6 L331.4,232.3 L332.0,231.9 L332.0,231.9 L332.6,231.5 L333.1,231.1 L333.7,230.7 L334.2,230.3 L334.8,229.9 L335.4,229.5 L335.9,229.1 L336.0,229.1 L336.5,228.7 L337.1,228.3 L337.6,227.9 L338.2,227.5 L338.7,227.0 L340.0,226.1 L344.0,222.9 L348.0,219.5 L352.0,215.9 L356.0,212.1 L360.0,208.1 L364.0,203.8 L368.0,199.5 L372.0,194.9 L376.0,190.2 L380.0,185.3 L384.0,180.3 L388.0,175.1 L392.0,169.9 L396.0,164.6 L400.0,159.3 L404.0,154.0 L408.0,148.6 L412.0,143.4 L416.0,138.1 L420.0,133.0 L424.0,128.0 L428.0,123.1 L432.0,118.4 L436.0,113.8 L440.0,109.4 L444.0,105.2 L448.0,101.1 L452.0,97.3 L456.0,93.7 L460.0,90.3 L464.0,87.1 L468.0,84.1 L472.0,81.3 L476.0,78.6 L480.0,76.2 L484.0,73.9 L488.0,71.8 L492.0,69.9 L496.0,68.1 L500.0,66.4 L504.0,64.9 L508.0,63.5 L512.0,62.2 L516.0,61.0 L520.0,59.9 L524.0,59.0 L528.0,58.1 L532.0,57.2 L536.0,56.5 L540.0,55.8 L544.0,55.2 L548.0,54.6 L552.0,54.1 L556.0,53.6 L560.0,53.2 L564.0,52.8 L568.0,52.4 L572.0,52.1 L576.0,51.8 L580.0,51.6 L584.0,51.3 L588.0,51.1 L592.0,50.9 L596.0,50.7 L600.0,50.6 L604.0,50.4 L608.0,50.3 L612.0,50.2 L616.0,50.1 L620.0,50.0 L624.0,49.9 L628.0,49.8 L632.0,49.7 L636.0,49.6 L640.0,49.6 L644.0,49.5 L648.0,49.5 L652.0,49.4 L656.0,49.4 L660.0,49.4 L664.0,49.3 L668.0,49.3 L672.0,49.3 L676.0,49.2"/>
<path stroke="#6ab2fa" d="M92.0,264.0 L96.0,264.0 L100.0,264.0 L104.0,264.0 L108.0,264.0 L112.0,264.0 L116.0,264.0 L120.0,264.0 L124.0,264.0 L128.0,264.0 L132.0,264.0 L136.0,264.0 L140.0,264.0 L144.0,264.0 L148.0,264.0 L152.0,264.0 L156.0,264.0 L160.0,264.0 L164.0,264.0 L168.0,264.0 L172.0,264.0 L176.0,264.0 L180.0,264.0 L184.0,264.0 L188.0,264.0 L192.0,264.0 L196.0,264.0 L200.0,264.0 L204.0,264.0 L208.0,264.0 L212.0,264.0 L216.0,264.0 L220.0,264.0 L224.0,263.9 L228.0,263.9 L232.0,263.9 L236.0,263.9 L240.0,263.9 L244.0,263.9 L248.0,263.8 L252.0,263.8 L256.0,263.8 L260.0,263.7 L264.0,263.7 L268.0,263.6 L272.0,263.6 L276.0,263.5 L280.0,263.4 L284.0,263.3 L288.0,263.1 L292.0,262.9 L296.0,262.7 L300.0,262.5 L304.0,262.2 L308.0,261.9 L312.0,261.5 L316.0,261.0 L316.8,260.9 L317.4,260.8 L318.0,260.7 L318.5,260.6 L319.1,260.6 L319.6,260.5 L320.0,260.4 L320.2,260.4 L320.8,260.3 L321.3,260.2 L321.9,260.1 L322.5,260.0 L323.0,259.9 L323.6,259.8 L324.0,259.7 L324.1,259.7 L324.7,259.6 L325.3,259.5 L325.8,259.4 L326.4,259.3 L326.9,259.2 L327.5,259.1 L328.0,259.0 L328.1,258.9 L328.6,258.8 L329.2,258.7 L329.8,258.6 L330.3,258.4 L330.9,258.3 L331.4,258.2 L332.0,258.0 L332.0,258.0 L332.6,257.9 L333.1,257.7 L333.7,257.6 L334.2,257.4 L334.8,257.2 L335.4,257.1 L335.9,256.9 L336.0,256.9 L336.5,256.7 L337.1,256.6 L337.6,256.4 L338.2,256.2 L338.7,256.0 L340.0,255.6 L344.0,254.0 L348.0,252.2 L352.0,250.1 L356.0,247.7 L360.0,244.8 L364.0,241.5 L368.0,237.7 L372.0,233.4 L376.0,228.5 L380.0,223.0 L384.0,216.8 L388.0,210.0 L392.0,202.6 L396.0,194.7 L400.0,186.2 L404.0,177.3 L408.0,168.0 L412.0,158.6 L416.0,149.2 L420.0,139.9 L424.0,130.8 L428.0,122.1 L432.0,113.9 L436.0,106.2 L440.0,99.2 L444.0,92.7 L448.0,86.9 L452.0,81.8 L456.0,77.2 L460.0,73.1 L464.0,69.6 L468.0,66.6 L472.0,63.9 L476.0,61.7 L480.0,59.7 L484.0,58.1 L488.0,56.7 L492.0,55.5 L496.0,54.5 L500.0,53.6 L504.0,52.9 L508.0,52.3 L512.0,51.7 L516.0,51.3 L520.0,50.9 L524.0,50.6 L528.0,50.4 L532.0,50.1 L536.0,50.0 L540.0,49.8 L544.0,49.7 L548.0,49.6 L552.0,49.5 L556.0,49.4 L560.0,49.3 L564.0,49.3 L568.0,49.2 L572.0,49.2 L576.0,49.2 L580.0,49.1 L584.0,49.1 L588.0,49.1 L592.0,49.1 L596.0,49.1 L600.0,49.1 L604.0,49.0 L608.0,49.0 L612.0,49.0 L616.0,49.0 L620.0,49.0 L624.0,49.0 L628.0,49.0 L632.0,49.0 L636.0,49.0 L640.0,49.0 L644.0,49.0 L648.0,49.0 L652.0,49.0 L656.0,49.0 L660.0,49.0 L664.0,49.0 L668.0,49.0 L672.0,49.0 L676.0,49.0"/>
<path stroke="#fa7676" d="M92.0,263.7 L96.0,263.7 L100.0,263.7 L104.0,263.7 L108.0,263.6 L112.0,263.6 L116.0,263.6 L120.0,263.5 L124.0,263.5 L128.0,263.4 L132.0,263.4 L136.0,263.3 L140.0,263.3 L144.0,263.2 L148.0,263.2 L152.0,263.1 L156.0,263.0 L160.0,262.9 L164.0,262.8 L168.0,262.7 L172.0,262.6 L176.0,262.4 L180.0,262.3 L184.0,262.2 L188.0,262.0 L192.0,261.8 L196.0,261.6 L200.0,261.4 L204.0,261.2 L208.0,260.9 L212.0,260.6 L216.0,260.3 L220.0,260.0 L224.0,259.7 L228.0,259.3 L232.0,258.9 L236.0,258.4 L240.0,257.9 L244.0,257.4 L248.0,256.8 L252.0,256.2 L256.0,255.5 L260.0,254.8 L264.0,254.0 L268.0,253.1 L272.0,252.2 L276.0,251.1 L280.0,250.1 L284.0,248.9 L288.0,247.6 L292.0,246.3 L296.0,244.8 L300.0,243.2 L304.0,241.5 L308.0,239.7 L312.0,237.8 L316.0,235.7 L316.8,235.3 L317.4,235.0 L318.0,234.7 L318.5,234.4 L319.1,234.1 L319.6,233.7 L320.0,233.5 L320.2,233.4 L320.8,233.1 L321.3,232.8 L321.9,232.5 L322.5,232.1 L323.0,231.8 L323.6,231.5 L324.0,231.2 L324.1,231.1 L324.7,230.8 L325.3,230.4 L325.8,230.1 L326.4,229.7 L326.9,229.4 L327.5,229.0 L328.0,228.7 L328.1,228.7 L328.6,228.3 L329.2,228.0 L329.8,227.6 L330.3,227.2 L330.9,226.8 L331.4,226.5 L332.0,226.1 L332.0,226.1 L332.6,225.7 L333.1,225.3 L333.7,224.9 L334.2,224.6 L334.8,224.2 L335.4,223.8 L335.9,223.4 L336.0,223.3 L336.5,223.0 L337.1,222.6 L337.6,222.1 L338.2,221.7 L338.7,221.3 L340.0,220.4 L344.0,217.3 L348.0,214.0 L352.0,210.6 L356.0,207.1 L360.0,203.4 L364.0,199.5 L368.0,195.6 L372.0,191.4 L376.0,187.2 L380.0,182.9 L384.0,178.5 L388.0,174.0 L392.0,169.4 L396.0,164.8 L400.0,160.1 L404.0,155.5 L408.0,150.8 L412.0,146.2 L416.0,141.6 L420.0,137.1 L424.0,132.6 L428.0,128.2 L432.0,123.9 L436.0,119.7 L440.0,115.7 L444.0,111.8 L448.0,108.0 L452.0,104.3 L456.0,100.9 L460.0,97.5 L464.0,94.3 L468.0,91.3 L472.0,88.5 L476.0,85.7 L480.0,83.2 L484.0,80.8 L488.0,78.5 L492.0,76.3 L496.0,74.3 L500.0,72.5 L504.0,70.7 L508.0,69.1 L512.0,67.6 L516.0,66.1 L520.0,64.8 L524.0,63.6 L528.0,62.5 L532.0,61.4 L536.0,60.4 L540.0,59.5 L544.0,58.7 L548.0,57.9 L552.0,57.2 L556.0,56.5 L560.0,55.9 L564.0,55.4 L568.0,54.9 L572.0,54.4 L576.0,54.0 L580.0,53.6 L584.0,53.2 L588.0,52.8 L592.0,52.5 L596.0,52.2 L600.0,52.0 L604.0,51.7 L608.0,51.5 L612.0,51.3 L616.0,51.1 L620.0,50.9 L624.0,50.8 L628.0,50.6 L632.0,50.5 L636.0,50.4 L640.0,50.3 L644.0,50.2 L648.0,50.1 L652.0,50.0 L656.0,49.9 L660.0,49.8 L664.0,49.8 L668.0,49.7 L672.0,49.6 L676.0,49.6"/>
<path stroke="#6ab2fa" d="M92.0,264.0 L96.0,264.0 L100.0,264.0 L104.0,264.0 L108.0,264.0 L112.0,264.0 L116.0,264.0 L120.0,264.0 L124.0,264.0 L128.0,264.0 L132.0,264.0 L136.0,264.0 L140.0,264.0 L144.0,264.0 L148.0,264.0 L152.0,264.0 L156.0,264.0 L160.0,264.0 L164.0,264.0 L168.0,264.0 L172.0,264.0 L176.0,264.0 L180.0,264.0 L184.0,264.0 L188.0,264.0 L192.0,264.0 L196.0,264.0 L200.0,264.0 L204.0,264.0 L208.0,264.0 L212.0,264.0 L216.0,264.0 L220.0,264.0 L224.0,263.9 L228.0,263.9 L232.0,263.9 L236.0,263.9 L240.0,263.9 L244.0,263.9 L248.0,263.9 L252.0,263.8 L256.0,263.8 L260.0,263.8 L264.0,263.7 L268.0,263.7 L272.0,263.6 L276.0,263.5 L280.0,263.4 L284.0,263.3 L288.0,263.2 L292.0,263.0 L296.0,262.8 L300.0,262.6 L304.0,262.3 L308.0,262.0 L312.0,261.6 L316.0,261.2 L316.8,261.1 L317.4,261.0 L318.0,260.9 L318.5,260.9 L319.1,260.8 L319.6,260.7 L320.0,260.7 L320.2,260.6 L320.8,260.5 L321.3,260.5 L321.9,260.4 L322.5,260.3 L323.0,260.2 L323.6,260.1 L324.0,260.0 L324.1,260.0 L324.7,259.9 L325.3,259.8 L325.8,259.7 L326.4,259.6 L326.9,259.5 L327.5,259.4 L328.0,259.3 L328.1,259.3 L328.6,259.2 L329.2,259.0 L329.8,258.9 L330.3,258.8 L330.9,258.7 L331.4,258.5 L332.0,258.4 L332.0,258.4 L332.6,258.3 L333.1,258.1 L333.7,258.0 L334.2,257.8 L334.8,257.7 L335.4,257.5 L335.9,257.4 L336.0,257.4 L336.5,257.2 L337.1,257.1 L337.6,256.9 L338.2,256.7 L338.7,256.5 L340.0,256.1 L344.0,254.7 L348.0,253.0 L352.0,251.0 L356.0,248.7 L360.0,246.0 L364.0,242.9 L368.0,239.3 L372.0,235.2 L376.0,230.5 L380.0,225.3 L384.0,219.4 L388.0,212.8 L392.0,205.7 L396.0,197.9 L400.0,189.6 L404.0,180.9 L408.0,171.8 L412.0,162.4 L416.0,153.0 L420.0,143.6 L424.0,134.4 L428.0,125.6 L432.0,117.1 L436.0,109.2 L440.0,101.9 L444.0,95.2 L448.0,89.2 L452.0,83.8 L456.0,78.9 L460.0,74.7 L464.0,71.0 L468.0,67.7 L472.0,65.0 L476.0,62.5 L480.0,60.5 L484.0,58.7 L488.0,57.2 L492.0,55.9 L496.0,54.8 L500.0,53.9 L504.0,53.1 L508.0,52.5 L512.0,51.9 L516.0,51.5 L520.0,51.1 L524.0,50.7 L528.0,50.5 L532.0,50.2 L536.0,50.0 L540.0,49.9 L544.0,49.7 L548.0,49.6 L552.0,49.5 L556.0,49.4 L560.0,49.4 L564.0,49.3 L568.0,49.3 L572.0,49.2 L576.0,49.2 L580.0,49.2 L584.0,49.1 L588.0,49.1 L592.0,49.1 L596.0,49.1 L600.0,49.1 L604.0,49.1 L608.0,49.0 L612.0,49.0 L616.0,49.0 L620.0,49.0 L624.0,49.0 L628.0,49.0 L632.0,49.0 L636.0,49.0 L640.0,49.0 L644.0,49.0 L648.0,49.0 L652.0,49.0 L656.0,49.0 L660.0,49.0 L664.0,49.0 L668.0,49.0 L672.0,49.0 L676.0,49.0"/>
<path stroke="#fa7676" d="M92.0,263.8 L96.0,263.8 L100.0,263.8 L104.0,263.8 L108.0,263.7 L112.0,263.7 L116.0,263.7 L120.0,263.6 L124.0,263.6 L128.0,263.6 L132.0,263.5 L136.0,263.5 L140.0,263.5 L144.0,263.4 L148.0,263.3 L152.0,263.3 L156.0,263.2 L160.0,263.1 L164.0,263.1 L168.0,263.0 L172.0,262.9 L176.0,262.8 L180.0,262.7 L184.0,262.5 L188.0,262.4 L192.0,262.2 L196.0,262.1 L200.0,261.9 L204.0,261.7 L208.0,261.5 L212.0,261.2 L216.0,261.0 L220.0,260.7 L224.0,260.4 L228.0,260.1 L232.0,259.7 L236.0,259.3 L240.0,258.9 L244.0,258.4 L248.0,257.9 L252.0,257.3 L256.0,256.7 L260.0,256.1 L264.0,255.4 L268.0,254.6 L272.0,253.7 L276.0,252.8 L280.0,251.8 L284.0,250.8 L288.0,249.6 L292.0,248.3 L296.0,247.0 L300.0,245.5 L304.0,243.9 L308.0,242.2 L312.0,240.4 L316.0,238.4 L316.8,238.0 L317.4,237.7 L318.0,237.4 L318.5,237.1 L319.1,236.8 L319.6,236.5 L320.0,236.3 L320.2,236.2 L320.8,235.9 L321.3,235.6 L321.9,235.3 L322.5,235.0 L323.0,234.6 L323.6,234.3 L324.0,234.1 L324.1,234.0 L324.7,233.7 L325.3,233.3 L325.8,233.0 L326.4,232.7 L326.9,232.3 L327.5,232.0 L328.0,231.7 L328.1,231.6 L328.6,231.3 L329.2,230.9 L329.8,230.6 L330.3,230.2 L330.9,229.9 L331.4,229.5 L332.0,229.1 L332.0,229.1 L332.6,228.8 L333.1,228.4 L333.7,228.0 L334.2,227.6 L334.8,227.2 L335.4,226.9 L335.9,226.5 L336.0,226.4 L336.5,226.1 L337.1,225.7 L337.6,225.3 L338.2,224.9 L338.7,224.5 L340.0,223.5 L344.0,220.5 L348.0,217.3 L352.0,213.9 L356.0,210.4 L360.0,206.6 L364.0,202.8 L368.0,198.8 L372.0,194.6 L376.0,190.3 L380.0,185.9 L384.0,181.3 L388.0,176.7 L392.0,172.0 L396.0,167.2 L400.0,162.4 L404.0,157.6 L408.0,152.7 L412.0,147.9 L416.0,143.1 L420.0,138.4 L424.0,133.7 L428.0,129.1 L432.0,124.6 L436.0,120.3 L440.0,116.1 L444.0,112.0 L448.0,108.0 L452.0,104.3 L456.0,100.6 L460.0,97.2 L464.0,93.9 L468.0,90.8 L472.0,87.8 L476.0,85.0 L480.0,82.4 L484.0,80.0 L488.0,77.6 L492.0,75.5 L496.0,73.5 L500.0,71.6 L504.0,69.8 L508.0,68.2 L512.0,66.7 L516.0,65.3 L520.0,64.0 L524.0,62.7 L528.0,61.6 L532.0,60.6 L536.0,59.7 L540.0,58.8 L544.0,58.0 L548.0,57.2 L552.0,56.5 L556.0,55.9 L560.0,55.3 L564.0,54.8 L568.0,54.3 L572.0,53.9 L576.0,53.5 L580.0,53.1 L584.0,52.7 L588.0,52.4 L592.0,52.1 L596.0,51.9 L600.0,51.6 L604.0,51.4 L608.0,51.2 L612.0,51.0 L616.0,50.8 L620.0,50.7 L624.0,50.5 L628.0,50.4 L632.0,50.3 L636.0,50.2 L640.0,50.1 L644.0,50.0 L648.0,49.9 L652.0,49.8 L656.0,49.7 L660.0,49.7 L664.0,49.6 L668.0,49.6 L672.0,49.5 L676.0,49.5"/>
<path stroke="#6ab2fa" d="M92.0,263.8 L96.0,263.8 L100.0,263.8 L104.0,263.8 L108.0,263.7 L112.0,263.7 L116.0,263.7 L120.0,263.7 L124.0,263.6 L128.0,263.6 L132.0,263.6 L136.0,263.5 L140.0,263.5 L144.0,263.4 L148.0,263.4 L152.0,263.3 L156.0,263.3 L160.0,263.2 L164.0,263.1 L168.0,263.1 L172.0,263.0 L176.0,262.9 L180.0,262.8 L184.0,262.7 L188.0,262.5 L192.0,262.4 L196.0,262.3 L200.0,262.1 L204.0,261.9 L208.0,261.8 L212.0,261.6 L216.0,261.3 L220.0,261.1 L224.0,260.8 L228.0,260.6 L232.0,260.2 L236.0,259.9 L240.0,259.5 L244.0,259.1 L248.0,258.7 L252.0,258.2 L256.0,257.7 L260.0,257.2 L264.0,256.6 L268.0,255.9 L272.0,255.2 L276.0,254.4 L280.0,253.6 L284.0,252.7 L288.0,251.7 L292.0,250.7 L296.0,249.5 L300.0,248.3 L304.0,247.0 L308.0,245.6 L312.0,244.0 L316.0,242.4 L316.8,242.0 L317.4,241.8 L318.0,241.5 L318.5,241.3 L319.1,241.0 L319.6,240.8 L320.0,240.6 L320.2,240.5 L320.8,240.3 L321.3,240.0 L321.9,239.7 L322.5,239.5 L323.0,239.2 L323.6,238.9 L324.0,238.7 L324.1,238.7 L324.7,238.4 L325.3,238.1 L325.8,237.8 L326.4,237.5 L326.9,237.3 L327.5,237.0 L328.0,236.7 L328.1,236.7 L328.6,236.4 L329.2,236.1 L329.8,235.8 L330.3,235.5 L330.9,235.2 L331.4,234.9 L332.0,234.6 L332.0,234.6 L332.6,234.2 L333.1,233.9 L333.7,233.6 L334.2,233.3 L334.8,233.0 L335.4,232.6 L335.9,232.3 L336.0,232.3 L336.5,232.0 L337.1,231.6 L337.6,231.3 L338.2,230.9 L338.7,230.6 L340.0,229.8 L344.0,227.2 L348.0,224.5 L352.0,221.6 L356.0,218.5 L360.0,215.3 L364.0,211.9 L368.0,208.4 L372.0,204.7 L376.0,200.9 L380.0,196.9 L384.0,192.8 L388.0,188.6 L392.0,184.2 L396.0,179.8 L400.0,175.3 L404.0,170.7 L408.0,166.0 L412.0,161.3 L416.0,156.6 L420.0,151.9 L424.0,147.3 L428.0,142.6 L432.0,138.0 L436.0,133.5 L440.0,129.0 L444.0,124.7 L448.0,120.5 L452.0,116.3 L456.0,112.4 L460.0,108.5 L464.0,104.8 L468.0,101.3 L472.0,97.9 L476.0,94.7 L480.0,91.6 L484.0,88.7 L488.0,85.9 L492.0,83.3 L496.0,80.9 L500.0,78.6 L504.0,76.4 L508.0,74.4 L512.0,72.5 L516.0,70.7 L520.0,69.1 L524.0,67.5 L528.0,66.1 L532.0,64.8 L536.0,63.5 L540.0,62.4 L544.0,61.3 L548.0,60.4 L552.0,59.5 L556.0,58.6 L560.0,57.8 L564.0,57.1 L568.0,56.5 L572.0,55.9 L576.0,55.3 L580.0,54.8 L584.0,54.3 L588.0,53.9 L592.0,53.5 L596.0,53.1 L600.0,52.8 L604.0,52.5 L608.0,52.2 L612.0,51.9 L616.0,51.7 L620.0,51.5 L624.0,51.3 L628.0,51.1 L632.0,50.9 L636.0,50.7 L640.0,50.6 L644.0,50.5 L648.0,50.3 L652.0,50.2 L656.0,50.1 L660.0,50.0 L664.0,49.9 L668.0,49.9 L672.0,49.8 L676.0,49.7"/>
<path stroke="#fa7676" d="M92.0,264.0 L96.0,264.0 L100.0,264.0 L104.0,264.0 L108.0,264.0 L112.0,264.0 L116.0,264.0 L120.0,264.0 L124.0,264.0 L128.0,264.0 L132.0,264.0 L136.0,264.0 L140.0,264.0 L144.0,264.0 L148.0,264.0 L152.0,264.0 L156.0,264.0 L160.0,264.0 L164.0,264.0 L168.0,264.0 L172.0,264.0 L176.0,264.0 L180.0,264.0 L184.0,264.0 L188.0,264.0 L192.0,264.0 L196.0,264.0 L200.0,264.0 L204.0,264.0 L208.0,264.0 L212.0,263.9 L216.0,263.9 L220.0,263.9 L224.0,263.9 L228.0,263.9 L232.0,263.9 L236.0,263.8 L240.0,263.8 L244.0,263.8 L248.0,263.7 L252.0,263.7 L256.0,263.6 L260.0,263.6 L264.0,263.5 L268.0,263.4 L272.0,263.3 L276.0,263.2 L280.0,263.0 L284.0,262.9 L288.0,262.7 L292.0,262.4 L296.0,262.1 L300.0,261.8 L304.0,261.4 L308.0,260.9 L312.0,260.4 L316.0,259.8 L316.8,259.6 L317.4,259.5 L318.0,259.4 L318.5,259.3 L319.1,259.2 L319.6,259.1 L320.0,259.0 L320.2,259.0 L320.8,258.9 L321.3,258.7 L321.9,258.6 L322.5,258.5 L323.0,258.4 L323.6,258.2 L324.0,258.1 L324.1,258.1 L324.7,258.0 L325.3,257.8 L325.8,257.7 L326.4,257.6 L326.9,257.4 L327.5,257.3 L328.0,257.1 L328.1,257.1 L328.6,256.9 L329.2,256.8 L329.8,256.6 L330.3,256.4 L330.9,256.3 L331.4,256.1 L332.0,255.9 L332.0,255.9 L332.6,255.7 L333.1,255.6 L333.7,255.4 L334.2,255.2 L334.8,255.0 L335.4,254.8 L335.9,254.6 L336.0,254.5 L336.5,254.3 L337.1,254.1 L337.6,253.9 L338.2,253.7 L338.7,253.4 L340.0,252.9 L344.0,251.0 L348.0,248.8 L352.0,246.3 L356.0,243.4 L360.0,240.1 L364.0,236.4 L368.0,232.1 L372.0,227.4 L376.0,222.0 L380.0,216.2 L384.0,209.7 L388.0,202.7 L392.0,195.2 L396.0,187.2 L400.0,178.8 L404.0,170.1 L408.0,161.3 L412.0,152.3 L416.0,143.5 L420.0,134.8 L424.0,126.4 L428.0,118.4 L432.0,110.8 L436.0,103.8 L440.0,97.3 L444.0,91.3 L448.0,86.0 L452.0,81.2 L456.0,76.9 L460.0,73.1 L464.0,69.8 L468.0,66.8 L472.0,64.3 L476.0,62.1 L480.0,60.2 L484.0,58.6 L488.0,57.2 L492.0,56.0 L496.0,54.9 L500.0,54.0 L504.0,53.3 L508.0,52.6 L512.0,52.1 L516.0,51.6 L520.0,51.2 L524.0,50.9 L528.0,50.6 L532.0,50.4 L536.0,50.2 L540.0,50.0 L544.0,49.8 L548.0,49.7 L552.0,49.6 L556.0,49.5 L560.0,49.4 L564.0,49.4 L568.0,49.3 L572.0,49.3 L576.0,49.2 L580.0,49.2 L584.0,49.2 L588.0,49.1 L592.0,49.1 L596.0,49.1 L600.0,49.1 L604.0,49.1 L608.0,49.1 L612.0,49.0 L616.0,49.0 L620.0,49.0 L624.0,49.0 L628.0,49.0 L632.0,49.0 L636.0,49.0 L640.0,49.0 L644.0,49.0 L648.0,49.0 L652.0,49.0 L656.0,49.0 L660.0,49.0 L664.0,49.0 L668.0,49.0 L672.0,49.0 L676.0,49.0"/>
<path stroke="#6ab2fa" d="M92.0,264.0 L96.0,264.0 L100.0,264.0 L104.0,264.0 L108.0,264.0 L112.0,264.0 L116.0,264.0 L120.0,264.0 L124.0,264.0 L128.0,264.0 L132.0,264.0 L136.0,264.0 L140.0,264.0 L144.0,264.0 L148.0,264.0 L152.0,264.0 L156.0,264.0 L160.0,264.0 L164.0,264.0 L168.0,264.0 L172.0,264.0 L176.0,264.0 L180.0,264.0 L184.0,264.0 L188.0,264.0 L192.0,264.0 L196.0,264.0 L200.0,263.9 L204.0,263.9 L208.0,263.9 L212.0,263.9 L216.0,263.9 L220.0,263.9 L224.0,263.9 L228.0,263.8 L232.0,263.8 L236.0,263.8 L240.0,263.7 L244.0,263.7 L248.0,263.7 L252.0,263.6 L256.0,263.5 L260.0,263.5 L264.0,263.4 L268.0,263.3 L272.0,263.2 L276.0,263.0 L280.0,262.9 L284.0,262.7 L288.0,262.5 L292.0,262.2 L296.0,262.0 L300.0,261.6 L304.0,261.2 L308.0,260.8 L312.0,260.3 L316.0,259.7 L316.8,259.6 L317.4,259.5 L318.0,259.4 L318.5,259.3 L319.1,259.2 L319.6,259.1 L320.0,259.0 L320.2,259.0 L320.8,258.9 L321.3,258.8 L321.9,258.7 L322.5,258.6 L323.0,258.4 L323.6,258.3 L324.0,258.2 L324.1,258.2 L324.7,258.1 L325.3,258.0 L325.8,257.8 L326.4,257.7 L326.9,257.6 L327.5,257.5 L328.0,257.3 L328.1,257.3 L328.6,257.2 L329.2,257.0 L329.8,256.9 L330.3,256.8 L330.9,256.6 L331.4,256.4 L332.0,256.3 L332.0,256.3 L332.6,256.1 L333.1,256.0 L333.7,255.8 L334.2,255.6 L334.8,255.5 L335.4,255.3 L335.9,255.1 L336.0,255.1 L336.5,254.9 L337.1,254.7 L337.6,254.6 L338.2,254.4 L338.7,254.2 L340.0,253.7 L344.0,252.1 L348.0,250.3 L352.0,248.3 L356.0,245.9 L360.0,243.3 L364.0,240.3 L368.0,236.9 L372.0,233.2 L376.0,229.0 L380.0,224.3 L384.0,219.2 L388.0,213.6 L392.0,207.6 L396.0,201.1 L400.0,194.2 L404.0,187.0 L408.0,179.4 L412.0,171.5 L416.0,163.5 L420.0,155.4 L424.0,147.4 L428.0,139.4 L432.0,131.6 L436.0,124.1 L440.0,116.9 L444.0,110.1 L448.0,103.8 L452.0,97.9 L456.0,92.4 L460.0,87.4 L464.0,82.9 L468.0,78.8 L472.0,75.2 L476.0,71.9 L480.0,69.0 L484.0,66.4 L488.0,64.2 L492.0,62.2 L496.0,60.4 L500.0,58.9 L504.0,57.6 L508.0,56.4 L512.0,55.4 L516.0,54.5 L520.0,53.8 L524.0,53.1 L528.0,52.6 L532.0,52.1 L536.0,51.6 L540.0,51.3 L544.0,51.0 L548.0,50.7 L552.0,50.5 L556.0,50.3 L560.0,50.1 L564.0,49.9 L568.0,49.8 L572.0,49.7 L576.0,49.6 L580.0,49.5 L584.0,49.4 L588.0,49.4 L592.0,49.3 L596.0,49.3 L600.0,49.2 L604.0,49.2 L608.0,49.2 L612.0,49.2 L616.0,49.1 L620.0,49.1 L624.0,49.1 L628.0,49.1 L632.0,49.1 L636.0,49.1 L640.0,49.1 L644.0,49.0 L648.0,49.0 L652.0,49.0 L656.0,49.0 L660.0,49.0 L664.0,49.0 L668.0,49.0 L672.0,49.0 L676.0,49.0"/>
<path stroke="#fa7676" d="M92.0,263.9 L96.0,263.9 L100.0,263.9 L104.0,263.9 L108.0,263.9 L112.0,263.9 L116.0,263.9 L120.0,263.9 L124.0,263.9 L128.0,263.9 L132.0,263.8 L136.0,263.8 L140.0,263.8 L144.0,263.8 L148.0,263.8 L152.0,263.7 L156.0,263.7 L160.0,263.7 L164.0,263.6 L168.0,263.6 L172.0,263.5 L176.0,263.5 L180.0,263.4 L184.0,263.4 L188.0,263.3 L192.0,263.2 L196.0,263.2 L200.0,263.1 L204.0,263.0 L208.0,262.9 L212.0,262.7 L216.0,262.6 L220.0,262.5 L224.0,262.3 L228.0,262.1 L232.0,261.9 L236.0,261.7 L240.0,261.4 L244.0,261.1 L248.0,260.8 L252.0,260.5 L256.0,260.1 L260.0,259.7 L264.0,259.2 L268.0,258.7 L272.0,258.2 L276.0,257.6 L280.0,256.9 L284.0,256.1 L288.0,255.3 L292.0,254.4 L296.0,253.4 L300.0,252.3 L304.0,251.1 L308.0,249.8 L312.0,248.4 L316.0,246.8 L316.8,246.5 L317.4,246.3 L318.0,246.0 L318.5,245.8 L319.1,245.5 L319.6,245.3 L320.0,245.1 L320.2,245.0 L320.8,244.8 L321.3,244.5 L321.9,244.3 L322.5,244.0 L323.0,243.7 L323.6,243.5 L324.0,243.3 L324.1,243.2 L324.7,242.9 L325.3,242.6 L325.8,242.4 L326.4,242.1 L326.9,241.8 L327.5,241.5 L328.0,241.2 L328.1,241.2 L328.6,240.9 L329.2,240.6 L329.8,240.3 L330.3,240.0 L330.9,239.7 L331.4,239.4 L332.0,239.1 L332.0,239.1 L332.6,238.7 L333.1,238.4 L333.7,238.1 L334.2,237.7 L334.8,237.4 L335.4,237.1 L335.9,236.7 L336.0,236.7 L336.5,236.4 L337.1,236.0 L337.6,235.7 L338.2,235.3 L338.7,235.0 L340.0,234.1 L344.0,231.4 L348.0,228.4 L352.0,225.2 L356.0,221.8 L360.0,218.2 L364.0,214.4 L368.0,210.3 L372.0,206.0 L376.0,201.6 L380.0,196.9 L384.0,192.0 L388.0,187.0 L392.0,181.8 L396.0,176.5 L400.0,171.1 L404.0,165.6 L408.0,160.1 L412.0,154.5 L416.0,149.0 L420.0,143.5 L424.0,138.0 L428.0,132.7 L432.0,127.5 L436.0,122.4 L440.0,117.5 L444.0,112.7 L448.0,108.2 L452.0,103.9 L456.0,99.8 L460.0,95.9 L464.0,92.2 L468.0,88.7 L472.0,85.5 L476.0,82.5 L480.0,79.6 L484.0,77.0 L488.0,74.6 L492.0,72.4 L496.0,70.3 L500.0,68.4 L504.0,66.6 L508.0,65.0 L512.0,63.6 L516.0,62.2 L520.0,61.0 L524.0,59.9 L528.0,58.9 L532.0,57.9 L536.0,57.1 L540.0,56.3 L544.0,55.6 L548.0,55.0 L552.0,54.4 L556.0,53.9 L560.0,53.4 L564.0,53.0 L568.0,52.6 L572.0,52.3 L576.0,51.9 L580.0,51.7 L584.0,51.4 L588.0,51.2 L592.0,51.0 L596.0,50.8 L600.0,50.6 L604.0,50.4 L608.0,50.3 L612.0,50.2 L616.0,50.1 L620.0,50.0 L624.0,49.9 L628.0,49.8 L632.0,49.7 L636.0,49.6 L640.0,49.6 L644.0,49.5 L648.0,49.5 L652.0,49.4 L656.0,49.4 L660.0,49.3 L664.0,49.3 L668.0,49.3 L672.0,49.2 L676.0,49.2"/>
<path stroke="#6ab2fa" d="M92.0,263.6 L96.0,263.5 L100.0,263.5 L104.0,263.5 L108.0,263.4 L112.0,263.4 L116.0,263.3 L120.0,263.3 L124.0,263.2 L128.0,263.2 L132.0,263.1 L136.0,263.0 L140.0,262.9 L144.0,262.9 L148.0,262.8 L152.0,262.7 L156.0,262.6 L160.0,262.5 L164.0,262.3 L168.0,262.2 L172.0,262.1 L176.0,261.9 L180.0,261.8 L184.0,261.6 L188.0,261.4 L192.0,261.2 L196.0,261.0 L200.0,260.8 L204.0,260.5 L208.0,260.3 L212.0,260.0 L216.0,259.7 L220.0,259.4 L224.0,259.0 L228.0,258.6 L232.0,258.2 L236.0,257.8 L240.0,257.3 L244.0,256.8 L248.0,256.3 L252.0,255.7 L256.0,255.1 L260.0,254.4 L264.0,253.7 L268.0,253.0 L272.0,252.2 L276.0,251.3 L280.0,250.4 L284.0,249.4 L288.0,248.3 L292.0,247.2 L296.0,246.0 L300.0,244.8 L304.0,243.4 L308.0,242.0 L312.0,240.5 L316.0,238.8 L316.8,238.5 L317.4,238.3 L318.0,238.0 L318.5,237.8 L319.1,237.5 L319.6,237.3 L320.0,237.1 L320.2,237.0 L320.8,236.8 L321.3,236.5 L321.9,236.3 L322.5,236.0 L323.0,235.8 L323.6,235.5 L324.0,235.3 L324.1,235.3 L324.7,235.0 L325.3,234.7 L325.8,234.5 L326.4,234.2 L326.9,233.9 L327.5,233.7 L328.0,233.4 L328.1,233.4 L328.6,233.1 L329.2,232.8 L329.8,232.6 L330.3,232.3 L330.9,232.0 L331.4,231.7 L332.0,231.4 L332.0,231.4 L332.6,231.1 L333.1,230.8 L333.7,230.5 L334.2,230.2 L334.8,229.9 L335.4,229.6 L335.9,229.3 L336.0,229.3 L336.5,229.0 L337.1,228.7 L337.6,228.4 L338.2,228.1 L338.7,227.8 L340.0,227.1 L344.0,224.7 L348.0,222.3 L352.0,219.7 L356.0,217.0 L360.0,214.2 L364.0,211.3 L368.0,208.3 L372.0,205.2 L376.0,201.9 L380.0,198.6 L384.0,195.1 L388.0,191.6 L392.0,188.0 L396.0,184.2 L400.0,180.5 L404.0,176.6 L408.0,172.7 L412.0,168.8 L416.0,164.8 L420.0,160.8 L424.0,156.8 L428.0,152.8 L432.0,148.8 L436.0,144.8 L440.0,140.9 L444.0,137.0 L448.0,133.1 L452.0,129.3 L456.0,125.6 L460.0,122.0 L464.0,118.4 L468.0,114.9 L472.0,111.6 L476.0,108.3 L480.0,105.2 L484.0,102.1 L488.0,99.2 L492.0,96.4 L496.0,93.7 L500.0,91.1 L504.0,88.6 L508.0,86.3 L512.0,84.0 L516.0,81.9 L520.0,79.9 L524.0,77.9 L528.0,76.1 L532.0,74.4 L536.0,72.8 L540.0,71.2 L544.0,69.8 L548.0,68.4 L552.0,67.2 L556.0,66.0 L560.0,64.8 L564.0,63.8 L568.0,62.8 L572.0,61.8 L576.0,61.0 L580.0,60.2 L584.0,59.4 L588.0,58.7 L592.0,58.0 L596.0,57.4 L600.0,56.8 L604.0,56.3 L608.0,55.8 L612.0,55.3 L616.0,54.8 L620.0,54.4 L624.0,54.1 L628.0,53.7 L632.0,53.4 L636.0,53.1 L640.0,52.8 L644.0,52.5 L648.0,52.3 L652.0,52.0 L656.0,51.8 L660.0,51.6 L664.0,51.4 L668.0,51.3 L672.0,51.1 L676.0,50.9"/>
<path stroke="#fa7676" d="M92.0,264.0 L96.0,264.0 L100.0,264.0 L104.0,264.0 L108.0,264.0 L112.0,264.0 L116.0,264.0 L120.0,264.0 L124.0,264.0 L128.0,264.0 L132.0,264.0 L136.0,264.0 L140.0,264.0 L144.0,264.0 L148.0,264.0 L152.0,264.0 L156.0,263.9 L160.0,263.9 L164.0,263.9 L168.0,263.9 L172.0,263.9 L176.0,263.9 L180.0,263.9 L184.0,263.9 L188.0,263.9 L192.0,263.8 L196.0,263.8 L200.0,263.8 L204.0,263.8 L208.0,263.7 L212.0,263.7 L216.0,263.6 L220.0,263.6 L224.0,263.5 L228.0,263.5 L232.0,263.4 L236.0,263.3 L240.0,263.2 L244.0,263.1 L248.0,263.0 L252.0,262.9 L256.0,262.7 L260.0,262.5 L264.0,262.4 L268.0,262.1 L272.0,261.9 L276.0,261.6 L280.0,261.3 L284.0,260.9 L288.0,260.5 L292.0,260.0 L296.0,259.5 L300.0,258.9 L304.0,258.3 L308.0,257.5 L312.0,256.7 L316.0,255.7 L316.8,255.5 L317.4,255.3 L318.0,255.2 L318.5,255.0 L319.1,254.9 L319.6,254.7 L320.0,254.6 L320.2,254.6 L320.8,254.4 L321.3,254.3 L321.9,254.1 L322.5,253.9 L323.0,253.7 L323.6,253.6 L324.0,253.4 L324.1,253.4 L324.7,253.2 L325.3,253.0 L325.8,252.8 L326.4,252.6 L326.9,252.5 L327.5,252.3 L328.0,252.1 L328.1,252.1 L328.6,251.9 L329.2,251.7 L329.8,251.4 L330.3,251.2 L330.9,251.0 L331.4,250.8 L332.0,250.6 L332.0,250.6 L332.6,250.3 L333.1,250.1 L333.7,249.9 L334.2,249.7 L334.8,249.4 L335.4,249.2 L335.9,248.9 L336.0,248.9 L336.5,248.7 L337.1,248.4 L337.6,248.2 L338.2,247.9 L338.7,247.6 L340.0,247.0 L344.0,244.9 L348.0,242.6 L352.0,240.0 L356.0,237.2 L360.0,234.1 L364.0,230.6 L368.0,226.9 L372.0,222.8 L376.0,218.5 L380.0,213.7 L384.0,208.7 L388.0,203.3 L392.0,197.6 L396.0,191.7 L400.0,185.5 L404.0,179.1 L408.0,172.5 L412.0,165.7 L416.0,158.9 L420.0,152.1 L424.0,145.3 L428.0,138.7 L432.0,132.1 L436.0,125.7 L440.0,119.6 L444.0,113.7 L448.0,108.1 L452.0,102.9 L456.0,97.9 L460.0,93.3 L464.0,89.0 L468.0,85.0 L472.0,81.4 L476.0,78.0 L480.0,75.0 L484.0,72.2 L488.0,69.7 L492.0,67.5 L496.0,65.4 L500.0,63.6 L504.0,62.0 L508.0,60.5 L512.0,59.2 L516.0,58.0 L520.0,57.0 L524.0,56.1 L528.0,55.3 L532.0,54.5 L536.0,53.9 L540.0,53.3 L544.0,52.8 L548.0,52.4 L552.0,52.0 L556.0,51.6 L560.0,51.3 L564.0,51.0 L568.0,50.8 L572.0,50.6 L576.0,50.4 L580.0,50.2 L584.0,50.1 L588.0,50.0 L592.0,49.8 L596.0,49.7 L600.0,49.7 L604.0,49.6 L608.0,49.5 L612.0,49.4 L616.0,49.4 L620.0,49.3 L624.0,49.3 L628.0,49.3 L632.0,49.2 L636.0,49.2 L640.0,49.2 L644.0,49.2 L648.0,49.1 L652.0,49.1 L656.0,49.1 L660.0,49.1 L664.0,49.1 L668.0,49.1 L672.0,49.1 L676.0,49.1"/>
<path stroke="#6ab2fa" d="M92.0,263.8 L96.0,263.7 L100.0,263.7 L104.0,263.7 L108.0,263.7 L112.0,263.6 L116.0,263.6 L120.0,263.6 L124.0,263.5 L128.0,263.5 L132.0,263.5 L136.0,263.4 L140.0,263.4 L144.0,263.3 L148.0,263.3 L152.0,263.2 L156.0,263.1 L160.0,263.1 L164.0,263.0 L168.0,262.9 L172.0,262.8 L176.0,262.7 L180.0,262.6 L184.0,262.5 L188.0,262.3 L192.0,262.2 L196.0,262.0 L200.0,261.9 L204.0,261.7 L208.0,261.5 L212.0,261.3 L216.0,261.1 L220.0,260.8 L224.0,260.6 L228.0,260.3 L232.0,260.0 L236.0,259.6 L240.0,259.3 L244.0,258.9 L248.0,258.4 L252.0,258.0 L256.0,257.5 L260.0,256.9 L264.0,256.4 L268.0,255.7 L272.0,255.1 L276.0,254.3 L280.0,253.5 L284.0,252.7 L288.0,251.8 L292.0,250.8 L296.0,249.8 L300.0,248.6 L304.0,247.4 L308.0,246.1 L312.0,244.8 L316.0,243.3 L316.8,243.0 L317.4,242.7 L318.0,242.5 L318.5,242.3 L319.1,242.1 L319.6,241.8 L320.0,241.7 L320.2,241.6 L320.8,241.4 L321.3,241.1 L321.9,240.9 L322.5,240.7 L323.0,240.4 L323.6,240.2 L324.0,240.0 L324.1,239.9 L324.7,239.7 L325.3,239.5 L325.8,239.2 L326.4,238.9 L326.9,238.7 L327.5,238.4 L328.0,238.2 L328.1,238.2 L328.6,237.9 L329.2,237.6 L329.8,237.4 L330.3,237.1 L330.9,236.8 L331.4,236.6 L332.0,236.3 L332.0,236.3 L332.6,236.0 L333.1,235.7 L333.7,235.4 L334.2,235.2 L334.8,234.9 L335.4,234.6 L335.9,234.3 L336.0,234.3 L336.5,234.0 L337.1,233.7 L337.6,233.4 L338.2,233.1 L338.7,232.8 L340.0,232.1 L344.0,229.8 L348.0,227.4 L352.0,224.8 L356.0,222.2 L360.0,219.3 L364.0,216.4 L368.0,213.3 L372.0,210.0 L376.0,206.7 L380.0,203.2 L384.0,199.5 L388.0,195.8 L392.0,191.9 L396.0,187.9 L400.0,183.9 L404.0,179.7 L408.0,175.5 L412.0,171.2 L416.0,166.9 L420.0,162.5 L424.0,158.1 L428.0,153.7 L432.0,149.3 L436.0,145.0 L440.0,140.6 L444.0,136.4 L448.0,132.2 L452.0,128.0 L456.0,124.0 L460.0,120.0 L464.0,116.2 L468.0,112.5 L472.0,108.9 L476.0,105.4 L480.0,102.1 L484.0,98.9 L488.0,95.8 L492.0,92.9 L496.0,90.1 L500.0,87.5 L504.0,84.9 L508.0,82.6 L512.0,80.3 L516.0,78.2 L520.0,76.2 L524.0,74.3 L528.0,72.5 L532.0,70.9 L536.0,69.3 L540.0,67.9 L544.0,66.5 L548.0,65.2 L552.0,64.0 L556.0,62.9 L560.0,61.9 L564.0,61.0 L568.0,60.1 L572.0,59.2 L576.0,58.5 L580.0,57.8 L584.0,57.1 L588.0,56.5 L592.0,55.9 L596.0,55.4 L600.0,54.9 L604.0,54.4 L608.0,54.0 L612.0,53.6 L616.0,53.3 L620.0,53.0 L624.0,52.6 L628.0,52.4 L632.0,52.1 L636.0,51.9 L640.0,51.6 L644.0,51.4 L648.0,51.2 L652.0,51.1 L656.0,50.9 L660.0,50.8 L664.0,50.6 L668.0,50.5 L672.0,50.4 L676.0,50.3"/>
<path stroke="#fa7676" d="M92.0,264.0 L96.0,264.0 L100.0,264.0 L104.0,264.0 L108.0,264.0 L112.0,264.0 L116.0,264.0 L120.0,264.0 L124.0,264.0 L128.0,263.9 L132.0,263.9 L136.0,263.9 L140.0,263.9 L144.0,263.9 L148.0,263.9 L152.0,263.9 L156.0,263.9 L160.0,263.9 L164.0,263.9 L168.0,263.8 L172.0,263.8 L176.0,263.8 L180.0,263.8 L184.0,263.7 L188.0,263.7 L192.0,263.7 L196.0,263.6 L200.0,263.6 L204.0,263.5 L208.0,263.5 L212.0,263.4 L216.0,263.4 L220.0,263.3 L224.0,263.2 L228.0,263.1 L232.0,263.0 L236.0,262.9 L240.0,262.7 L244.0,262.6 L248.0,262.4 L252.0,262.2 L256.0,262.0 L260.0,261.8 L264.0,261.5 L268.0,261.2 L272.0,260.9 L276.0,260.5 L280.0,260.1 L284.0,259.7 L288.0,259.2 L292.0,258.6 L296.0,257.9 L300.0,257.2 L304.0,256.4 L308.0,255.6 L312.0,254.6 L316.0,253.5 L316.8,253.3 L317.4,253.1 L318.0,252.9 L318.5,252.8 L319.1,252.6 L319.6,252.4 L320.0,252.3 L320.2,252.2 L320.8,252.1 L321.3,251.9 L321.9,251.7 L322.5,251.5 L323.0,251.3 L323.6,251.1 L324.0,251.0 L324.1,250.9 L324.7,250.7 L325.3,250.5 L325.8,250.3 L326.4,250.1 L326.9,249.9 L327.5,249.7 L328.0,249.5 L328.1,249.5 L328.6,249.3 L329.2,249.0 L329.8,248.8 L330.3,248.6 L330.9,248.4 L331.4,248.1 L332.0,247.9 L332.0,247.9 L332.6,247.6 L333.1,247.4 L333.7,247.2 L334.2,246.9 L334.8,246.7 L335.4,246.4 L335.9,246.1 L336.0,246.1 L336.5,245.9 L337.1,245.6 L337.6,245.3 L338.2,245.1 L338.7,244.8 L340.0,244.1 L344.0,242.0 L348.0,239.6 L352.0,237.0 L356.0,234.2 L360.0,231.2 L364.0,227.9 L368.0,224.3 L372.0,220.5 L376.0,216.4 L380.0,212.0 L384.0,207.4 L388.0,202.5 L392.0,197.4 L396.0,192.0 L400.0,186.5 L404.0,180.7 L408.0,174.8 L412.0,168.8 L416.0,162.7 L420.0,156.6 L424.0,150.5 L428.0,144.4 L432.0,138.4 L436.0,132.5 L440.0,126.7 L444.0,121.1 L448.0,115.8 L452.0,110.6 L456.0,105.7 L460.0,101.1 L464.0,96.7 L468.0,92.6 L472.0,88.8 L476.0,85.2 L480.0,81.9 L484.0,78.9 L488.0,76.0 L492.0,73.5 L496.0,71.1 L500.0,68.9 L504.0,67.0 L508.0,65.2 L512.0,63.5 L516.0,62.1 L520.0,60.7 L524.0,59.5 L528.0,58.4 L532.0,57.5 L536.0,56.6 L540.0,55.8 L544.0,55.1 L548.0,54.4 L552.0,53.9 L556.0,53.4 L560.0,52.9 L564.0,52.5 L568.0,52.1 L572.0,51.8 L576.0,51.5 L580.0,51.2 L584.0,51.0 L588.0,50.8 L592.0,50.6 L596.0,50.4 L600.0,50.3 L604.0,50.1 L608.0,50.0 L612.0,49.9 L616.0,49.8 L620.0,49.7 L624.0,49.6 L628.0,49.6 L632.0,49.5 L636.0,49.5 L640.0,49.4 L644.0,49.4 L648.0,49.3 L652.0,49.3 L656.0,49.3 L660.0,49.2 L664.0,49.2 L668.0,49.2 L672.0,49.2 L676.0,49.1"/>
<path stroke="#6ab2fa" d="M92.0,264.0 L96.0,264.0 L100.0,264.0 L104.0,264.0 L108.0,264.0 L112.0,264.0 L116.0,264.0 L120.0,264.0 L124.0,264.0 L128.0,264.0 L132.0,264.0 L136.0,264.0 L140.0,264.0 L144.0,264.0 L148.0,264.0 L152.0,264.0 L156.0,264.0 L160.0,264.0 L164.0,264.0 L168.0,264.0 L172.0,264.0 L176.0,264.0 L180.0,264.0 L184.0,264.0 L188.0,264.0 L192.0,263.9 L196.0,263.9 L200.0,263.9 L204.0,263.9 L208.0,263.9 L212.0,263.9 L216.0,263.9 L220.0,263.9 L224.0,263.8 L228.0,263.8 L232.0,263.8 L236.0,263.8 L240.0,263.7 L244.0,263.7 L248.0,263.6 L252.0,263.6 L256.0,263.5 L260.0,263.4 L264.0,263.4 L268.0,263.3 L272.0,263.1 L276.0,263.0 L280.0,262.9 L284.0,262.7 L288.0,262.5 L292.0,262.3 L296.0,262.0 L300.0,261.7 L304.0,261.4 L308.0,261.0 L312.0,260.5 L316.0,260.0 L316.8,259.9 L317.4,259.8 L318.0,259.7 L318.5,259.7 L319.1,259.6 L319.6,259.5 L320.0,259.4 L320.2,259.4 L320.8,259.3 L321.3,259.2 L321.9,259.1 L322.5,259.0 L323.0,258.9 L323.6,258.8 L324.0,258.8 L324.1,258.7 L324.7,258.6 L325.3,258.5 L325.8,258.4 L326.4,258.3 L326.9,258.2 L327.5,258.1 L328.0,258.0 L328.1,258.0 L328.6,257.9 L329.2,257.7 L329.8,257.6 L330.3,257.5 L330.9,257.4 L331.4,257.2 L332.0,257.1 L332.0,257.1 L332.6,257.0 L333.1,256.8 L333.7,256.7 L334.2,256.6 L334.8,256.4 L335.4,256.3 L335.9,256.1 L336.0,256.1 L336.5,256.0 L337.1,255.8 L337.6,255.7 L338.2,255.5 L338.7,255.3 L340.0,255.0 L344.0,253.7 L348.0,252.2 L352.0,250.5 L356.0,248.6 L360.0,246.4 L364.0,244.0 L368.0,241.3 L372.0,238.3 L376.0,234.9 L380.0,231.2 L384.0,227.0 L388.0,222.5 L392.0,217.6 L396.0,212.2 L400.0,206.5 L404.0,200.3 L408.0,193.8 L412.0,187.0 L416.0,179.9 L420.0,172.6 L424.0,165.1 L428.0,157.5 L432.0,149.9 L436.0,142.4 L440.0,135.0 L444.0,127.9 L448.0,120.9 L452.0,114.3 L456.0,108.1 L460.0,102.2 L464.0,96.8 L468.0,91.8 L472.0,87.1 L476.0,82.9 L480.0,79.1 L484.0,75.6 L488.0,72.5 L492.0,69.7 L496.0,67.2 L500.0,65.0 L504.0,63.0 L508.0,61.3 L512.0,59.7 L516.0,58.4 L520.0,57.2 L524.0,56.1 L528.0,55.2 L532.0,54.4 L536.0,53.7 L540.0,53.1 L544.0,52.6 L548.0,52.1 L552.0,51.7 L556.0,51.4 L560.0,51.1 L564.0,50.8 L568.0,50.6 L572.0,50.3 L576.0,50.2 L580.0,50.0 L584.0,49.9 L588.0,49.8 L592.0,49.7 L596.0,49.6 L600.0,49.5 L604.0,49.4 L608.0,49.4 L612.0,49.3 L616.0,49.3 L620.0,49.2 L624.0,49.2 L628.0,49.2 L632.0,49.2 L636.0,49.1 L640.0,49.1 L644.0,49.1 L648.0,49.1 L652.0,49.1 L656.0,49.1 L660.0,49.1 L664.0,49.1 L668.0,49.0 L672.0,49.0 L676.0,49.0"/>
<path stroke="#fa7676" d="M92.0,263.1 L96.0,263.0 L100.0,262.9 L104.0,262.9 L108.0,262.8 L112.0,262.7 L116.0,262.6 L120.0,262.5 L124.0,262.4 L128.0,262.3 L132.0,262.2 L136.0,262.1 L140.0,262.0 L144.0,261.8 L148.0,261.7 L152.0,261.5 L156.0,261.3 L160.0,261.2 L164.0,261.0 L168.0,260.8 L172.0,260.5 L176.0,260.3 L180.0,260.1 L184.0,259.8 L188.0,259.5 L192.0,259.2 L196.0,258.9 L200.0,258.5 L204.0,258.2 L208.0,257.8 L212.0,257.4 L216.0,256.9 L220.0,256.5 L224.0,256.0 L228.0,255.4 L232.0,254.9 L236.0,254.3 L240.0,253.6 L244.0,252.9 L248.0,252.2 L252.0,251.5 L256.0,250.7 L260.0,249.8 L264.0,248.9 L268.0,247.9 L272.0,246.9 L276.0,245.8 L280.0,244.7 L284.0,243.5 L288.0,242.2 L292.0,240.9 L296.0,239.5 L300.0,238.0 L304.0,236.4 L308.0,234.8 L312.0,233.1 L316.0,231.3 L316.8,230.9 L317.4,230.6 L318.0,230.4 L318.5,230.1 L319.1,229.8 L319.6,229.6 L320.0,229.4 L320.2,229.3 L320.8,229.0 L321.3,228.8 L321.9,228.5 L322.5,228.2 L323.0,227.9 L323.6,227.6 L324.0,227.4 L324.1,227.4 L324.7,227.1 L325.3,226.8 L325.8,226.5 L326.4,226.2 L326.9,225.9 L327.5,225.6 L328.0,225.4 L328.1,225.3 L328.6,225.0 L329.2,224.7 L329.8,224.4 L330.3,224.1 L330.9,223.8 L331.4,223.5 L332.0,223.2 L332.0,223.2 L332.6,222.9 L333.1,222.6 L333.7,222.3 L334.2,222.0 L334.8,221.6 L335.4,221.3 L335.9,221.0 L336.0,221.0 L336.5,220.7 L337.1,220.4 L337.6,220.0 L338.2,219.7 L338.7,219.4 L340.0,218.6 L344.0,216.2 L348.0,213.7 L352.0,211.1 L356.0,208.4 L360.0,205.6 L364.0,202.7 L368.0,199.8 L372.0,196.7 L376.0,193.6 L380.0,190.4 L384.0,187.2 L388.0,183.9 L392.0,180.5 L396.0,177.1 L400.0,173.6 L404.0,170.1 L408.0,166.6 L412.0,163.0 L416.0,159.5 L420.0,155.9 L424.0,152.3 L428.0,148.8 L432.0,145.2 L436.0,141.7 L440.0,138.2 L444.0,134.8 L448.0,131.4 L452.0,128.0 L456.0,124.7 L460.0,121.5 L464.0,118.3 L468.0,115.2 L472.0,112.2 L476.0,109.3 L480.0,106.5 L484.0,103.7 L488.0,101.0 L492.0,98.5 L496.0,96.0 L500.0,93.6 L504.0,91.3 L508.0,89.1 L512.0,86.9 L516.0,84.9 L520.0,83.0 L524.0,81.1 L528.0,79.3 L532.0,77.6 L536.0,76.0 L540.0,74.5 L544.0,73.0 L548.0,71.7 L552.0,70.3 L556.0,69.1 L560.0,67.9 L564.0,66.8 L568.0,65.7 L572.0,64.7 L576.0,63.8 L580.0,62.9 L584.0,62.1 L588.0,61.3 L592.0,60.5 L596.0,59.8 L600.0,59.2 L604.0,58.5 L608.0,57.9 L612.0,57.4 L616.0,56.9 L620.0,56.4 L624.0,55.9 L628.0,55.5 L632.0,55.1 L636.0,54.7 L640.0,54.3 L644.0,54.0 L648.0,53.7 L652.0,53.4 L656.0,53.1 L660.0,52.9 L664.0,52.6 L668.0,52.4 L672.0,52.2 L676.0,52.0"/>
<path stroke="#6ab2fa" d="M92.0,264.0 L96.0,264.0 L100.0,264.0 L104.0,264.0 L108.0,264.0 L112.0,264.0 L116.0,264.0 L120.0,264.0 L124.0,264.0 L128.0,264.0 L132.0,264.0 L136.0,264.0 L140.0,263.9 L144.0,263.9 L148.0,263.9 L152.0,263.9 L156.0,263.9 L160.0,263.9 L164.0,263.9 L168.0,263.9 L172.0,263.9 L176.0,263.8 L180.0,263.8 L184.0,263.8 L188.0,263.8 L192.0,263.8 L196.0,263.7 L200.0,263.7 L204.0,263.7 L208.0,263.6 L212.0,263.6 L216.0,263.5 L220.0,263.5 L224.0,263.4 L228.0,263.3 L232.0,263.3 L236.0,263.2 L240.0,263.1 L244.0,263.0 L248.0,262.8 L252.0,262.7 L256.0,262.5 L260.0,262.4 L264.0,262.2 L268.0,262.0 L272.0,261.7 L276.0,261.5 L280.0,261.2 L284.0,260.8 L288.0,260.5 L292.0,260.0 L296.0,259.6 L300.0,259.1 L304.0,258.5 L308.0,257.8 L312.0,257.1 L316.0,256.3 L316.8,256.2 L317.4,256.1 L318.0,255.9 L318.5,255.8 L319.1,255.7 L319.6,255.6 L320.0,255.5 L320.2,255.4 L320.8,255.3 L321.3,255.2 L321.9,255.0 L322.5,254.9 L323.0,254.7 L323.6,254.6 L324.0,254.5 L324.1,254.5 L324.7,254.3 L325.3,254.2 L325.8,254.0 L326.4,253.9 L326.9,253.7 L327.5,253.6 L328.0,253.4 L328.1,253.4 L328.6,253.2 L329.2,253.1 L329.8,252.9 L330.3,252.7 L330.9,252.6 L331.4,252.4 L332.0,252.2 L332.0,252.2 L332.6,252.0 L333.1,251.9 L333.7,251.7 L334.2,251.5 L334.8,251.3 L335.4,251.1 L335.9,250.9 L336.0,250.9 L336.5,250.7 L337.1,250.5 L337.6,250.3 L338.2,250.1 L338.7,249.9 L340.0,249.4 L344.0,247.8 L348.0,246.1 L352.0,244.1 L356.0,242.0 L360.0,239.7 L364.0,237.1 L368.0,234.4 L372.0,231.4 L376.0,228.1 L380.0,224.6 L384.0,220.9 L388.0,216.9 L392.0,212.6 L396.0,208.0 L400.0,203.2 L404.0,198.2 L408.0,193.0 L412.0,187.5 L416.0,181.9 L420.0,176.1 L424.0,170.1 L428.0,164.1 L432.0,158.1 L436.0,152.0 L440.0,146.0 L444.0,140.0 L448.0,134.2 L452.0,128.5 L456.0,122.9 L460.0,117.5 L464.0,112.4 L468.0,107.5 L472.0,102.8 L476.0,98.4 L480.0,94.2 L484.0,90.3 L488.0,86.7 L492.0,83.3 L496.0,80.2 L500.0,77.3 L504.0,74.6 L508.0,72.2 L512.0,70.0 L516.0,67.9 L520.0,66.1 L524.0,64.4 L528.0,62.8 L532.0,61.5 L536.0,60.2 L540.0,59.1 L544.0,58.0 L548.0,57.1 L552.0,56.3 L556.0,55.5 L560.0,54.8 L564.0,54.2 L568.0,53.7 L572.0,53.2 L576.0,52.8 L580.0,52.4 L584.0,52.0 L588.0,51.7 L592.0,51.4 L596.0,51.2 L600.0,50.9 L604.0,50.7 L608.0,50.5 L612.0,50.4 L616.0,50.2 L620.0,50.1 L624.0,50.0 L628.0,49.9 L632.0,49.8 L636.0,49.7 L640.0,49.6 L644.0,49.6 L648.0,49.5 L652.0,49.4 L656.0,49.4 L660.0,49.4 L664.0,49.3 L668.0,49.3 L672.0,49.3 L676.0,49.2"/>
<path stroke="#fa7676" d="M92.0,264.0 L96.0,264.0 L100.0,264.0 L104.0,264.0 L108.0,264.0 L112.0,263.9 L116.0,263.9 L120.0,263.9 L124.0,263.9 L128.0,263.9 L132.0,263.9 L136.0,263.9 L140.0,263.9 L144.0,263.9 L148.0,263.9 L152.0,263.9 L156.0,263.8 L160.0,263.8 L164.0,263.8 L168.0,263.8 L172.0,263.7 L176.0,263.7 L180.0,263.7 L184.0,263.7 L188.0,263.6 L192.0,263.6 L196.0,263.5 L200.0,263.5 L204.0,263.4 L208.0,263.4 L212.0,263.3 L216.0,263.2 L220.0,263.1 L224.0,263.0 L228.0,262.9 L232.0,262.8 L236.0,262.7 L240.0,262.5 L244.0,262.3 L248.0,262.2 L252.0,262.0 L256.0,261.7 L260.0,261.5 L264.0,261.2 L268.0,260.9 L272.0,260.6 L276.0,260.2 L280.0,259.8 L284.0,259.3 L288.0,258.8 L292.0,258.2 L296.0,257.6 L300.0,256.9 L304.0,256.2 L308.0,255.3 L312.0,254.4 L316.0,253.4 L316.8,253.2 L317.4,253.0 L318.0,252.9 L318.5,252.7 L319.1,252.6 L319.6,252.4 L320.0,252.3 L320.2,252.2 L320.8,252.1 L321.3,251.9 L321.9,251.7 L322.5,251.6 L323.0,251.4 L323.6,251.2 L324.0,251.1 L324.1,251.0 L324.7,250.9 L325.3,250.7 L325.8,250.5 L326.4,250.3 L326.9,250.1 L327.5,249.9 L328.0,249.7 L328.1,249.7 L328.6,249.5 L329.2,249.3 L329.8,249.1 L330.3,248.9 L330.9,248.7 L331.4,248.5 L332.0,248.3 L332.0,248.3 L332.6,248.1 L333.1,247.8 L333.7,247.6 L334.2,247.4 L334.8,247.2 L335.4,246.9 L335.9,246.7 L336.0,246.7 L336.5,246.5 L337.1,246.2 L337.6,246.0 L338.2,245.7 L338.7,245.5 L340.0,244.9 L344.0,243.0 L348.0,240.9 L352.0,238.6 L356.0,236.2 L360.0,233.5 L364.0,230.7 L368.0,227.6 L372.0,224.3 L376.0,220.8 L380.0,217.0 L384.0,213.0 L388.0,208.8 L392.0,204.4 L396.0,199.8 L400.0,194.9 L404.0,189.9 L408.0,184.7 L412.0,179.3 L416.0,173.9 L420.0,168.3 L424.0,162.7 L428.0,157.0 L432.0,151.4 L436.0,145.8 L440.0,140.2 L444.0,134.7 L448.0,129.3 L452.0,124.1 L456.0,119.0 L460.0,114.2 L464.0,109.5 L468.0,105.0 L472.0,100.7 L476.0,96.7 L480.0,92.9 L484.0,89.4 L488.0,86.0 L492.0,82.9 L496.0,80.0 L500.0,77.3 L504.0,74.8 L508.0,72.5 L512.0,70.4 L516.0,68.4 L520.0,66.7 L524.0,65.0 L528.0,63.5 L532.0,62.2 L536.0,60.9 L540.0,59.8 L544.0,58.8 L548.0,57.8 L552.0,57.0 L556.0,56.2 L560.0,55.5 L564.0,54.9 L568.0,54.3 L572.0,53.8 L576.0,53.3 L580.0,52.9 L584.0,52.5 L588.0,52.2 L592.0,51.8 L596.0,51.6 L600.0,51.3 L604.0,51.1 L608.0,50.9 L612.0,50.7 L616.0,50.5 L620.0,50.4 L624.0,50.2 L628.0,50.1 L632.0,50.0 L636.0,49.9 L640.0,49.8 L644.0,49.7 L648.0,49.7 L652.0,49.6 L656.0,49.5 L660.0,49.5 L664.0,49.4 L668.0,49.4 L672.0,49.4 L676.0,49.3"/>
<path stroke="#6ab2fa" d="M92.0,264.0 L96.0,264.0 L100.0,264.0 L104.0,264.0 L108.0,264.0 L112.0,264.0 L116.0,264.0 L120.0,264.0 L124.0,264.0 L128.0,264.0 L132.0,264.0 L136.0,264.0 L140.0,264.0 L144.0,264.0 L148.0,264.0 L152.0,264.0 L156.0,264.0 L160.0,264.0 L164.0,264.0 L168.0,264.0 L172.0,264.0 L176.0,264.0 L180.0,264.0 L184.0,264.0 L188.0,264.0 L192.0,263.9 L196.0,263.9 L200.0,263.9 L204.0,263.9 L208.0,263.9 L212.0,263.9 L216.0,263.9 L220.0,263.9 L224.0,263.8 L228.0,263.8 L232.0,263.8 L236.0,263.8 L240.0,263.7 L244.0,263.7 L248.0,263.7 L252.0,263.6 L256.0,263.6 L260.0,263.5 L264.0,263.4 L268.0,263.3 L272.0,263.3 L276.0,263.1 L280.0,263.0 L284.0,262.9 L288.0,262.7 L292.0,262.5 L296.0,262.3 L300.0,262.1 L304.0,261.8 L308.0,261.5 L312.0,261.2 L316.0,260.8 L316.8,260.7 L317.4,260.6 L318.0,260.6 L318.5,260.5 L319.1,260.4 L319.6,260.4 L320.0,260.3 L320.2,260.3 L320.8,260.2 L321.3,260.2 L321.9,260.1 L322.5,260.0 L323.0,260.0 L323.6,259.9 L324.0,259.8 L324.1,259.8 L324.7,259.7 L325.3,259.6 L325.8,259.6 L326.4,259.5 L326.9,259.4 L327.5,259.3 L328.0,259.2 L328.1,259.2 L328.6,259.1 L329.2,259.1 L329.8,259.0 L330.3,258.9 L330.9,258.8 L331.4,258.7 L332.0,258.6 L332.0,258.6 L332.6,258.5 L333.1,258.4 L333.7,258.3 L334.2,258.2 L334.8,258.1 L335.4,257.9 L335.9,257.8 L336.0,257.8 L336.5,257.7 L337.1,257.6 L337.6,257.5 L338.2,257.4 L338.7,257.3 L340.0,257.0 L344.0,256.0 L348.0,254.9 L352.0,253.7 L356.0,252.3 L360.0,250.7 L364.0,248.9 L368.0,246.9 L372.0,244.7 L376.0,242.2 L380.0,239.5 L384.0,236.4 L388.0,233.1 L392.0,229.4 L396.0,225.3 L400.0,220.9 L404.0,216.1 L408.0,210.9 L412.0,205.4 L416.0,199.5 L420.0,193.3 L424.0,186.9 L428.0,180.1 L432.0,173.2 L436.0,166.1 L440.0,159.0 L444.0,151.8 L448.0,144.7 L452.0,137.6 L456.0,130.8 L460.0,124.1 L464.0,117.7 L468.0,111.6 L472.0,105.9 L476.0,100.4 L480.0,95.4 L484.0,90.7 L488.0,86.4 L492.0,82.5 L496.0,78.8 L500.0,75.6 L504.0,72.6 L508.0,70.0 L512.0,67.6 L516.0,65.4 L520.0,63.5 L524.0,61.8 L528.0,60.3 L532.0,58.9 L536.0,57.7 L540.0,56.7 L544.0,55.8 L548.0,54.9 L552.0,54.2 L556.0,53.6 L560.0,53.0 L564.0,52.5 L568.0,52.1 L572.0,51.7 L576.0,51.4 L580.0,51.1 L584.0,50.8 L588.0,50.6 L592.0,50.4 L596.0,50.2 L600.0,50.1 L604.0,49.9 L608.0,49.8 L612.0,49.7 L616.0,49.6 L620.0,49.5 L624.0,49.5 L628.0,49.4 L632.0,49.4 L636.0,49.3 L640.0,49.3 L644.0,49.2 L648.0,49.2 L652.0,49.2 L656.0,49.2 L660.0,49.1 L664.0,49.1 L668.0,49.1 L672.0,49.1 L676.0,49.1"/>
<path stroke="#fa7676" d="M92.0,264.0 L96.0,264.0 L100.0,264.0 L104.0,264.0 L108.0,264.0 L112.0,264.0 L116.0,264.0 L120.0,264.0 L124.0,264.0 L128.0,264.0 L132.0,264.0 L136.0,264.0 L140.0,264.0 L144.0,264.0 L148.0,264.0 L152.0,264.0 L156.0,264.0 L160.0,264.0 L164.0,263.9 L168.0,263.9 L172.0,263.9 L176.0,263.9 L180.0,263.9 L184.0,263.9 L188.0,263.9 L192.0,263.9 L196.0,263.9 L200.0,263.8 L204.0,263.8 L208.0,263.8 L212.0,263.8 L216.0,263.7 L220.0,263.7 L224.0,263.7 L228.0,263.6 L232.0,263.6 L236.0,263.5 L240.0,263.5 L244.0,263.4 L248.0,263.3 L252.0,263.2 L256.0,263.1 L260.0,263.0 L264.0,262.9 L268.0,262.7 L272.0,262.5 L276.0,262.4 L280.0,262.1 L284.0,261.9 L288.0,261.6 L292.0,261.3 L296.0,261.0 L300.0,260.6 L304.0,260.1 L308.0,259.6 L312.0,259.1 L316.0,258.4 L316.8,258.3 L317.4,258.2 L318.0,258.1 L318.5,258.0 L319.1,257.9 L319.6,257.8 L320.0,257.7 L320.2,257.7 L320.8,257.6 L321.3,257.5 L321.9,257.4 L322.5,257.2 L323.0,257.1 L323.6,257.0 L324.0,256.9 L324.1,256.9 L324.7,256.8 L325.3,256.6 L325.8,256.5 L326.4,256.4 L326.9,256.3 L327.5,256.1 L328.0,256.0 L328.1,256.0 L328.6,255.9 L329.2,255.7 L329.8,255.6 L330.3,255.5 L330.9,255.3 L331.4,255.2 L332.0,255.0 L332.0,255.0 L332.6,254.9 L333.1,254.7 L333.7,254.6 L334.2,254.4 L334.8,254.2 L335.4,254.1 L335.9,253.9 L336.0,253.9 L336.5,253.7 L337.1,253.6 L337.6,253.4 L338.2,253.2 L338.7,253.0 L340.0,252.6 L344.0,251.2 L348.0,249.6 L352.0,247.9 L356.0,245.9 L360.0,243.8 L364.0,241.4 L368.0,238.7 L372.0,235.8 L376.0,232.7 L380.0,229.2 L384.0,225.4 L388.0,221.3 L392.0,216.9 L396.0,212.2 L400.0,207.2 L404.0,201.9 L408.0,196.3 L412.0,190.4 L416.0,184.3 L420.0,178.0 L424.0,171.5 L428.0,164.9 L432.0,158.3 L436.0,151.6 L440.0,145.0 L444.0,138.4 L448.0,132.0 L452.0,125.8 L456.0,119.8 L460.0,114.1 L464.0,108.6 L468.0,103.4 L472.0,98.5 L476.0,93.9 L480.0,89.7 L484.0,85.8 L488.0,82.1 L492.0,78.8 L496.0,75.8 L500.0,73.0 L504.0,70.5 L508.0,68.2 L512.0,66.1 L516.0,64.3 L520.0,62.6 L524.0,61.1 L528.0,59.8 L532.0,58.6 L536.0,57.5 L540.0,56.5 L544.0,55.7 L548.0,54.9 L552.0,54.3 L556.0,53.7 L560.0,53.1 L564.0,52.7 L568.0,52.2 L572.0,51.9 L576.0,51.5 L580.0,51.2 L584.0,51.0 L588.0,50.8 L592.0,50.5 L596.0,50.4 L600.0,50.2 L604.0,50.1 L608.0,49.9 L612.0,49.8 L616.0,49.7 L620.0,49.7 L624.0,49.6 L628.0,49.5 L632.0,49.5 L636.0,49.4 L640.0,49.4 L644.0,49.3 L648.0,49.3 L652.0,49.2 L656.0,49.2 L660.0,49.2 L664.0,49.2 L668.0,49.1 L672.0,49.1 L676.0,49.1"/>
<path stroke="#6ab2fa" d="M92.0,264.0 L96.0,264.0 L100.0,264.0 L104.0,264.0 L108.0,264.0 L112.0,264.0 L116.0,264.0 L120.0,264.0 L124.0,264.0 L128.0,264.0 L132.0,263.9 L136.0,263.9 L140.0,263.9 L144.0,263.9 L148.0,263.9 L152.0,263.9 L156.0,263.9 L160.0,263.9 L164.0,263.9 L168.0,263.9 L172.0,263.8 L176.0,263.8 L180.0,263.8 L184.0,263.8 L188.0,263.8 L192.0,263.7 L196.0,263.7 L200.0,263.7 L204.0,263.6 L208.0,263.6 L212.0,263.6 L216.0,263.5 L220.0,263.5 L224.0,263.4 L228.0,263.3 L232.0,263.3 L236.0,263.2 L240.0,263.1 L244.0,263.0 L248.0,262.9 L252.0,262.7 L256.0,262.6 L260.0,262.4 L264.0,262.3 L268.0,262.1 L272.0,261.9 L276.0,261.6 L280.0,261.4 L284.0,261.1 L288.0,260.8 L292.0,260.4 L296.0,260.0 L300.0,259.6 L304.0,259.1 L308.0,258.6 L312.0,258.0 L316.0,257.4 L316.8,257.2 L317.4,257.1 L318.0,257.0 L318.5,256.9 L319.1,256.8 L319.6,256.7 L320.0,256.6 L320.2,256.6 L320.8,256.5 L321.3,256.4 L321.9,256.3 L322.5,256.2 L323.0,256.1 L323.6,255.9 L324.0,255.9 L324.1,255.8 L324.7,255.7 L325.3,255.6 L325.8,255.5 L326.4,255.3 L326.9,255.2 L327.5,255.1 L328.0,255.0 L328.1,255.0 L328.6,254.8 L329.2,254.7 L329.8,254.6 L330.3,254.4 L330.9,254.3 L331.4,254.2 L332.0,254.0 L332.0,254.0 L332.6,253.9 L333.1,253.7 L333.7,253.6 L334.2,253.5 L334.8,253.3 L335.4,253.2 L335.9,253.0 L336.0,253.0 L336.5,252.8 L337.1,252.7 L337.6,252.5 L338.2,252.4 L338.7,252.2 L340.0,251.8 L344.0,250.6 L348.0,249.2 L352.0,247.6 L356.0,246.0 L360.0,244.2 L364.0,242.2 L368.0,240.0 L372.0,237.7 L376.0,235.2 L380.0,232.4 L384.0,229.5 L388.0,226.3 L392.0,222.9 L396.0,219.3 L400.0,215.5 L404.0,211.4 L408.0,207.1 L412.0,202.6 L416.0,197.8 L420.0,192.9 L424.0,187.8 L428.0,182.6 L432.0,177.2 L436.0,171.7 L440.0,166.1 L444.0,160.4 L448.0,154.8 L452.0,149.1 L456.0,143.5 L460.0,138.0 L464.0,132.5 L468.0,127.2 L472.0,122.0 L476.0,117.1 L480.0,112.3 L484.0,107.7 L488.0,103.3 L492.0,99.1 L496.0,95.2 L500.0,91.5 L504.0,88.0 L508.0,84.7 L512.0,81.7 L516.0,78.9 L520.0,76.3 L524.0,73.9 L528.0,71.6 L532.0,69.6 L536.0,67.7 L540.0,66.0 L544.0,64.4 L548.0,63.0 L552.0,61.7 L556.0,60.5 L560.0,59.4 L564.0,58.4 L568.0,57.5 L572.0,56.7 L576.0,55.9 L580.0,55.2 L584.0,54.6 L588.0,54.1 L592.0,53.6 L596.0,53.1 L600.0,52.7 L604.0,52.4 L608.0,52.0 L612.0,51.7 L616.0,51.5 L620.0,51.2 L624.0,51.0 L628.0,50.8 L632.0,50.6 L636.0,50.5 L640.0,50.3 L644.0,50.2 L648.0,50.1 L652.0,50.0 L656.0,49.9 L660.0,49.8 L664.0,49.7 L668.0,49.6 L672.0,49.6 L676.0,49.5"/>
<path stroke="#fa7676" d="M92.0,263.8 L96.0,263.8 L100.0,263.7 L104.0,263.7 L108.0,263.7 L112.0,263.7 L116.0,263.6 L120.0,263.6 L124.0,263.6 L128.0,263.6 L132.0,263.5 L136.0,263.5 L140.0,263.4 L144.0,263.4 L148.0,263.3 L152.0,263.3 L156.0,263.2 L160.0,263.2 L164.0,263.1 L168.0,263.0 L172.0,263.0 L176.0,262.9 L180.0,262.8 L184.0,262.7 L188.0,262.6 L192.0,262.5 L196.0,262.4 L200.0,262.2 L204.0,262.1 L208.0,261.9 L212.0,261.8 L216.0,261.6 L220.0,261.4 L224.0,261.2 L228.0,261.0 L232.0,260.7 L236.0,260.5 L240.0,260.2 L244.0,259.9 L248.0,259.6 L252.0,259.2 L256.0,258.8 L260.0,258.4 L264.0,258.0 L268.0,257.5 L272.0,257.0 L276.0,256.5 L280.0,255.9 L284.0,255.3 L288.0,254.6 L292.0,253.9 L296.0,253.1 L300.0,252.3 L304.0,251.4 L308.0,250.5 L312.0,249.5 L316.0,248.4 L316.8,248.2 L317.4,248.0 L318.0,247.9 L318.5,247.7 L319.1,247.5 L319.6,247.4 L320.0,247.3 L320.2,247.2 L320.8,247.0 L321.3,246.9 L321.9,246.7 L322.5,246.5 L323.0,246.3 L323.6,246.2 L324.0,246.0 L324.1,246.0 L324.7,245.8 L325.3,245.6 L325.8,245.4 L326.4,245.3 L326.9,245.1 L327.5,244.9 L328.0,244.7 L328.1,244.7 L328.6,244.5 L329.2,244.3 L329.8,244.1 L330.3,243.9 L330.9,243.7 L331.4,243.5 L332.0,243.3 L332.0,243.3 L332.6,243.1 L333.1,242.9 L333.7,242.7 L334.2,242.5 L334.8,242.3 L335.4,242.1 L335.9,241.8 L336.0,241.8 L336.5,241.6 L337.1,241.4 L337.6,241.2 L338.2,241.0 L338.7,240.7 L340.0,240.2 L344.0,238.6 L348.0,236.8 L352.0,234.9 L356.0,232.9 L360.0,230.8 L364.0,228.6 L368.0,226.2 L372.0,223.7 L376.0,221.2 L380.0,218.5 L384.0,215.6 L388.0,212.7 L392.0,209.6 L396.0,206.4 L400.0,203.1 L404.0,199.7 L408.0,196.1 L412.0,192.5 L416.0,188.8 L420.0,184.9 L424.0,181.0 L428.0,177.1 L432.0,173.1 L436.0,169.0 L440.0,164.9 L444.0,160.7 L448.0,156.6 L452.0,152.5 L456.0,148.3 L460.0,144.2 L464.0,140.1 L468.0,136.1 L472.0,132.1 L476.0,128.2 L480.0,124.4 L484.0,120.7 L488.0,117.0 L492.0,113.5 L496.0,110.1 L500.0,106.8 L504.0,103.6 L508.0,100.5 L512.0,97.5 L516.0,94.7 L520.0,92.0 L524.0,89.4 L528.0,86.9 L532.0,84.6 L536.0,82.3 L540.0,80.2 L544.0,78.2 L548.0,76.3 L552.0,74.5 L556.0,72.8 L560.0,71.2 L564.0,69.8 L568.0,68.4 L572.0,67.0 L576.0,65.8 L580.0,64.6 L584.0,63.6 L588.0,62.5 L592.0,61.6 L596.0,60.7 L600.0,59.9 L604.0,59.1 L608.0,58.4 L612.0,57.7 L616.0,57.1 L620.0,56.5 L624.0,56.0 L628.0,55.5 L632.0,55.0 L636.0,54.6 L640.0,54.2 L644.0,53.8 L648.0,53.4 L652.0,53.1 L656.0,52.8 L660.0,52.5 L664.0,52.3 L668.0,52.0 L672.0,51.8 L676.0,51.6"/>
<path stroke="#fa7676" d="M92.0,264.0 L96.0,264.0 L100.0,264.0 L104.0,264.0 L108.0,264.0 L112.0,264.0 L116.0,264.0 L120.0,264.0 L124.0,264.0 L128.0,264.0 L132.0,264.0 L136.0,264.0 L140.0,264.0 L144.0,264.0 L148.0,264.0 L152.0,264.0 L156.0,264.0 L160.0,264.0 L164.0,264.0 L168.0,264.0 L172.0,264.0 L176.0,264.0 L180.0,264.0 L184.0,264.0 L188.0,264.0 L192.0,264.0 L196.0,264.0 L200.0,264.0 L204.0,264.0 L208.0,264.0 L212.0,264.0 L216.0,264.0 L220.0,264.0 L224.0,264.0 L228.0,264.0 L232.0,264.0 L236.0,264.0 L240.0,264.0 L244.0,264.0 L248.0,264.0 L252.0,264.0 L256.0,264.0 L260.0,264.0 L264.0,264.0 L268.0,264.0 L272.0,264.0 L276.0,264.0 L280.0,264.0 L284.0,264.0 L288.0,264.0 L292.0,264.0 L296.0,264.0 L300.0,264.0 L304.0,264.0 L308.0,264.0 L312.0,264.0 L316.0,263.5 L316.8,263.3 L317.4,263.0 L318.0,262.6 L318.5,262.1 L319.1,261.4 L319.6,260.4 L320.0,259.6 L320.2,259.0 L320.8,257.2 L321.3,254.8 L321.9,251.5 L322.5,247.1 L323.0,241.4 L323.6,234.0 L324.0,227.3 L324.1,224.8 L324.7,213.4 L325.3,200.0 L325.8,184.8 L326.4,168.2 L326.9,151.0 L327.5,134.1 L328.0,120.2 L328.1,118.3 L328.6,104.2 L329.2,92.1 L329.8,82.1 L330.3,74.1 L330.9,67.8 L331.4,63.0 L332.0,59.3 L332.0,59.3 L332.6,56.6 L333.1,54.6 L333.7,53.1 L334.2,52.0 L334.8,51.2 L335.4,50.6 L335.9,50.1 L336.0,50.1 L336.5,49.8 L337.1,49.6 L337.6,49.4 L338.2,49.3 L338.7,49.2 L340.0,49.1 L344.0,49.0 L348.0,49.0 L352.0,49.0 L356.0,49.0 L360.0,49.0 L364.0,49.0 L368.0,49.0 L372.0,49.0 L376.0,49.0 L380.0,49.0 L384.0,49.0 L388.0,49.0 L392.0,49.0 L396.0,49.0 L400.0,49.0 L404.0,49.0 L408.0,49.0 L412.0,49.0 L416.0,49.0 L420.0,49.0 L424.0,49.0 L428.0,49.0 L432.0,49.0 L436.0,49.0 L440.0,49.0 L444.0,49.0 L448.0,49.0 L452.0,49.0 L456.0,49.0 L460.0,49.0 L464.0,49.0 L468.0,49.0 L472.0,49.0 L476.0,49.0 L480.0,49.0 L484.0,49.0 L488.0,49.0 L492.0,49.0 L496.0,49.0 L500.0,49.0 L504.0,49.0 L508.0,49.0 L512.0,49.0 L516.0,49.0 L520.0,49.0 L524.0,49.0 L528.0,49.0 L532.0,49.0 L536.0,49.0 L540.0,49.0 L544.0,49.0 L548.0,49.0 L552.0,49.0 L556.0,49.0 L560.0,49.0 L564.0,49.0 L568.0,49.0 L572.0,49.0 L576.0,49.0 L580.0,49.0 L584.0,49.0 L588.0,49.0 L592.0,49.0 L596.0,49.0 L600.0,49.0 L604.0,49.0 L608.0,49.0 L612.0,49.0 L616.0,49.0 L620.0,49.0 L624.0,49.0 L628.0,49.0 L632.0,49.0 L636.0,49.0 L640.0,49.0 L644.0,49.0 L648.0,49.0 L652.0,49.0 L656.0,49.0 L660.0,49.0 L664.0,49.0 L668.0,49.0 L672.0,49.0 L676.0,49.0"/>
</g>
<path fill="none" stroke="#0000ff" stroke-width="4.6" d="M92.0,263.8 L96.0,263.8 L100.0,263.8 L104.0,263.8 L108.0,263.8 L112.0,263.8 L116.0,263.7 L120.0,263.7 L124.0,263.7 L128.0,263.7 L132.0,263.6 L136.0,263.6 L140.0,263.6 L144.0,263.5 L148.0,263.5 L152.0,263.4 L156.0,263.4 L160.0,263.3 L164.0,263.3 L168.0,263.2 L172.0,263.1 L176.0,263.0 L180.0,262.9 L184.0,262.8 L188.0,262.7 L192.0,262.6 L196.0,262.4 L200.0,262.3 L204.0,262.1 L208.0,261.9 L212.0,261.7 L216.0,261.4 L220.0,261.1 L224.0,260.8 L228.0,260.4 L232.0,260.0 L236.0,259.6 L240.0,259.1 L244.0,258.5 L248.0,257.9 L252.0,257.2 L256.0,256.4 L260.0,255.5 L264.0,254.6 L268.0,253.5 L272.0,252.4 L276.0,251.2 L280.0,249.9 L284.0,248.5 L288.0,247.1 L292.0,245.5 L296.0,243.7 L300.0,241.9 L304.0,239.9 L308.0,237.7 L312.0,235.3 L316.0,232.7 L316.8,232.2 L317.4,231.8 L318.0,231.4 L318.5,231.0 L319.1,230.6 L319.6,230.2 L320.0,229.9 L320.2,229.8 L320.8,229.4 L321.3,228.9 L321.9,228.5 L322.5,228.1 L323.0,227.7 L323.6,227.2 L324.0,226.9 L324.1,226.8 L324.7,226.3 L325.3,225.9 L325.8,225.4 L326.4,225.0 L326.9,224.5 L327.5,224.0 L328.0,223.6 L328.1,223.5 L328.6,223.0 L329.2,222.6 L329.8,222.1 L330.3,221.6 L330.9,221.1 L331.4,220.5 L332.0,220.0 L332.0,220.0 L332.6,219.5 L333.1,219.0 L333.7,218.5 L334.2,217.9 L334.8,217.4 L335.4,216.8 L335.9,216.3 L336.0,216.2 L336.5,215.7 L337.1,215.1 L337.6,214.6 L338.2,214.0 L338.7,213.4 L340.0,212.1 L344.0,207.7 L348.0,203.0 L352.0,198.1 L356.0,192.8 L360.0,187.4 L364.0,181.6 L368.0,175.7 L372.0,169.6 L376.0,163.4 L380.0,157.1 L384.0,150.7 L388.0,144.5 L392.0,138.3 L396.0,132.2 L400.0,126.4 L404.0,120.7 L408.0,115.4 L412.0,110.3 L416.0,105.5 L420.0,100.9 L424.0,96.7 L428.0,92.8 L432.0,89.1 L436.0,85.7 L440.0,82.6 L444.0,79.7 L448.0,77.0 L452.0,74.6 L456.0,72.3 L460.0,70.3 L464.0,68.4 L468.0,66.7 L472.0,65.1 L476.0,63.7 L480.0,62.3 L484.0,61.2 L488.0,60.1 L492.0,59.1 L496.0,58.2 L500.0,57.4 L504.0,56.6 L508.0,55.9 L512.0,55.3 L516.0,54.8 L520.0,54.2 L524.0,53.8 L528.0,53.4 L532.0,53.0 L536.0,52.6 L540.0,52.3 L544.0,52.0 L548.0,51.8 L552.0,51.5 L556.0,51.3 L560.0,51.1 L564.0,50.9 L568.0,50.8 L572.0,50.6 L576.0,50.5 L580.0,50.4 L584.0,50.2 L588.0,50.1 L592.0,50.0 L596.0,50.0 L600.0,49.9 L604.0,49.8 L608.0,49.7 L612.0,49.7 L616.0,49.6 L620.0,49.6 L624.0,49.5 L628.0,49.5 L632.0,49.4 L636.0,49.4 L640.0,49.4 L644.0,49.3 L648.0,49.3 L652.0,49.3 L656.0,49.3 L660.0,49.3 L664.0,49.2 L668.0,49.2 L672.0,49.2 L676.0,49.2"/>
<path fill="none" stroke="#ff0000" stroke-width="4.6" d="M92.0,263.6 L96.0,263.5 L100.0,263.5 L104.0,263.5 L108.0,263.4 L112.0,263.4 L116.0,263.3 L120.0,263.3 L124.0,263.2 L128.0,263.1 L132.0,263.1 L136.0,263.0 L140.0,262.9 L144.0,262.8 L148.0,262.7 L152.0,262.6 L156.0,262.5 L160.0,262.4 L164.0,262.2 L168.0,262.1 L172.0,261.9 L176.0,261.8 L180.0,261.6 L184.0,261.4 L188.0,261.2 L192.0,260.9 L196.0,260.7 L200.0,260.4 L204.0,260.1 L208.0,259.8 L212.0,259.5 L216.0,259.1 L220.0,258.7 L224.0,258.2 L228.0,257.8 L232.0,257.3 L236.0,256.7 L240.0,256.1 L244.0,255.5 L248.0,254.8 L252.0,254.1 L256.0,253.3 L260.0,252.4 L264.0,251.5 L268.0,250.5 L272.0,249.4 L276.0,248.2 L280.0,247.0 L284.0,245.6 L288.0,244.1 L292.0,242.4 L296.0,240.7 L300.0,238.8 L304.0,236.7 L308.0,234.5 L312.0,232.2 L316.0,229.6 L316.8,229.0 L317.4,228.6 L318.0,228.2 L318.5,227.9 L319.1,227.4 L319.6,227.0 L320.0,226.8 L320.2,226.6 L320.8,226.2 L321.3,225.7 L321.9,225.3 L322.5,224.8 L323.0,224.2 L323.6,223.7 L324.0,223.2 L324.1,223.1 L324.7,222.4 L325.3,221.8 L325.8,221.0 L326.4,220.3 L326.9,219.5 L327.5,218.8 L328.0,218.1 L328.1,218.0 L328.6,217.3 L329.2,216.6 L329.8,216.0 L330.3,215.3 L330.9,214.8 L331.4,214.2 L332.0,213.6 L332.0,213.6 L332.6,213.1 L333.1,212.5 L333.7,212.0 L334.2,211.5 L334.8,211.0 L335.4,210.4 L335.9,209.9 L336.0,209.8 L336.5,209.4 L337.1,208.8 L337.6,208.3 L338.2,207.7 L338.7,207.2 L340.0,205.9 L344.0,201.8 L348.0,197.4 L352.0,192.8 L356.0,187.9 L360.0,182.8 L364.0,177.5 L368.0,172.0 L372.0,166.4 L376.0,160.7 L380.0,155.0 L384.0,149.3 L388.0,143.7 L392.0,138.1 L396.0,132.6 L400.0,127.2 L404.0,122.0 L408.0,117.0 L412.0,112.1 L416.0,107.5 L420.0,103.1 L424.0,99.0 L428.0,95.1 L432.0,91.6 L436.0,88.3 L440.0,85.2 L444.0,82.4 L448.0,79.8 L452.0,77.4 L456.0,75.2 L460.0,73.2 L464.0,71.3 L468.0,69.5 L472.0,67.9 L476.0,66.4 L480.0,65.1 L484.0,63.8 L488.0,62.6 L492.0,61.5 L496.0,60.5 L500.0,59.6 L504.0,58.7 L508.0,58.0 L512.0,57.2 L516.0,56.6 L520.0,56.0 L524.0,55.4 L528.0,54.9 L532.0,54.4 L536.0,54.0 L540.0,53.6 L544.0,53.2 L548.0,52.9 L552.0,52.6 L556.0,52.3 L560.0,52.0 L564.0,51.8 L568.0,51.6 L572.0,51.4 L576.0,51.2 L580.0,51.0 L584.0,50.9 L588.0,50.7 L592.0,50.6 L596.0,50.5 L600.0,50.4 L604.0,50.3 L608.0,50.2 L612.0,50.1 L616.0,50.0 L620.0,49.9 L624.0,49.8 L628.0,49.8 L632.0,49.7 L636.0,49.7 L640.0,49.6 L644.0,49.6 L648.0,49.5 L652.0,49.5 L656.0,49.5 L660.0,49.4 L664.0,49.4 L668.0,49.4 L672.0,49.3 L676.0,49.3"/>
<g fill="#000">
<rect x="82" y="48.0" width="2" height="217.0"/>
<rect x="82" y="263.0" width="7" height="2"/>
<rect x="82" y="209.2" width="7" height="2"/>
<rect x="82" y="155.5" width="7" height="2"/>
<rect x="82" y="101.8" width="7" height="2"/>
<rect x="82" y="48.0" width="7" height="2"/>
<rect x="91" y="272.5" width="586" height="2"/>
<rect x="91.0" y="267.5" width="2" height="7"/>
<rect x="164.0" y="267.5" width="2" height="7"/>
<rect x="237.0" y="267.5" width="2" height="7"/>
<rect x="310.0" y="267.5" width="2" height="7"/>
<rect x="383.0" y="267.5" width="2" height="7"/>
<rect x="456.0" y="267.5" width="2" height="7"/>
<rect x="529.0" y="267.5" width="2" height="7"/>
<rect x="602.0" y="267.5" width="2" height="7"/>
<rect x="675.0" y="267.5" width="2" height="7"/>
</g>
<line x1="90.4" x2="677.6" y1="566.4" y2="566.4" stroke="#b0b0b0" stroke-width="0.8" stroke-dasharray="3.15,0.5"/>
<path fill="#000" stroke="#4a4a4a" stroke-width="0.4" d="M261.92,566.5V564.0h3.25V566.5zM265.57,566.5V562.9h3.25V566.5zM269.22,566.5V561.6h3.25V566.5zM272.88,566.5V560.1h3.25V566.5zM276.52,566.5V559.3h3.25V566.5zM280.17,566.5V560.6h3.25V566.5zM283.82,566.5V556.3h3.25V566.5zM287.47,566.5V554.7h3.25V566.5zM291.12,566.5V554.0h3.25V566.5zM294.77,566.5V552.2h3.25V566.5zM298.42,566.5V545.4h3.25V566.5zM302.07,566.5V542.3h3.25V566.5zM305.72,566.5V537.9h3.25V566.5zM309.38,566.5V535.6h3.25V566.5zM313.02,566.5V527.6h3.25V566.5zM316.67,566.5V524.7h3.25V566.5zM320.32,566.5V515.9h3.25V566.5zM323.97,566.5V513.4h3.25V566.5zM327.62,566.5V501.1h3.25V566.5zM331.27,566.5V492.1h3.25V566.5zM334.92,566.5V487.8h3.25V566.5zM338.57,566.5V473.4h3.25V566.5zM342.22,566.5V462.9h3.25V566.5zM345.88,566.5V458.3h3.25V566.5zM349.52,566.5V448.6h3.25V566.5zM353.18,566.5V450.5h3.25V566.5zM356.82,566.5V425.4h3.25V566.5zM360.47,566.5V422.5h3.25V566.5zM364.12,566.5V409.9h3.25V566.5zM367.77,566.5V402.4h3.25V566.5zM371.43,566.5V389.2h3.25V566.5zM375.07,566.5V392.1h3.25V566.5zM378.72,566.5V375.0h3.25V566.5zM382.38,566.5V372.1h3.25V566.5zM386.02,566.5V364.9h3.25V566.5zM389.68,566.5V360.5h3.25V566.5zM393.32,566.5V349.2h3.25V566.5zM396.97,566.5V357.8h3.25V566.5zM400.62,566.5V362.0h3.25V566.5zM404.27,566.5V352.8h3.25V566.5zM407.93,566.5V360.8h3.25V566.5zM411.57,566.5V364.0h3.25V566.5zM415.22,566.5V369.3h3.25V566.5zM418.88,566.5V366.8h3.25V566.5zM422.52,566.5V374.2h3.25V566.5zM426.18,566.5V387.7h3.25V566.5zM429.82,566.5V397.0h3.25V566.5zM433.47,566.5V397.4h3.25V566.5zM437.12,566.5V411.9h3.25V566.5zM440.77,566.5V411.3h3.25V566.5zM444.43,566.5V436.7h3.25V566.5zM448.07,566.5V440.8h3.25V566.5zM451.72,566.5V460.0h3.25V566.5zM455.38,566.5V462.6h3.25V566.5zM459.02,566.5V473.5h3.25V566.5zM462.68,566.5V477.4h3.25V566.5zM466.32,566.5V493.3h3.25V566.5zM469.97,566.5V497.5h3.25V566.5zM473.62,566.5V501.7h3.25V566.5zM477.27,566.5V516.1h3.25V566.5zM480.93,566.5V517.7h3.25V566.5zM484.57,566.5V525.9h3.25V566.5zM488.22,566.5V532.8h3.25V566.5zM491.88,566.5V538.6h3.25V566.5zM495.52,566.5V541.0h3.25V566.5zM499.18,566.5V543.8h3.25V566.5zM502.82,566.5V547.7h3.25V566.5zM506.47,566.5V548.9h3.25V566.5zM510.12,566.5V554.2h3.25V566.5zM513.77,566.5V554.9h3.25V566.5zM517.43,566.5V558.1h3.25V566.5zM521.08,566.5V556.9h3.25V566.5zM524.73,566.5V559.4h3.25V566.5zM528.38,566.5V560.1h3.25V566.5zM532.02,566.5V562.7h3.25V566.5zM539.33,566.5V563.9h3.25V566.5z"/>
<path fill="#222" d="M203.62,566.5V566.17h3.05V566.5zM207.28,566.5V566.03h3.05V566.5zM210.93,566.5V566.17h3.05V566.5zM214.57,566.5V566.17h3.05V566.5zM218.23,566.5V566.03h3.05V566.5zM221.88,566.5V566.03h3.05V566.5zM225.52,566.5V565.90h3.05V566.5zM229.18,566.5V565.90h3.05V566.5zM232.82,566.5V565.76h3.05V566.5zM236.48,566.5V565.63h3.05V566.5zM240.12,566.5V565.22h3.05V566.5zM243.77,566.5V565.63h3.05V566.5zM247.43,566.5V565.09h3.05V566.5zM251.07,566.5V565.09h3.05V566.5zM254.73,566.5V565.63h3.05V566.5zM258.38,566.5V564.68h3.05V566.5zM535.77,566.5V564.68h3.05V566.5zM543.07,566.5V564.55h3.05V566.5zM546.72,566.5V565.22h3.05V566.5zM550.37,566.5V565.22h3.05V566.5zM554.02,566.5V565.09h3.05V566.5zM557.67,566.5V565.09h3.05V566.5zM561.32,566.5V565.22h3.05V566.5zM564.97,566.5V565.90h3.05V566.5zM568.62,566.5V565.90h3.05V566.5zM572.27,566.5V566.03h3.05V566.5zM575.92,566.5V566.03h3.05V566.5zM579.57,566.5V566.17h3.05V566.5zM583.22,566.5V566.17h3.05V566.5z"/>
<rect x="308.8" y="349" width="2" height="217.5" fill="#808080"/>
<rect x="494" y="349" width="2" height="217.5" fill="#808080"/>
<rect x="383" y="349" width="2" height="217.5" fill="#0e8a0e"/>
<rect x="401.2" y="349" width="2" height="217.5" fill="#ffff00"/>
<g fill="#000">
<rect x="82" y="349.5" width="2" height="217.5"/>
<rect x="82" y="565.0" width="7" height="2"/>
<rect x="82" y="511.1" width="7" height="2"/>
<rect x="82" y="457.2" width="7" height="2"/>
<rect x="82" y="403.4" width="7" height="2"/>
<rect x="82" y="349.5" width="7" height="2"/>
<rect x="91" y="574.0" width="586" height="2"/>
<rect x="91.0" y="569.0" width="2" height="7"/>
<rect x="164.0" y="569.0" width="2" height="7"/>
<rect x="237.0" y="569.0" width="2" height="7"/>
<rect x="310.0" y="569.0" width="2" height="7"/>
<rect x="383.0" y="569.0" width="2" height="7"/>
<rect x="456.0" y="569.0" width="2" height="7"/>
<rect x="529.0" y="569.0" width="2" height="7"/>
<rect x="602.0" y="569.0" width="2" height="7"/>
<rect x="675.0" y="569.0" width="2" height="7"/>
</g>
<rect x="131" y="375.4" width="32" height="2" fill="#ffff00"/>
<rect x="131" y="392.1" width="32" height="2" fill="#808080"/>
<rect x="131" y="408.5" width="32" height="2" fill="#0e8a0e"/>
<g font-family="'Liberation Sans', Arial, Helvetica, sans-serif" fill="#000">
<text x="0.2" y="17.8" font-size="26" font-weight="bold">A</text>
<text x="0.3" y="326.3" font-size="25.3" font-weight="bold">B</text>
<g font-size="12.4" text-anchor="end">
<text x="71" y="268.3">0</text>
<text x="71" y="214.6">25</text>
<text x="71" y="160.8">50</text>
<text x="71" y="107.0">75</text>
<text x="71" y="53.3">100</text>
<text x="71" y="570.3">0</text>
<text x="71" y="516.4">400</text>
<text x="71" y="462.6">800</text>
<text x="71" y="408.7">1200</text>
<text x="71" y="354.8">1600</text>
</g>
<g font-size="12.4" text-anchor="middle">
<text x="91.7" y="289.8">-2</text>
<text x="164.7" y="289.8">-1.5</text>
<text x="237.7" y="289.8">-1</text>
<text x="310.7" y="289.8">-0.5</text>
<text x="384.2" y="289.8">0</text>
<text x="457.6" y="289.8">0.5</text>
<text x="530.6" y="289.8">1</text>
<text x="603.6" y="289.8">1.5</text>
<text x="676.6" y="289.8">2</text>
<text x="91.4" y="591.2">-0.4</text>
<text x="164.4" y="591.2">-0.3</text>
<text x="237.4" y="591.2">-0.2</text>
<text x="310.4" y="591.2">-0.1</text>
<text x="384.2" y="591.2">0</text>
<text x="457.6" y="591.2">0.1</text>
<text x="530.6" y="591.2">0.2</text>
<text x="603.6" y="591.2">0.3</text>
<text x="676.6" y="591.2">0.4</text>
</g>
<g font-size="18.95" text-anchor="middle">
<text x="384" y="318.2">Offset (cm)</text>
<text x="384" y="622.4">Difference between means (cm)</text>
<text transform="translate(27.6,156.5) rotate(-90)">Proportion of right</text>
<text transform="translate(28,458.5) rotate(-90)">Number of samples</text>
</g>
<g font-size="19.3" font-weight="bold">
<text x="138.4" y="68.3" fill="#0000ff">Pre</text>
<text x="138.4" y="87.4" fill="#ff0000">Post</text>
</g>
<g font-size="13.55">
<text x="170.9" y="380.4">Sample mean</text>
<text x="170.9" y="397.2">95% CI</text>
<text x="170.9" y="413.9">H0 mean</text>
</g>
</g>
</svg>
</body></html>
